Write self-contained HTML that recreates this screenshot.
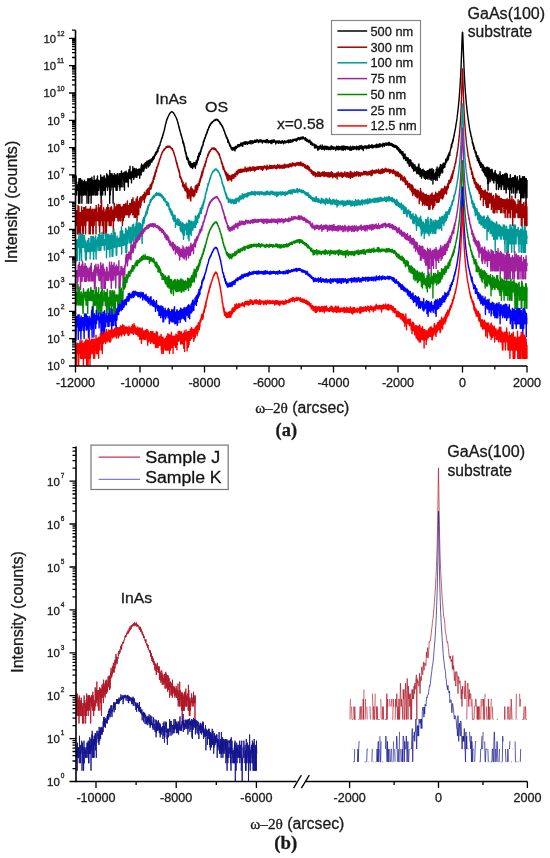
<!DOCTYPE html><html><head><meta charset="utf-8"><title>XRD</title><style>html,body{margin:0;padding:0;background:#fff;}svg{display:block;}text{stroke:#1a1a1a;stroke-width:.3px;}</style></head><body><svg width="550" height="858" viewBox="0 0 550 858">
<rect width="550" height="858" fill="#fff"/>
<defs><clipPath id="ct"><rect x="75.5" y="0" width="452.5" height="366.0"/></clipPath><clipPath id="cbl"><rect x="76.0" y="400" width="220.5" height="381.5"/></clipPath><clipPath id="cbr"><rect x="305.2" y="400" width="223.2" height="381.5"/></clipPath></defs>
<g clip-path="url(#ct)">
<path fill="none" stroke="#000000" stroke-width="1.4" stroke-linejoin="round" d="M75.5 186.9l.1-2.7.1 0 .1 6.1.1 0 .1 0 .1-14.3.1 8.2.1 10.9.1 0 .1-4.8.1 4.8.1-4.8.1 0 .1-3.4.1 0 .1 3.4.1 0 .1-3.4M77.5 184.2l.1 6.1.1-3.4.1 3.4.1-3.4.1 0 .1 0 .1 3.4.1-8.3.1 2.2.1 6.1.1 13 .1-19.1.1 6.1.1-10.1.1-1.6.1 11.7.1 4.8.1-10.9.1 6.1.1-6.1.1 6.1.1 0 .1 13 .1-13 .1 0 .1-6.1.1-5.6.1 5.6.1-5.6.1 5.6M80.7 190.3l.1-6.1.1 0 .1 0 .1 10.9.1 0 .1-14.9.1 10.1.1-6.1.1 0 .1-2.2.1-1.8.1 23.1.1-13 .1-10.1.1 14.9.1-8.2.1 3.4.1 0 .1 0 .1-3.4.1 0 .1 3.4.1-6.1.1 2.7.1 8.2.1 0 .1-13.1.1 0 .1 2.2.1-2.2.1 13.1.1-4.8.1 0 .1-8.3.1 2.2.1 6.1.1-3.4.1-6.7.1 4 .1-2.2.1 4.9.1-4.9.1 2.2.1 0 .1 10.9.1-10.9.1 2.7.1-2.7.1-2.2.1 8.3M85.9 182l.1 8.3.1-6.1.1 0 .1-2.2.1 13.1.1-13.1.1 0 .1 8.3.1 4.8.1-8.2.1 16.4.1-16.4.1 3.4.1-3.4.1-4.9.1 4.9.1 0 .1 3.4.1-11.7.1 11.7.1 0 .1 0 .1-3.4.1 3.4.1-8.3.1 2.2.1 6.1.1 13 .1-19.1.1 6.1.1 0 .1-11.7.1 16.5.1-13.1.1-1.8.1 0 .1 10.1.1-8.3.1 8.3.1 4.8.1-4.8.1-10.1.1 4 .1 2.7.1 3.4.1-11.7.1 0 .1 8.3.1-2.7.1 2.7.1-8.3.1 24.7.1-16.4.1-6.7.1 6.7.1 0 .1 8.2.1-10.9.1 2.7.1-9.7.1 7 .1 0 .1 6.1.1 0 .1-10.1.1 0 .1 6.7.1 0 .1 0 .1 8.2.1-8.2.1 0 .1 8.2.1 0 .1-13.1.1 8.3.1-6.1.1 2.7.1 3.4.1-10.1.1 4 .1-8.2.1 8.2.1-4 .1 10.1.1-6.1.1 2.7.1 3.4.1 0 .1 4.8.1 0 .1-8.2.1 0 .1 8.2.1-4.8.1 4.8.1-14.9.1 0 .1 14.9.1-8.2.1-2.7.1-2.2.1 8.3.1-3.4.1-4.9.1 2.2.1 2.7.1-2.7.1 2.7.1-8.3.1 16.5.1-8.2.1 8.2.1-13.1.1 2.2.1-8.2.1 19.1.1-10.9.1 2.7.1 0 .1 3.4.1-3.4.1-4.9.1 2.2.1-4 .1 4 .1 6.1.1-3.4.1 3.4.1-6.1.1 0 .1 2.7.1-4.9.1 4.9.1-4.9.1 4.9.1 0 .1-2.7.1-2.2.1 4.9.1-6.7.1 6.7.1 0 .1-4.9.1 2.2.1 10.9.1-8.2.1-12 .1 20.2.1-8.2.1-4.9.1 13.1.1 8.2.1-26.1.1 17.9.1-10.9.1 2.7.1 0 .1-4.9.1 2.2.1-2.2.1-1.8.1 10.1.1-6.1.1-7 .1 7 .1 6.1.1 4.8.1-13.1.1 2.2.1-4 .1 0 .1 4 .1-5.6.1 11.7.1-10.1.1 4 .1-4 .1-3 .1 13.1.1-14.3.1 14.3.1-6.1.1-7 .1 7 .1-8.2.1 10.9.1-4.9.1-3.4.1 3.4.1 4.9.1 0 .1-8.3.1 16.5.1-13.1.1 0 .1 2.2.1-5.6.1 1.6.1 1.8.1 2.2.1-4 .1 4 .1-2.2.1 4.9.1-6.7.1 4 .1-10.4.1 3.4.1 0 .1 1.4.1 0 .1 8.3.1-12 .1 7.1.1 8.3.1-8.3.1 2.2.1-8.2.1 2.6.1 1.6.1 4 .1 0 .1-4 .1 6.7.1-2.7.1-4 .1 1.8.1-1.8.1 0 .1 4 .1-2.2.1-3.4.1-3.7.1 12 .1-8.3.1 11.7.1 13 .1-32.9.1 6.8.1 9.7.1-4.9.1-3.4.1 16.5.1-8.2.1-8.3.1 8.3.1-8.3.1-4.8.1 16.5.1-3.4.1-2.7.1-5.6.1 5.6.1 2.7.1-2.7.1-7 .1 7 .1-8.2.1 2.6.1 8.3.1-13.1.1 8.2.1-4.8.1 1.4.1 0 .1 5.6.1 2.7.1-4.9.1 2.2.1-8.2.1 27.3.1-13 .1-10.1.1-4.2.1 2.6.1 0 .1 0 .1 5.6.1-4 .1 6.7.1-4.9.1 4.9.1-13.1.1 8.2.1 4.9.1 0 .1-12 .1 5.3.1 1.8.1-7.1.1 7.1.1-4.8.1 9.7.1-10.9.1 1.2.1 9.7.1-4.9.1-1.8.1-5.3.1 15.4.1-10.1.1 4 .1-8.2.1 4.2.1 1.8.1-4.8.1 3 .1 10.1.1-11.7.1 1.6.1-4.2.1 14.3.1-16.5.1 3.4.1 0 .1 3 .1 4 .1-10.4.1 6.4.1-4.2.1 2.6.1 0 .1 1.6.1-3 .1 7 .1-5.6.1 3.4.1-4.8.1 3 .1 0 .1 0 .1 6.7.1-8.3.1 8.3.1-13.1.1 13.1.1-6.7.1-1.6.1 11.7.1-10.1.1 0 .1-1.6.1-4.8.1 2.2.1-1.1.1-1.1.1 6.4.1 0 .1 0 .1-3 .1 0 .1 9.7.1-6.7.1-9 .1 6 .1-6 .1 7.4.1 0 .1-4.8.1 3.4.1 0 .1-1.2.1 2.6.1 0 .1-4.8.1 3.4.1-3.4.1 0 .1 13.1.1-12 .1 2.3.1 1.4.1-3.7.1 5.3.1-7.3.1 5.7.1-1.4.1-3.4.1 6.4.1-4.2.1 0 .1-2.2.1 4.8.1-2.6.1 14.3.1-16.5.1 8.2.1-10 .1 8.2.1-4.2.1-2.2.1 1.1.1 3.7.1-4.8.1 1.1.1 7.1.1-3.4.1-4.8.1 2.2.1-1.1.1-3.7.1 6 .1 0 .1-1.2.1-1.1.1-2 .1 9.1.1-8.2.1 2.2.1 1.2.1-4.3.1 4.3.1 0 .1 1.4.1 1.6.1 1.8.1-7.1.1 2.3.1 3 .1-4.2.1 2.6.1 3.4.1 4.9.1-6.7.1-6.4.1-.9.1-.9.1 2.9.1-5.2.1 3.2.1.9.1-1.8.1 5.2.1-4.3.1 2 .1 0 .1-4.5.1 8.2.1-1.4.1-11.1.1 9.9.1-3 .1 5.8.1-4.8.1 2.3.1-2.1.1 1 .1.1.1-2.8.1 4 .1.1.1 2.7.1-4.8.1 4.9.1 3.5.1-7.2.1.1.1 1.2.1-5.5.1 3.4.1-3.3.1 3.4.1 1.1.1-4.4.1 5.7.1-1.1.1-2.8.1-6.8.1 3.3.1 7.6.1-1 .1-3.7.1.9.1-.8.1.9.1-2.2.1 6.3.1 1.3.1-10 .1 8.9.1-4.8.1-3.3.1-1.1.1-.5.1 3.7.1 1.5.1-.7.1-3.2.1 4.9.1 0 .1-.7.1 2.7.1-4.8.1 4.9.1-3.4.1-.6.1.7.1 3.5.1-4.1.1-1.2.1-3.2.1 1 .1 6.8.1-5 .1.6.1 5.5.1-6.5.1.6.1 6.1.1-5.4.1 1.4.1-1.3.1 2.9.1-.7.1-4.8.1.1.1 3.4.1-1.2.1 1.3.1-.5.1-2.8.1-.4.1 5.4.1 0 .1-5.7.1 3.2.1 0 .1-.5.1-1 .1 1.7.1 0 .1-3.5.1 4.9.1-5.2.1.5.1 3.6.1 5.2.1-3.8.1 0 .1-4.7.1 1.4.1 2.9.1-4.6.1 4.7.1-3.2.1 3.3.1-1.7.1 0 .1-2.3.1-3.1.1 8 .1-4.8.1-4.9.1 1.6.1 2.2.1-5.2.1 5.4.1 0 .1 2.7.1-3.3.1 1.6.1.9.1-5 .1 2 .1-1.9.1.3.1-1.3.1 2.1.1 1.4.1 0 .1 1.6.1-3.4.1 2 .1-3.9.1 3.3.1 2.7.1-5 .1 4.7.1-2.5.1-1.2.1-3.1.1.3.1.1.1.5.1 3.1.1-3.2.1 1 .1 2.7.1-3.6.1-1.9.1 1.1.1 1 .1 1.1.1.3.1-1.5.1.1.1-2.8.1 1 .1 1.3.1.5.1.3.1 0 .1 1.8.1-2.8.1-.9.1 4.7.1-4.8.1-.2.1-2.1.1 2.8.1 1.3.1-2.5.1 1.4.1.5.1-2.2.1 1.1.1-.8.1-.7.1 1.5.1.8.1.6.1-4.2.1 6.3.1-4.1.1 1.7.1-.4.1 2.1.1-3.4.1-.4.1 1.9.1-2.6.1.1.1-.8.1-1.2.1 2.3.1-.1.1 3.3.1-3.5.1-1.6.1.2.1 3.9.1-2.5.1.9.1-3 .1 2.8.1-.6.1-1.6.1 2.1.1-2.3.1 1 .1-.3.1-.7.1-1.4.1 1.3.1.5.1-1 .1.8.1.6.1 1 .1-2 .1.1.1-.3.1-1.3.1-.1.1.5.1-.9.1-.8.1 3 .1-1.6.1-.4.1-.8.1 1 .1-.5.1-1.2.1 2.5.1-2.9.1 1.8.1.8.1-2.9.1 2.5.1-3 .1 2.7.1-2.2.1-.2.1.5.1-1.3.1 1.4.1-2 .1.5.1-.5.1 0 .1 1.1.1-.5.1.5.1-3.1.1 2.2.1-.1.1-2.5.1 2.4.1-1.7.1.9.1-1.6.1 1.9.1-.4.1-.8.1.9.1-2.3.1.3.1-.4.1.5.1.3.1-2.2.1 1.2.1.1.1-.9.1-.6.1.1.1-.8.1 2.8.1-1.5.1-2.5.1 1.2.1-.6.1-.1.1-.2.1-.4.1.4.1.5.1-1.5.1.1.1-1.6.1.4.1.5.1-.4.1-.2.1-.2.1-.8.1 0 .1.5.1-.8.1 0 .1-1.6.1 0 .1 0 .1-.9.1-.2.1 0 .1-.3.1 0 .1.1.1-1.4.1-.2.1.2.1-1 .1-.5.1.4.1 0 .1-1.3.1.3.1-.1.1 0 .1-1 .1.1.1.5.1-1.6.1-.7.1.6.1-1.1.1-.5.1 1.1.1-1.3.1-.2.1-.6.1-.3.1-1 .1 1 .1-1.2.1-.3.1-.2.1 0 .1-.3.1-.5.1-1 .1 0 .1.3.1-1.5.1.2.1-.7.1-.7.1-.3.1 0 .1-.8.1-.6.1-.4.1-.3.1-.6.1-.2.1-.7.1 0 .1-.8.1 0 .1-.5.1-.4.1-.4.1-.4.1-.7.1-.5.1.2.1.2.2-1 .4-.9.4-.9.4-.9.4-.8.4-.8.4-.7.4-.6.4-.6.4-.4.4-.4.4-.2.4 0 .4.1.4.3.4.3.4.5.4.5.4.7.4.6.4.8.4.8.4.8.4.8.4.9.1.5.1 0 .1 0 .1.7.1 0 .1.4.1.4.1.3.1.7.1.2.1.2.1.3.1 1 .1.2.1.1.1 0 .1 1.1.1.4.1-.1.1 1.1.1.4.1-.4.1.4.1.7.1.5.1-.2.1 1.1.1.5.1-.5.1 1.2.1.5.1-.1.1-.1.1 1.1.1-.2.1.7.1.8.1-.3.1.8.1 0 .1.2.1.5.1 1.1.1-1 .1.5.1.5.1 1 .1-.2.1.3.1.5.1 1 .1 0 .1.3.1.4.1.6.1-.4.1 1 .1.4.1-.1.1.7.1 2.3.1-2.3.1 1.5.1-.9.1 1.9.1-.9.1.1.1 1.3.1-.7.1 1.6.1.8.1-1.8.1 1.2.1 1.3.1-.6.1 1.7.1-.4.1.7.1.9.1-1.6.1 1.2.1 3.1.1-1.6.1.1.1.8.1 1.3.1-.7.1 2.3.1.1.1-.9.1 0 .1 1.9.1-2 .1 1.2.1.5.1 2.2.1.9.1-2.1.1 1.5.1 2.6.1-2.8.1-.2.1 2.8.1-2 .1.7.1.7.1.5.1.7.1-1.8.1 1.9.1.6.1-.3.1-.8.1-.6.1-.4.1 4.5.1-.6.1.7.1-.8.1 1.2.1-2.9.1 3.5.1.8.1-1.5.1 1 .1-1.7.1-.7.1 3.1.1.7.1-.8.1-1.6.1 2.6.1-2.8.1 3 .1.5.1-1.8.1-1.6.1-1.2.1 2.7.1-1.6.1 4.5.1-2.5.1-.5.1 3.3.1-.1.1-4.1.1 1.1.1 1.8.1 0 .1-2.4.1 1.2.1 2.3.1-2.8.1.7.1 2 .1-1.5.1-.5.1.2.1 3.1.1-5.1.1 1.7.1-1 .1.4.1 1.1.1-.6.1 0 .1-.6.1-1.2.1 2.8.1.6.1-2.5.1-1.8.1 3.1.1-1.8.1 2.9.1-3.2.1 2.3.1-1.9.1 1.5.1-2.9.1.6.1 3.1.1-.8.1-1.6.1 1.2.1 0 .1 3.4.1-4 .1-1.7.1.7.1 1.2.1-1.9.1 1.6.1-.2.1-3.2.1 2.6.1-2.2.1.8.1 1.6.1 1.3.1-4.4.1 2.3.1-.9.1 1.1.1-3.1.1-.9.1 3 .1-2.9.1 1.2.1-3.9.1 1.6.1 2.5.1-2 .1-.8.1-1.2.1.4.1.2.1 2.1.1-4.3.1 2.6.1-.6.1-3.6.1 1.7.1 0 .1-.1.1 1.6.1-1.2.1-.1.1-1.1.1.6.1-1.2.1-1.1.1-.4.1 1.7.1-2 .1.6.1 2 .1-2.5.1-.6.1-.8.1-.2.1.8.1.6.1-2.4.1.3.1-.1.1-1.2.1-.8.1 1 .1.2.1.3.1-2 .1.7.1-1.5.1 0 .1-.2.1.2.1-.8.1-.4.1 1.1.1-.2.1-1.6.1-.1.1.9.1-1.5.1-.8.1-1.6.1.8.1.9.1-2.1.1.4.1.4.1-.7.1-.1.1-1.1.1-.4.1.9.1-1.9.1.8.1-1.3.1.4.1-.1.1.3.1-.1.1-.1.1-.8.1-.2.1-.3.1-1.5.1 1.1.1-.2.1-1.4.1.3.1-.1.1-.3.1-.9.1.7.1-.1.1-.8.1-1.1.1.8.1-.9.1.1.1-.7.1 1 .1-1.4.1.1.1-1.5.1.7.1-.7.1.7.1 0 .1-1.4.1.2.1-.3.1-.6.1.5.1-.8.1-.2.1-.1.1-.6.1-.5.1.9.1-1.4.1 1 .1-.7.1-.7.1.1.1.1.1-.4.1-.8.1 0 .1-.3.1.8.1-1.4.1.6.1.3.1-1 .1-.1.1.3.1-.4.1-.6.1.5.1-.6.1.2.1.4.1-.4.1 0 .1-.4.1-.1.1.1.1-.8.1.2.1.1.1-.7.1.4.1.4.1-.7.1-.1.1.3.1-.4.1.3.1-.3.1-.1.1-.3.1.1.1-.3.1.3.1-.3.1 0 .1.1.1-.4.1-.5.1.5.1-.3.1.2.1-.3.1.1.1-.4.1.1.1.3.1-.2.1-.1.1.2.1.1.1-.7.1.1.1-.4.1.8.1-.7.1.3.1-.2.1.2.1-.1.1-.1.1.2.1-.4.1.3.1.1.1.3.1-.6.1.3.1.1.1.1.1-.2.1-.1.1-.3.1.2.1.9.1-.7.1.5.1-.5.1 1 .1-.8.1.5.1-.1.1.5.1-.1.1 0 .1.5.1.3.1-.2.1 0 .1.1.1.4.1-.4.1.6.1-.5.1 1 .1-.6.1.3.1.6.1-.7.1.4.1 1.3.1-.9.1.1.1.1.1.3.1.4.1.3.1-.3.1.6.1 0 .1-.4.1 1.2.1-.4.1-.3.1.3.1.2.1.3.1.3.1.2.1-.5.1.6.1.8.1-.1.1-.3.1.3.1.8.1-.3.1-.2.1 1.2.1-.3.1.5.1.1.1.2.1.6.1-.5.1 1.3.1-.2.1-.1.1.6.1.1.1.5.1-.2.1.6.1.6.1-.5.1.9.1.5.1-.2.1 1 .1-.1.1-.1.1.8.1-.1.1.8.1-.5.1.2.1 1.6.1 0 .1-.8.1.1.1.8.1.5.1 1 .1-1 .1.4.1 0 .1.1.1 1 .1-1.2.1 1.4.1-.1.1-.4.1.4.1.9.1-.5.1.4.1 2.9.1-2 .1.3.1 0 .1-.3.1 1.3.1-1.2.1 2.4.1-.1.1-.3.1.7.1-1 .1 1 .1-.1.1 1 .1.1.1-.4.1 1.4.1-.6.1 1.2.1-1.6.1.4.1 1.1.1-.2.1 1.1.1.2.1-1.5.1 1 .1.8.1-.6.1-.3.1 1.9.1-.4.1-.2.1 1.5.1-1.4.1 1.2.1-.5.1.9.1-1.4.1 2.1.1-.9.1-1.1.1 1 .1 0 .1-.9.1.8.1-.7.1 1.5.1.6.1.2.1-1.9.1 1.4.1-.8.1-1.1.1.3.1 1.2.1-.5.1 0 .1-.4.1 0 .1-.1.1.4.1 1 .1-1.6.1-1 .1.4.1 1 .1-.5.1-.2.1 1.8.1-2.2.1 3.5.1-3.3.1.8.1 0 .1-.2.1.1.1-.6.1-.4.1-1.2.1 2.6.1-.8.1-.2.1-.3.1.9.1-.9.1.1.1-.1.1-.9.1-.1.1.3.1.9.1-1.4.1 1.3.1-.1.1-1 .1.5.1-.6.1-1.6.1.3.1.5.1.7.1-.3.1-.4.1 1 .1-1.5.1 1.1.1-.5.1-.6.1.6.1.7.1.5.1-1 .1.6.1-.9.1-1 .1.3.1.5.1.1.1-.5.1.6.1-.6.1.3.1.5.1-.7.1.5.1-.7.1.1.1-.6.1-1.3.1 2.8.1-.5.1.3.1-1.3.1-.3.1.9.1-.6.1.9.1-.9.1-.2.1-.7.1 1.7.1.3.1-1.7.1.4.1-1.3.1 1.7.1.8.1-.8.1 1.9.1-2 .1-.6.1 0 .1.3.1-.1.1-.3.1-.1.1-.7.1.5.1.5.1-1.8.1 1.3.1.5.1-.4.1-.5.1.7.1-.3.1-1.4.1 2.2.1-.3.1-.8.1-.6.1-.4.1.7.1-.9.1 2.5.1-.7.1-1.9.1 1.6.1.2.1-.1.1-.4.1-1.4.1 1.2.1-.7.1 1 .1 0 .1-.5.1.6.1-.2.1-.6.1.1.1 1.6.1-1.8.1.2.1.5.1 1.1.1-2.1.1 1.2.1 0 .1-1.3.1.5.1.2.1-.4.1.5.1.5.1-.6.1-.2.1-.2.1 0 .1.3.1-.8.1 1.7.1-1.4.1-.5.1.1.1.7.1.6.1 0 .1-1.3.1-.8.1.5.1 1.3.1.2.1-1.5.1-.4.1.5.1.9.1.9.1-1.4.1.5.1 1.6.1-3.3.1 2 .1-.9.1-.6.1.2.1-.2.1.9.1-.9.1.1.1.9.1-.5.1-1 .1.2.1 1.8.1-.3.1 1.1.1-2.3.1.9.1.3.1-.4.1-.5.1-.1.1.9.1.5.1-.8.1-.9.1 1.2.1-1 .1.9.1-1 .1 0 .1-.2.1-.5.1.9.1-1.1.1.9.1 1 .1-1.6.1 1 .1.7.1-2 .1 0 .1.8.1-.7.1.2.1.3.1-.3.1.2.1 1.4.1-1.4.1 0 .1.8.1-.2.1-.5.1.1.1 0 .1-.9.1 1.6.1-2.3.1 1.3.1.3.1-.1.1 0 .1.1.1-1 .1 1.3.1-.8.1-.1.1.3.1.3.1.2.1.7.1-.9.1 1.6.1-1.3.1 1.1.1-2 .1.3.1.2.1-.6.1.7.1.1.1-.8.1.1.1 1.2.1-1.3.1 1.4.1-.1.1-1.1.1.4.1 0 .1 1 .1-.2.1-.7.1-1.1.1.5.1.8.1-.2.1-.1.1.3.1.7.1-1.6.1 1 .1-1.1.1.3.1-.5.1.9.1-.1.1.5.1-.6.1 1.5.1-.6.1-.6.1 2.1.1-1.9.1-.1.1.5.1.2.1-.9.1 0 .1-.4.1 1.4.1-.6.1-.6.1-.1.1.2.1-.1.1.5.1.7.1-.2.1-.9.1.8.1 0 .1-.5.1.7.1-1.4.1.3.1 1 .1-.3.1 1 .1-1.2.1.2.1 0 .1.4.1-1.1.1-.4.1 1.1.1.1.1-.7.1 1 .1 1 .1 0 .1-1.5.1.7.1-.8.1-.7.1-.7.1 1 .1-.3.1 1.2.1-.5.1.3.1.2.1-2 .1 2.3.1-.8.1-.5.1.8.1.6.1.6.1-1.9.1 1.3.1-.1.1.2.1-.9.1.4.1 1.1.1-1.6.1-.4.1.2.1.2.1.3.1.4.1.5.1-.2.1.1.1-1.1.1-.3.1.3.1.3.1-.2.1.1.1.2.1-.6.1-.2.1 0 .1 2.3.1-.2.1-1.9.1.5.1 0 .1.3.1.3.1-.1.1-1.9.1 1.1.1.8.1 1.6.1-2.3.1.6.1-.6.1-.7.1-.3.1 1.5.1.7.1-.9.1.6.1-.6.1-.4.1.7.1-.4.1-.3.1-1.2.1 1.2.1.4.1.7.1-.7.1.3.1-.7.1.6.1-1.1.1.8.1-.6.1-.9.1 1.7.1.2.1-.5.1-.2.1.7.1-.6.1-.2.1.5.1.4.1.1.1-.7.1 0 .1 2.6.1-1.6.1-.4.1 1.5.1-2.5.1-.1.1 1.8.1-1.2.1.5.1-.1.1 0 .1-.5.1-.3.1.8.1.6.1-1.2.1.1.1.8.1-.1.1-.2.1 0 .1.3.1-1.2.1.8.1.7.1-.6.1-.3.1 1.3.1.4.1-1.3.1 1 .1-1.1.1.4.1-.3.1-1.1.1 1 .1-1.1.1.6.1 1.3.1-.3.1-.4.1-.1.1.2.1.3.1 0 .1.3.1-.8.1-.4.1.9.1-.5.1 1.2.1-.5.1-.7.1-.2.1-.4.1 2.1.1-.8.1.2.1-.3.1-1.3.1.1.1.9.1-.9.1.8.1-.1.1-.4.1.3.1-.2.1-1.1.1.6.1 1.4.1-1.1.1 1.1.1-1.3.1.6.1.9.1.2.1.7.1-1.6.1.3.1-.2.1-.3.1-.2.1-.1.1.5.1-.2.1-.6.1-.1.1-.4.1 1.1.1 1.1.1-.4.1-1.7.1.1.1 1.1.1.7.1-1.6.1 1 .1-.9.1.1.1.4.1.5.1.2.1.3.1-.2.1-1.2.1-.3.1 1.1.1-.5.1 0 .1-.5.1.5.1-.8.1.1.1 1 .1-.7.1.2.1.2.1.4.1-1.2.1.6.1.9.1-1.6.1.2.1.7.1-1.7.1 1 .1 1.2.1.5.1-1.6.1.8.1.7.1-1.4.1-.8.1 1.1.1-.6.1-.3.1.5.1.6.1-1 .1-.5.1 1.2.1-.2.1.9.1-.1.1-2.3.1 2 .1-.6.1.4.1.9.1-1 .1-1 .1 1.1.1-.9.1 1.1.1-1.6.1 1.9.1-1.2.1-.1.1 1.1.1-1.4.1-.3.1.8.1-.4.1.8.1-.7.1-.3.1.7.1 0 .1.4.1.4.1-1.4.1-.1.1-1.2.1.9.1.5.1.1.1.3.1-1 .1.2.1-.5.1 1.1.1-.2.1-.3.1-.8.1.8.1-.7.1.2.1.7.1-1.1.1.8.1-.3.1-.5.1-.1.1 1.1.1-.4.1-.4.1-.3.1 1 .1.1.1 0 .1-.4.1-.6.1.3.1-.4.1 1.9.1-1 .1-.2.1 1 .1-.4.1-1.8.1 1.4.1.6.1-.6.1 0 .1-1.3.1 1 .1-1.2.1.1.1 0 .1-.5.1 1.4.1-1.3.1 1.2.1-2 .1.4.1.5.1.6.1-.3.1-.2.1-.6.1.8.1.4.1-.5.1-.3.1.3.1.4.1.4.1.3.1-1.8.1 0 .1-.1.1.7.1.9.1-1.7.1.3.1.3.1-.3.1-.2.1.9.1.2.1.1.1-1.9.1 1.1.1.8.1-1.6.1.5.1 1.1.1-1.4.1 1 .1-.8.1-.2.1-.3.1 1.2.1-.3.1-.4.1.1.1-.8.1.4.1 1.4.1-.2.1-.8.1-.7.1-.5.1.6.1-.1.1.2.1.7.1-.8.1.5.1.6.1.2.1-.9.1 1.2.1-.9.1.6.1-.5.1 0 .1.4.1-.3.1.3.1-.1.1.8.1-.6.1 1.3.1-1.7.1 2.2.1-1.7.1-.9.1 1.7.1 0 .1-.3.1.7.1-.6.1-.4.1.1.1 1.9.1-1.1.1-.7.1.4.1-.3.1.6.1-.9.1.8.1 0 .1 1.9.1-1.4.1-.7.1.7.1 1.2.1-.1.1-.9.1.7.1-1 .1.1.1.1.1 1.4.1-.9.1-.3.1.7.1-.3.1 1.6.1-1.8.1.3.1 0 .1 1.1.1-.9.1.1.1.3.1.1.1.2.1-.8.1-1.1.1 1.6.1.6.1-.5.1.2.1 1.3.1-1.5.1 2.7.1-2.8.1.9.1.2.1 0 .1.9.1-1 .1.9.1-.1.1-1.2.1 1.6.1-1.4.1.6.1-.5.1 2.1.1.2.1.6.1-1.3.1-.5.1.5.1-.2.1.1.1.5.1-.9.1.6.1.3.1.1.1.3.1-.2.1-.3.1.6.1-.8.1.7.1.6.1-.5.1-.9.1 1.4.1.6.1-.9.1 2.5.1-1.8.1 1.5.1.7.1-3.6.1 1.9.1-1.4.1.8.1 2.1.1-1.5.1-1.5.1 1.4.1.2.1 0 .1.8.1.1.1-.6.1-.5.1 1.1.1.3.1-.5.1-2 .1 2 .1-.1.1-.7.1.5.1.4.1.4.1-.5.1.9.1-.7.1.6.1 2.1.1-2.3.1.8.1-.7.1-.4.1-1 .1.7.1 0 .1 1 .1 1.5.1-2.3.1.3.1-1.1.1 1.7.1.6.1-1.2.1.5.1-.5.1-1.2.1 2.3.1-1.2.1.1.1-.1.1.5.1 0 .1-.4.1-2.5.1 1 .1 2.4.1-1.6.1.4.1 1.1.1-.6.1-.2.1-.2.1 1.2.1-2 .1 1.8.1.8.1-2.1.1.9.1 1 .1-.8.1-1.5.1.3.1-2.1.1 2.1.1-.1.1-.7.1 2.4.1-1.9.1 2.2.1-1.2.1-.1.1-.4.1-.4.1.5.1-.7.1-.2.1.7.1 1 .1-.5.1 1.5.1-.2.1-1.7.1 1.6.1-1.2.1 2.3.1-2 .1-1.8.1 2 .1.4.1-.7.1-.7.1-.8.1 1.8.1.2.1-1.9.1 1.6.1 0 .1.9.1-2 .1.8.1-.2.1.3.1-1.8.1 1.3.1-.5.1.5.1.8.1 1.3.1-1.1.1-.5.1-1 .1 2.2.1-.8.1-.5.1 1 .1-.9.1-.9.1-.6.1.6.1 1.1.1-1 .1 1.8.1.6.1-.8.1-1 .1 1.4.1-.4.1-1.5.1.5.1 1.8.1-.6.1-1.1.1.8.1-1.2.1 1.3.1-.3.1-.7.1.4.1.7.1-.1.1-1.5.1 2.4.1-2.4.1-.1.1.4.1 2.1.1-2.7.1.8.1-.1.1.3.1 0 .1 1.1.1-3.2.1 3.3.1-.2.1.2.1-2.5.1 2.5.1-1.9.1 1.2.1.7.1-2 .1 2 .1-1 .1.6.1-.8.1-1.4.1 2.3.1-1.9.1 0 .1 1.5.1-.3.1-.7.1.3.1 1.7.1-2.1.1.4.1 0 .1 1.5.1-1 .1-1.1.1 1.7.1-.7.1.3.1-.3.1.1.1.7.1-1.1.1.7.1-1.2.1.8.1-.4.1.8.1-.1.1.2.1-.9.1.4.1-.2.1 2.6.1-2.4.1.9.1-.3.1-.2.1-1.2.1 1.9.1-3.1.1.7.1.3.1.8.1 1.1.1 0 .1-2 .1-.6.1 2.4.1-.1.1-.6.1.1.1-.8.1-.2.1 2.4.1-1.2.1-1 .1.7.1-1.6.1 1.9.1-1.9.1 1.2.1-1 .1 3.1.1-1.3.1 0 .1-.9.1 1.1.1.8.1-1.6.1-.7.1.2.1.3.1-1 .1-.3.1 1 .1 1.4.1-.8.1-.2.1 1.2.1-.9.1.2.1-.4.1-.2.1 0 .1.2.1.2.1-.1.1 1.9.1-3.6.1 1.2.1-.2.1.5.1.3.1.6.1-1.3.1 1.6.1.7.1-1.8.1.5.1-.5.1 1.3.1-3.3.1 2.9.1-1.2.1-.7.1-.4.1 1.5.1 2.2.1-3 .1-.1.1.6.1.9.1-2.6.1 1 .1 1.1.1-.4.1-.3.1.5.1 1.1.1-.3.1.6.1-1.3.1-1.9.1 1.8.1-.6.1.6.1-1.5.1 3.6.1-3.1.1-.1.1.8.1-.4.1 1 .1.2.1-1.8.1.8.1 1.3.1-.4.1-.3.1.2.1.2.1.3.1-1.8.1 1.1.1-1.6.1 1.4.1-.4.1-.2.1.6.1-.1.1 1.4.1-1.4.1-1 .1 1.4.1-.5.1 1.5.1.1.1-.5.1.1.1-1.1.1.5.1 0 .1-1 .1.9.1.9.1-.9.1 0 .1-1.2.1 1.5.1-1.3.1 1 .1-.7.1 2.8.1-2.1.1 1.4.1-.8.1-.3.1-1.3.1 3 .1-3.2.1 1 .1-1.7.1 1.9.1-1 .1.5.1.2.1.7.1-.5.1.5.1 1.7.1-1.4.1 0 .1 0 .1-.5.1 0 .1-.6.1.7.1-.3.1.7.1-2.2.1 2.2.1-.5.1-2.1.1 3.2.1-1.6.1 1 .1.2.1-.3.1.3.1-1.7.1.9.1-.1.1.3.1-1.4.1 1.4.1-1.6.1 2.2.1-.7.1-.4.1 1 .1-.5.1-1.3.1-.2.1 0 .1 1.8.1-.6.1.7.1-.8.1-.9.1.6.1-.1.1.7.1.7.1-.9.1-.7.1-.9.1 1.4.1.2.1-.7.1-1.1.1 1.6.1 1.8.1-2 .1-.6.1 2.1.1-1.3.1.9.1-1.6.1.7.1-.6.1.3.1 1.1.1-1.5.1-.2.1.7.1 0 .1.2.1.2.1-1.9.1 2.1.1-1 .1 1.7.1.8.1-.9.1-1.4.1.5.1-.8.1 0 .1.9.1-1 .1 2.2.1-1.5.1 1.1.1-3.3.1 1 .1-.1.1-.2.1.2.1-.2.1 1.4.1.2.1.5.1-1 .1-.5.1.9.1.6.1-3 .1 3.1.1-.4.1-1 .1 1.6.1.2.1-1.4.1-.8.1 2.4.1-1.2.1-1.2.1.2.1 1.7.1-1.8.1 1.5.1-2 .1.8.1 0 .1-.1.1-.1.1.8.1 2.9.1-3.5.1 1.6.1-1.7.1-.3.1-.3.1.8.1.9.1-.7.1.7.1-.3.1-1 .1.9.1-1.2.1.3.1.6.1-.7.1-1.1.1 1.8.1.5.1-.8.1.9.1-1.1.1-.4.1-.3.1 1.6.1-1.4.1 1.1.1-.3.1.2.1 0 .1.4.1-.7.1 1.6.1-2.5.1-.1.1 1.3.1-1.3.1-.1.1 2.1.1-1.1.1.4.1-.4.1-.8.1.3.1 1.3.1-.3.1 0 .1-1.6.1.7.1.7.1-1.2.1 1.6.1-.8.1-.8.1 1.8.1.5.1-3.7.1 2.9.1-.4.1.1.1-.1.1.4.1-.2.1-.6.1.3.1.4.1-.4.1.1.1-.7.1-.6.1-.1.1.3.1.7.1.1.1.3.1 0 .1-1.6.1 1.4.1-.8.1.3.1.4.1-1.9.1 1.6.1.3.1-.2.1-.5.1-1.6.1 3.5.1-2 .1.3.1-.6.1 1.8.1-1.1.1 1 .1-1.1.1 1.1.1-.3.1-1.8.1 1.1.1-.9.1.6.1.3.1 1.1.1-.7.1-.5.1.8.1-.7.1-.8.1.4.1.3.1-.3.1-.2.1.8.1-.8.1-.5.1 1.2.1-.5.1-.6.1-.6.1 2 .1.1.1-1 .1-.1.1-.7.1.6.1.5.1-.7.1.2.1 1.8.1-2 .1-.2.1.8.1-.3.1-1.6.1 1.3.1-1.3.1 1.3.1 1.5.1-.2.1.1.1-2.4.1.4.1 1.2.1.4.1-1.1.1-.1.1 2 .1-1.4.1-.7.1 0 .1.5.1.7.1-1.7.1.2.1-.2.1 2.2.1-1.8.1-.4.1.1.1-1.1.1 2.4.1-1.5.1.1.1.3.1.7.1-.6.1 1.5.1-1.3.1-1.1.1.2.1.9.1 1.1.1-1.5.1 1.1.1-.5.1-.4.1-1.2.1 1 .1.4.1 0 .1-.9.1 1.4.1-.7.1-.1.1.2.1-.2.1-.1.1.3.1 1 .1-1.6.1 2 .1-1.9.1.1.1 2 .1-1.4.1-1.6.1-.8.1 2 .1-.3.1.3.1-.8.1-.3.1.5.1.7.1-.8.1 1 .1-1.5.1 1.6.1-2.1.1 2.2.1-.7.1 1.3.1-1.1.1-1 .1.2.1.3.1.8.1-.5.1-.6.1-1 .1.1.1.2.1 1.1.1-1.2.1-.1.1.4.1 1 .1-.9.1-.2.1.1.1-.7.1 1.1.1-1 .1 1.5.1.6.1-.1.1-.6.1-.3.1.2.1-.5.1.1.1.1.1-.1.1.5.1-.5.1-.3.1-.8.1-.4.1 1 .1 1.4.1-.2.1-.9.1-.9.1 1.9.1-.7.1 1.2.1-.6.1-2.6.1.5.1.9.1 1.5.1-2.2.1.9.1.1.1-.7.1 1.5.1-.3.1-.1.1.6.1-.6.1.2.1-.2.1.8.1-1.6.1 1.9.1-1.7.1.7.1-.6.1 1.4.1-1.2.1-.1.1 0 .1 1.3.1-1.7.1.6.1.3.1-.5.1.9.1.2.1 1.2.1-1.4.1.9.1-1.6.1 1 .1.3.1-.3.1.5.1-.3.1.7.1.7.1-1.4.1-.3.1-.3.1.8.1 0 .1-.2.1 1.8.1-.6.1-.3.1-.7.1.6.1.9.1-.8.1.7.1-1.4.1.9.1 1 .1-.5.1-.4.1.4.1-.5.1-.9.1 1.4.1-.4.1-1 .1 1.8.1-.6.1.2.1-.5.1.8.1 0 .1 1.5.1-2.6.1 1.3.1-.7.1 1.8.1.2.1-1.7.1-.6.1 1.3.1 1.8.1-1.3.1-.4.1 1.9.1-.4.1-.2.1-1.3.1 1.5.1-1.9.1 1 .1.7.1.3.1 1.5.1.1.1-.4.1 0 .1-2.4.1 1.8.1.4.1.6.1-.5.1.8.1-.3.1 1.5.1-1.8.1 1.1.1-.8.1.3.1.3.1.4.1-2.3.1 2.9.1-1.6.1 1.6.1-.3.1 1.2.1-2.9.1 2.9.1-2 .1.5.1 1 .1-.6.1.6.1-.8.1 1.1.1-.7.1 2.4.1-3.4.1 1.6.1-.3.1 1.1.1 1.5.1-1.9.1.1.1.1.1.6.1-2.6.1 3.3.1-.3.1-.5.1 3.7.1-4.1.1 4.8.1-4.2.1.6.1 1.3.1 1.8.1-2.7.1 0 .1-.2.1 1.4.1.7.1-3.2.1 2.6.1-2.2.1 2.5.1.3.1-3.4.1 5.1.1-2 .1.9.1 2.4.1-3 .1.3.1.9.1.3.1 1.3.1-2.2.1-.9.1.5.1 1.3.1-.3.1 1.4.1-1.8.1-.8.1.3.1 1.7.1 1 .1-.8.1 3.5.1-3.7.1-.7.1 3.4.1-3.9.1 1.8.1 1.5.1-.3.1-.2.1-3.1.1 2.3.1 2.4.1.5.1.3.1-3.4.1 3.9.1-2 .1.2.1 3.2.1 1 .1-2.1.1-4 .1 3.4.1 1.4.1-3.1.1 4.4.1-3.7.1-.5.1-2.3.1 3.6.1-.5.1.2.1 0 .1 1.9.1-1.1.1-3.7.1 4.2.1-3.8.1 4.1.1-.8.1 1.4.1-2.9.1 1.5.1 1.1.1-.3.1 2.6.1-2 .1-1.7.1 3.3.1-1.9.1-1.1.1 4.5.1-5 .1 2.5.1-2.8.1 3.5.1-3.5.1 2.8.1-1.5.1 3.6.1-1.4.1-1 .1 4.5.1 1 .1-3.8.1-2.6.1 4.5.1 1.4.1-3.7.1 3.2.1-4.8.1 2.7.1-3 .1 5.6.1-2.9.1-1.8.1 3.8.1-4.7.1 3 .1 1.7.1-2.8.1 3.7.1-1.8.1-.4.1-.7.1-.8.1 2.3.1-1.2.1 3.1.1-1.4.1-2 .1 3.4.1-.5.1 2.1.1-3.9.1 1.8.1 3.2.1-2.7.1-1.4.1 1.4.1-3.8.1 3.3.1-1.4.1.9.1 0 .1 2 .1 1.1.1-4.4.1 2.8.1-.5.1-1.4.1-.5.1-4.5.1 8 .1-1.6.1-3.4.1-3.8.1 4.5.1 6.1.1-2.9.1-1.5.1.5.1 2.6.1.6.1-5.4.1 2.2.1.5.1-1 .1 4.4.1 2.1.1-8.2.1 5.4.1-2.2.1-1.5.1 2.6.1 1.8.1-1.3.1-2.1.1 1.6.1 0 .1-.6.1 2.4.1-1.3.1 5.1.1-1.7.1-3.9.1-2.6.1-.4.1 1.9.1-1.5.1 2 .1 0 .1 0 .1-.5.1-.5.1 1 .1-1.5.1 3.2.1-4.6.1 6.7.1 0 .1 0 .1-2.7.1 1.3.1 1.4.1-2.1.1-1.1.1 4.8.1-.9.1-1.4.1 3.1.1-7.7.1 4.6.1 2.3.1-3.7.1 0 .1 1.4.1-2.5.1-1.1.1 3.6.1-1.4.1.7.1 4.8.1-2.7.1-.7.1 2.4.1-3.1.1-2 .1-1.6.1 5 .1 1.7.1-5.6.1-1.1.1 2.9.1 3 .1.8.1-5.1.1-2.1.1 1.6.1-2.1.1 3.2.1 2.1.1-2.7.1-2.1.1 3.4.1 0 .1-1.3.1 6.1.1-8.7.1 2.1.1 3.9.1-5.5.1-.5.1 1 .1 2.9.1-1.3.1-2.1.1 0 .1 2.1.1 3.4.1.9.1-8.3.1 4.6.1-2.7.1 6.4.1-3 .1 4.8.1-8.7.1 5.3.1-4.8.1 4.1.1-3.1.1 4.5.1-7.4.1 9.1.1-3.1.1 0 .1.7.1.7.1 3.7.1-7.6.1-1.1.1 5 .1 1.7.1-.8.1 0 .1-5.9.1-3.2.1 2.2.1 6 .1 1.7.1-2.4.1 2.4.1-2.4.1-3.2.1 0 .1 11.4.1-10.3.1.7.1-2.9.1 2.2.1 3.7.1-2.3.1-5.5.1 8.6.1-3.1.1 3.1.1-2.4.1 3.4.1-4.1.1 4.1.1-4.1.1 1.4.1-.7.1 0 .1 1.6.1-1.6.1-2.1.1.7.1 0 .1.7.1-2 .1 1.3.1 5.8.1-8.2.1 7.2.1-2.7.1-2.8.1.7.1-3.4.1-1.9.1 5.3.1-3.9.1 6.9.1-3.7.1-1.7.1 5.4.1-5.4.1-5.2.1 13.4.1-9.2.1.5.1 0 .1 1.1.1 2.5.1-2.5.1-1.6.1 1.6.1-1.1.1-1.9.1 2.4.1-1 .1 4.1.1-2.5.1-2.1.1 3.9.1-6.5.1 6.5.1-4.4.1 7.4.1-7.4.1-1.3.1-1.5.1 3.3.1-1.4.1-1.5.1 4.4.1 3.1.1-4.6.1-2.2.1 5.4.1-9.4.1 6.7.1-1 .1 1.5.1-4.7.1 6.3.1-2.6.1-.9.1 1.9.1-1.9.1-2.8.1 1.9.1 1.3.1-2.8.1-1.7.1-.6.1 6.1.1-2.3.1-2.9.1-.9.1 3 .1 3.6.1 1.1.1-6.1.1 1.4.1-.7.1-.4.1 1.5.1-5.3.1 1.3.1-.2.1 3.5.1-2.7.1 2.7.1-4.6.1.3.1 1.9.1.6.1-1.5.1-1 .1 2.2.1-1.7.1-.5.1.5.1 3.4.1-3.1.1-1.1.1 1.3.1-1.5.1 1.5.1-.5.1.3.1-3.6.1-1.3.1 3.6.1 0 .1-.5.1-1.8.1 1.1.1-2.3.1 2.5.1-.2.1-1.9.1 2.1.1-3 .1.2.1.7.1-2.1.1-.4.1 2.9.1-1.5.1-.8.1 0 .1-1.7.1.6.1.3.1 2.9.1-5.1.1 1.9.1-1 .1.4.1 2.7.1-3.9.1-.8.1-.4.1.2.1.9.1.1.1-2.5.1.5.1.1.1 0 .1-.8.1-.2.1 3.4.1-3.3.1-.4.1-.8.1 0 .1.1.1-.9.1-.9.1.3.1-.8.1-1.1.1.7.1-1 .1-.5.1.3.1-2.7.1 2.8.1-.1.1-2.2.1 2.1.1-1.5.1-2.3.1.4.1-.5.1.2.1-1.1.1 1.2.1-2.2.1.6.1.3.1-2.4.1 1.2.1-.9.1-.8.1 1.6.1-1.9.1-.8.1-.4.1-.2.1 0 .1-.9.1-.9.1.1.1-1.2.1.9.1-1 .1-.8.1-1.2.1.1.1-.7.1-.4.1-.1.1-1.1.1-.7.1.1.1-.3.1-1.2.1-.1.1-.8.1-.8.1-.7.1-.2.1-1.1.1-.9.1-.5.1-.3.1-1 .1-.4.1-.3.1-.7.1-1 .1-.6.1-.9.1-.6.1-.9.1-1 .1-.8.1-.5.4-3.5.4-3.7.4-4 .4-4.4.4-5 .1-1.3.1-1.4.1-1.4.1-1.5.1-1.5.1-1.6.1-1.6.1-1.7.1-1.7.1-1.8.1-1.9.1-2 .1-2 .1-2.1.1-2.3.1-2.3.1-2.4.1-2.5.1-2.7.1-2.7.1-2.8.1-2.9.1-3 .1-3 .1-2.8.1-2.7.1-2.4.1-1.9.1-1.2.1-.4 0 0 .1.4.1 1.2.1 1.9.1 2.4.1 2.7.1 2.8.1 3 .1 3 .1 2.9.1 2.8.1 2.7.1 2.7.1 2.5.1 2.4.1 2.3.1 2.3.1 2.1.1 2 .1 2 .1 1.9.1 1.8.1 1.7.1 1.7.1 1.6.1 1.6.1 1.5.1 1.5.1 1.4.1 1.4.1 1.3.3 3.8.4 4.5.4 4.2.4 3.7.4 3.5.1 1.1.1.5.1.8.1.7.1.5.1.9.1.5.1 1.3.1.2.1.9.1.2.1 1.1.1 1.3.1.1.1.6.1.8.1 1.1.1-.4.1 1.2.1.6.1.8.1.9.1-.2.1 1.2.1.6.1.5.1.5.1 0 .1.8.1-.7.1 2 .1.1.1-.3.1.7.1.7.1.9.1 1 .1-.9.1 1.2.1.2.1-.2.1 1 .1.8.1-.9.1 1.7.1-.3.1.6.1.8.1 1.2.1.6.1 1.1.1-1.2.1 1 .1-1.2.1 1.4.1 0 .1 2.2.1-.5.1-1.4.1.6.1 1.4.1-.7.1 3.7.1-3.3.1 1.8.1 1.1.1.3.1-.5.1.9.1-1.9.1 2.1.1 1.1.1-.6.1.6.1-.2.1 1.6.1.5.1-.3.1.9.1-1.9.1 2 .1-1.9.1 1.1.1.7.1 1.3.1-1.2.1 3.4.1-4.5.1.9.1 1 .1 2.4.1-1.2.1.2.1-.1.1 2.9.1-2.2.1 2.2.1-.1.1.6.1 2.1.1-3 .1 1.3.1 1 .1-2.5.1-1.7.1 2.2.1.2.1 1.1.1 1.1.1-2.3.1.4.1 2.5.1 1.8.1-4.3.1 3.8.1-4.2.1 3.9.1-1.3.1.5.1 1 .1 1.4.1-2.2.1 3.8.1-2.5.1-1.8.1 1.3.1 3.3.1 0 .1-1.7.1-.3.1 1.3.1 2.5.1-4.4.1 1.8.1-1.5.1 0 .1 2.5.1-3.1.1 2.1.1-.4.1 1.4.1-1.7.1 2.8.1-1.8.1 1.4.1.4.1-2.8.1 6.4.1-5.8.1 2.1.1-1.4.1 1.8.1.9.1 1.4.1-4.9.1 3 .1 0 .1 4 .1-4.8.1-1.2.1 6.6.1-6.2.1 1.5.1-.4.1 2.8.1-2.4.1 3.4.1-1.1.1.5.1-1 .1 4.8.1-4.3.1-2.3.1 3.4.1 1.8.1-4.8.1 6.9.1.8.1-3.6.1-.6.1-.6.1-1.6.1-1 .1 7.4.1 0 .1-7.4.1 8.2.1-5.1.1-3.1.1 7.3.1-4.2.1 0 .1-1.2.1-2.8.1 5.9.1 5.1.1-8.7.1 3.5.1-1.3.1.6.1 0 .1 11.2.1-7.3.1-9.1.1 3.9.1 19.1.1-21.7.1 8.7.1-4.2.1-2.5.1 7.7.1 5.3.1-7.3.1-1.7.1-3.4.1-1.2.1 1.1.1-3.1.1 2 .1 3.8.1 2.4.1-3.2.1 0 .1 2.3.1 1.8.1-1.8.1 0 .1 6.6.1-8.9.1 1.4.1 2.7.1-4.2.1-3 .1 7.1.1 1.1.1-3.7.1 1.7.1-3.2.1 4.1.1-3.4.1-1.4.1-.7.1 2.8.1-.8.1-4.3.1 11.1.1-10.6.1 9.4.1-8.3.1 1.3.1 3 .1-.9.1-1.5.1 5.2.1-4.5.1 3.4.1 2.2.1-4 .1 4 .1 2.6.1-1.4.1-6.1.1 3.7.1 5.4.1-9.9.1 1.6.1 4 .1 0 .1-4.8.1 1.7.1 0 .1 4.3.1-6.1.1-.7.1-1.4.1 2.9.1 5.3.1-9.5.1 9.5.1-3.4.1-1.9.1 5.3.1-5.3.1 2.9.1-3.7.1 7.5.1-2.7.1 4.3.1-4.3.1 10.9.1-10.9.1-4.8.1 4.8.1 1.3.1 1.4.1-1.4.1-1.3.1-2.1.1-1 .1 4.4.1 3 .1-3 .1 3 .1-1.6.1-2.7.1-3.1.1 2 .1 0 .1-2.9.1 4 .1 10.9.1-6.6.1-3 .1 0 .1-2.4.1 5.4.1 0 .1-3 .1 1.4.1 5.5.1-10.3.1 6.4.1 0 .1-4.3.1-6.3.1 7.6.1-8.2.1 8.2.1-5.3.1 1.9.1 0 .1 4.8.1-3.8.1 0 .1 9.3.1-10.3.1 13 .1 0 .1-14 .1 7.4.1-6.4.1 4.8.1 5.5.1-11.3.1 3.1.1 4.3.1-1.6.1 3.4.1-8.2.1 3.4.1-1.3.1-2.1.1-1.9.1 1.9.1-1.9.1 2.9.1-1 .1 4.8.1 3.4.1-3.4.1-2.7.1 6.1.1-4.8.1-3.4.1 13 .1-6.6.1-5.4.1 2.4.1-5.3.1 4 .1 2.7.1-7.5.1 2.7.1 3.4.1 4.8.1-8.2.1 0 .1 0 .1 13 .1-4.8.1-3.4.1-2.7.1-3.1.1 5.8.1-1.4.1-6.9.1 19.9.1-15.4.1 5.4.1-1.6.1-7.5.1 6.1.1 9.6.1-6.6.1 3.9.1-13 .1 6.1.1 0 .1-5.3.1 12.2.1-8.2.1 8.2.1-9.3.1 9.3.1-3.9.1-4.3.1 6.1.1-6.1.1 6.1.1 0 .1-3.4.1 5.5.1-2.1.1 4.8.1-8.2.1 1.6.1 3.9.1-8.2.1 6.1.1-3.4.1 3.4.1-3.4.1 16.4.1-19.1.1 1.3.1 1.4.1 1.6.1-1.6.1-6.7.1 6.7.1-3.8.1 0 .1 9.3.1-2.1.1-6.1.1 10.9.1-4.8.1-6.1.1 6.1.1-6.1.1 6.1.1 2.1.1 6.1.1 0 .1-6.1.1-6.9.1 0 .1-1.3.1 6.1.1 0 .1 2.1.1-9.3.1 7.2.1-3.4.1 1.6.1-5.4.1 5.4.1 0 .1-3 .1 4.8.1-4.8.1 13 .1-13 .1-2.4.1 3.8.1 1.6.1 1.8.1-7.2.1 2.4.1 6.9.1-2.1.1-3.4.1-5.8.1 11.3.1-2.1.1-6.1.1 4.3.1 1.8.1-9.2.1 22.2.1-21.2.1 4.8.1 5.5.1-8.2.1 1.3.1-1.3.1 4.3.1-1.6.1 5.5.1 0 .1 2.7.1-10.9.1 10.9.1-9.6.1 13 .1-8.2.1-4.8.1 6.9.1-10.3.1 4.8.1 5.5.1-5.5.1 8.2.1-8.2.1 3.4.1 2.1.1 2.7.1-2.7.1-3.9.1-1.6.1 5.5.1 0 .1-2.1.1-1.8.1 3.9.1-6.9.1 0 .1 4.8.1-4.8.1 6.9.1 6.1.1-17.4.1 1 .1 2.1.1 8.2.1-3.9.1-1.6.1-1.4.1 0 .1 3 .1 3.9.1 2.7.1 16.4.1-16.4.1-6.6.1-4.3.1 8.2.1 0 .1-8.2.1 2.7.1-1.4.1 6.9.1-5.5.1 5.5.1-2.1.1 0 .1 13 .1-14.8.1 1.8.1 8.2.1-16.4.1 0 .1 10.3.1-3.9.1-3 .1 9.6.1-12 .1 9.3.1-9.3.1 20.2.1-14.8.1-1.6.1 1.6.1 1.8.1-8.2.1 13 .1 8.2.1-8.2.1-6.6.1 1.8.1-8.2.1 3.4.1 4.8.1 4.8.1-8.2.1 1.6.1 6.6.1-4.8.1-6.1.1 14.3.1-14.3.1 1.3.1 6.9.1 10.9.1-16.4.1 24.6.1-16.4.1-9.6.1-1.3.1 14.3.1-8.2.1-1.8.1 1.8.1 2.1.1 10.9.1-17.8" />
<path fill="none" stroke="#a00000" stroke-width="1.4" stroke-linejoin="round" d="M75.6 225.6l.1-10.8.1 2.6.1-6.6.1 14.8.1-4.8.1 0 .1 4.8.1-4.8.1-8.2.1 13 .1-8.2.1 3.4.1 0 .1-10 .1 14.8.1-4.8.1-8.2.1 21.3.1-13.1.1 0 .1 0 .1 4.8.1 0 .1-20.2.1 15.4.1 4.8.1 0 .1-4.8.1 4.8.1 8.3.1-19.1.1 0 .1-8.2.1 6 .1 13 .1-8.2.1 16.5.1-13.1.1-8.2.1 0 .1 13 .1-4.8.1-3.4.1-2.6.1-2.2.1 2.2.1 10.8.1-4.8.1 13.1.1-19.1.1 0 .1-2.2.1 2.2.1 10.8.1-4.8.1-8.2.1 4.8.1-2.6.1 2.6.1-6.6.1-4.2.1 19 .1-10.8.1-2.2.1 2.2.1-2.2.1 2.2.1 2.6.1-2.6.1 19.1.1-13.1.1-10 .1 6.6.1 3.4.1 0 .1 13.1.1 0 .1 0 .1-19.1.1-2.2.1-4.8.1 7 .1 6 .1-13 .1 4.8.1-4.8.1 9.6.1 3.4.1 4.8.1-8.2.1 8.2.1-10.8.1 0 .1 2.6.1-6.6.1 10 .1 0 .1-13 .1 7 .1 19.1.1-27.3.1 6 .1 13 .1-8.2.1 3.4.1 0 .1 0 .1-3.4.1-2.6.1-2.2.1 2.2.1 0 .1-2.2.1-3.4.1 11.6.1-3.4.1 0 .1 3.4.1 0 .1-11.6.1 8.2.1 3.4.1-6 .1 6 .1-6 .1 6 .1-3.4.1-2.6.1-5.6.1 5.6.1 2.6.1-6.6.1 4 .1-2.2.1 21.3.1-13.1.1 4.8.1-16.4.1 11.6.1-6 .1-5.6.1 8.2.1-2.6.1-4 .1 10 .1-6 .1 2.6.1 16.5.1-27.3.1 10.8.1 8.2.1-16.4.1 11.6.1-3.4.1 3.4.1-8.2.1 13 .1-4.8.1 0 .1-8.2.1-1.8.1 6.6.1 8.2.1-10.8.1 6 .1-6 .1-4 .1-1.6.1 3.4.1 2.2.1 6 .1 13.1.1-13.1.1-8.2.1 8.2.1 13.1.1-8.3.1-13 .1 4.8.1 8.2.1-8.2.1-2.6.1 0 .1-5.6.1 8.2.1 8.2.1-8.2.1 3.4.1-6 .1 6 .1 0 .1-6 .1-2.2.1-3.4.1 3.4.1 8.2.1 0 .1-6 .1 6 .1-6 .1-2.2.1 4.8.1 3.4.1 13.1.1-19.1.1-9.4.1 15.4.1-6 .1-2.2.1 8.2.1-13 .1 9.6.1-4.8.1 2.2.1 2.6.1 0 .1-2.6.1 2.6.1-2.6.1-2.2.1 2.2.1 2.6.1 0 .1 3.4.1 0 .1-8.2.1 0 .1 4.8.1-13 .1 16.4.1-8.2.1-1.8.1 6.6.1 8.2.1-10.8.1 0 .1 6 .1-8.2.1-3.4.1 24.7.1-8.3.1-14.8.1-3 .1 9.6.1-9.6.1 17.8.1-8.2.1 3.4.1-15.4.1 12 .1 0 .1-2.6.1 6 .1-14.2.1 6 .1-3.4.1 3.4.1 2.2.1-2.2.1-12.3.1 10.5.1 6.6.1-2.6.1-2.2.1 0 .1 13 .1-13 .1 0 .1 8.2.1-8.2.1 2.2.1 2.6.1 3.4.1-10 .1 1.8.1-1.8.1 0 .1 23.1.1-16.5.1-9.6.1 7 .1 0 .1-5.6.1 0 .1 3.4.1 0 .1 2.2.1 0 .1-2.2.1 2.2.1-2.2.1 8.2.1-6 .1-2.2.1 2.2.1 19.1.1-19.1.1-2.2.1 0 .1 0 .1 2.2.1-4 .1 6.6.1 8.2.1-16.4.1 3.4.1 2.2.1-2.2.1 21.3.1-26.1.1 1.4.1 16.4.1-4.8.1-3.4.1-9.6.1 13 .1 0 .1-6 .1 6 .1-8.2.1 0 .1-8.2.1 4.8.1 3.4.1 2.2.1 6 .1 0 .1-6 .1 0 .1 2.6.1 3.4.1 0 .1-13 .1 9.6.1 8.2.1-13 .1 13 .1-8.2.1-6.6.1 6.6.1-4.8.1 13 .1-13 .1 4.8.1-2.6.1-2.2.1 13 .1-10.8.1 2.6.1-9.6.1 9.6.1-6.6.1 4 .1-4 .1 1.8.1 13 .1-19 .1 2.6.1 11.6.1-8.2.1 8.2.1-13 .1 9.6.1 3.4.1-10 .1 6.6.1 0 .1-2.6.1 2.6.1-2.6.1 0 .1 2.6.1-6.6.1 0 .1 1.8.1 0 .1 21.3.1-13.1.1-10 .1 4 .1 2.6.1-8.2.1 0 .1 8.2.1 0 .1-13.9.1 11.3.1-11.3.1 17.3.1-3.4.1-2.6.1-2.2.1-3.4.1 0 .1 1.6.1-3 .1 1.4.1 3.4.1 0 .1-4.8.1 7 .1-7 .1 4.8.1-6 .1 10.8.1-2.6.1-4 .1-1.6.1-1.4.1 3 .1 6.6.1-4.8.1-8.2.1 3.4.1 9.6.1-10.8.1 6 .1 0 .1-7.2.1 3.8.1 0 .1 0 .1 11.6.1-11.6.1 5.6.1 2.6.1-4.8.1 8.2.1-11.6.1-4.8.1 6.4.1 1.8.1 4.8.1 3.4.1-13 .1 3 .1-1.6.1 5.6.1 2.6.1-4.8.1-1.8.1-1.6.1-2.6.1-2.2.1 6.4.1 6.6.1 0 .1-2.6.1 6 .1-14.2.1 14.2.1-11.6.1-2.6.1 6 .1 4.8.1-6.6.1-3 .1 0 .1 7 .1-4 .1-1.6.1-1.4.1 3 .1 0 .1-3 .1 1.4.1 3.4.1 13 .1-13 .1-6 .1 4.2.1-1.6.1 1.6.1 0 .1 0 .1-1.6.1-1.4.1 13 .1-16.4.1 13 .1-4.8.1-4.8.1 1.4.1-1.4.1-2.4.1 5.4.1 6.6.1-4.8.1-6 .1 1.2.1 7 .1-5.6.1-4.8.1 10.4.1-9.4.1 9.4.1 0 .1-8.2.1 4.2.1 4 .1-5.6.1-5.7.1 7.3.1 0 .1-3 .1-2.4.1 9.4.1-2.2.1 2.2.1-8.2.1 0 .1 2.6.1-3.8.1 5.4.1-4.2.1 4.2.1 0 .1-9.8.1 9.8.1 1.8.1 2.2.1-2.2.1 2.2.1-7 .1-2.4.1 3.8.1-2.6.1 6 .1-1.8.1 0 .1-3 .1-1.2.1 10.8.1-6.6.1-5.4.1 2.4.1 3 .1 1.8.1 2.2.1-4 .1-7.3.1 5.7.1 1.6.1 0 .1 4 .1-11.3.1 0 .1 9.1.1-3.4.1-1.4.1 3 .1-3 .1 0 .1 4.8.1-4.8.1-3.4.1 2.2.1-1.2.1-1.9.1 1.9.1-5.8.1 8.2.1-5.2.1 10 .1-6 .1 2.6.1-4.8.1 0 .1 6.4.1 4 .1-8.2.1 8.2.1-9.4.1-7.6.1 7.6.1-1 .1 3.4.1-5.2.1 10 .1-6 .1-4 .1 0 .1 4 .1 2.6.1-3.8.1 12 .1-13 .1 0 .1-2.6.1 10.8.1-10 .1 12.2.1-5.6.1 0 .1-2.6.1 4.2.1-4.2.1-2.2.1 6.4.1 6.6.1-10.8.1 0 .1 0 .1-2.2.1-5.4.1 8.8.1 3 .1-4.2.1-2.2.1 0 .1-2.6.1-1.5.1 3.2.1-2.5.1 19.8.1-13 .1-11.1.1 15.9.1-10.8.1 3.6.1-4.4.1 13.8.1-11.3.1 7.3.1-6.4.1 0 .1 3.4.1 0 .1-3.4.1-.9.1 1.9.1 9.4.1-9.4.1-2.8.1-1.6.1.8.1 2.6.1-3.4.1-2 .1 1.3.1 1.5.1-3.5.1 5.2.1-1.7.1 1.7.1-.9.1 0 .1 5.2.1-11.1.1 5.1.1-2.2.1-.6.1.6.1 5.8.1-2.8.1-1.6.1-.7.1-.7.1-1.3.1 2 .1.7.1-4.3.1 0 .1 1.6.1 2.7.1-4.3.1-.5.1 0 .1 2.1.1 0 .1-1.6.1-1.5.1 1.5.1 2.3.1 0 .1-1.8.1 1.8.1-1.2.1-3 .1 4.8.1-5.2.1 3.9.1-3.9.1 4.6.1-.7.1-.5.1 4.8.1-10.5.1 1.8.1 2.3.1-2.3.1.9.1 4.2.1-4.6.1.4.1 3 .1-3.4.1 3.4.1-4.6.1 0 .1 3.5.1-1 .1-1.3.1 1.8.1-1.8.1 1.3.1-3.3.1-2.3.1 2.3.1 2 .1-1.6.1 1.1.1-1.1.1-2.4.1 2.4.1-1.7.1-.7.1 2 .1-1.7.1 2.1.1-3.8.1.6.1 5.2.1-1.3.1.9.1-2.7.1 0 .1 1.1.1.7.1-2.4.1-2.9.1 1.1.1-.8.1 1.3.1.6.1.7.1 3.3.1-6.7.1 1.9.1-.3.1-.6.1-.2.1.2.1.6.1-4.2.1-.2.1.8.1 3 .1-1.4.1-1.8.1 1.1.1-.7.1 1.8.1-3.5.1 4.8.1-2.6.1 1.1.1-3.8.1 2.9.1-3.4.1 1.2.1 1.7.1-2.4.1-.2.1 0 .1-1.7.1 1 .1-.7.1-1 .1.7.1 1.7.1-2.7.1-.3.1 1.3.1.3.1-1.3.1-2.8.1-.2.1 1.8.1-2.3.1.5.1.7.1-2.1.1 1.5.1-.3.1 1.8.1-3.6.1-.7.1-.2.1.9.1-.9.1.3.1-1.2.1-1.8.1 4 .1-2.4.1-1.1.1 1.2.1-1.3.1 0 .1-1.6.1 1.7.1-1.7.1-1.2.1.7.1 0 .1.1.1-1 .1 1.9.1-4.4.1 1.9.1-1.1.1 0 .1.5.1-1.5.1.3.1-.6.1-.1.1-.5.1.6.1-.9.1.3.1-.4.1-.2.1-1.4.1-.2.1-.9.1.7.1 1 .1-1.8.1.6.1-.5.1 0 .1-.9.1-.4.1.2.1-1.5.1.7.1-1.9.1-.2.1 1 .1.1.1-.7.1-.4.1-.7.1.1.1-.2.1-.4.1.2.1-1.5.1 1.2.1-1.4.1-.2.1-.4.1-.2.1-.8.1.4.1-.8.1.3.1.1.1-.9.1 0 .1-.2.1-.9.1.3.1-.3.1.1.1-.8.1.4.1-.2.1-.3.1-.3.1-.1.1.5.1-.7.1-.7.1-.1.1.2.1-.1.1-.4.1-.1.1.1.1.2.1-.4.1-.6.1.9.1-1.3.1.9.1-.8.1.4.1-.1.1-.5.1.4.1-.5.1-.1.1.1.1-.7.1 0 .1.6.1-.4.1-.2.1.2.1-.4.1-.9.1.7.1-.1.1.3.1-.6.1 0 .1-.1.1 0 .1-.6.1.2.1-.3.1 1 .1-1.2.1.7.1-.5.1.2.1.5.1-1 .1.4.1.4.1-.3.1.7.1-.8.1.3.1-.7.1.4.1-.1.1 0 .1.2.1-.5.1.8.1-.2.1.1.1-.7.1.6.1.4.1-.3.1-.2.1 0 .1-.2.1.8.1 0 .1-.2.1-.1.1.5.1-.4.1.6.1.1.1.2.1-.4.1.7.1.1.1.3.1-.2.1.5.1-.5.1.4.1-.2.1-.4.1.8.1-.1.1.6.1-.1.1 0 .1.6.1-1.3.1 1.3.1-.4.1.6.1-.2.1 1 .1 0 .1-.1.1 0 .1.6.1.2.1.1.1.3.1 1 .1-.3.1.4.1-.2.1 1.5.1-.6.1.8.1.6.1-.1.1.4.1 0 .1-.1.1 1.5.1-.1.1.4.1 0 .1.2.1 1.4.1-1.1.1 1.4.1.6.1.8.1-.2.1.8.1.3.1.8.1-1.1.1 1.4.1-.3.1 1.3.1-1.1.1 2.2.1-2.1.1 1.7.1-.2.1 1 .1 1.8.1-.9.1.1.1-.2.1 1.5.1-.9.1.9.1.7.1-.3.1 1.4.1-.5.1 2.1.1-.5.1-1.3.1-.1.1 1.9.1 1 .1-1.4.1 2.1.1-.7.1-.3.1 2.4.1.7.1-1.6.1 4.2.1-1.4.1 0 .1 1 .1-.4.1.9.1-1.2.1.3.1 1.9.1-1.3.1 1.4.1.8.1-1.5.1 1.6.1 0 .1-.2.1-.4.1.8.1 2.4.1-.7.1-.5.1-.9.1.9.1.7.1-.3.1 0 .1 1.5.1 0 .1 3.7.1-.7.1-2.7.1.7.1.4.1-1.9.1 3.1.1-.4.1-.3.1-.4.1 3 .1-1.3.1-.9.1 2.7.1-.8.1-2.4.1 1.3.1.7.1 2.6.1-3.6.1-.2.1 3.4.1-3 .1 1.5.1 3.5.1-3.3.1-1.1.1 3.3.1 1 .1-3 .1.3.1 0 .1 2.3.1-7.2.1 6.4.1.3.1 1.9.1-1.6.1-.3.1.3.1 1.1.1 1.2.1-3.7.1-1.5.1 2.4.1 1.5.1 1.7.1 5.7.1-6.2.1-1.3.1.4.1 2.2.1 0 .1-1.9.1 1.4.1-1.8.1-2.3.1 7.9.1-6.5.1 2.6.1 2 .1-3.8.1 1.7.1-.9.1 6.9.1-7.8.1 4.3.1 0 .1.6.1-5.8.1 5.8.1-2.8.1 1.5.1-2.5.1 2.5.1.6.1-4.1.1 3.4.1-1.6.1-2.6.1-2.2.1 11.1.1 1.9.1-8.3.1 4.8.1-10.9.1 6.1.1-.1.1-4.1.1 6.2.1-.6.1.6.1 1.2.1-6.4.1 2 .1-2.8.1 5.9.1-5.6.1 5 .1-2.1.1 3.9.1-2.4.1 1.7.1-.1.1-5.4.1 4.2.1-.6.1 0 .1-2 .1-.4.1 2.4.1 3.7.1-.7.1-5.5.1.4.1.9.1 4.1.1-3.1.1-1.5.1-.1.1-.9.1.9.1-1.8.1 5.7.1-5.7.1 1.2.1-2.4.1-2.4.1 2 .1 1.9.1-3.3.1 5.1.1-4.2.1 1.1.1.8.1.8.1-2.4.1 3.3.1-6.2.1 3.6.1 3 .1 1 .1-4.1.1.8.1-2.9.1-.7.1 1.3.1.3.1-.7.1.3.1-1.3.1 4.3.1-3.1.1-3 .1 3 .1-1.3.1 1.9.1-3.9.1 2.9.1-3 .1.8.1.9.1-1.7.1.2.1 2.3.1-2.1.1-2.8.1 4.5.1-1.5.1-1 .1-1.3.1-.4.1-1.1.1 2.7.1-4.2.1 1.3.1 1 .1.2.1-1.2.1-2.4.1-.6.1 1.3.1 1.3.1-2.9.1 0 .1-.6.1-1.1.1 1.3.1.3.1-2.6.1.4.1.5.1 2.4.1-5.8.1 3.1.1-1.7.1 2.7.1-1.8.1.2.1-.9.1-.5.1-1.6.1 1.5.1-2.2.1 2.7.1-4.1.1.4.1-.4.1 1.5.1-2.4.1 1.6.1-.3.1-.2.1-.2.1-2.5.1-.1.1.4.1-.6.1-.3.1.1.1-1 .1 1.8.1-2.4.1.6.1 1.8.1-2.4.1-1.1.1.5.1-1.4.1 1.7.1-2.6.1 1.4.1-1.7.1.5.1-.1.1.7.1-1.2.1 0 .1-.6.1-1.9.1 1 .1-.7.1-.2.1-.3.1-.7.1.1.1-.4.1 0 .1-.3.1-1.2.1 1.4.1-2.4.1.9.1 0 .1-1.1.1.3.1-1.2.1 1.1.1.5.1-1.8.1.2.1.1.1-.7.1-1 .1.4.1-.2.1-.4.1-.2.1 1.4.1-1.3.1-.1.1.5.1-.5.1-.1.1-.3.1-.6.1-.5.1 1 .1-.2.1-.5.1-.1.1.1.1-.3.1-.2.1-.5.1-.2.1.4.1-.4.1-.4.1-.2.1.6.1-.6.1-.5.1 1 .1-.6.1.1.1 0 .1.1.1-.2.1-.2.1-.2.1-.1.1-.1.1.6.1-.1.1-.5.1 0 .1 1.1.1-.3.1-.3.1-.1.1.5.1-.4.1.1.1.7.1.2.1-.6.1-.8.1 1 .1.3.1.1.1-.5.1.5.1-.6.1.2.1.6.1-.9.1.8.1-.3.1.4.1-.4.1.3.1.5.1-1.1.1 1.2.1.2.1-.2.1.4.1-.4.1.4.1-.1.1.4.1.4.1.5.1 0 .1-.2.1 0 .1.6.1.2.1 0 .1-.3.1-.4.1.3.1.8.1.2.1-.4.1.2.1.5.1.6.1-.4.1.7.1-.4.1 0 .1 1.2.1-1.4.1.1.1.7.1 0 .1.3.1 1.3.1-.6.1.2.1 1.1.1.5.1-.3.1.5.1 1.3.1.2.1-1 .1 1 .1-.3.1.7.1.3.1 0 .1.6.1-.3.1.4.1 1.8.1-.5.1 1.7.1-1.6.1 1 .1-.4.1.6.1-.5.1 1.7.1 1 .1-.5.1.1.1 1.7.1-2.6.1 1.5.1 2 .1-1.3.1 1.3.1-.2.1 2.3.1-3.2.1 2.5.1-1.6.1-.4.1 1.1.1 1 .1-.8.1 1.2.1.5.1-.2.1 1.3.1.4.1.1.1 0 .1-1 .1.9.1 1.1.1-1.2.1 1.2.1 1 .1.4.1-.5.1-.2.1 2 .1-2.2.1-.7.1 1.1.1.7.1-1.5.1 3 .1 1 .1-3.2.1 1.6.1-2 .1 3.9.1-.6.1 2.9.1-3.3.1-1.9.1 3.1.1 0 .1.9.1-1.1.1.9.1 2 .1 1.2.1-1.8.1-4.9.1 2.8.1 1.9.1 1.6.1-3.1.1.8.1 1.5.1-3 .1 3.6.1-2.2.1-.4.1-2 .1 2.5.1-.5.1 1.6.1-.4.1-.8.1-.7.1-1.5.1 1.2.1 1.3.1.4.1-.9.1.2.1 1.4.1-1.9.1.1.1 1.2.1-2.5.1 2 .1 1.9.1-1.2.1-1.8.1-1.4.1 1.4.1.9.1 3.1.1-3.1.1.9.1.8.1-1 .1-4 .1.5.1.4.1 1.8.1-.6.1 0 .1 1.1.1-1.4.1-.9.1-.4.1 1.1.1.3.1-1.1.1-1.1.1 2.8.1-.6.1-.9.1 2.7.1-2.1.1-1.9.1 2.8.1-.6.1-1.5.1-.3.1 1.8.1-2.1.1-.3.1.1.1-.5.1-.5.1.5.1 1.3.1 0 .1-.7.1.1.1-.2.1 2.5.1-2.1.1-.2.1-.3.1-1.5.1.4.1-.6.1-1.2.1.6.1 2.3.1-1.5.1 0 .1-.9.1 1.8.1.2.1-2.4.1.3.1 1.6.1 1.4.1-1.8.1.3.1-.2.1-2.9.1 2.9.1-2.1.1-.2.1 1.3.1 1 .1-.5.1-1.9.1.8.1-1.8.1.2.1 1.7.1-.9.1 1.6.1-1.1.1 1.4.1-1.8.1-1 .1 1.9.1 0 .1-.1.1-.5.1-1 .1 1.4.1.6.1-2.7.1 2.2.1 1 .1-2.1.1 2.1.1-.5.1-1.5.1 1.3.1-1.6.1-.7.1 0 .1 1.8.1-2.1.1.8.1 1.8.1-1.4.1 1.3.1.3.1-2.3.1 2.3.1-2.1.1 1.1.1-.3.1-1.5.1.8.1-.6.1 1.7.1-1 .1-.7.1.8.1 0 .1 1.3.1-1.7.1-.5.1.7.1.4.1-.9.1.7.1 1.3.1.1.1-2.6.1.5.1.2.1.5.1-1.2.1 1.6.1-.8.1-2.8.1 4.1.1-.5.1-.1.1-.3.1-.5.1 0 .1 1.4.1-.4.1-1.1.1-1.1.1 1.7.1-1 .1-.1.1 1.5.1 1.2.1-1.1.1-.8.1.4.1-2.1.1 2.6.1-2 .1.1.1 1 .1-1.7.1 1.1.1-.6.1 1.6.1-2.4.1 1.8.1-.7.1 2.1.1-2.5.1 1 .1-1 .1 1.7.1-.4.1-2 .1 1.5.1-.2.1-1 .1 1 .1.8.1-2.7.1 1 .1-.6.1.8.1.3.1-.3.1-1.3.1 3.9.1-2.6.1-.1.1-1.1.1.5.1 2.8.1-2.4.1.8.1.2.1-.4.1 1.6.1-1.7.1 1.2.1-.8.1.3.1-1.4.1.4.1 1.7.1-2.2.1 1.3.1 1.1.1-2.8.1.3.1-.2.1-.6.1 1.2.1.6.1-1.4.1 2.7.1-.4.1-1.8.1 1.8.1-.6.1-.9.1.2.1-1.4.1.8.1-.5.1 1.4.1-.2.1-.6.1-.5.1 2.2.1 1.4.1-1.8.1-.2.1-1.8.1 1.4.1-1 .1 3.1.1-1 .1-2.4.1 1.9.1-1.3.1.5.1-.3.1.1.1.7.1-.5.1 1.3.1-1.4.1-.7.1.8.1.4.1.4.1-.9.1-.3.1-.4.1 0 .1-.8.1 1.1.1-.4.1.7.1.6.1.2.1-1.4.1-.6.1.8.1 1.5.1-2.3.1.6.1.9.1.7.1-2.2.1.9.1 1.3.1-.9.1.9.1-1.7.1 1.2.1-.8.1-1.4.1.6.1.8.1-.2.1 0 .1-.6.1.7.1-.6.1.7.1 0 .1.2.1-.7.1.5.1-1.5.1.7.1-.2.1.3.1 1.6.1 1 .1-2.3.1.4.1-1 .1-.1.1-.2.1 1.1.1-1.1.1 1.4.1-1.2.1 1.3.1-.1.1-.6.1.7.1-.4.1 2.6.1-2.3.1.9.1-2.1.1.9.1-.1.1 2.1.1-.9.1-1.8.1.7.1-.9.1.5.1-.3.1 1.2.1-.3.1-.1.1-.6.1-1.4.1 1.2.1-.6.1 1.3.1.2.1 0 .1-.2.1-1.2.1.3.1.4.1.6.1.1.1-1.6.1-.1.1 1 .1.4.1-.4.1 1 .1.4.1-.3.1-.6.1.1.1-.4.1 2.2.1-1.8.1 2 .1-3.9.1 1.3.1.7.1-.7.1-2.1.1 3.1.1-1 .1.7.1-1.3.1.4.1 1.4.1-1 .1.5.1.9.1-1.4.1-.2.1.2.1-.3.1 1.6.1-1.8.1 1 .1.7.1-1.6.1.7.1-1.4.1.3.1 1.1.1.2.1-1.8.1-1 .1 1.7.1.7.1-.9.1.1.1-.4.1.9.1-.3.1 1.6.1-1 .1-.1.1-.4.1-1.2.1 1 .1-.2.1-.5.1-.5.1 2.6.1-.6.1.3.1-1.7.1 1.3.1-1 .1 1.4.1.4.1-2.5.1 2.7.1-1.3.1.6.1-1.1.1 1.2.1-.7.1.6.1.1.1-1.6.1-.2.1 1.6.1 0 .1-.8.1.4.1-.8.1.9.1-1.8.1 1.6.1.5.1-2.5.1.8.1.4.1 1.4.1-2 .1 1.6.1-.5.1 0 .1.7.1-1 .1.4.1 1.2.1-2.2.1 2.2.1-.9.1 0 .1-.2.1.6.1-1.7.1 1.7.1.2.1-1.1.1.8.1-1 .1 2.1.1-3 .1 2.2.1-1.8.1 1.3.1-.3.1 1.1.1-1.3.1.9.1-1.1.1-1 .1-1.2.1 3 .1-.5.1-.5.1-.5.1.3.1.9.1-.7.1-.4.1.3.1.7.1-.7.1.2.1.2.1-1.7.1 3.1.1-3.3.1 1.9.1.4.1-.3.1-.5.1.8.1-1.4.1 1.7.1.5.1-.7.1.7.1-1.7.1.7.1-.3.1-.1.1-.5.1-.6.1.2.1-.1.1 1.2.1 0 .1 1.2.1-1 .1.2.1-1 .1 1 .1-.6.1-1.2.1 1.2.1-1.2.1 2.8.1-2.4.1 1.2.1-1.2.1.8.1.1.1.1.1-1.3.1.1.1 1.5.1-.9.1.5.1.5.1.7.1-2.7.1.8.1 1.4.1-2 .1 3 .1-.9.1-3.3.1.9.1.8.1 1 .1-.4.1-1.5.1 2 .1-.8.1-1.7.1.9.1 1.2.1-1.9.1 2.9.1-1.3.1-.3.1-.7.1.2.1 1.2.1-.7.1-.3.1.6.1-.9.1.9.1-.9.1.6.1.8.1-.3.1.6.1-.6.1-1.9.1 1 .1 1.2.1-.9.1-.3.1.1.1-.6.1 1.4.1-1.2.1-.1.1-.6.1 2.1.1.8.1-3 .1.1.1 1.9.1.3.1-.7.1.3.1.5.1-1 .1-1.7.1 1.8.1-2.1.1 2.6.1-.4.1-1.4.1 1.8.1-1.5.1-1.2.1 1 .1 1.2.1-.8.1.8.1-1.3.1-.3.1 1.6.1-1.5.1 1 .1.8.1-1.1.1.4.1-.2.1 1.4.1-2.7.1 1.8.1-.4.1-.4.1-1.9.1.7.1 1.5.1-.2.1.6.1-2.4.1.6.1 1 .1-.7.1-1.5.1 1.4.1-.1.1 1.6.1-.9.1-1.1.1.2.1.4.1-.5.1.1.1 1.3.1-1.2.1.5.1.9.1-.2.1-.5.1-1.1.1 1.9.1-1 .1-.5.1 1.1.1-1.7.1 1.7.1 1 .1-2.4.1 1.5.1.6.1 0 .1-2.4.1 1.7.1-1.6.1-.2.1.9.1-.7.1.5.1.3.1-.4.1-.2.1-.7.1 2 .1-1.9.1 2 .1-2.6.1 1.2.1.4.1.5.1-.6.1-.1.1 0 .1.4.1 0 .1.5.1 0 .1-.6.1-.6.1-.8.1.4.1.6.1-1 .1 1.3.1 1.3.1-.7.1-.4.1-.7.1-1.1.1 2.1.1-.9.1.9.1-1.3.1.8.1-1.3.1.9.1 1.1.1-1.2.1-.1.1 2.1.1-.4.1-2.6.1 1.5.1-.7.1-1.5.1 2.3.1.9.1-.2.1-2 .1 2.3.1-.6.1-.2.1-.1.1-.3.1 1.5.1-.8.1-.5.1-1 .1 1.9.1-1.3.1 2 .1.3.1-1.5.1-.3.1.8.1-1.5.1.6.1.3.1.3.1-1 .1.9.1.8.1-.7.1-.7.1 1.9.1-1.6.1 1.6.1.3.1-.6.1.9.1.4.1-2.2.1 2.6.1-.8.1.5.1-2.3.1.4.1.4.1 2.5.1-2.3.1 2.1.1-1.3.1-1.3.1.7.1-.2.1 1.9.1-1.4.1 0 .1 0 .1-.1.1.4.1.6.1 1.6.1-1.8.1-.1.1-.7.1-.1.1 1.6.1.7.1-1.4.1-.7.1-.8.1 2.8.1-1.8.1 2.7.1-1.8.1.5.1-.7.1.7.1.4.1-.7.1-1.2.1.8.1.4.1 2.1.1.2.1.8.1-1.3.1-2.1.1.9.1 1.4.1-.1.1-1.3.1.7.1.5.1-.2.1 1 .1.6.1-.6.1.3.1-.5.1 0 .1 1.4.1-1.1.1 1.3.1-1.1.1 1.4.1-1.8.1-.2.1 3.6.1-3 .1 1 .1-.1.1.8.1 0 .1-.8.1-.1.1 1.1.1-1.3.1 1.2.1-.6.1-.1.1-.4.1 3.5.1-1.2.1-.4.1 1.8.1.2.1-2.6.1 2.7.1-2.4.1.2.1-.6.1 1.3.1-1.9.1 2.1.1-.1.1.9.1-1.9.1 1.6.1-1.9.1 2 .1-.7.1-.3.1-.7.1.3.1-.5.1 4.3.1-4.2.1 0 .1 1.7.1-.9.1 1.8.1-1.5.1.7.1-.6.1 2.4.1-1.1.1.1.1-.5.1-.6.1.1.1.2.1-1.3.1.1.1.7.1-.5.1 1.3.1-.9.1-.2.1-.4.1.4.1 2.9.1-2.7.1-1.5.1-.7.1.9.1.7.1-.7.1 1.2.1-1.4.1 2.8.1-1.2.1.4.1.9.1-1.6.1 2.6.1-2.8.1-1.3.1 1.6.1-.6.1 2.5.1-1.3.1.4.1-1.7.1 2.4.1-1.8.1 1.1.1.1.1 1.7.1-3.4.1.1.1.3.1.9.1 1.7.1-1.1.1-1.6.1-.8.1.5.1.6.1.4.1-1.2.1 1 .1.2.1.7.1-.5.1 1.1.1-1.2.1-1 .1.6.1.1.1-2 .1 2.7.1-1.2.1.3.1 1.4.1-1.6.1 2.1.1-.2.1.4.1-1.6.1.4.1 1.6.1-1.6.1 1 .1-2.5.1-1.6.1 1.9.1 3.1.1-4.3.1 1.3.1 1.5.1-.6.1-.2.1-.5.1-1.4.1 3.3.1.3.1-.1.1-2.9.1 2.2.1-1 .1 1 .1.7.1-1.2.1.2.1-1.7.1 0 .1 1.3.1-1.8.1 3.3.1-1.6.1 1.1.1-1.9.1.1.1-.2.1.5.1 2.3.1-3.2.1-.4.1 2.5.1 1.6.1-.8.1-1.3.1 1.9.1-2.1.1 1.8.1-2.1.1 2.6.1-3.2.1 1.1.1-1.5.1-.8.1 3.5.1-1.1.1.7.1-.2.1-2.2.1 2.2.1.2.1 1.6.1-1.8.1-.9.1.8.1-1 .1.3.1 1.5.1-2.5.1-.8.1 3.9.1-1.1.1-1.3.1.9.1-.3.1.5.1.2.1-1.3.1-.5.1 2.3.1-4.2.1 3 .1-1.1.1 1.4.1.9.1.5.1-1.6.1 0 .1 2 .1-2.5.1.4.1-2.3.1 1.8.1 1.9.1 1.7.1-1.1.1-2.3.1 1.5.1.3.1.3.1-.7.1-.8.1-.2.1-1 .1.8.1-.7.1 1.3.1-1.6.1 2.6.1.2.1-2 .1 1.2.1.9.1-2.7.1 1.3.1-.8.1-.2.1-.6.1.6.1 1.7.1 1.3.1-3.3.1 1.3.1-.1.1.8.1-1.6.1.5.1.5.1-.2.1.9.1.3.1-.8.1-2.6.1 1.8.1-.3.1 2.5.1-.9.1 3.1.1-3.8.1.4.1-1.2.1-1 .1 1.3.1.8.1-2.9.1 2.1.1-1.3.1.1.1.4.1-2.1.1 3.6.1-1 .1-.3.1 1.8.1-2.2.1-.7.1 2.8.1-1.5.1.1.1-.2.1-.7.1-.3.1 1.5.1 1.4.1-.3.1-2.1.1 1.9.1-1.9.1.5.1 0 .1-.7.1 1.5.1-.8.1.1.1-.7.1 1.1.1-2.6.1 1.4.1-1.1.1 4.1.1-1 .1-.4.1-1.5.1.1.1-.3.1 2.4.1.7.1-2.4.1.2.1 3 .1-3.8.1.9.1.4.1 0 .1-2 .1 3.7.1-1.7.1-.7.1 1.7.1-2.7.1 0 .1 3.3.1-2.7.1.7.1.8.1-.9.1-.1.1.5.1-.3.1 1.1.1-1.3.1 0 .1-.3.1.4.1-2.7.1 2.7.1-.8.1.7.1 2.2.1-2 .1-.1.1.3.1-.9.1 1.9.1-1.7.1.8.1.9.1-1.3.1.4.1 0 .1.1.1-2.2.1 1.6.1-1.3.1 4.2.1-2.9.1-.6.1 0 .1.3.1-1.6.1 1.9.1.2.1.7.1-.5.1 1.3.1-.1.1-.6.1.9.1-3.4.1.7.1 3.9.1-2.5.1.6.1-.8.1.8.1-.2.1-.6.1-.3.1 1.5.1-.6.1.9.1-1.5.1-1.4.1 1.4.1-1 .1 3.8.1-4.8.1 1.1.1-2.4.1 7 .1-3.3.1-.7.1-.8.1-1.3.1.7.1 1 .1-2.4.1 3.5.1-.6.1-.3.1-.5.1 1.5.1-.5.1.4.1 2.1.1-2.9.1-1.2.1 1.2.1 1.2.1-1.3.1 2.4.1-1 .1-1.8.1-.8.1 4.2.1-4.1.1-.2.1 3.1.1.2.1 0 .1-.5.1.2.1-1.6.1 1 .1 0 .1.4.1-1.2.1.2.1.1.1 1.5.1-1.8.1-2.6.1 3.6.1.4.1-1 .1-.6.1-.1.1 1 .1.7.1-3.1.1 1.5.1.1.1-1.7.1 3.2.1-1.2.1-2.1.1 3.3.1-2.7.1 2.3.1-2.3.1 2.7.1-3 .1 2.4.1-3.8.1 2.8.1-.1.1-1 .1 1.5.1 0 .1-1 .1.8.1.2.1-2.3.1 2.4.1-2.2.1-.2.1 2.1.1-.1.1-1.2.1 2.1.1-.5.1 1.5.1-4 .1 3.2.1-1.5.1 1.7.1-1.8.1-.2.1-.6.1-.1.1 1.5.1-.5.1-1.5.1 2 .1.8.1-2.3.1 1.2.1-1.2.1 1.3.1 1.9.1-.9.1-.6.1-1.8.1.3.1 1.2.1-1.4.1.8.1-1.3.1 1.5.1.7.1-1.6.1-.2.1 1.9.1.1.1-.5.1.4.1.1.1 0 .1.2.1-.2.1-1.8.1 1.3.1.3.1-1.5.1.8.1-.4.1-1.2.1 0 .1 2 .1-.1.1-1.1.1 1.1.1-2.8.1 1.4.1-1.7.1 3.1.1.6.1-.6.1-2 .1 1.5.1-1.2.1 1.1.1.7.1-.8.1-2.1.1 2.1.1-.9.1-.1.1-.1.1-.6.1 1.1.1-1.6.1 2.3.1-.5.1-.8.1 1.2.1.9.1-1.6.1 1.1.1-1.1.1-.5.1 1.5.1-2.2.1 2.5.1-.2.1-.5.1-.9.1 2.6.1-1.2.1-1.5.1 1.2.1-1.5.1 2 .1-1.6.1 1.3.1-.7.1-.4.1.7.1-.6.1-.9.1.9.1-.4.1 2.2.1.2.1-1.3.1-1.7.1 2 .1-2.2.1 1.9.1-1.2.1.6.1.1.1.6.1-.6.1-1.6.1.5.1 2.4.1-2.5.1-.2.1 2.2.1-.6.1.7.1-2.3.1-.7.1 1.9.1 2.8.1-4.2.1-.6.1.8.1-.1.1-.5.1 4.5.1-3.2.1 0 .1-.2.1 1.8.1 1.5.1-2.6.1-1.4.1-1.6.1 3.4.1-1.1.1.7.1 0 .1-1.2.1 2 .1-1.1.1-1 .1-.1.1-.8.1 1.2.1-.6.1.2.1-.3.1.7.1 0 .1-.3.1-.9.1.8.1.1.1 1.6.1-2.1.1-.2.1 1.9.1-2 .1 1.4.1-.6.1.7.1-.8.1 1.6.1-2.2.1-.2.1.2.1 1.5.1-.6.1.2.1.8.1-3 .1 1.9.1-.4.1 1.5.1-2.7.1 2.3.1-.5.1.6.1.2.1-2.1.1.6.1-.5.1.3.1 0 .1 0 .1.4.1.1.1-.9.1.9.1-.6.1-.3.1.1.1-1.4.1 3.5.1-1.5.1-.9.1 2.8.1-2.1.1.9.1-.9.1-.9.1 1.4.1 1.5.1-2.1.1.5.1 1.8.1-2.4.1 0 .1.1.1-.1.1.5.1 1.9.1-2.1.1 2.4.1-2.3.1-.5.1.4.1.1.1 1.8.1-3.8.1 1.5.1-1.3.1 1 .1.4.1-.3.1.8.1 1.8.1-.9.1-1.2.1.2.1-.7.1-.4.1 2.9.1-.9.1-3.4.1 1.3.1 1.4.1-2.3.1 1.9.1-.9.1 1.2.1.1.1-1.7.1 2.7.1-1.3.1-.2.1-1.4.1.1.1 3 .1-1.1.1-.9.1.4.1-.9.1 1.6.1-.6.1-2 .1 1.1.1-.9.1 1.4.1.5.1-.4.1.5.1.1.1-3.3.1 2.7.1.1.1-.4.1-.9.1-.4.1 0 .1-.7.1 1.7.1.3.1-.1.1-.6.1.5.1 1.4.1-.6.1-1.5.1 2 .1-1.6.1-.1.1.7.1-.2.1-.5.1 1.5.1-.5.1-1.9.1.6.1 1.1.1-1.9.1 2.6.1-1.2.1 0 .1 1.5.1-2.1.1 1 .1-.4.1 0 .1.7.1.2.1.6.1-1.9.1.7.1-.4.1 1.2.1 1.9.1-.2.1-2.3.1-1.4.1 1.4.1.8.1-.4.1 1.5.1-2.3.1 1.5.1-2.2.1 1.6.1-1.1.1.5.1-.1.1 1.3.1-1 .1.5.1.4.1-.8.1-.3.1-.6.1.6.1 1.6.1-1 .1 1.5.1-2.3.1 3 .1-2.5.1 1.4.1.4.1-2.5.1 1.2.1 1.2.1-.7.1.5.1-2.2.1 2.2.1.5.1-3.4.1 2.8.1-1.4.1 1.9.1-.2.1-1.4.1 2 .1.2.1-2.2.1 1 .1.6.1-1.4.1 1.8.1-1.5.1 2.4.1-1.5.1 2.2.1-3.4.1 1.6.1 2.5.1-3.8.1.8.1-1.3.1 2.5.1 2.2.1-2.1.1-1.6.1 0 .1 1.6.1-.7.1-.5.1 2 .1-2.2.1.1.1 3.1.1-2.7.1 2.6.1-2.9.1 1.6.1.2.1-1 .1-1.5.1 3.6.1-2.3.1 1.1.1 2.1.1-3.9.1 2.2.1-.4.1-1.9.1.4.1.9.1.9.1 2.2.1-.3.1-2.8.1 1 .1 1.7.1-2.6.1 1.3.1.1.1.7.1 0 .1-1.1.1.8.1.8.1-.2.1-2.3.1 2.2.1.7.1 3.2.1-3.5.1-.6.1-.3.1.9.1 1.3.1-3 .1 3.3.1-.8.1 1.7.1-3.4.1 2.3.1-2 .1 1.7.1-1.4.1-.7.1 4.1.1-1.5.1-.5.1 2.8.1-.2.1.6.1-2.3.1 1.9.1-.4.1 1 .1-1.4.1-.4.1-1.6.1.9.1 1.7.1-.8.1-.4.1 1.2.1.4.1.4.1-4.3.1 3.9.1-1.2.1-2.4.1 1.6.1 1.2.1.8.1 1.8.1-1.8.1-1.8.1 1.8.1 2.1.1 1.6.1-6.2.1 3.6.1 1.2.1-.2.1-.8.1 2.7.1-4.2.1.8.1 2.5.1-.3.1-.2.1-1.5.1.5.1.7.1 0 .1-.2.1-.3.1 1 .1.6.1.6.1-1.9.1-1.5.1 6.4.1-3.9.1 2.1.1-1.5.1 1.9.1-2.8.1 1.5.1 2 .1-1.7.1 0 .1 1.7.1-1.4.1 1.4.1-2 .1-1.5.1 3.5.1.3.1-.3.1-.7.1-2.8.1 4.6.1-3.1.1 0 .1 2.7.1 2.1.1-4.2.1-.9.1 3 .1 1.2.1-1.2.1-1.1.1.7.1 2.5.1-1.3.1-.4.1-3.4.1 5.5.1-.9.1-2 .1-.7.1 5.2.1-2.5.1-2.3.1.7.1 4.1.1-.6.1-.5.1-5.4.1 8.2.1-1.2.1 3.2.1-4.3.1 1.1.1-6 .1 3.5.1-.9.1 3.4.1-1.6.1 0 .1 2.8.1-1.2.1-3 .1.9.1 1 .1-1 .1 3.9.1-5.2.1 1.3.1 3.9.1-1.8.1 1.8.1-4.8.1 2.5.1-2 .1 5.7.1-2.6.1-3.1.1-.5.1 3 .1 4 .1-2.8.1-3.7.1 5 .1-2.5.1-1.6.1.5.1 3.6.1.7.1-2 .1 2.8.1-1.5.1 2.3.1-3.6.1 2 .1-2 .1 4.5.1-3.9.1-3.9.1 2.1.1 4.8.1-6.4.1 5.6.1-5.6.1 6.4.1-2.3.1-4.1.1 0 .1 5.6.1-3.4.1 1.2.1 2.2.1 0 .1-2.2.1 1.4.1-2 .1 10.3.1-10.9.1 5.1.1 3.1.1-2.2.1-6.6.1 2.5.1-3 .1 8.2.1-8.2.1 8.2.1-5.2.1-4.1.1-2.2.1 6.3.1-.7.1 0 .1 2.2.1-2.8.1-2.3.1 1.1.1 4.8.1 1.8.1-2.6.1 4.8.1-7 .1 0 .1.7.1 1.5.1 4.8.1-7.6.1 2 .1-2 .1 11.8.1-12.4.1 2.6.1 0 .1 1.6.1-.8.1 2.6.1 1.1.1-7.1.1 10.9.1-3.8.1-5.9.1 0 .1 4.8.1 1.1.1-4.5.1 8.3.1-4.9.1 4.9.1-9.7.1 4.8.1-2.6.1.8.1 8.2.1-8.2.1-2.3.1.7.1 3.4.1 0 .1 0 .1 3.5.1-6.9.1 2.5.1.9.1-2.6.1 2.6.1-4.1.1-.7.1 11.2.1-4.2.1-3.1.1-1.7.1 1.7.1 2 .1-1.1.1-2.6.1 6.1.1-1.3.1-4.8.1 9 .1-9.8.1 4.5.1-2 .1-1.7.1 2.6.1-.9.1 3.1.1-4.8.1-.8.1 9.8.1-5.3.1 7.2.1 2.1.1-8.2.1 2.7.1 3.4.1-7.2.1 1.1.1 1.3.1-6.1.1 4.8.1-2.2.1-2.6.1-.8.1 2.5.1 11.3.1-9.3.1 0 .1-1.1.1 6.4.1-1.5.1 1.5.1-7.3.1-1.7.1 4.8.1-7 .1 7 .1-4.8.1 7.5.1-8.3.1-1.4.1 3 .1 5.3.1-5.3.1 4 .1-4 .1-4.2.1 5.1.1 7.3.1-8.2.1 4 .1-2.2.1 10.4.1-12.2.1 2.9.1 1.1.1-5.6.1 1.6.1-.8.1 0 .1 4.8.1 2.7.1 3.4.1-10.9.1 9 .1 0 .1-9 .1 4.8.1-5.6.1 8.3.1-4.9.1 1.1.1-1.1.1 6.4.1-5.3.1 0 .1-5.9.1 7 .1-4.8.1 3.7.1-2 .1-3.2.1-2.5.1 6.6.1 0 .1-3.4.1.8.1-2.8.1 6.5.1-3.7.1 1.7.1-1.7.1 6.1.1-5.3.1 4 .1 0 .1-1.1.1-1.1.1-2.6.1 1.7.1-3.2.1-1.3.1 4.5.1 3.1.1-6.3.1 6.3.1 1.3.1-5.3.1 2.9.1 1.1.1-1.1.1-5.2.1 7.6.1-10.6.1 2.3.1 3.9.1-5.1.1 1.2.1 7 .1-2.2.1-6.6.1 2.5.1 1.5.1.8.1-2.3.1.7.1 1.6.1-5.9.1 6.8.1-6.8.1 5.9.1-2.3.1 2.3.1.9.1-3.9.1 0 .1-3.9.1 3.9.1-5.2.1 4.6.1 0 .1-1.2.1-3.4.1 9.1.1-6.2.1 2.3.1 2.2.1-2.2.1-.6.1 5.4.1-10 .1 1.8.1 8.2.1-5.4.1-.6.1-1.7.1 1.1.1 1.8.1-5.2.1 2.3.1-1.9.1 7.8.1-4.8.1 1.2.1 0 .1-1.2.1.6.1 1.2.1 0 .1-6.4.1 4.6.1-.5.1-5.5.1 3.9.1 3.3.1-2.8.1-1.8.1 4 .1-1.7.1-1 .1-2.1.1 0 .1 3.7.1 1.1.1-5.2.1 1.6.1-.4.1-2.3.1 5.2.1-2.5.1-1.2.1 6 .1-6.4.1 3 .1-3.7.1 2.3.1-2.7.1 3.2.1-1.3.1-3.5.1 0 .1 4.3.1-3.7.1-1.8.1.3.1-.6.1 1.5.1-.9.1 3.6.1-.4.1-3.5.1 1.2.1-1.5.1-3 .1 2.3.1 0 .1.5.1.2.1-3 .1 1.3.1-.7.1.2.1-1 .1 2.7.1-1 .1.8.1-1.2.1-1.5.1.6.1 0 .1-1.4.1-.7.1 3.7.1-1.4.1-1.4.1-2 .1-1.2.1 2.1.1 1.5.1-2.8.1 1.8.1-1.2.1-.6.1-2.7.1 2.4.1-1.5.1 1 .1-.7.1 2.6.1-5.1.1 1.3.1 1.9.1-2.1.1-2.5.1 1.6.1-2 .1-.8.1 3.1.1-2.1.1-1 .1.6.1-1 .1 1 .1-1.1.1.6.1-.2.1-1.8.1-2 .1 2.2.1-1.1.1-.3.1-.9.1.1.1-.4.1-.1.1-2.5.1-.2.1 0 .1.2.1-.7.1.1.1-1.7.1 1.9.1-.9.1-1 .1-1.9.1-.5.1.1.1-1.2.1-.4.1-.3.1-.4.1-.6.1-1.1.1 1.1.1-1.5.1-2.3.1.2.1.4.1-1.6.1-.1.1-.5.1-1.5.1-.7.1-.3.1-.6.1-.7.1-.9.1-1.5.1-.4.1-1.1.1-.3.1-1.4.1-1.2.1-.5.1-1.1.1-1.3.1-.5.1-1.2.1-.7.1-1.6.1-1.2.1-1.2.1-1.3.1-1.3.1-1.3.1-1.4.1-1.4.1-1.5.1-1.6.1-1.6.1-1.8.1-1.7.1-1.9.1-2 .1-2.1.1-2.2.1-2.3.1-2.4.1-2.6.1-2.8.1-2.9.1-3.1.1-3.3.1-3.5.1-3.5.1-3.5.1-3.4.1-2.8.1-1.9.1-.7 0 0 .1.7.1 1.9.1 2.8.1 3.4.1 3.5.1 3.5.1 3.5.1 3.3.1 3.1.1 2.9.1 2.8.1 2.6.1 2.4.1 2.3.1 2.2.1 2.1.1 2 .1 1.9.1 1.7.1 1.8.1 1.6.1 1.6.1 1.5.1 1.4.1 1.4.1 1.3.1 1.3.1 1.3.1 1.2.1 1.2.1 1.3.1 1.4.1.5.1.8.1 1.3.1 1 .1.9.1.8.1 1 .1 1.2.1.8.1 1.2.1.7.1.5.1 1.2.1 0 .1.7.1 1 .1 1.3.1-.8.1 2.9.1-.7.1.9.1.3.1 2.8.1-1.1.1 1.3.1.2.1.2.1.3.1.9.1.1.1 1.1.1-.1.1.5.1 1.8.1-.8.1.7.1.1.1.5.1 1.5.1-.7.1 1.8.1.4.1-.9.1 1.7.1 1.7.1-.9.1-.1.1 2.7.1-2.3.1 1.7.1-.6.1.3.1-.4.1 1.3.1.9.1 0 .1-1.1.1 2.3.1 1.1.1 2.1.1-2.3.1.8.1.5.1-1.2.1-.6.1 1.8.1-.8.1 1 .1 3.1.1 1.7.1-4.6.1 1.5.1 1.8.1 1.1.1-.4.1 0 .1-1 .1 2.3.1-.4.1 2.3.1-1.3.1-.8.1.3.1 1.8.1-2 .1-.6.1 5.4.1-1.1.1-1.8.1-.7.1-1.6.1 1.8.1 1.7.1 0 .1 0 .1-.5.1.5.1 2.9.1-3.2.1 1.3.1 1.5.1 2.9.1-4.4.1 2.8.1-1.9.1-.4.1 4.3.1-2 .1-2.3.1-.9.1 3.9.1 1.2.1-3 .1 2.6.1 2.2.1-3.4.1.8.1-2.9.1 3.2.1.4.1-.8.1.4.1.8.1 1.9.1-5.9.1 1.3.1 1.9.1.8.1 3 .1-4.7.1 4.1.1 1.7.1-2.7.1-1.5.1 5.5.1-7.5.1.4.1 5.2.1-.6.1-.6.1-2.4.1 2.4.1 1.1.1 1.9.1-1.3.1-6.5.1 2.8.1 11.3.1-1.1.1-6.5.1-.6.1-1.7.1 2.9.1 3.8.1-5.7.1-.5.1 2.3.1-3.9.1 3.9.1 4.8.1-2.6.1-3.4.1 4.2.1-.9.1 1.7.1-3.2.1-2.5.1 1.2.1 2.8.1.8.1-4.2.1.6.1-.6.1 1.9.1 2.3.1 10 .1-9.2.1-5.1.1 8.2.1-5.6.1 5.6.1-2.2.1 0 .1-6 .1 4.2.1-4.3.1 3.4.1 0 .1 2.7.1 0 .1-.1.1-2.6.1 4.8.1-9.4.1 3.1.1 5.1.1 2.4.1-10.1.1 4 .1 9.1.1-9.9.1 6.9.1 4.8.1-10.1.1-.8.1-1.5.1 6.3.1 8.2.1 0 .1-11.4.1 0 .1 1 .1-4.2.1-.7.1 11.2.1 1.8.1-13 .1 4.8.1 4.8.1 5.6.1-9.4.1 5.4.1-5.4.1 2.4.1-5.3.1 6.6.1 5.6.1-13.8.1 4.4.1-1 .1 3.4.1-1.3.1-1.1.1 2.4.1 1.4.1 1.5.1-9 .1-.8.1 9.8.1-5.4.1 5.4.1-5.4.1 5.4.1-3 .1-6.1.1 6.1.1-5.3.1 1.8.1 1 .1 0 .1 2.4.1-3.4.1 4.8.1 0 .1-8.2.1 3.4.1 13 .1-12 .1 1.1.1 4.2.1-1.6.1 5.6.1-5.6.1 1.6.1-5.4.1 1.1.1-2.1.1 6.3.1-1.6.1-4.8.1 8.2.1 0 .1-7.2.1 15.4.1-11.6.1-4.8.1-1 .1 7.3.1 1.9.1-8.3.1 8.2.1-1.8.1 10 .1-10 .1 10 .1-10 .1 0 .1 1.8.1-4.8.1 2.9.1-3 .1 13.1.1-10.1.1-3 .1 1.4.1-2.6.1 6 .1-6 .1 6 .1-8.2.1-2.6.1 10.8.1-4.8.1 9.6.1-10.8.1 4.2.1-1.6.1 1.6.1 4 .1 0 .1-9.4.1-1.9.1 17.4.1-14.3M497.3 201l.1 3.4.1-7.2.1 9.4.1 0 .1-10.4.1 2.2.1 0 .1 2.6.1 0 .1 1.6.1 6.6.1-8.2.1 5.6.1 2.6.1-9.6.1 9.6.1-2.6.1-2.2.1-8.2.1 8.2.1-1.8.1 0 .1 0 .1-4.2.1 8.2.1 2.6.1-4.8.1 2.2.1-5.6.1 1.6.1 4 .1-8.2.1 14.3.1-11.7.1 3.4.1-3.4.1 1.6.1 1.8.1-3.4.1 0 .1 0 .1 8.2.1-10.8.1 6 .1 0 .1-1.8.1 10.1.1-11.7.1 1.6.1 0 .1 4 .1-5.6.1 0 .1-1.4.1 7 .1-5.6.1 1.6.1-3 .1 1.4.1 1.6.1-3 .1 4.8.1 0 .1-1.8.1 4 .1 6.1.1-8.3.1-1.8.1 10.1.1-6.1.1 0 .1-7 .1 3 .1 10.1.1-3.5.1 0 .1-6.6.1 4 .1 10.9.1-17.9.1 4.8.1 4.8.1-2.6.1 0 .1 0 .1-5.6.1 1.6.1-1.6.1 3.4.1 0 .1-4.8.1 7 .1-2.2.1-1.8.1 6.6.1-2.6.1-7 .1-1.2.1 19.1.1-16.5.1 3.4.1 2.2.1-5.6.1 11.7.1 4.8.1-14.9.1 0 .1 4 .1 0 .1 6.1.1-3.5.1-2.6.1-7 .1 13.1.1-10.1.1-1.6.1 0 .1 1.6.1 10.1.1-6.1.1 0 .1-2.2.1 8.3.1-14.3.1 0 .1 2.6.1 3.4.1 13.1.1-8.3.1-6.6.1 1.8.1 2.2.1 10.9.1-10.9.1-4 .1 4 .1-4 .1 0 .1 1.8.1-4.8.1 3 .1 4 .1-5.6.1 0 .1 8.2.1-13 .1 3.4.1 9.6.1-8.2.1 3.4.1 2.2.1 0 .1 6.1.1 13 .1-19.1.1 6.1.1-3.5.1-2.6.1 2.6.1-4.8.1 2.2.1-7 .1 9.6.1 3.5.1 0 .1-6.1.1-4 .1 6.6.1 8.3.1 0 .1-4.8.1-6.1.1 10.9.1-13.1.1-3.4.1 16.5.1 0 .1 0 .1-13.1.1-1.8.1 0 .1 6.6.1 0 .1 3.5.1-3.5.1-4.8.1 8.3.1-3.5.1 3.5.1-3.5.1 3.5.1 0 .1 0 .1-6.1.1 0 .1 0 .1 6.1.1-3.5.1 0 .1 0 .1-4.8.1 4.8.1 3.5.1 0 .1-6.1.1 2.6.1 8.3.1-17.9.1 17.9.1-4.8.1-6.1.1 0 .1 0 .1 10.9.1 0 .1-10.9.1 2.6.1 3.5.1 0 .1 4.8.1-10.9.1 6.1.1-11.7.1 5.6.1 6.1.1-6.1.1 6.1.1-3.5.1 3.5.1-3.5.1 0 .1 0 .1 0 .1 8.3.1-13.1.1 2.2.1 0 .1-2.2.1 0 .1 21.3.1 0 .1-19.1.1 0 .1 6.1.1 4.8.1-4.8.1-6.1.1 19.1.1-16.5.1 3.5.1-3.5.1 3.5.1-8.3.1 8.3.1-8.3.1 0 .1 4.8.1 3.5.1-3.5.1-2.6.1 0 .1 10.9.1-4.8.1-10.1.1 0 .1 10.1.1-3.5.1 0 .1 0 .1-2.6.1 6.1.1 4.8.1 8.2.1-8.2.1-4.8.1-3.5.1 8.3.1-10.9.1 10.9.1-4.8.1 13 .1-24.7.1 11.7.1-3.5.1 3.5.1 0 .1-8.3.1 8.3.1 0 .1-3.5.1-6.6.1 23.1.1 0 .1 0 .1 0 .1-19.1.1 19.1" />
<path fill="none" stroke="#009999" stroke-width="1.4" stroke-linejoin="round" d="M75.5 261.1l.2-13.1.2-3.4.2-4.8.2 2.1.2 0 .2 19.1.2-.1M77.3 260.9l.2-21.3.2 4.8M78.1 247.8l.2-6.1.2-2.2.2-1.8.2-1.6.2-2.7.2 10.9.2 16.4.2-8.3.2 0 .2-10.9.2 10.9.2 0 .2-17.9.2 17.8.2-10.9.2 10.9.2 8.2.2-19.1.2-4 .2-4.3.2 1.3.2 13 .2-10.1.2 10 .2-6.1.2-5.5.2 3.3.2 4.8.2 3.4.2 0 .2 0 .2-11.7.2 5.6.2 10.8.2-10.9.2 6.1.2 13 .2-19.1.2 6 .2-3.4.2 16.4.2-16.4.2 8.1.2 0 .2-8.2.2 3.4.2-6.1.2 6 .2 0 .2 4.8.2-4.8.2-8.3.2 4.8.2-4.8.2 13 .2 0 .2-8.2.2 3.3M90.1 259.6l.2-16.4.2 0 .2 8.1.2-14.8.2 0 .2 3.9.2 0 .2 2.6.2-6.6.2 14.8.2-13 .2 8.2.2-.1.2-6 .2-2.2.2-1.9.2 23.1.2 0 .2-19.1.2 2.6.2-2.7.2 10.9.2-.1.2-13 .2 0 .2 2.1.2 2.7.2-6.7.2 14.8.2 8.2.2-19.1.2 6.1.2-.1.2-3.4.2 3.4.2-3.4.2 0 .2-4.9.2 13 .2-10.9.2 2.7.2-8.3M98.9 242.3l.2 0 .2-4.8.2 13 .2-17.9.2 4.8.2 0 .2-1.9.2 6.7.2 8.1.2 0 .2-10.9.2-4 .2 10.1.2-3.5.2-9.6.2 1.4.2 11.6.2-3.4.2-.1.2 3.4.2-3.4.2-6.7.2 1.8.2 2.2.2 2.6.2 0 .2 8.2.2 0 .2-10.9M105.1 233.5l.2 3.3.2 0 .2 8.1.2-6.1.2 6 .2-11.6.2 24.6.2-8.3.2-13.1.2 4.8.2-2.7.2-4.1.2 14.8.2-13 .2 4.7.2 3.4.2-8.3.2 13 .2-14.9.2 10 .2-8.3.2 8.2.2-3.5.2 16.4.2-21.3.2 4.8.2-.1.2 8.2.2-4.9.2 0 .2-10.1.2 3.9.2 2.6.2 0 .2 16.4.2-13.1.2-3.5.2-4.8.2 21.2.2-13.1.2-.1.2 0 .2-.1.2-14.3.2 14.2.2 0 .2 4.7.2-13 .2 8.1.2-10.1.2 4 .2 6 .2-3.5.2 8.2.2-.1.2 8.2.2-13.1.2 13 .2-16.5.2-2.7.2 10.8M117.7 241.9l.2 0 .2 4.7.2-8.2.2 3.3.2 0 .2-3.5.2 3.4.2-3.5.2 8.2.2-.1.2 0 .2-4.9.2-10.1.2 0 .2 14.8.2-4.9.2-3.4.2-4.9.2-6.1.2 27.3.2-19.2.2-2.2.2 13 .2-10.9.2-4.1.2 10 .2 4.8.2-.1.2-10.9.2 10.8.2-8.2.2 3.3.2-3.4.2-.1.2-2.7.2 10.8.2-8.2.2 3.3.2-8.3.2-3.6.2 24.6.2-21.3.2-2 .2 23 .2-.1.2-13.1.2-8.3.2 12.9.2-4.9.2-6.1.2 2.5.2-4.9.2-.1.2 8.1.2-11.7.2 3.3.2 13 .2-.1.2-4.9.2-6.2.2-2.2.2-2 .2 14.8.2-8.3.2-2.8.2-4 .2 22.9.2-13.1.2 4.7.2-.1.2-4.9.2-6.1.2 2.5.2-8.3.2 11.5.2-8.3.2 8.2.2 4.7.2-13.2.2-3.5.2 8.2.2-.1.2-.1.2 3.3.2-6.2.2 10.8.2-4.9.2-8.3.2 21.1.2-13.1.2-3.5.2-8.3.2 1.5.2 14.7.2-10.9.2-8.3.2 5.9M137.5 239l.2-13.2.2 2 .2 2.5.2 3.2.2-10.2.2-.1.2 6.4.2-6.8.2 14.7.2-.1.2-13.2.2 12.8.2-13.1.2 2 .2-2.4.2 2 .2 2.5.2 8.1.2-11.1.2 5.9.2 4.7.2-5 .2 12.9.2-8.4.2-5 .1-8.8.1-.9.1 5.7.1 0 .1-3.4.1-3.8.1 3.8.1-4.2.1 1.9.1-.4.1-2.5.1 1.4.1 3.8.1-4.2.1 4.7.1-4.3.1 2.8.1-1.7.1-2.1.1-1.3.1 3.8.1-1.9.1-1.9.1-.8.1 0 .1.5.1-1.3.1-.3.1 1.3.1.3.1-3.2.1 1.1.1-.7.1 1 .1 1.3.1-4.4.1.8.1-1.2.1 2.3.1-.5.1-1.4.1 1 .1 1.6.1-4 .1 1.6.1-2.8.1 3.8.1.5.1-4.4.1-.3.1 2.3.1-4.3.1 2 .1-2.3.1 1.2.1.5.1 1.5.1-2 .1-2.2.1 0 .1 1 .1-.6.1-.9.1-.1.1-.3.1 1.4.1-1.5.1-.2.1 0 .1 0 .1 1.3.1-.5.1-1.9.1-1.1.1 1.6.1-2.5.1.5.1 0 .1.5.1-1.6.1-.7.1 2.7.1-1.4.1-.2.1-1.1.1 0 .1 1.5.1-.7.1-.6.1-.7.1.6.1-.1.1-.5.1 0 .1.2.1-.2.1.6.1-2.5.1.5.1-.2.1 1.1.1-1.3.1-.2.1-.3.1-.1.1.6.1.2.1-.4.1-.4.1 1.4.1-1 .1.8.1-2 .1.8.1-1.3.1.7.1 0 .1.2.1-.4.1-.4.1 1.9.1-2.1.1.4.1-.4.1.4.1-.4.1-.7.1.6.1 0 .1-.4.1-1 .1.6.1 1.3.1-1.1.1.1.1-.4.1-.4.1 1.7.1-1.4.1-1.4.1 1 .1-.9.1 1.3.1-.3.1 1.2.1-1.2.1 1.1.1-1.1.1-.1.1 1 .1-.9.1 1.3.1-1.7.1 1.6.1.2.1-2.1.1 1 .1-.3.1.9.1-1.1.1-.4.1.5.1.4.1.2.1 1.1.1-1.4.1 1.5.1-1.5.1-.9.1 2 .1-1.3.1.6.1.2.1.4.1-.2.1.8.1-.3.1-1.1.1 1.3.1.5.1-.2.1-2 .1 1.7.1-.3.1-.5.1.9.1.6.1.1.1-1.6.1 2.1.1-.8.1-.8.1.4.1-.7.1 1.2.1 1.6.1-.6.1.1.1-.2.1-1.3.1 1 .1.5.1-.8.1-.2.1 2.1.1-1.2.1 1.2.1-1 .1.5.1 0 .1 1.9.1-2.6.1 2.1.1-.4.1.6.1 1.4.1-1.6.1 1.4.1-2.1.1 1.1.1.7.1-1.4.1 1.2.1.9.1-.1.1-2.3.1 3.3.1-1.8.1 1 .1.6.1-.5.1.5.1.6.1.1.1-.6.1 0 .1.7.1 0 .1-.1.1-.1.1-.5.1 3.6.1-2.1.1 1.1.1-2.9.1 1.8.1.8.1-1.3.1 2.7.1-2.1.1.6.1 1.2.1-1.3.1.4.1.4.1 1 .1.8.1-.4.1.1.1.5.1-3.7.1 1.7.1 2.3.1-1.4.1-.3.1 4.5.1-2 .1 1.2.1-.2.1.2.1.6.1-1.2.1.1.1.3.1-.7.1 3.9.1-2.2.1 1.4.1-.5.1 1.5.1-1.9.1.9.1.4.1-2.3.1 2.5.1 2.4.1-3.3.1 3.8.1-1.6.1 1.1.1-3.3.1 2.6.1-2.1.1 2.1.1-1.9.1 4.2.1-4 .1 4.2.1-3.2.1 3 .1-2.1.1.5.1 1.8.1 3.3.1-4.6.1.3.1.5.1-.3.1-.2.1 1 .1.3.1-1.1.1.8.1 5.3.1-5.5.1 1.1.1.6.1.7.1.7.1 0 .1 1.1.1.4.1.4.1.5.1-6.1.1 1.1.1 3.3.1 1.6.1-.9.1 7.1.1-9.3.1 1.8.1 3.6.1 1.1.1 0 .1-2.7.1-1.7.1.4.1 2.3.1-2.8.1 1.7.1 1 .1-1 .1-.5.1 3.1.1-1.7.1-2.8.1.4.1 3.4.1-1.6.1-2.6.1 4.2.1-5.1.1 2.5.1 1.4.1 2.9.1-4.8.1-1.3.1 4.2.1-3.8.1 5.6.1-4.4.1.5.1 2 .1 0 .1 1.8.1-5.3.1 2.3.1 2.9.1 0 .1-1.9.1-1.1.1 0 .1 0 .1.5.1.5.1 6.7.1-1.9.1-2.3.1 5.1.1-5.8.1.6.1-4.1.1 4.1.1 3.1.1-.9.1-3.6.1 7.6.1-3.2.1 2 .1-2 .1-.9.1 0 .1-.9.1 3.7.1-3.7.1 3.6.1-6.5.1-1.2.1 10.1.1-6.1.1 7.4.1-2.7.1-8.2.1.6.1 3.6.1-.8.1-2.9.1 6.5.1 9.3.1-11.3.1-3.2.1 4.1.1-1.9.1-3 .1 3.9.1.9.1-3.5.1 8.2.1 1.6.1-9.8.1 2.4.1.9.1-2.6.1 2.6.1 0 .1-1.9.1 2.9.1-5.2.1.7.1 4.4.1-2 .1.9.1 1 .1-5.1.1 2.2.1-2.3.1 4.1.1-2.6.1 7.4.1-10.3.1 11.8.1-3 .1 1.4.1-9 .1 4.1.1-2.6.1 3.6.1-2.8.1 5.2.1-4.4.1 0 .1-3.2.1 2.2.1 0 .1 0 .1 12.2.1-11.4.1 4.4.1-7.6.1-3.6.1 12.5.1-3.8.1 5.3.1 6.7.1-13.1.1 2.1.1-2.1.1 4.7.1 0 .1-12 .1 4.5.1 9 .1-4.2.1-4 .1-3 .1 8.2.1-1.3.1-8.2.1 2.6.1 2.4.1 5.8.1-1.5.1-4.3.1-.9.1-1.6.1 11.6.1-6.1.1-7.6.1 4.4.1-5.1.1 6 .1-3.4.1 3.4.1-6.1.1 7.1.1 1.1.1-3.1.1-.1.1-3.2.1 1.5.1-1.5.1 7.5.1-5.2.1 2.8.1-3.7.1 2.6.1 1 .1-1 .1-1 .1-3.9.1 2.2.1 2.6.1-4.8.1 4.7.1-1.8.1-.9.1-1.5.1-.7.1 2.2.1 0 .1-2.9.1 4.5.1 2 .1-3.7.1-4 .1 5.6.1-9.5.1 11.5.1-5.9.1 5.8.1-9.3.1 4.1.1-.7.1 2.2.1-.8.1-1.5.1 3 .1-3 .1-4.4.1 6.5.1-4 .1-1.6.1 3.4.1-1.9.1-2 .1 1.5.1-.6.1-3.2.1.8.1 2.3.1 4.3.1-5.3.1-2.2.1 3.7.1-3.7.1 1.7.1-.1.1 2 .1-3.3.1-1.6.1 4.3.1 0 .1-2.4.1 0 .1-2 .1 2.4.1-.9.1 1.8.1-4.4.1 2.2.1-.1.1 0 .1-3.4.1 2.6.1-1.4.1-.9.1-3 .1 1.3.1 1.7.1-.9.1.3.1 1.8.1-1.2.1.3.1.3.1-4.3.1 3.4.1 2.2.1-6.4.1 2.5.1-1.7.1 2.2.1-.8.1-3.4.1.9.1-1.8.1 1.1.1 1 .1-.9.1.6.1.9.1.7.1-4.4.1 2.1.1 0 .1-3.9.1 3.7.1-2.4.1-.8.1 0 .1 1.1.1-2.6.1 2.6.1-3.3.1.1.1-.4.1-1.2.1 0 .1 2.6.1-1.9.1 0 .1-.8.1.1.1-2.4.1.8.1 1 .1-1.7.1-1 .1-2 .1 1.5.1-.3.1-.9.1 0 .1-1.6.1.3.1-.3.1-1 .1-.1.1-.2.1.2.1 0 .1-2.6.1 1.4.1.5.1-2.2.1.6.1-1 .1-.6.1.5.1-.7.1-1.1.1.1.1-2.5.1 1.6.1-.1.1-1.5.1 1.1.1.5.1-1.6.1.1.1-.6.1-.4.1-.3.1-.2.1.4.1-.8.1-.6.1-1.1.1-.5.1.4.1.5.1-1.4.1-.4.1.3.1-.5.1-1.2.1.5.1-.3.1.7.1-.9.1-1.3.1.5.1-.7.1.3.1-.4.1-.4.1.2.1-.9.1-.5.1.1.1.2.1-.6.1-.4.1.1.1-.6.1.2.1-.1.1-.8.1.4.1-.2.1-.4.1-.2.1.2.1-.5.1.2.1-.4.1 0 .1-.8.1.2.1.7.1-.5.1-.2.1.3.1-.4.1-.1.1.5.1-.7.1 0 .1-.7.1 0 .1.2.1.2.1-.2.1-.4.1-.2.1-.3.1.4.1.3.1-.5.1.3.1-.3.1-.1.1.5.1-.4.1.2.1.4.1.2.1-.6.1-.2.1.6.1.2.1-.3.1.1.1.3.1.2.1-.3.1.2.1.2.1.4.1-.3.1-.2.1 0 .1 1.1.1.7.1-1 .1 0 .1.3.1-.1.1.6.1.2.1 0 .1.3.1.1.1 0 .1.5.1-.2.1 0 .1.9.1.2.1.6.1-.4.1.8.1-.6.1 1.5.1-.6.1 1.3.1-.6.1-.5.1.8.1.2.1.5.1.6.1.2.1.2.1-.2.1.6.1.9.1.7.1-.9.1.8.1.8.1.4.1.5.1-.1.1 1.9.1-.6.1-.1.1-.2.1 1.1.1 0 .1 1.2.1.3.1.6.1-.5.1 1.3.1-.5.1-.6.1.8.1 1.2.1.1.1.4.1-1 .1-.1.1 1.4.1.5.1 1.8.1-1.6.1-.4.1.9.1.8.1.3.1 1.4.1-.9.1.2.1 2.3.1-1 .1.4.1-.5.1.7.1 1.3.1-.7.1-.5.1.7.1 1.9.1-2.3.1 1.4.1 1.1.1 1.7.1.4.1-3.5.1 1.6.1 2.1.1.6.1-.9.1 1.1.1-.2.1-.5.1-.5.1-.2.1 1.1.1-.3.1-1.2.1 2 .1.1.1 0 .1 1.1.1-.8.1 3 .1-1.6.1-.1.1-1.1.1 1.4.1-1.7.1-.7.1 3 .1.4.1-1.7.1.5.1 0 .1.5.1-.9.1-.3.1 1.5.1.4.1-1.1.1-.3.1-.6.1 1.3.1-1.7.1 2.7.1-3.3.1 1.9.1 0 .1-1.3.1 1 .1 2.7.1-.3.1-2.8.1 2.1.1.1.1-2.1.1 1.1.1.4.1-1.2.1 1.4.1-.8.1 1.5.1-3.3.1 2.6.1.4.1.4.1-1.1.1-1.3.1-.3.1 1.3.1.3.1-.7.1.4.1 0 .1-1.3.1 2.7.1-1.4.1 2.4.1-1.4.1-.8.1-2.1.1.6.1.2.1-.2.1 3.2.1-2.1.1.8.1-1 .1-.9.1 1.5.1-1.4.1 2.8.1-1.8.1-2.2.1 4.1.1-4 .1 2.7.1-3.6.1.8.1 1.9.1-1.9.1 4 .1-1.2.1-1.6.1.7.1-1.6.1 1.7.1.4.1-2.3.1-.8.1.5.1 0 .1-.3.1-.1.1-.4.1 2.2.1 0 .1-.5.1-1.3.1.4.1 1.6.1.2.1-3.2.1 0 .1 2.2.1-.6.1-.3.1.5.1 2.6.1-3.4.1-1.1.1 0 .1.1.1 1.1.1.5.1-3.1.1 1.9.1-.7.1 2.9.1-3.8.1 2.6.1-1.7.1 1.7.1-2.1.1.5.1.8.1-2.2.1.1.1 1.5.1-.7.1.9.1.1.1-.9.1-.9.1 1.6.1 1.5.1-3.2.1.1.1 1 .1.6.1-.2.1-3.7.1 4.1.1-1.8.1-.1.1.9.1-.3.1-.1.1.9.1-.8.1-.2.1.2.1 2.4.1-2.3.1.5.1-2.7.1.2.1 3.2.1-.9.1-.7.1-.6.1 1.3.1-1.3.1.5.1-.4.1-.3.1-1.4.1 2.6.1-.2.1-.4.1-1.2.1 1.2.1-1.9.1.8.1-.6.1.7.1-1.1.1 2.9.1-3.1.1 1.9.1.2.1.9.1-1.8.1 2 .1-2.3.1-.4.1.1.1 1.8.1 1 .1-1.9.1.9.1-.3.1-2.3.1 2.9.1-.6.1-2.9.1 3.1.1-2.1.1-1.5.1 3 .1-1 .1-.3.1-.7.1.7.1-.3.1.4.1 1.5.1-2.8.1 1.5.1-.7.1.3.1-.4.1.8.1 0 .1 0 .1-1.8.1.7.1-.7.1.9.1.8.1-.8.1 0 .1.8.1-.4.1-.8.1.6.1-1.4.1 1.2.1-1.6.1 3.1.1-1.5.1-1.5.1 2.4.1-1.1.1 1.5.1-2.8.1.9.1.2.1.6.1-2.2.1 1.6.1.4.1-.4.1-.3.1.5.1.6.1-.8.1.2.1 1.5.1-2.6.1.9.1-.4.1 1.7.1-1.1.1-1 .1 1.1.1-.3.1.9.1.1.1-1 .1-.2.1-.2.1 2.1.1-3.3.1 1.6.1.2.1-.2.1-1.5.1 1.7.1 1.9.1-1.7.1-.2.1 1.6.1-1.4.1-.1.1-.5.1-.9.1-.2.1 1.3.1.6.1-1 .1.4.1-.7.1.8.1-.1.1 0 .1-.4.1.6.1-.4.1-.5.1-.4.1 2.3.1-1 .1-.3.1-1 .1.4.1 2.2.1-1.1.1-.9.1 1 .1.1.1-1.4.1.4.1-.8.1 1 .1.2.1-1.1.1 1.7.1-.7.1-1.2.1 1.1.1 1.8.1-1.7.1-.1.1.6.1-.5.1 0 .1 1 .1.8.1-1.2.1-1.6.1.6.1-.4.1.6.1-.5.1.1.1.8.1-.5.1-.3.1-.6.1.9.1.6.1-.6.1-.8.1 1.8.1.8.1-2 .1-.6.1 1.2.1.6.1 0 .1-.9.1.9.1-1.6.1.8.1-.2.1.3.1-.5.1 1.6.1-.1.1.2.1.2.1-1.9.1.2.1 0 .1 2.2.1-2.2.1.4.1-.7.1 2.3.1-2 .1 0 .1 1.9.1.1.1-2.3.1.3.1-.1.1.9.1.4.1-1.3.1 2.3.1-1.6.1-.9.1-.4.1 1.6.1.1.1-1.3.1 2.2.1-2.1.1 0 .1.5.1-1 .1-.2.1 2 .1.8.1-.9.1-.8.1.8.1.3.1-2.7.1.7.1 1.7.1-1.8.1 1.4.1-2.4.1 2.6.1.6.1-.8.1 1 .1-1.4.1.8.1-.4.1.4.1-.4.1-1.1.1.2.1.9.1.6.1-.6.1-.4.1.4.1 1.4.1-.9.1-1.6.1-.1.1 1.4.1 0 .1.6.1-1.7.1 1.2.1 1.1.1-1.2.1 0 .1-.4.1.6.1.1.1-1.6.1-.9.1 1.6.1-.3.1.3.1-.5.1 1.3.1-1.2.1-.6.1 2 .1-.6.1.3.1-.6.1-1.8.1.7.1 1.1.1.6.1-1.8.1 2.2.1.4.1-1.4.1-.2.1 1.1.1-.9.1 1.4.1-1.3.1.2.1-1.3.1 2.6.1-.8.1-1.1.1.2.1.2.1-.4.1.6.1 0 .1.4.1.2.1-1.7.1 2.7.1-1.4.1.5.1-1.7.1 3 .1-2.5.1-.1.1.4.1-.5.1 1.2.1 0 .1.1.1.5.1-1.8.1 1.4.1-2.1.1 1 .1 0 .1 2.2.1-.2.1 1.7.1-1.7.1-.7.1-1.3.1 2.3.1-1.3.1-1.6.1 1.8.1.3.1-.1.1.5.1 1.1.1-2.2.1-.8.1.7.1-1.2.1-.2.1 1.9.1-1.3.1-.1.1.6.1-.2.1 1.8.1-1.1.1-.3.1-.9.1.1.1.2.1 1.2.1-1.3.1 1.3.1-1.9.1.4.1 1.1.1-2.1.1 1.3.1-.3.1.9.1-.7.1.7.1-1.3.1 1.6.1-1.5.1 2.9.1-.8.1-1.2.1.9.1-1.7.1.7.1-.7.1.5.1 1.9.1-1.6.1 1.7.1-.7.1-2.5.1 2.6.1.3.1-.1.1-1.3.1.2.1.1.1.5.1-1.7.1 2.1.1-.8.1-.8.1 1.3.1-2 .1 2 .1 0 .1-.2.1.3.1-1.4.1 2 .1-1.1.1-.7.1.8.1.6.1-.4.1.9.1-2.7.1.8.1 2.3.1-.7.1-1.3.1-1.6.1.2.1 3.6.1-.8.1-1.8.1 1.2.1-.9.1.5.1-1.1.1 1.1.1-.2.1-1.3.1 2 .1-.2.1-1.3.1 0 .1 1 .1-.7.1 1.1.1-1.7.1-.1.1-.2.1 2.2.1 0 .1-2.3.1.6.1.8.1-1.3.1-.8.1 2.3.1-2.8.1 1.3.1 1.1.1-.2.1.3.1-1.7.1.3.1-.2.1 1.5.1-.5.1-1.9.1 1.4.1-.8.1.8.1-.5.1.7.1-.3.1.3.1-2.1.1 1.1.1 1.3.1 1 .1-1.8.1.3.1.8.1-3 .1 3.6.1-1 .1-2.6.1 1.2.1.8.1-.7.1 1.3.1-1.6.1 1 .1-.2.1 1 .1-2 .1 1.2.1 1.9.1-2.7.1 0 .1-1 .1 2 .1-1.6.1.1.1 1 .1-2.3.1 2 .1-.8.1.6.1.7.1-.8.1.2.1-.4.1-1.3.1.1.1.4.1 2.4.1-1.6.1-.5.1-.3.1.4.1-.3.1.5.1 1.2.1-1.6.1 1 .1.9.1-1.4.1 1.2.1-.7.1-.4.1.2.1-.9.1 2.2.1-1.1.1-1.4.1 1.6.1-.5.1-.4.1-.6.1-.1.1 1.3.1-.2.1 0 .1-.2.1-2.3.1 2.3.1.6.1-1 .1.4.1-2.1.1 4.2.1-2 .1-.1.1-.6.1 1.7.1-.3.1-.8.1-.9.1.1.1 1.7.1-.8.1.8.1-1.2.1-.4.1 1.3.1-1.4.1.5.1.5.1-1.1.1-1 .1 1.7.1.1.1-.3.1.3.1.9.1-1.6.1 1 .1 0 .1-.2.1-.2.1-.2.1.2.1 1.1.1-1.1.1-.1.1.2.1 1.9.1-1.1.1-1.6.1 2 .1-.9.1.4.1-.8.1.5.1-.6.1 1.2.1 1 .1-1.6.1-.5.1 1.2.1-.3.1-.7.1-.1.1-.5.1 1.4.1.4.1.4.1-1.1.1-.9.1.4.1 1.3.1-.8.1.7.1.3.1.8.1.3.1-1.3.1-.1.1.2.1 1.1.1-1.5.1 2.1.1-.2.1-2.2.1 1.6.1 0 .1.1.1-.3.1.8.1 1.1.1-1.3.1-.2.1 0 .1.6.1-.4.1-.9.1.5.1.9.1-.5.1-.9.1 2.5.1-2.3.1 1.1.1.7.1-1.3.1.8.1 1.7.1-2.1.1.2.1-.7.1 1.3.1-.1.1 1 .1-2.3.1 1.8.1.3.1-2.2.1-.1.1.9.1 1.6.1-.2.1 2.1.1-1.6.1-.1.1.4.1-.8.1-.6.1.5.1.9.1-.2.1 1.9.1-1.4.1.1.1 0 .1.2.1.7.1 0 .1-.3.1.3.1-1.7.1.4.1 2.6.1-1.5.1-1 .1 1.7.1-.9.1-.3.1 2.2.1-1.5.1.9.1.2.1-.2.1-.2.1 1.6.1-1.7.1-.5.1.6.1 1.7.1-.9.1-1.1.1 3.2.1-2.8.1.2.1 1.1.1-1.8.1 1.9.1-1.1.1 0 .1 1.4.1-.7.1.8.1-.8.1.5.1 1.5.1.2.1-2.9.1.9.1-.6.1 1.8.1-.7.1.1.1-1.7.1 1.5.1-1.8.1 2.8.1.6.1-.4.1-1.6.1.8.1 1.6.1-1 .1-3 .1 2.2.1 1.9.1-1.6.1.6.1-4.3.1 4.6.1-.6.1.5.1-1.5.1-.6.1 1.4.1-1.5.1 1.7.1.4.1-.6.1 1.2.1-1.4.1.1.1-1.4.1 1.4.1.8.1 1.2.1-2 .1 1.3.1-.8.1.7.1.8.1-1.5.1.1.1-2 .1 2.5.1-.3.1 0 .1-.7.1 1.9.1-1.7.1 1.6.1-2 .1 1.7.1-1.7.1.3.1 1.3.1-.6.1 1 .1-.7.1 0 .1-.3.1 1.3.1-.5.1 1.6.1-1.6.1-1 .1 1.2.1.1.1-2.4.1-1.6.1 4.6.1-1.5.1.8.1-1 .1-1.8.1.8.1 2.7.1-.9.1-1 .1.9.1-2.9.1 1.8.1.4.1.2.1 1.3.1-1.2.1-1.9.1-.4.1 1.6.1 1.1.1-1.7.1 2 .1.1.1-2.3.1 1.8.1-.8.1 2.2.1-1.3.1-.4.1.8.1-.4.1-1.6.1 1.5.1-.7.1.1.1 2.4.1-3.3.1 3.5.1-1.5.1 2.5.1-3.8.1-1.2.1-.5.1 1.2.1.4.1.5.1 1.2.1-4.4.1 2.6.1.8.1 1 .1-1.6.1 1.2.1-1.2.1-1.4.1 1.2.1 1.2.1.5.1 1.1.1-1.4.1-2.9.1 4.2.1-1.2.1.9.1-.2.1-1.2.1-.2.1.3.1.6.1-1.7.1 0 .1 1.2.1 0 .1-1.7.1 2.2.1.7.1-3.2.1.2.1 2.4.1-4.3.1 3.2.1 1.1.1-2.1.1-.9.1 2.2.1 0 .1-.2.1 1.7.1-1.3.1-1.5.1 1.3.1-1.9.1 2.4.1-1.9.1 1.2.1 1 .1-1.5.1 3.7.1-3 .1.1.1.6.1-1.3.1 2.4.1-.9.1-1.9.1.2.1.2.1 1.4.1-1.2.1 1.6.1-2.4.1 2.9.1-.6.1-.7.1 2.1.1-5.1.1 3 .1-1.1.1 2.4.1-1.3.1-1.4.1-1.1.1.8.1.3.1-1.1.1 2.1.1.4.1.4.1-.7.1.8.1 0 .1-1.9.1-.2.1 2.3.1 1.5.1-1.1.1 1.5.1-3.6.1 3.4.1-2.3.1-.1.1-.3.1 1.9.1-1.8.1-.4.1-1 .1 2.1.1.3.1-1.6.1-1.8.1 1.8.1 1.1.1-1.4.1 3.9.1-4.5.1 2 .1 4.6.1-5.9.1 1.3.1-1.1.1 1.5.1-.7.1.8.1-2.1.1 1.4.1-1.5.1-.2.1 4.9.1-3.3.1-.2.1-.9.1 1.6.1-.7.1-.8.1 2.1.1-.4.1-1.5.1 1.9.1-1.8.1 1.8.1.5.1-2 .1.4.1 1 .1-.6.1.9.1-2.3.1 3.9.1-2.5.1-.4.1.4.1-.3.1 0 .1.3.1.7.1-1.4.1.4.1.4.1-.2.1-1.5.1.5.1 1.4.1-1 .1.8.1 1.9.1-1.4.1-.9.1.6.1-.7.1-1.2.1.1.1 1.5.1-.7.1 1.4.1-1.4.1 1.6.1-2.6.1 4.2.1-1 .1 2.3.1-4.9.1 1 .1-.7.1 3.2.1-3.1.1.6.1.5.1-.5.1-.2.1.4.1-.4.1 1 .1.8.1-1.4.1 3 .1-.9.1-3.8.1 2 .1 0 .1.8.1 1.9.1-2.4.1-1.7.1 2.7.1-1 .1-.7.1.7.1.8.1.7.1-1.9.1-.2.1-.1.1.9.1 1.3.1-1 .1-3 .1 1.5.1-1.1.1 2 .1.6.1-3.2.1 3.8.1-1.8.1 1.7.1.3.1-4 .1 3 .1.7.1-2 .1-.7.1.2.1-.3.1 1.5.1-.8.1 1.4.1.4.1-1.8.1 2.1.1-1.3.1 1.4.1-.1.1-3.3.1 1 .1 1.6.1-2.2.1-1.2.1 2.4.1.7.1-.3.1-1.4.1.9.1-.5.1 2 .1 1.3.1-1.8.1-2 .1 3.5.1-1.8.1 3 .1-2.9.1 1.5.1.2.1-1.2.1.5.1-3.1.1 2 .1 1.2.1-1.7.1 2.6.1-2.6.1-1.6.1.8.1 3.8.1-2.7.1-.1.1-1.4.1 1.7.1-.6.1 2.5.1-2.4.1 2.3.1-2.5.1 1.8.1-1 .1-.4.1-.9.1.9.1 0 .1 1.5.1-2.5.1.6.1 1.5.1 2.2.1-3.7.1-1.1.1.6.1 3.5.1-2.8.1.9.1.4.1-2 .1-2.4.1 5.4.1-3 .1 1.5.1-2.7.1 1.5.1 1.5.1.2.1-2.1.1 2.1.1 1.1.1-3.1.1 1 .1-1.5.1-.3.1 4.5.1-4.8.1 1.4.1 1.5.1-.8.1-.1.1-.3.1.3.1-2 .1 1.1.1.3.1-2.4.1 1.2.1 3.7.1-2.3.1.1.1-.4.1.7.1-.4.1.5.1-2.4.1 1.7.1 0 .1-.5.1 2.5.1-2.3.1-.5.1.3.1 0 .1 3.2.1-2.5.1-1 .1 1.1.1-1.1.1 2.5.1-1.7.1-.4.1.6.1 2.5.1-4 .1 3 .1-1.7.1-.7.1 1.3.1.9.1-2.3.1 1.7.1-2.6.1 1.3.1.8.1-1.7.1-1.3.1 1.8.1-.5.1 2.3.1-1.4.1 3.1.1-1.2.1-1.9.1-.4.1.4.1 1.6.1-1.6.1.3.1-.7.1-.9.1 1.4.1.7.1-1.3.1-.3.1.4.1-1.3.1.8.1 0 .1.9.1-.9.1 1.2.1-1.3.1-.1.1 3.6.1-2.1.1-1.2.1-.9.1.4.1-.1.1.3.1 1.8.1-1.4.1-1.4.1 1.6.1-.3.1 2.1.1-1.7.1 1.2.1-2.4.1 1.3.1-1.6.1 1.9.1.4.1-1.8.1.5.1-1 .1-.3.1 4.3.1-2.4.1-2.6.1 3.6.1-1 .1-.1.1-.6.1-.9.1 1.5.1-.7.1 1.5.1 1.2.1-2.6.1 1.3.1-1.6.1 2.1.1-1.7.1 1.6.1-.7.1-2.1.1-1 .1 2 .1-1.5.1 1.5.1 1.1.1-1 .1 1.1.1 1 .1-2.1.1.9.1-.4.1 0 .1-2.1.1 1.6.1 2 .1-2.3.1-.6.1 1 .1.2.1 1.1.1-2.3.1 1.5.1-.9.1-.8.1-.2.1-.3.1 1.6.1-1.2.1.5.1 1.2.1-1.9.1-.2.1 1 .1 1.2.1-.7.1-1.2.1 2.6.1-1.7.1 1.4.1-.5.1-2 .1 1.5.1-.7.1-.4.1.8.1.6.1-.7.1-.8.1 1.1.1-2.5.1 4.2.1-2.1.1 1.4.1-.2.1.2.1-2 .1.1.1 0 .1-.3.1.6.1 2.1.1-2.3.1-1.4.1 0 .1 2.9.1-3.3.1 2.8.1-1.4.1-.2.1.6.1.2.1-.7.1 2.5.1-2.3.1 2.2.1-3.1.1 3 .1-2.1.1-1.5.1 1.1.1-.8.1 2 .1-1.3.1 1.1.1-1.4.1.8.1 2.9.1-4.2.1 1.8.1-1.5.1.3.1.2.1.2.1.1.1-1.2.1 3.2.1-3.7.1 1.7.1.5.1 0 .1-.3.1-1.7.1 1.2.1-.2.1 2.6.1-1.8.1-.1.1-1.6.1 1.2.1 2.1.1-1.8.1 0 .1.6.1-2.8.1 2.2.1-.1.1-.7.1.9.1-1.5.1 1.4.1 1.5.1-1.4.1 0 .1-2 .1 1.8.1.1.1-.8.1 2 .1-2.5.1 2.3.1-.9.1-.9.1.5.1.9.1.6.1-.2.1.2.1-.6.1-.3.1-1.2.1 2.3.1-.1.1-1.4.1-.7.1.6.1 1 .1-.6.1.6.1-1.6.1.1.1.7.1-2.5.1 3.1.1-.9.1.1.1-.5.1 1.5.1-2.5.1.3.1.5.1 1.7.1 1 .1-2.2.1-.9.1 2.2.1-2.5.1 1.7.1-2.1.1 2.2.1-.5.1-.9.1.1.1 3.3.1-4.1.1 2.5.1-1.2.1-1.8.1 3.1.1-1.3.1-1.7.1 1.3.1.1.1 2.1.1 0 .1-.6.1-2.1.1.4.1.5.1.6.1-1.2.1.9.1.1.1.3.1-1 .1-2.2.1 4.5.1 0 .1-1.3.1-1.9.1 2.5.1-.8.1-2.2.1 3.7.1-3.8.1 2.4.1-1.1.1.1.1 1.7.1-1.9.1 1.4.1-1.5.1 2 .1-.6.1.8.1-.6.1-2 .1.6.1 1.5.1-.1.1-.3.1.9.1.7.1-2.2.1-1 .1 1.4.1 1.1.1-2 .1 1.2.1-2.2.1 3.1.1-.3.1-.7.1 2.3.1-4.2.1 3.8.1-2.9.1 1.6.1.7.1-1 .1 1 .1 1 .1-.3.1-.8.1-1.2.1 2.2.1-1.5.1 1.2.1-.7.1.3.1-.9.1-.8.1.8.1.4.1 2.6.1-1.6.1-.8.1 1.4.1.4.1-1.5.1 1.8.1-.9.1-1.7.1.8.1-.3.1 4 .1-4.3.1 2.1.1.3.1.3.1-1.4.1.9.1-.7.1.6.1 2.7.1-5.7.1 3.6.1 1.9.1-1.6.1-.2.1-1.7.1.7.1-1.3.1 2.6.1.7.1 1.4.1-1.7.1-.7.1.7.1-1.5.1 1 .1 2.9.1-3.8.1.7.1-.8.1 1.9.1.6.1-.9.1-.6.1 2 .1.7.1-1.2.1-1.4.1 3.7.1-1.2.1-1.5.1.4.1-.2.1.7.1 2.4.1-3.8.1 2.1.1-1.8.1.7.1.4.1-1.1.1 1.7.1-1.8.1 2.1.1-.5.1 2 .1-4.7.1 6.7.1-1.5.1-2 .1 0 .1.4.1.3.1.2.1 1.5.1-1.5.1-.5.1-.2.1 1.8.1-2.2.1 1.7.1-3.1.1 3.8.1.2.1-.2.1-.9.1 1.9.1-3.2.1 6.4.1.7.1-3.9.1-3.5.1 4.3.1 0 .1-2.5.1 2 .1-2.8.1 2.2.1 4.2.1-4.4.1 3.4.1-5 .1-.7.1 3.6.1 1.2.1-.3.1-1.4.1-1.8.1 1.5.1 1.1.1 2.5.1-3.9.1 1.7.1 1.8.1-2.1.1-3 .1 3.3.1 3.3.1-4.2.1 0 .1 6.3.1-5.4.1.9.1 4 .1.9.1-1.7.1 0 .1-1.9.1 1.5.1-3.1.1 0 .1.6.1.6.1-2.4.1 2.4.1 0 .1-.6.1 1 .1 0 .1-1.6.1-1.5.1 1.5.1-.9.1 2.1.1-.3.1 1.8.1.8.1-1.6.1-1.3.1 4.2.1-2.5.1-2 .1 2.8.1 3.1.1-.5.1-2.2.1 0 .1 0 .1.4.1-3.9.1 7.3.1-4.2.1.8.1 0 .1-.4.1-.4.1.8.1 0 .1 0 .1 1.8.1-2.6.1 2.6.1-.9.1 1.9.1-.5.1-.5.1-1.8.1 4.6.1-.6.1-.6.1 4 .1-1.5.1-4.6.1-3.3.1 3.3.1-.4.1 5.7.1 1.6.1-2.3.1-2.5.1-2.5.1 3.1.1 4.2.1-5.9.1 2.9.1 3 .1-5.9.1.5.1 1.8.1-1.2.1-1.6.1 2.2.1 1.2.1-3.9.1-.4.1 5 .1-2.5.1 1.2.1-5.8.1 1.6.1 5.5.1-3.6.1 2.9.1 4.8.1-1.8.1.9.1-9.1.1 10 .1 4.8.1-8.2.1-2.6.1 7.1.1-5.9.1.7.1 3.2.1-3.9.1-3.4.1 2.8.1 2.8.1-2.8.1 4.5.1-.9.1-3.6.1 5.4.1-4.8.1 3.9.1-4.5.1 2 .1-2 .1 2.8.1 1.7.1-5.7.1 4.8.1-5.4.1-.5.1 8.8.1-5.2.1 3.2.1-3.9.1 3 .1 0 .1-.8.1-2.2.1 1.4.1 0 .1.8.1.8.1-4.8.1 10 .1-7.5.1-5 .1 9.1.1-4.1.1 6.3.1-4.8.1-2.8.1 15.8.1-15.8.1 2 .1-2 .1 3.6.1 5.2.1-3.4.1-3.4.1 1.6.1-.8.1.8.1 10 .1-10.8.1 7.4.1-3.7.1 0 .1 2.3.1-5.2.1.9.1 4.3.1 1.4.1-5.7.1-2.5.1 4.5.1 5.3.1-5.3.1 3.7.1-2.6.1 1.2.1 9.7.1-10.9.1-2.2.1 4.8.1-4.8.1-.9.1 2 .1-2.9.1.9.1 5.7.1 1.6.1-5.3.1 3.7.1-7.4.1 3.7.1-7.1.1 14.2.1-12.3.1-.7.1 5.9.1 2.3.1-2.3.1 2.3.1-3.4.1-3.4.1 6.8.1-2.3.1 5.3.1-4.2.1-4.8.1-3.4.1 6 .1-.9.1 3.1.1-3.1.1 5.7.1 3.4.1-6 .1-10.4.1 6.4.1-1.6.1 3.4.1-4.8.1 9.6.1-4.8.1 0 .1 2.2.1-2.2.1 10.4.1-8.2.1-1.1.1 3.7.1-1.4.1 3 .1-4.2.1-2.2.1 2.2.1-1.1.1 1.1.1-1.1.1-4.5.1-.7.1-2.5.1 11.4.1 3.4.1 0 .1-8.2.1 0 .1-.9.1 2 .1 2.3.1-9.4.1 6 .1 0 .1-5.4.1 7.6.1 1.2.1-5.2.1 4 .1-4.8.1 9 .1-4.2.1 0 .1-4.8.1 6 .1 4.8.1-6 .1-2.2.1 3.4.1-2.3.1-2 .1-3.9.1 11.2.1-3 .1-5.2.1 1.8.1-.9.1-1.7.1 4.8.1 0 .1 1.2.1-4.3.1 9.1.1-8.2.1 0 .1 1.1.1 1.1.1-5.6.1 8.2.1-10.2.1.6.1 5.9.1-3.7.1 9 .1-7.3.1 4.3.1 4.8.1-4.8.1-6 .1 1.7.1-2.5.1 6.8.1-2.3.1 1.1.1-7 .1 7 .1-2.2.1 2.2.1 1.2.1-5.2.1 5.2.1-2.3.1 0 .1-3.7.1 2.6.1-4.1.1.7.1 1.6.1-.8.1-2.2.1 3 .1 4 .1-1.1.1 1.1.1-7 .1 1.4.1-1.4.1 8.2.1-2.3.1-3.7.1-3.4.1 7.1.1-1.1.1 3.4.1-11.6.1 6.4.1 1.8.1-5.4.1 2 .1 4.5.1-5.2.1 6.3.1-4.8.1-4.6.1 3.1.1 6.3.1-8.8.1 4 .1-2.2.1 3 .1-3 .1 8.2.1-3.4.1-8.7.1 7.8.1 5.7.1-10.2.1 1.3.1 1.5.1-5.1.1 2.9.1-1.2.1 1.9.1 2.3.1-1.6.1-5.7.1 6.5.1-.8.1 0 .1-3.8.1 2.4.1-1.2.1-1.2.1 1.2.1.6.1-1.2.1-.6.1 7.2.1-4.8.1-2.9.1-1.4.1-1.7.1 5.4.1-2.8.1.5.1 1.1.1 1.8.1-4.8.1 6.2.1-5.7.1-1.7.1 4.8.1-2.2.1-1.8.1 3.4.1-6.7.1 1.3.1 6 .1-1.2.1-1.9.1 4.3.1-1.8.1-2.5.1 1.4.1-4.3.1 3.3.1 0 .1-.9.1-4 .1 4 .1 1.4.1-2.6.1 3.1.1-5 .1 1.5.1-1.8.1-.3.1 1.3.1-1.9.1 2.7.1-.8.1-2.2.1.3.1 1.2.1-1.8.1-.3.1-.8.1 2.6.1-.3.1-.9.1 3 .1-3.9.1.6.1-3.5.1 3.2.1 1.8.1-3.2.1.8.1.3.1 0 .1.6.1-3.5.1 1.1.1.7.1-.2.1-1.4.1 1.6.1-1.6.1-.4.1-1.6.1-.4.1 1.3.1-1.1.1-1.1.1 1.7.1-.6.1-2.2.1.2.1-1.6.1.1.1 3 .1 0 .1-3.8.1 1.4.1-2.1.1.3.1.1.1.2.1-.3.1.8.1-2 .1 1 .1-.4.1 1 .1-2.3.1 1 .1-4.3.1 2.6.1-1.2.1-.2.1.2.1-2 .1-.3.1 1.1.1-1.4.1.5.1-.5.1-.4.1 0 .1-.8.1-1 .1-.6.1 1.7.1-2.6.1.6.1 0 .1-1.5.1-.2.1 0 .1-.4.1-1.7.1-.7.1.8.1-1.9.1-.1.1 1 .1-2 .1-.7.1 0 .1-1.8.1.6.1-.8.1-1.5.1.5.1-1 .1-.7.1-.4.1-.5.1-1.2.1-.6.1 0 .1-1.4.1-1.2.1-.4.1-.2.1-1.4.1-1.3.1-1 .1-.2.1-2 .1 0 .1-1.4.1-1 .1-1 .1-1.2.1-1 .1-1 .1-1.5.1-1.2.1-1.3.1-1.4.1-1.4.1-1.4.1-1.6.1-1.6.1-1.6.1-1.8.1-1.8.1-2 .1-2 .1-2.2.1-2.3.1-2.4.1-2.6.1-2.7.1-2.9.1-3.1.1-3.2.1-3.3.1-3.3.1-3.1.1-2.6.1-1.8.1-.7 0 0 .1.7.1 1.8.1 2.6.1 3.1.1 3.3.1 3.3.1 3.2.1 3.1.1 2.9.1 2.7.1 2.6.1 2.4.1 2.3.1 2.2.1 2 .1 2 .1 1.8.1 1.8.1 1.6.1 1.6.1 1.6.1 1.4.1 1.4.1 1.4.1 1.3.1 1.2.1 1.2.1 1.4.1.7.1.9.1 1.2.1 1.5.1 1 .1 1.3.1.7.1.7.1.6.1 1 .1.6.1 1.5.1.3.1.5.1 1.2.1.1.1 1.6.1.4.1.7.1.8.1.6.1 1.6.1.6.1-.2.1 1.3.1 0 .1.1.1 1.4.1.1.1 0 .1.7.1 1.2.1 1.1.1.2.1 1.2.1-1.2.1 2 .1-.2.1-.6.1 1.5.1 0 .1.8.1.3.1-.5.1 2.8.1-1.8.1.6.1 1.1.1-.2.1 1.1.1 1.1.1.8.1-2 .1 1.4.1 1.2.1.6.1-1.9.1 2.9.1-3.1.1 1.9.1 1.9.1-.9.1-.1.1 4.6.1-2.6.1-.1.1 3.1.1-3.4.1.9.1 1 .1 2 .1-1.1.1 0 .1 1.1.1 0 .1-2.9.1 4.9.1 1.5.1-3.2.1-.7.1 1.6.1-.4.1-1.4.1 1.6.1 2 .1 1.4.1-1.8.1-2.9.1-.2.1 3.5.1 1.1.1 2.5.1-4.7.1 2.7.1 3.2.1-2.7.1 2.1.1-2.4.1-.7.1 7.7.1-8.5.1.7.1 2.5.1.3.1-2.3.1 3.9.1 1.6.1-4.2.1 3.7.1-1.4.1-.4.1 3.1.1-2.8.1-.3.1-3 .1 4.8.1-.4.1-3.3.1 4.5.1-1.2.1-1.5.1 5 .1-1.5.1 4.4.1-3.5.1-.4.1.4.1 1.6.1-2.5.1 1.4.1-.5.1-2.3.1 2.8.1 0 .1-4 .1 3 .1 7.7.1-8.7.1 1.9.1-1.4.1 2.5.1-1.6.1-1.8.1 2.8.1 1.1.1 1.9.1-3.6.1 4.3.1 2.5.1-3.2.1 1.5.1-5.6.1 6.4.1-4.3.1-2.1.1 9.2.1-2.9.1-1.5.1-1.5.1-.6.1 3.6.1-5.4.1 3.1.1-1.3.1 0 .1.6.1 1.4.1 4.4.1-6.5.1 1.3.1 0 .1 1.5.1-4 .1 7.6.1-1.9.1-5.2.1 9.5.1-3.4.1-7.2.1 6.2.1 3.1.1-8.2.1 5.1.1-3.2.1 4.1.1-6 .1-1.7.1 7.7.1-7.2.1 9.3.1 1.3.1-4.4.1 0 .1 5.7.1-7.4.1 0 .1.8.1 6.6.1-8.2.1.7.1-1.5.1 4.2.1 1 .1-2 .1.9.1-1.8.1-.8.1 3.6.1-1 .1-3.4.1 6.8.1 0 .1-9.5.1 10.9.1-4.9.1 4.8.1 11.7.1-11.7.1-1.4.1-6 .1 3.6.1 3.8.1-3.8.1-8.8.1 9.9.1 4.2.1-9 .1 3.7.1 2.3.1 4.8.1-14.3.1 3.4.1 0 .1 6.1.1 0 .1 1.4.1 0 .1 1.5.1-4.2.1 1.2.1-1.2.1 1.2.1-3.4.1 2.1.1-6.3.1 1.5.1.8.1 12.2.1-7 .1 7 .1-11.3.1 11.3.1-9.4.1 5.4.1 1.8.1-6.1.1 1.3.1 1.4.1 1.5.1-1.6.1-6.6.1 4 .1 1.2.1-1.2.1 2.6.1 5.6.1-12.3.1 5.3.1 2.9.1 6.7.1-8.3.1-5.7.1 11.3.1-10.4.1 1 .1 0 .1 2.4.1 9.6.1-9.6.1 2.9.1 0 .1-6.4.1 16.5.1-14.3.1 10.8.1-13 .1 8.2.1 0 .1 2.1.1-9.3.1 15.4.1-8.2.1-4.9.1 1.4.1-1.4.1-2.4.1 9.4.1-5.6.1 24.7.1-23.1.1 4 .1-8.2.1 8.2.1-4 .1 6.6.1-6.6.1 4 .1-2.2.1-3.4.1 0 .1-5.8.1 2 .1 15.4.1-14.2.1 4.2.1-6.4.1 16.4.1-11.6.1 11.6.1-14.2.1 4.2.1-1.6.1 11.6.1-10 .1 0 .1-3 .1 4.8.1 4.8.1-6.6.1-4.2.1 2.6.1 0 .1 1.6.1-3 .1 3 .1 6.6.1-4.8.1-6 .1 1.2.1 7 .1-8.2.1 4.2.1 6.6.1-9.6.1 3 .1 6.6.1-8.2.1-1.4.1 7 .1-2.2.1 8.2.1-6 .1-2.2.1-1.8.1-3 .1 13 .1-10 .1 4 .1 6 .1-11.6.1 0 .1 0 .1 5.6.1 0 .1 0 .1-5.6.1 1.6.1 0 .1 0 .1 1.8.1 0 .1 0 .1 4.8.1-2.6.1 0 .1-5.6.1 1.6.1 6.6.1-10.8.1 1.2.1 13 .1-6 .1-2.2.1 0 .1-3.4.1 0 .1 5.6.1-8.2.1 0 .1 8.2.1 2.6.1 0 .1 8.2.1-10.8.1-4 .1-3 .1 26.1.1-13.1.1-6 .1-4 .1 6.6.1-4.8.1 2.2.1 0 .1-4 .1 10 .1-6 .1 6 .1-8.2.1 2.2.1-2.2.1-4.8.1 4.8.1 4.8.1 3.4.1 13.1.1-21.3.1 2.2.1-2.2.1 8.2.1 0 .1-10 .1 1.8.1 0 .1 4.8.1-2.6.1 2.6.1 0 .1-2.6.1 19.1.1-19.1.1-4M508.7 233.1l.1-2.2.1 2.2.1 10.8.1-4.8.1 4.8.1-10.8.1-4 .1 14.8.1-13 .1 2.2.1 0 .1-8.2.1 8.2.1 10.8.1-4.8.1-3.4.1-2.6.1-2.2.1 4.8.1 8.2.1-13 .1-6 .1 14.2.1-6 .1 0 .1-2.2.1-3.4.1 3.4.1 8.2.1 13.1.1-24.7.1 5.6.1-2.2.1 0 .1 8.2.1 0 .1 4.8.1-8.2.1-4.8.1 4.8.1-2.6.1-4 .1 14.8.1-10.8.1 6 .1-3.4.1 3.4.1-3.4.1 8.2.1-19 .1 14.2.1-8.2.1-6 .1 8.2.1 19.1.1-21.3.1 2.2.1 2.6.1 3.4.1-11.6.1 3.4.1 4.8.1 3.4.1 0 .1 4.8.1-19 .1 14.2.1 0 .1-6M515.8 239.1l.1-6 .1-4 .1 14.8.1-8.2.1-4.8.1 2.2.1-2.2.1 4.8.1 0 .1-4.8.1 0 .1 2.2.1-2.2.1 4.8.1-4.8.1-1.8.1 0 .1 6.6.1 0 .1 0 .1-2.6.1 0 .1 0 .1 6 .1-11.6.1 16.4.1-10.8.1 2.6.1 8.2.1 0 .1-8.2.1 16.5.1-21.3.1 4.8.1 3.4.1 0 .1-6 .1-2.2.1 4.8.1-4.8.1 8.2.1-8.2.1 13 .1-10.8.1 0 .1 6 .1-3.4.1 3.4.1-10 .1 0 .1 0 .1 4 .1 19.1.1-13.1.1-3.4.1 16.5.1-16.5.1 3.4.1 0 .1 4.8.1 0 .1 0 .1-10.8.1 10.8.1-17.8.1 7 .1-4 .1 6.6.1 8.2.1 0 .1-4.8.1 13.1.1-16.5.1-4.8.1 2.2.1 6 .1-6 .1 2.6.1 8.2.1-8.2.1 16.5.1 0 .1-8.3.1 8.3.1-13.1.1-13 .1 9.6.1-2.6.1 6 .1-8.2.1 4.8.1 16.5.1-13.1.1-11.6.1 11.6.1 13.1.1-16.5.1 0 .1-2.6.1 6 .1-3.4.1 0 .1 3.4M526.3 239.1l.1-8.2.1 2.2.1 6 .1 4.8M526.9 239.1l.1-3.4" />
<path fill="none" stroke="#a020a0" stroke-width="1.4" stroke-linejoin="round" d="M75.5 270.7l.2 2.7.2-2.7.2 6.1.2-6.1.2 6 .2-6 .2 6 .2 13 .2-19 .2 0 .2 2.6.2 8.2.2-14.9.2-1.6.2 1.6.2 6.6.2 3.4.2-6 .2-8.2.2 4.2.2 6.6.2 0 .2-2.7.2 0 .2 19.1.2-19.1.2-4 .2 6.6.2 0 .2 8.2.2-16.4.2 16.4.2 0 .2-10.8.2-9.4.2 15.4.2-13M83.3 270.4l.2-4 .2 1.8.2 8.2.2-10 .2 0 .2 14.8.2-4.8.2-8.2.2-4.8.2 17.8.2 0 .2 0 .2-8.3.2 8.3.2-.1.2-14.8.2 1.8.2 13 .2-8.2.2-4.8.2 8.2.2 0 .2-8.2.2 8.2.2-3.5.2 3.4.2 4.8.2-4.8.2-6 .2 10.8.2-13 .2 2.1.2 0 .2 2.7.2-2.7.2-4 .2 1.8.2 13.1.2-8.3.2-9.6.2 9.6.2 8.2.2-8.2.2 0 .2 3.4.2-3.4.2 3.4.2 4.8.2 0 .2-4.9.2 0 .2-3.4.2-2.6.2 2.6.2 8.2.2 8.2.2-23.1.2 14.9.2 8.2.2-13 .2-3.5.2 0 .2-8.2.2 3.4.2 0 .2 2.2.2-2.2.2 2.1.2 6.1.2-3.4.2-2.7.2 2.7.2-2.7.2-5.6.2 8.2.2-6.6.2 6.6.2 8.2M99.3 275.8l.2 4.8.2-10.9.2 2.7.2 8.2.2-8.3.2 0 .2-9.6.2 7 .2-4 .2 23 .2-13 .2 0 .2-3.4.2 16.4.2-23.1.2 4 .2 6.1.2-11.7.2 0 .2 5.6.2 2.6.2-4.8.2 21.2.2-8.2.2-10.9.2 19.1.2-16.4M105.1 275.6l.2 13 .2-16.5.2 0 .2 3.4.2 4.8.2-10.8.2 6 .2-8.2.2 0 .2 2.1.2 10.9.2 0 .2 0 .2-.1.2-4.8.2-3.4.2 8.2.2-4.8.2-3.4.2 3.4.2-3.4.2-9.7.2 13.1.2-6.1.2 6 .2 4.8.2 0 .2-10.8.2 6 .2-10 .2 23 .2-26 .2 4.8.2 0 .2 8.2.2-6.1.2 10.9.2-8.3.2 0 .2-6.6.2 14.8.2 0 .2-8.2.2 8.2.2-17.8M114.5 275.2l.2-3.5.2-2.6.2 6 .2-6 .2-2.2.2 21.2.2-8.2.2-13 .2-1.9.2 10.1.2-3.4.2-4.9.2 8.3.2-.1.2-3.4.2-4.8.2 8.2M118.3 275l.2-3.4.2-2.7.2-8.2.2 27.3.2 0 .2-13 .2-.1.2 13.1.2 0 .2-16.5.2 8.2.2-4.8.2-8.2.2 2.1.2 0 .2 6.1.2-3.4.2-4.9.2 2.2.2 2.6.2-2.6.2 0 .2 6 .2 4.8.2 8.2.2-19.1.2 19.1.2-13 .2-6.1.2 6.1.2-8.3.2 8.2.2-6 .2-4 .2 1.8.2-.6.1-1.9.1-6.4.1 4.8.1-2.6.1 2.6.1-7.4.1 6.1.1-3.5.1-.9.1 3.1.1 0 .1-5.6.1 5.6.1 1.3.1 0 .1 0 .1 2.9.1-4.2.1-3.1.1 9.2.1-11.7.1 6.9.1-2.4.1-1.1.1 3.5.1-6.1.1 4.8.1-1.1.1-4.5.1.8.1 2.6.1 1.1.1-6.5.1 3.6.1-.8.1-.8.1 4.5.1-6.5.1 5.4.1-.9.1-3.9.1 3.9.1-4.5.1 6.5.1-3.7.1-2.2.1 1.4.1-2 .1 0 .1-1.2.1-.5.1 0 .1 2.3.1-5.6.1 12.6.1-14.5.1 6.9.1 1.3.1-3 .1-1.6.1 2.1.1 1.8.1-1.8.1-3 .1-1.2.1 4.8.1-6.7.1 1.1.1 2.5.1 2.5.1-2.5.1-.5.1.5.1-2.9.1 3.3.1 0 .1 3.9.1-7.5.1 2.3.1-5.6.1 8.5.1-.6.1-6.2.1-1.5.1 0 .1 1.8.1 2 .1-3.2.1 2.8.1-2.8.1 4.4.1-.8.1-4.2.1 3.8.1-1.1.1-1.2.1 1.2.1-1.5.1-3.8.1 6 .1-3.9.1-1 .1 1 .1-.2.1-.8.1-.9.1.7.1 1.5.1.2.1.3.1-2 .1 1.5.1-3 .1.6.1 2.4.1-1.5.1-1.7.1 2.9.1-.7.1-4.4.1 4.6.1-1.8.1-.6.1-.8.1-.7.1 3.2.1-2.9.1-1.2.1 2 .1.4.1-1.9.1 1.9.1-4.1.1 3.5.1-1.1.1 1.3.1-3.7.1.4.1.7.1 0 .1.1.1 3.5.1-4.4.1-1.1.1 1.5.1-.8.1 1 .1-.5.1 1.3.1-3.5.1 1 .1 1.2.1-2.6.1.9.1.5.1.8.1-1.7.1 1.2.1-.8.1-.9.1 1.7.1.1.1-3 .1 1.4.1-1.2.1 1.6.1 0 .1-3.2.1 3 .1 1 .1-3.5.1 1.8.1.1.1-1.7.1 1.4.1-1.1.1.3.1.3.1-1.7.1 1.9.1 1.3.1-2.8.1.6.1-1.3.1 0 .1 1.1.1-1.5.1-.7.1.6.1.3.1-.7.1 1.2.1-1.1.1 2.4.1-1.5.1-1.2.1-.9.1 1.5.1-1.1.1.6.1-.6.1.7.1-.3.1-.2.1.3.1-.5.1.1.1.2.1.9.1-1.9.1.7.1.8.1-1.9.1-1.1.1 2.3.1.3.1-2.2.1.8.1.7.1.8.1-.9.1-.3.1 1.3.1-1 .1.4.1-1.8.1-1.2.1-.1.1 2.7.1.4.1-.9.1-.4.1-1.6.1 2.8.1-1.7.1 1.4.1-.6.1-1.2.1-.1.1.3.1-1 .1 1.7.1-2.4.1 0 .1 1 .1-.9.1 1.4.1-.6.1-.5.1-.2.1.2.1 1.4.1-1.8.1-.4.1 2 .1-.7.1 0 .1.1.1 1 .1-1.4.1-.4.1 1.9.1.2.1-.8.1.4.1-2.2.1 1.2.1.2.1.2.1-.2.1-.9.1-.9.1.7.1.8.1-.1.1.8.1-1.9.1.7.1 2.6.1-2.5.1.7.1-.8.1.3.1.3.1-1.2.1.1.1.5.1-.3.1 1.5.1-.7.1-.1.1 1.2.1-.6.1 0 .1-1.8.1 2.6.1-1.8.1-.3.1 1.4.1-.1.1.3.1 0 .1 1.1.1.2.1-.1.1-.6.1.2.1.1.1-.3.1-.3.1-.2.1.2.1.8.1 0 .1-.7.1 1.4.1 0 .1-.7.1.2.1-1.6.1.3.1-.1.1 1.8.1-.6.1.3.1-.6.1 1.2.1-.1.1 1.2.1-1 .1.7.1-.4.1-.7.1.4.1-1.6.1.8.1-.2.1 2.9.1-.3.1-.1.1-.1.1.5.1 1 .1-1.4.1-1.8.1 2.6.1-.1.1-1.2.1.1.1-.2.1 1.1.1.2.1-1.8.1.1.1 1.2.1.8.1-.4.1.9.1-2.2.1 3.6.1-2.5.1 1 .1 1.2.1-1.8.1 2.4.1-2.8.1.4.1-1 .1.1.1.7.1 0 .1-.1.1 1.2.1-.2.1 1.5.1-.9.1.2.1-.6.1-.6.1 1.5.1 1.5.1.7.1-3 .1 1.7.1-.6.1.3.1.5.1 1.6.1-2.1.1 2.3.1.2.1-2.7.1 3.2.1.3.1 1.5.1-4.2.1 2.9.1 1.2.1-3.7.1.3.1 1.9.1 0 .1-.4.1.2.1 2 .1 1.6.1.2.1-3.5.1-.5.1 1.3.1 2.9.1-3.5.1-1.5.1 1.6.1-.6.1 3.6.1-3.3.1 3.7.1-4 .1 3.8.1.2.1-2 .1.2.1 1.8.1.9.1-.7.1-2 .1 1.6.1.6.1-.4.1-1.8.1-.9.1 4.3.1 1.3.1-1.8.1-.4.1 2.5.1-3 .1.5.1 1.2.1 3.4.1-1.5.1-1.9.1 3.4.1-4.2.1 3.9.1-.9.1-1.7.1 2.6.1-3.1.1 2.5.1-1.5.1 2.1.1 1.4.1-2.3.1.9.1-.9.1 1.2.1-.9.1.3.1-.6.1 0 .1 1.6.1 0 .1-1 .1 1.3.1 2.4.1-.8.1-1.9.1-3.1.1 5.8.1-2.7.1-1.3.1 1.6.1 3.3.1-5.5.1 3.8.1-4.4.1 7.7.1-5.2.1 3.2.1-.5.1 1.4.1-2.6.1 2.1.1-1.3.1.4.1-1.2.1-1.9.1 2.3.1 0 .1.4.1-3.3.1 3.3.1-1.2.1-.4.1 3.4.1 2.7.1 2 .1-7.8.1.7.1 1.8.1-3 .1 2 .1 3.6.1 1.2.1-4.8.1-.1.1 2.4.1-.5.1-1.9.1 2.9.1-2.1.1 0 .1.5.1-.5.1 3.2.1-3.7.1-1.3.1 1.7.1 1 .1 4.2.1-7 .1 4.4.1-.1.1 0 .1-3.1.1 1.9.1 1.8.1-1.3.1 1.2.1 3.6.1-3 .1 1.4.1 0 .1-.8.1-5 .1 5.7.1-.7.1-3.7.1 11.1.1-3.4.1-6.6.1 7.6.1-2.9.1-4.2.1-.6.1 3.2.1-2.7.1-1.1.1-.1.1 4.6.1-2.9.1 2 .1-3.8.1 3.1.1 4.1.1-7.2.1 4.5.1-1.5.1 4.1.1-3.4.1.7.1-2.2.1 3 .1-3 .1-1.3.1 7.1.1-5.2.1 1.5.1 2.6.1-4.2.1 4.1.1-10 .1 5.9.1 1.4.1-1.5.1 1.5.1.8.1 3.9.1-2.1.1 2.1.1-5.6.1 1.6.1-5.9.1 5 .1 6 .1-2.4.1-3.7.1-2.8.1-.6.1 2.6.1 2.5.1-1.8.1-1.5.1-.7.1.7.1 2.3.1 2.8.1-4.5.1 0 .1.8.1-.1.1 4.8.1 0 .1-9.9.1 9.9.1 2.6.1-1.4.1-11.7.1 9.2.1-3.7.1 2.7.1-1 .1-6.8.1 4.3.1-3.3.1 5.7.1-.9.1-1.6.1-2.1.1 2.1.1 2.4.1-1.7.1 0 .1-.8.1-3.8.1-.6.1 0 .1 11.1.1-10.6.1 8.2.1 0 .1-5.9.1 3 .1-.1.1-3 .1 2.2.1-.8.1-3.3.1 3.2.1 1.6.1 2.8.1-1 .1-4.2.1 0 .1-4.6.1 9.7.1-8.2.1 2.3.1 1.4.1 3.4.1-8.7.1-2.2.1 8.2.1-2.8.1-.7.1-1.1.1 4.5.1-2.2.1-2.9.1.5.1 1.1.1-1.7.1.5.1-1.5.1 0 .1 3.9.1-4 .1 2.7.1 2.6.1-2.7.1 1.9.1-1.3.1-1.8.1-2 .1.9.1 0 .1.5.1 7.7.1-4.2.1-5.5.1 3 .1-3.8.1 1.7.1 2 .1-2.5.1-1.7.1 2.6.1-1.9.1 1.4.1-.1.1-4.9.1 2.3.1 2.6.1-2.2.1 2.6.1-.5.1-3.3.1 5.9.1-4 .1 0 .1 0 .1-3.4.1 3.3.1-4.8.1 2.5.1-1.4.1 1 .1 1 .1-4.3.1 2.9.1.6.1-1.9.1 0 .1-1.7.1.5.1.2.1 1.8.1.6.1-3.7.1 1.3.1.2.1.6.1-.3.1-2.2.1-.7.1.4.1.5.1 0 .1-.5.1.2.1-2 .1 1.2.1.5.1-2.4.1-.2.1.6.1.3.1-2.2.1.5.1.1.1.6.1-2.8.1-.3.1 3.2.1-.9.1.2.1.7.1-1.5.1-1.1.1 1.5.1-1.2.1-.3.1-.9.1-.8.1-.3.1.8.1-2.1.1.9.1 1.4.1-.5.1-.8.1 2.6.1-3.6.1-1.3.1.2.1.6.1-.1.1-.5.1.5.1-.4.1.5.1-4 .1 1.6.1.3.1-1.2.1-.9.1.4.1-1.2.1.4.1-.8.1-.1.1.7.1-.1.1.4.1-.7.1-1.6.1-.4.1.7.1-.8.1-1.5.1-.2.1-1.6.1 2.7.1-.3.1-1 .1-2 .1 1.7.1-.6.1-.1.1-.9.1-.9.1.5.1-.8.1.9.1-1 .1-1.2.1 0 .1-.2.1.9.1-1.1.1-1.8.1.9.1 0 .1-.1.1-1.2.1-1 .1.6.1-.1.1-1.4.1.3.1-1.1.1.6.1-.5.1-.4.1-1 .1-.1.1.7.1-1.1.1-.8.1-.3.1-.5.1 1.1.1-1.1.1 1.5.1-1.2.1-.7.1.1.1-1.3.1.9.1-1.2.1 1.3.1-1.2.1-.4.1 1.1.1.1.1-1.2.1.8.1-1.6.1 1.3.1-.8.1.1.1-.3.1 0 .1-.1.1-.6.1 0 .1.1.1-.1.1-.1.1-.9.1 1.2.1-1 .1.6.1-.3.1.1.1-.1.1-.6.1-.4.1.7.1-.4.1-.2.1-.8.1-.1.1.3.1.3.1.1.1-.9.1.2.1.2.1-.5.1.1.1.4.1 0 .1-.8.1.1.1-.2.1-.3.1.6.1 0 .1-.1.1-.4.1-.3.1.4.1.2.1-1 .1.8.1 0 .1-.1.1.1.1-.4.1-.1.1.2.1-.2.1.4.1-.9.1.2.1.4.1-.4.1.2.1 0 .1.7.1-1.2.1.9.1-.4.1-.3.1.8.1.3.1 0 .1.2.1.2.1-.5.1.9.1-.2.1.2.1.3.1.3.1 0 .1-.4.1.5.1-.1.1.8.1-.1.1 0 .1.4.1.3.1-.4.1 1 .1-.3.1.5.1.5.1-.2.1.2.1-.5.1.9.1-.1.1-.1.1.6.1.2.1.1.1.1.1 0 .1.2.1 1.3.1 0 .1-.5.1.7.1 0 .1 1.6.1-.9.1.8.1-.6.1 1 .1.9.1.8.1-.7.1 1.5.1-.5.1.2.1.4.1 1.1.1 0 .1.1.1.7.1-1.1.1.8.1 1.5.1-1.3.1 1.1.1 1.2.1.4.1-.8.1-.5.1 1.5.1.9.1-.6.1 1.4.1-.3.1.8.1 1.9.1-1.3.1 1.5.1-1.9.1.4.1 2.2.1-.5.1-1.9.1 2.9.1.3.1-2 .1 1.3.1 2.1.1-1.4.1.3.1.1.1 1.6.1-.9.1 1.9.1-.7.1 0 .1 1.3.1-.4.1.2.1-.4.1.9.1-.3.1 1.2.1.7.1 2 .1-1.6.1 1.5.1-1.2.1.5.1-.1.1 2.6.1-3.1.1.8.1-1.1.1 1.1.1 2.9.1-2 .1.2.1-.2.1.1.1 1.9.1 1.2.1-3.7.1 1.1.1 1 .1-.3.1-1.3.1.5.1 1.3.1.5.1 1.1.1-3.4.1 1 .1 1.3.1.5.1-1.9.1 2.3.1-1.9.1 1 .1.3.1-2.9.1.3.1.5.1.8.1-1 .1 2.1.1-.4.1-2.8.1 1.7.1 1.2.1-2 .1 1.2.1.7.1-2.5.1 2.8.1-3.6.1 1.8.1-2.1.1 3 .1-1.7.1.1.1.2.1 1.3.1-1.3.1-.3.1-.1.1 1.1.1-3.2.1 2.3.1 0 .1 1.2.1.6.1-2.5.1-.4.1 1.8.1-2.9.1 1.3.1-1.1.1.4.1-.1.1-1.3.1 1.9.1-.8.1.4.1.5.1.1.1-.6.1-2.5.1 1.4.1-.1.1 2.7.1-1.4.1-1.7.1.3.1.4.1-.1.1 1.1.1-.4.1-.9.1 1.6.1-2.6.1 1.1.1.1.1-.3.1-.1.1-1.5.1 1.9.1 3.6.1-3.2.1.5.1-1.3.1-1.1.1-.1.1 1.6.1.1.1-1.4.1 2 .1-.9.1-1 .1-.1.1-.6.1-.3.1 1.9.1-3.4.1 2 .1.8.1-.3.1 1.6.1-1.8.1 1.5.1-2.3.1 2.2.1-1.8.1 1.5.1-.5.1.7.1-.8.1-1.4.1-.1.1.6.1-2.3.1 2.1.1 1.6.1-.3.1-1 .1.2.1.1.1 0 .1.3.1-.3.1 0 .1-1.4.1 1.6.1.2.1-2.7.1 1.2.1 1.2.1 0 .1-1.5.1.3.1-.8.1 2.8.1-3 .1 1.1.1 0 .1.5.1.2.1-1.7.1 2.6.1-1.8.1 2.3.1-2.2.1-.4.1.5.1.6.1.6.1-1.2.1 1.1.1-.9.1.1.1-.7.1-1 .1.5.1.6.1 1.8.1-2.6.1-1.2.1.4.1.9.1-.8.1.9.1.6.1-.5.1.7.1.1.1-1.5.1 1.2.1-2.2.1 1.6.1.7.1-.9.1.3.1.3.1-1.1.1.6.1 1.6.1-2.1.1 1.2.1.7.1-.1.1-.6.1-.9.1.8.1-1.7.1 1 .1.7.1-1.1.1 1 .1.5.1-1.2.1.5.1 1.1.1-.1.1-.4.1-.1.1-.9.1-.4.1.3.1.1.1 0 .1-.3.1.1.1 2.2.1-1.6.1 0 .1-1 .1-.4.1.5.1 1.5.1-2.1.1.5.1-.1.1 1 .1-.3.1-1.1.1.4.1 0 .1 0 .1 1 .1-1.8.1 1.2.1-.7.1 2.6.1-3.5.1 2 .1-1.4.1 1.2.1 0 .1-1.1.1 2.8.1-3.2.1 2.7.1-1 .1-2 .1 1.9.1-.3.1.7.1-.1.1.4.1-1.3.1.4.1 0 .1-.7.1.7.1-1.8.1 2.7.1-1.2.1.2.1-1.1.1.7.1.4.1-2 .1.6.1 2 .1-1.9.1.2.1 1.7.1 0 .1-2.1.1 2.5.1.1.1-.8.1-.7.1-.9.1 1.2.1-.6.1 1.2.1-.2.1-1.7.1-.1.1 1.9.1.2.1-.5.1-.4.1-1.5.1.7.1 1.5.1-.8.1-.5.1 2.2.1-1 .1-.2.1 0 .1-1 .1-.9.1 2.5.1-.7.1-.7.1.3.1.2.1-1.1.1.6.1.3.1.8.1-1.8.1.8.1-.7.1.9.1-.9.1 1.4.1-1.9.1 1.7.1-.1.1-.2.1-.2.1-.3.1.4.1.4.1-.5.1.2.1-.5.1.4.1-1.4.1.4.1.6.1.3.1 1.2.1-1.5.1-1.2.1 2.7.1.5.1.3.1-1.9.1-.1.1.3.1.6.1-1.1.1.5.1.1.1.3.1-.8.1 0 .1-1.1.1 3.9.1-4 .1.4.1 2.8.1-2.4.1.4.1 2.9.1-2.3.1-.3.1-.7.1.1.1.6.1.9.1-.2.1.4.1-2.6.1.4.1 1.6.1-1.1.1-.1.1 1.4.1-1.6.1 0 .1 2.1.1-1.8.1.9.1-1.9.1 2 .1-.4.1 2.2.1-2 .1.2.1.2.1-2.2.1 1 .1-.8.1 4 .1-3.1.1.3.1.9.1-1.1.1-1 .1.2.1 1.7.1-1.7.1.1.1 1.8.1.9.1-3.3.1 2.4.1-.1.1-1.1.1-.6.1 2.1.1-.1.1-1.6.1.7.1.3.1-.7.1-.4.1.3.1-.2.1 2.4.1-1.6.1-.8.1 0 .1 1.3.1-.1.1.1.1-.7.1 1.5.1-.8.1-1 .1-.8.1.5.1 1.8.1-2.8.1 1.4.1.7.1.3.1 1.1.1-3.7.1.5.1 3.1.1-2.9.1.8.1-.3.1.9.1.9.1-1.6.1-.2.1.7.1.2.1.6.1-2.3.1 2.5.1-.3.1-1.1.1 1.6.1-1.2.1.5.1-.6.1 1 .1-1.5.1 1.5.1-2.8.1 1.7.1.6.1-.2.1-.9.1-.6.1 1.1.1 1.2.1-.7.1 1 .1-1.2.1-.6.1.3.1.9.1-2.1.1.9.1 2.1.1-1.9.1.9.1.9.1-1.5.1.6.1-.9.1.7.1-1.6.1 2.6.1-2.3.1 1.6.1-.5.1-.7.1-.2.1 1.9.1-1.7.1-.7.1.9.1.5.1 2.8.1-4.9.1 2.8.1-1 .1.9.1-.8.1-.3.1.8.1-1.2.1 1.9.1-1.9.1-.3.1.2.1.4.1-.6.1.3.1-1.3.1 1.4.1 1.6.1-1.8.1-.8.1 1 .1 1.3.1-.5.1-.4.1.5.1-.4.1 1.4.1-1.7.1.8.1-1.4.1-.3.1 1.3.1-1.4.1.7.1 0 .1.8.1-.1.1-.3.1-1.7.1 2.1.1.6.1.2.1-2 .1 1 .1-.7.1.9.1-1 .1-.7.1 1.6.1-.3.1 1.3.1 0 .1-.9.1-.5.1.6.1-1.8.1 3.7.1-2.6.1 1.4.1-.1.1-.6.1-.3.1-.2.1.4.1.9.1-2.4.1 2.6.1-2.1.1 1.6.1-1.2.1 1.3.1-.9.1 1.1.1-1.7.1 1.4.1-1.1.1.4.1-.5.1-1.8.1 1.8.1-.9.1 1.4.1-1.5.1-.7.1 1.6.1.9.1-.2.1-1.8.1 0 .1.5.1.1.1 0 .1.9.1-.7.1-.2.1.3.1 0 .1-.4.1.1.1-.6.1 2.2.1 0 .1-1.3.1-.6.1 2.1.1-2 .1 2.2.1-2.1.1.7.1-2 .1 1.4.1.9.1-2.4.1 1.4.1-.4.1 2.1.1-1.9.1-.9.1.3.1.2.1.3.1-1.1.1 1.6.1-.6.1 1.8.1-.7.1.3.1-1.5.1-.3.1 1.1.1-.1.1.6.1-1.8.1.5.1-.6.1-.1.1.9.1-.4.1.6.1-1.4.1-1.6.1 3.4.1-1.4.1-.1.1.5.1.3.1-1.3.1 0 .1.1.1 1.8.1-.6.1-1.2.1.5.1.6.1-.2.1.9.1-.3.1-2.7.1 1.9.1-1.4.1.2.1 1.1.1.4.1-.8.1.8.1-1.3.1-1.1.1 1.3.1.4.1-.3.1.1.1.3.1-.4.1-.3.1 1 .1-1.3.1-.7.1.9.1 0 .1 1 .1-1.3.1-.4.1 2 .1-1.1.1-.6.1.9.1-.6.1.2.1.4.1-.5.1 0 .1-.3.1.8.1.2.1 0 .1.5.1-.3.1-.8.1-.4.1 1.2.1-1.3.1.3.1 1 .1-1.3.1.1.1 1.9.1-1.7.1-.9.1 1.2.1-2 .1 1.3.1.4.1-.4.1.4.1 1.6.1-1.3.1 1.4.1-3.3.1 1.6.1.8.1-.4.1.9.1.9.1-2 .1.1.1.4.1 1.1.1-2.8.1 1.2.1.4.1-.5.1-.4.1.2.1-1.5.1 2.1.1 0 .1-1.1.1.2.1 1 .1.1.1.9.1-2.6.1 1.1.1.2.1 1.1.1-.8.1.7.1-1.6.1.5.1.8.1 1.2.1-.5.1-.8.1-1 .1 2.2.1-1 .1-.1.1-.3.1 1 .1 1.1.1-.7.1-1.3.1 1.6.1-.9.1-.7.1.7.1 0 .1-1.5.1 1 .1.6.1 1.2.1-.6.1-1.3.1 1.3.1-.3.1 1 .1.1.1 0 .1-.9.1 1.6.1-1 .1-.9.1.4.1 1.1.1 1.4.1-2.1.1 1.7.1-1.3.1-.1.1 1.1.1.3.1-2.7.1 1.7.1-.9.1.8.1-.3.1-.5.1.4.1 2.3.1-1.6.1 1.2.1.3.1-1.5.1.2.1 1.4.1-2 .1 1.6.1-.9.1 1.3.1-.9.1-.3.1.4.1-.3.1.1.1 1.5.1-.5.1 0 .1-.1.1-.1.1.5.1.9.1-1 .1.5.1-2 .1 2.6.1-2.4.1 1.7.1.6.1-.4.1 2.1.1-2.3.1 1.4.1-.8.1 1.1.1.2.1 1.3.1-2 .1 1.3.1.5.1-1.5.1.6.1-.8.1 1.5.1 1.7.1-3.1.1.3.1 2.8.1-1.3.1-3.3.1 4.3.1-.2.1-1.3.1.3.1-1.6.1 3.1.1.3.1-.8.1.8.1-1.3.1-.6.1-.1.1 1.3.1.1.1-.7.1.1.1.7.1-.1.1 1.4.1-1.1.1-.9.1 2.9.1-3.3.1.6.1 2.3.1-.5.1-3.5.1 2.1.1-.9.1 1.2.1-.3.1 1.3.1-1.5.1-1.1.1.5.1.8.1-.5.1-.3.1 1.4.1-2 .1-.4.1 2.6.1-3.1.1 3.3.1-1.7.1.8.1.3.1-.3.1-2.3.1 2.3.1.5.1-1.6.1 1.6.1-1.4.1.7.1-.9.1-.3.1 1.3.1-.5.1 0 .1 1.8.1-3 .1 1.2.1 2.5.1-1.9.1 2.2.1-.6.1-.9.1.9.1-2.6.1-.3.1 1.1.1-.5.1-.8.1-.2.1 2.4.1.2.1-.9.1.2.1.7.1-2.7.1 2.3.1-1.3.1.6.1 0 .1 1.1.1.3.1-.4.1-3.6.1 2.7.1-.9.1 1.9.1 1.4.1 0 .1 1.6.1-3.6.1-.9.1 1.7.1 1.4.1-3 .1-.1.1-.7.1 1.2.1.3.1 1.4.1-2.2.1-.5.1 3 .1-4 .1 3.7.1.2.1-1.1.1.2.1-.6.1-.5.1.2.1-1.3.1 2.8.1-2 .1-.6.1 2.2.1-3.2.1 2.4.1-.8.1-.9.1 1.8.1.3.1-2.2.1 2 .1.4.1-1.1.1-2.3.1 1.2.1 1.2.1.1.1-1 .1 1.4.1-2 .1 3.1.1-.2.1-2.7.1.9.1.4.1-2.3.1 2.4.1 1.1.1-3.2.1.8.1.5.1 1.6.1 3.1.1-5.4.1 1.2.1.6.1.2.1.8.1-1 .1 1.9.1-2.2.1 1.1.1-.7.1-.4.1-.5.1 1.2.1.9.1-1.4.1-1.1.1-1.3.1 2.7.1 2.3.1-1.3.1-1.2.1 2 .1-2.3.1-.1.1.9.1.4.1-.7.1-.5.1-1.7.1 2.5.1-1.3.1 1.4.1-.2.1 1.6.1-4.3.1.7.1 2 .1-2.2.1 3 .1-1.1.1-2.3.1 2.2.1-1 .1 3 .1-3 .1-1.7.1 3.5.1 2.3.1-1.1.1-1.2.1 1.5.1-1.4.1 1.4.1-.7.1-.8.1-1.3.1-2 .1 1.9.1-.6.1 1.1.1 2.4.1-1.7.1-1.2.1.5.1-3.2.1 3.4.1-.5.1 2.9.1-1.7.1-1.3.1-.7.1 1.6.1-.9.1-.7.1 1.1.1 1.8.1-2.1.1-.7.1 1.5.1-.3.1 2.4.1-1.2.1-1.9.1 1.2.1-1.6.1 1.6.1 0 .1 2.1.1-3.9.1 1.2.1 2.7.1-2.2.1.5.1-.9.1.4.1-1.9.1 1.5.1-1.4.1 1.7.1 0 .1-.8.1 3.5.1-2.1.1-2.9.1.8.1 2 .1-1 .1-.3.1 1.6.1 1.9.1-3.4.1 1.1.1-2.9.1 2.6.1-.8.1 1.1.1 1.1.1-1.4.1-1 .1.9.1-1 .1 2.1.1-3.1.1 3.5.1-.9.1-.2.1.8.1-2.2.1 1.8.1-.2.1-1.5.1-1.6.1 3.4.1-2.4.1 1.5.1.9.1 1 .1-3.7.1 1.4.1.2.1 0 .1 1.5.1-.9.1-.2.1-.1.1-.4.1-.7.1 1.9.1-1.2.1-1 .1-.9.1 1 .1.8.1 4 .1-3.4.1 1.1.1-.2.1-2.1.1 2.9.1-1.3.1-1.6.1 1.4.1.7.1-1.1.1.8.1 2.1.1-2.9.1-2 .1.7.1 1.4.1 1.5.1-1.5.1-.4.1 1.5.1-4.2.1 1.6.1-.6.1 1.3.1-.1.1.4.1.4.1-.5.1 1.3.1 2.1.1-4.4.1 3 .1-1.8.1 1.1.1-1.8.1 1.5.1-1 .1.2.1 0 .1.5.1 1 .1-1.9.1.4.1 0 .1-.6.1 2 .1-.5.1-.5.1 3.5.1-4.6.1 1.6.1 1.5.1-1.5.1 2.1.1-4.9.1 2.4.1 2.4.1-3.4.1.6.1 1.3.1-1.6.1.7.1-1.1.1-1.1.1 3.3.1-1.6.1 2.6.1-1.8.1-1.2.1.8.1-.6.1-.5.1 2.3.1.3.1-1.1.1-1.7.1 1.4.1 1.3.1-.7.1.3.1-2.1.1.1.1-.1.1-1.1.1 1.2.1 1.8.1-2.5.1 4.8.1-2.1.1-2.1.1 2.2.1.7.1-.1.1-1.7.1-1.8.1.5.1-1.1.1 1.8.1 2.6.1-.8.1-2.2.1 1.7.1.4.1 1.7.1-2 .1.2.1 0 .1-1.8.1 2.3.1-2.1.1 1.3.1-1.2.1-.1.1-1.9.1 3.2.1 2.4.1-4.5.1 2.6.1-2.3.1.2.1 1.4.1.7.1-.4.1-2.2.1 2.8.1-.3.1.6.1-3 .1 2.4.1-.3.1 1 .1-4.4.1 1.7.1 2.1.1.5.1-1.2.1-.9.1 1.1.1-.6.1-.7.1 3.1.1-1.8.1-1.7.1 4 .1-.2.1-3.7.1 3.2.1-2.8.1-.1.1 1.3.1-2.2.1 2.2.1-.2.1-.5.1 1.7.1-2.1.1.3.1-.9.1.5.1-1 .1 0 .1 2 .1-.5.1-.4.1-1 .1-.2.1 2.4.1-1.6.1-.3.1 1.4.1-2.5.1 1.8.1-2 .1 1.6.1 0 .1-1.3.1.4.1 1.7.1.8.1-3.5.1 2.3.1-2.9.1 3.4.1 1.9.1-.3.1-2.5.1 1.8.1-1.9.1-.7.1 3.1.1-1 .1-.9.1-.5.1-.4.1 1.4.1-1.9.1 1.4.1-1.1.1.9.1 1.3.1.1.1-2.6.1 1.5.1-.1.1-1.8.1 3.2.1-1.4.1-1.8.1.4.1 1.8.1-.8.1-.3.1 2.9.1-3.2.1 1.3.1-.2.1 1.7.1-4.1.1 5.2.1-2.2.1-.9.1-.2.1 3.6.1-4.2.1 2.8.1-2.2.1-1.3.1 3.2.1-1.7.1 1 .1-2.9.1 1.2.1-.4.1.6.1.3.1-.6.1-1.5.1 1 .1.6.1 0 .1 1.6.1 2.3.1-4.4.1-1.1.1 1.9.1-.3.1.8.1-1.2.1 2 .1-.4.1-.8.1-.2.1-.4.1 1.2.1-1.9.1 1.2.1 1.1.1-2 .1 1.9.1-1.7.1.3.1 2.2.1-4.2.1.8.1 3.4.1-1.9.1-1.3.1 1.1.1-1 .1.6.1 0 .1-.2.1-.5.1 1.3.1-1.2.1 1.5.1 1.6.1-2.2.1 1.1.1.7.1-4 .1.7.1.3.1 1.1.1 2.5.1-2.9.1 3.9.1-2 .1-2.7.1-.6.1 1.1.1.8.1.9.1-1 .1-1.9.1 2.5.1-1.8.1-1.3.1.7.1 1.5.1.8.1-1.3.1 3.5.1-2.5.1.5.1-1.6.1.1.1 2.3.1-.6.1-.8.1-1 .1-.9.1 2.4.1-.9.1 1.8.1-2.2.1-.6.1-.3.1 1 .1 1 .1-1.3.1.8.1-.9.1.1.1-1.2.1 1.2.1-.1.1.3.1 1.4.1-.6.1 1.5.1-.6.1-3.9.1 2.3.1-.2.1.5.1.4.1.8.1-.7.1 1.3.1-2.3.1-.4.1.3.1-.1.1 2.6.1-2.6.1.2.1.8.1 2 .1-2 .1-.2.1 1.2.1-2.6.1.3.1.4.1-2.3.1 3.3.1-1 .1.3.1 1.8.1-2.5.1 1.8.1-.8.1-.4.1.7.1-.3.1 1.3.1.9.1-.8.1-1.3.1-1.1.1.3.1.3.1 0 .1.3.1.3.1-1.2.1 1.9.1-2.2.1 1.6.1-.3.1-.6.1 1.4.1-2.4.1 2.4.1-.5.1-.4.1-2 .1 1.7.1-.5.1.4.1-.8.1 1.6.1-2.7.1 3.1.1-1.8.1 1 .1-2.4.1 1.9.1-1.1.1 2.4.1-1.4.1-.2.1-.6.1-.5.1 1.2.1-.5.1.1.1-1 .1 1.2.1.1.1-2.4.1 1.7.1 0 .1-1.1.1 2 .1.1.1-1.4.1.1.1.4.1.9.1-.7.1.2.1.1.1-.4.1-1.8.1 2 .1 1.4.1 1 .1-2.9.1.3.1 0 .1.5.1.4.1-1.6.1.4.1.3.1 1.1.1.3.1-1.3.1.4.1.2.1-1.2.1-.4.1.8.1.7.1-1 .1.3.1 1.4.1-.9.1-.3.1-.1.1.4.1-.1.1.1.1.1.1-.2.1-.9.1-.9.1 3.1.1-.1.1-1.1.1 0 .1.6.1-2.4.1 4 .1-1.6.1.9.1-3 .1 2.5.1-2.9.1 1.7.1 2.2.1-1.6.1-.8.1.7.1 1.5.1-1.8.1 1.7.1 0 .1-1.4.1 1.6.1.3.1-1.7.1.7.1-1.2.1 2.4.1-1.7.1-1.7.1.1.1 2 .1-2.2.1 3.3.1-1.6.1.4.1-.9.1-1 .1 2 .1 2.7.1-2.3.1 2 .1-3.2.1 0 .1 2.9.1-3 .1 2.5.1-.4.1-2.1.1 2.9.1.1.1-2.1.1 2.8.1-2.7.1 2.1.1.2.1-1.1.1.3.1-1.5.1.8.1.9.1.2.1-1.8.1 3 .1-2.9.1-.3.1.6.1.7.1.5.1.3.1-.9.1.8.1 1.5.1-2.4.1-.5.1 1.1.1 1.7.1-1.6.1 1.7.1 1.7.1-1.7.1.2.1-1.6.1 4 .1-1.8.1-1.1.1 3.1.1-3.5.1-1.1.1 2.2.1-1.5.1-.6.1 1.9.1-.9.1 1.1.1-1.2.1 1.2.1 1.5.1-1.2.1-.3.1 1.7.1-4.4.1 3.8.1-1 .1-1.5.1 3.1.1-3.6.1 2 .1 3.5.1-1.4.1 0 .1 1.4.1-2.1.1 1.5.1-2.7.1 2.1.1 0 .1-2.1.1.6.1-.6.1-.2.1 1.9.1-1.7.1 3.8.1-4.3.1 5.7.1-3.5.1.6.1-.4.1-1.6.1 1.8.1.4.1 2 .1-1.8.1.8.1-.2.1 1.9.1-1.7.1-1.4.1 1.7.1 1.4.1-3.5.1 1.8.1-1.2.1.8.1-.2.1.4.1 1.9.1-3.3.1-.5.1 3.5.1 0 .1 0 .1-2.2.1 3 .1-3.4.1-.4.1 5.2.1-.9.1-3.7.1 2.7.1-.5.1 0 .1 1 .1-1.7.1 4 .1-2 .1-2.7.1 4.1.1-.6.1.3.1.6.1-2.3.1 3.3.1-4.2.1.7.1 1.9.1-3.1.1 2 .1-1.1.1.5.1.8.1 1.8.1 1 .1-4.3.1 3.3.1-5.1.1 5.1.1-2 .1 2.4.1-2.4.1-.8.1 2.8.1.7.1.3.1.4.1-.4.1-1 .1.7.1-2.5.1 0 .1 0 .1 2.2.1-1.9.1 3.6.1 0 .1-1.4.1-.3.1-3.2.1 1.9.1 5.1.1-6 .1 2.5.1-1.3.1-2.7.1 3.3.1 0 .1 1 .1 1.5.1 1.3.1-1.3.1 1.7.1-4.5.1 1.7.1 2.8.1-2.4.1-2.4.1 3.9.1-1.9.1-1.7.1 6 .1-3.9.1.3.1 2.6.1-2.6.1 3.1.1-1.9.1.5.1-3.1.1 3.1.1 1.4.1 0 .1-.5.1-5.3.1 2.4.1 3.4.1-3.4.1 1.5.1.9.1-.4.1.9.1 4.6.1-6.8.1-.7.1-.8.1 5.2.1-.5.1-.5.1-2.7.1 2.2.1.5.1 3.4.1-5.7.1 5.7.1-3.4.1.5.1 2.2.1 4.5.1-5.1.1-.6.1-3.4.1 7.4.1-6.5.1 3.7.1-4.6.1 6 .1-4.1.1 1 .1 2.4.1.7.1-2 .1-1.1.1-2.4.1 4.1.1 2.8.1-5.5.1 1.5.1 5.7.1-2.4.1-1.4.1 1.4.1 0 .1 4.4.1-2.8.1 0 .1 1.8.1-1.8.1-1.6.1 1.6.1 1.8.1 2.1.1-6.2.1 6.2.1-2.1.1-6.7.1 5.7.1-1.7.1.9.1.8.1-3.1.1 4.1.1 1 .1-3.7.1 6.1.1-6.1.1 10.9.1 0 .1-10.9.1-3.4.1 3.4.1 2.7.1 8.2.1-7.2.1-2.8.1.8.1 7.4.1-5.4.1 0 .1 5.4.1-5.4.1 3.8.1-8.2.1-2.7.1 3.4.1 1.7.1 4.4.1-8.2.1 8.2.1-2.4.1-4.4.1-2.1.1 6.5.1-2 .1 1 .1 6.4.1-8.2.1 0 .1 1.8.1 4.8.1-1.4.1-5.2.1 2.8.1 3.8.1-4.8.1-1 .1-1.7.1 9.1.1-8.2.1 3.9.1 0 .1 1.3.1 7 .1-9.4.1-2 .1 7.4.1-8.2.1 1.8.1 2.1.1 10.9.1-10.9.1 0 .1-3.1.1 11.4.1-8.3.1 2.7.1-2.7.1 2.7.1-3.8.1 3.8.1 0 .1 0 .1-2.7.1 10.9.1-8.2.1-2.7.1 10.9.1-17.1.1 5.1.1 5.4.1-3 .1 3 .1 23 .1-23 .1-9.1.1 7.5.1-3.8.1 7.2.1-1.8.1 4 .1-4 .1 4 .1-4 .1-3 .1-3.4.1 4.8.1 11.6.1 0 .1-18.2.1 3.9.1 4.3.1-6.4.1 4.8.1-8.2.1 6.8.1 1.4.1-1.4.1-5.2.1 0 .1 1.8.1-1.8.1.8.1 1 .1 3.4.1 17.8.1-17.8.1-1.3.1 2.7.1 0 .1 0 .1 0 .1-4.8.1 0 .1 4.8.1-3.8.1 1.1.1 10.9.1-8.2.1 5.6.1-12.2.1 1.8.1 2.1.1 4.3.1 0 .1 1.8.1-1.8.1-8.2.1 18.2.1-16.4.1 3.4.1 3 .1 0 .1-8.2.1 2.8.1-2 .1 4.4.1-6.1.1 7.5.1-7.5.1 4.8.1-1.1.1 3.8.1-3.8.1 2.4.1 0 .1-5.2.1 2.8.1 7.2.1-7.2.1 0 .1-1 .1-1.8.1-3 .1 21.2.1-16.4.1 0 .1 2.1.1 4.3.1-5.4.1-3.7.1 10.9.1-3.4.1 0 .1 1.6.1 0 .1-4.3.1-3.1.1 2 .1 3.8.1-4.8.1 2.1.1 1.3.1-4.4.1 2 .1 7.2.1-3.4.1-6.6.1 8.2.1-1.6.1 5.6.1-4 .1-3 .1 1.4.1-6.6.1 8.2.1-6.4.1 1 .1-3.7.1 6.1.1-4.4.1 4.4.1-5.2.1 1.8.1-2.7.1.9.1-3 .1 1.4.1 5.5.1 2.7.1-2.7.1-8.8.1 1.2.1 13.7.1-10 .1-1.6.1 9.8.1-4.3.1-2.1.1-1 .1-3.1.1 1.4.1.9.1 5.2.1-5.2.1 8.2.1-5.4.1 1.1.1 0 .1-3.1.1 0 .1 2 .1-7.1.1 2.7.1.7.1 4.8.1 0 .1-1.1.1 0 .1 2.4.1-8.2.1 3.8.1-.8.1 3.9.1-5.5.1-.7.1 4.1.1-7.2.1 1.1.1 1.3.1 6.9.1-4.8.1-2.1.1 2.1.1-5 .1 5.9.1 3.9.1 0 .1-8.8.1-1 .1 8.7.1-7.1.1-1.1.1 5.4.1-2.3.1.7.1.7.1-5.5.1 3.4.1 3 .1-6.9.1.5.1 2.1.1-1.1.1 5.4.1-3 .1-2.4.1-2.9.1 4.6.1-1.2.1-3.8.1 5 .1-5 .1 5.7.1-3.9.1-1.4.1 1.4.1-2.6.1 5.8.1-1.2.1-1 .1-4.3.1 2.4.1-3.1.1 1.8.1-2.8.1 2.4.1 1.2.1-.4.1 0 .1.9.1-2 .1-2.1.1 1.3.1-1.6.1-2.2.1 1.9.1 4.7.1-5.3.1 4 .1-2.1.1-3.2.1 0 .1 1.9.1-.6.1 0 .1-1.1.1 2.3.1-3.5.1-.9.1 1.2.1.9.1-4.2.1 3.7.1-2.4.1.2.1-1.5.1 0 .1-.6.1 2.1.1-.4.1-2.8.1 3 .1 0 .1-1.7.1-1.5.1.8.1-3 .1 2.2.1 2.6.1.6.1-4.2.1-1.8.1 2.4.1-4.4.1 1.5.1.5.1 1.1.1-4.6.1 2.6.1-2.1.1.5.1-1.6.1 2.3.1-2.3.1-.8.1-.3.1-.2.1-.5.1-.6.1.6.1-1.2.1-1 .1-.4.1.1.1-1.5.1-.8.1.3.1.2.1-.2.1-1.9.1-.7.1-.7.1-1.5.1.1.1-.1.1-1.5.1 0 .1-.5.1-.9.1-1 .1-.5.1-.9.1-.5.1-1.2.1-.7.1-.3.1-.6.1-.9.1-1.8.1 0 .1-1.3.1-1.7.1-.2.1-.8.1-1 .1-1.7.1-.8.1-.5.1-2.3.1-.4.1-1.6.1-1.1.1-1.5.1-1.4.1-1.5.1-1.5.1-1.5.1-1.7.1-1.7.1-1.8.1-1.9.1-1.9.1-2.1.1-2.2.1-2.3.1-2.5.1-2.6.1-2.7.1-3 .1-3.1.1-3.3.1-3.4.1-3.5.1-3.6.1-3.3.1-2.8.1-2 .1-.7 0 0 .1.7.1 2 .1 2.8.1 3.3.1 3.6.1 3.5.1 3.4.1 3.3.1 3.1.1 3 .1 2.7.1 2.6.1 2.5.1 2.3.1 2.2.1 2.1.1 1.9.1 1.9.1 1.8.1 1.7.1 1.7.1 1.5.1 1.5.1 1.5.1 1.4.1 1.1.1 1.5.1 1.3.1 1.1.1 1.7.1.4.1 1.2.1 1.3.1.6.1 1.6.1.6.1 1.7.1.4.1 1.2.1 1.3.1.3.1.7.1 1.3.1.8.1.8.1-.5.1 1.6.1.6.1.8.1 1.2.1-.5.1.8.1 1.1.1.9.1 1.1.1-.2.1.7.1.9.1-1 .1 2 .1 0 .1 1.8.1-.7.1.8.1 1.6.1-2.2.1.8.1 2 .1-.2.1-.1.1 1.2.1.9.1 1.7.1-1.5.1 1.6.1 1 .1-.2.1 0 .1 1.4.1-1.7.1 3.2.1-2.7.1.6.1 1.5.1.1.1.9.1-.1.1 1.6.1.1.1.2.1-.5.1 2.3.1 1.2.1 1.5.1-2.3.1-.4.1-1.3.1 2.4.1-1.9.1 4.2.1-2.5.1 2.7.1-2.3.1 3.6.1-2.5.1 3.4.1-3.2.1-.7.1 7 .1-2.5.1-2.4.1-1.5.1 2.9.1.3.1-.3.1 4.6.1-4.9.1-.3.1 0 .1 4.4.1-1.2.1 0 .1-1.4.1 4.3.1-4.4.1 5.9.1-5.9.1 3.4.1 0 .1-2 .1 2.4.1-1.3.1 0 .1 1.8.1 0 .1-.9.1 4.1.1-1.7.1 0 .1-3.3.1.8.1.4.1 3.2.1-.6.1 1.1.1 1.4.1-.1.1-5 .1 3.7.1 1.3.1-3.6.1 2.3.1 4.5.1-4.5.1-1.8.1 2.4.1 4.8.1-2.7.1-7.4.1 5.2.1 0 .1 0 .1 5.9.1-7.7.1 13 .1-9 .1-6.1.1 9.7.1-1 .1 1 .1-7.1.1 3.4.1-4 .1 1.2.1 7.6.1-3.1.1 3.1.1-2.2.1-2.7.1 0 .1 1.7.1 3.1.1-3.1.1 2 .1-3.7.1 4.8.1-3.1.1-.1.1 0 .1-1.7.1 9.1.1 3.9.1-6.9.1 0 .1 2.9.1-9.8.1 8.2.1-2.6.1 10.8.1-8.2.1 0 .1-6.7.1 2.9.1 9.3.1-4 .1-7.3.1 0 .1 4.3.1 4.8.1-6 .1 6 .1-6.1.1 4.3.1 1.8.1-1.9.1-2.9.1-3.5.1 8.2.1-6 .1-4.8.1 7.4.1-8.2.1 3.4.1 13 .1-12 .1 5.3.1-6.4.1 10.4.1-2.2.1-6 .1-1.2.1 3.8.1-1.4.1 0 .1 7 .1-4 .1-3 .1-2.4.1 2.3.1 0 .1-1.2.1 2.6.1-2.6.1 2.6.1 0 .1 5.6.1-2.2.1 2.1.1 6.1.1-3.4.1-4.9.1-3.4.1 3.4.1-4.8.1 1.4.1-1.4.1-3.4.1 10.3.1-4 .1-2.9.1-.1.1 1.4.1 0 .1 5.6.1-2.2.1-3.4.1-2.7.1 8.2.1-2.1.1-1.9.1 4 .1-4 .1 4 .1-2.2.1 0 .1-3.4.1 1.6.1 0 .1 0 .1 0 .1 10 .1-8.2.1 13 .1-8.3.1-13 .1 10.4.1 0 .1 0 .1 0 .1-7 .1 9.6.1-4.8.1-6.1.1 0 .1 4.2.1-5.4.1 12 .1 8.2.1-16.4.1 5.6.1-2.2.1 2.1.1-5.5.1-.1.1 5.6.1 6.1.1-13.1.1-1.2.1 4.2.1-1.6.1 5.6.1 2.6.1 8.2.1-14.9.1 0 .1-1.6.1 5.6.1 2.6.1 3.4.1-6 .1 10.8.1-8.2.1 3.4.1-6.1.1-4 .1-1.5.1 8.2.1 8.2.1-8.2.1-6.7.1 6.7.1-2.7.1-4 .1 1.9.1 0 .1-6.1.1 19.1.1-4.8.1 4.8.1-19.1.1 19.1.1-4.8.1-8.2.1 4.8.1 8.2.1-4.8.1-6.1.1-2.1.1-1.9.1 1.9.1-4.8.1 17.8.1 0 .1-10.9.1-11.3.1 22.2.1-13 .1-3.4.1 5.5.1 10.9.1-10.9.1 2.7.1-4.8.1-1.9.1 0 .1-2.9.1 0 .1 13 .1-3.4.1-8.2.1 5.5.1 6.1.1 0 .1 0 .1-8.2.1 4.8.1 16.4.1-19.1.1-4 .1 1.9.1-6.1.1 6.1.1-4.8.1 9.6.1-2.7.1 6.1.1-11.6.1 16.4.1-10.9.1 2.7.1 0 .1-9.6.1 9.6.1-2.7.1-5.5.1 5.5.1 0 .1 2.7.1 3.4.1-8.2.1 13 .1-13 .1 8.2.1 0 .1-3.4.1-8.2.1 11.6.1-6.1.1 0 .1 10.9.1-4.8.1 0 .1-3.4.1-6.7.1-1.5.1 11.6.1 4.8.1-4.8.1 13 .1-16.4.1 0 .1-2.7.1 2.7.1 8.2.1-4.8.1-6.1.1 0 .1 0 .1 2.7.1-6.7.1 0 .1 23.1.1-19.1.1 2.7.1-4.8.1 13 .1-10.9.1 0 .1 19.1.1-26 .1 9.6.1 3.4.1 4.8.1 8.2.1-19.1.1 19.1.1-24.6.1 8.2.1 0 .1 0 .1-2.7.1-8.2.1 14.3.1 4.8.1 8.2.1-13 .1-3.4.1-8.2.1 11.6.1-8.2.1 21.2.1-8.2.1 8.2.1-23.1.1 6.7.1 8.2.1 0 .1-13 .1-3.4.1 11.6.1 4.8.1-4.8.1 0 .1-8.2.1 13 .1-10.9.1 10.9.1 8.2.1-13 .1 0 .1-8.2.1 2.1.1 2.7.1 0 .1 3.4.1-3.4.1 0 .1 8.2.1-10.9.1 6.1.1-6.1.1 6.1.1 4.8.1-4.8.1-8.2.1 4.8.1 0 .1 8.2.1 0 .1-14.9.1 1.9.1 21.2.1-16.4.1 3.4.1 0 .1-6.1.1 0 .1 6.1.1 4.8.1-4.8.1-3.4.1 0 .1 8.2.1-13 .1 2.1.1 2.7.1 0 .1 16.4.1 0 .1-8.2.1-8.2.1 3.4.1-14.3.1 6.1.1 4.8.1 3.4.1 0 .1-3.4.1 0 .1 8.2.1-8.2.1 3.4M515.9 270.7l.1 0 .1-8.2.1 3.4.1 0 .1-11.6.1 11.6.1-3.4.1 0 .1-2.7.1 2.7.1 0 .1 0 .1-2.7.1 6.1M517.5 259.8l.1 19.1.1-8.2.1-4.8.1-10.1.1 10.1.1 4.8.1-8.2.1 8.2.1 8.2.1-13 .1-8.2.1 21.2.1-23.1.1 10.1.1 13 .1-16.4.1 8.2.1-4.8.1 4.8.1-8.2.1-2.7.1 6.1.1 0 .1-3.4.1 8.2.1-13 .1 8.2.1-8.2.1 8.2.1 0 .1 4.8.1 0 .1 0 .1-10.9.1 19.1.1-13 .1-6.1.1-4 .1 10.1.1-6.1.1 2.7.1 8.2.1 0 .1-8.2.1 3.4.1 4.8.1 0M522.4 262.5l.1 0 .1 3.4.1 13 .1-13 .1 0 .1 0 .1 4.8.1-4.8.1-3.4.1-4.8.1 8.2.1-8.2.1 8.2.1 4.8.1 8.2.1 0 .1 0M524.3 265.9l.1 4.8.1-8.2.1 3.4.1 4.8.1-10.9.1 6.1.1 0 .1 0 .1 0M525.4 278.9l.1-13 .1 13 .1-13 .1 4.8.1-4.8.1-3.4.1-6.7.1 6.7.1 0 .1 3.4.1 4.8.1 0 .1-8.2M526.9 262.5l.1 3.4" />
<path fill="none" stroke="#008800" stroke-width="1.4" stroke-linejoin="round" d="M75.5 290.1l.2 6.6.2-2.6.2 2.6.2 0 .2 8.2.2-8.2.2-4.8.2 13.1.2-4.8.2 0 .2-6.1.2 2.7.2-12 .2 7.2.2 4.8.2 8.2.2-16.4.2-1.4.2 3 .2 6.6.2 3.4.2-3.4.2 8.2.2-10.8.2 10.8.2-8.2.2-4.8.2 8.2.2-3.4.2-4.8.2 13.1.2 0 .2 0 .2-10.9.2 10.9.2-8.2.2 16.4.2 0 .2-13 .2-11.6.2 5.5.2 2.7.2 0 .2 0 .2 0 .2 0 .2-4.8.2 8.2.2 0 .2-3.4.2 3.4.2-8.2.2 13 .2-8.2.2 3.5.2-6.1.2 10.9.2 0 .2-14.9.2 6.7.2 16.4.2-19.1.2 0 .2-5.5.2 11.6.2-3.4.2 3.4.2 0 .2-8.2.2 2.2.2 6 .2-3.4.2 3.4.2-3.4.2-8.2.2 8.2.2-9.6.2 4.8.2 0 .2 8.3.2 0 .2 0 .2-10.1.2 6.7.2 3.4.2 0 .2-3.4.2-6.7.2 23.1.2-19.1.2 10.9.2-14.8.2 14.8.2-10.8.2 2.6.2 0 .2 8.2.2-8.2.2 8.2.2-4.8.2-10 .2 6.6.2-4.8.2-4.8.2 7 .2 2.7.2 16.4.2-19.1.2-2.1M97.7 305.4l.2-4.8.2-6.1.2-2.1.2 21.2.2-26 .2 26 .2-16.4.2 8.2.2 0 .2-10.8.2 10.8.2-10.8.2 2.6.2 16.5.2-21.3.2 2.2.2 6.1.2-3.5.2-6.6.2 23.1.2-19.1.2 0 .2-5.5.2 5.5.2 6.1.2 4.8.2-8.2.2 3.4M103.7 297.3l.2 3.4.2-10 .2 6.6.2 3.4.2-8.2.2 4.8.2 0 .2 8.2.2-4.8.2-8.2.2 0 .2 0 .2 2.2.2 19.1.2-16.4.2-2.7.2 6.1.2-11.6.2 5.5.2 6.1.2-3.4.2 16.4.2-16.4.2 0 .2 8.2.2 0 .2-4.8.2 4.8.2-8.2.2 16.5.2-23.1.2 6.6.2 3.4.2-10 .2 14.9M111.1 300.9l.2-6.1.2 2.7.2 16.4.2-16.4.2-6.7.2 10.1.2-6.1.2 10.9.2-14.8.2 14.8.2 0 .2-8.2.2 8.2.2 8.2.2-21.2.2 21.3.2-23.1.2 4 .2 6 .2-6 .2 19.1.2-19.1M115.9 301l.2-6.1.2 0 .2 6.1.2-6.1.2 2.7.2 0 .2 0 .2 3.4.2 0 .2 13 .2-19 .2 10.8.2 0 .2 0 .2-4.8.2-3.4.2-10.8.2 19 .2-16.4.2 5.6.2 10.9.2-8.3.2-8.2.2 16.5.2-8.2.2 8.2.2-17.8.2 17.8.2-4.8.2 0 .2-8.2.2 4.8.2-6.6.2 6.6.2 3.4.2-12.9.1-5.2.1 2.3.1-3 .1-.6.1 5.4.1-8.7.1 3.9.1-3.4.1 1 .1 9.4.1-11.3.1 5.7.1-3.2.1 1.8.1 5.9.1-5.2.1-5.9.1 5.2.1-2.4.1 1.2.1-.6.1-1.6.1.5.1 7.7.1-6 .1-.6.1-1.1.1-2.3.1 5.9.1-2.5.1 0 .1-5.7.1 5.7.1-5 .1 5 .1 1.2.1-5.4.1 2.6.1 3.4.1-.6.1-4.2.1 0 .1 1.4.1-3.8.1 1.6.1-1.9.1 2.7.1 1.4.1-3.8.1-1 .1-1.2.1 3.8.1-.8.1-1.5.1-2.7.1 5 .1-3.8.1.9.1 1.7.1-3.2.1-.3.1 1.2.1 1.6.1 1.5.1-4.8.1 3.6.1-2.5.1 3.7.1-2.2.1-1.8.1-1.4.1 2.9.1 0 .1-3.4.1.5.1 2 .1-2.9.1 3.2.1 0 .1-3.5.1 0 .1 2.3.1-.3.1-2.2.1 1.4.1 0 .1-2.9.1 1.5.1-2.2.1 3.6.1-5.3.1 3.3.1-1.2.1 3 .1-4.1.1 1.1.1-2.1.1 5.9.1-3.3.1.9.1-.7.1 0 .1-1.5.1 1.8.1.2.1-3 .1.3.1.5.1-.7.1-.1.1 3 .1-.7.1-2.8.1-.2.1 0 .1 2.1.1.2.1-1.3.1-1 .1-2.1.1.8.1-.3.1-.5.1-.4.1 0 .1.7.1 0 .1 1.7.1-.2.1-3 .1 2.2.1-3.4.1 2.9.1 2.1.1-4.2.1.6.1 1.4.1.4.1-1.2.1-1.2.1 1.2.1-.7.1-.7.1 4.3.1-2.4.1-.1.1-2.8.1.7.1 1.6.1-.4.1.9.1-2.6.1 1.6.1-.7.1.7.1-.9.1-1 .1.7.1-.8.1.2.1-.4.1 1.4.1-1.6.1 1.6.1 1.2.1-2 .1.1.1-1.5.1-.7.1 1.1.1 1.1.1.7.1-2.2.1-.1.1.3.1-.7.1-.9.1.8.1.7.1 0 .1 1.7.1-2.6.1-1.2.1.2.1-.7.1.5.1-.3.1 2.4.1-.7.1-.5.1.6.1 1.4.1-3.7.1 3.4.1-1.1.1-1.3.1-.3.1 1.6.1-1.5.1-.9.1.7.1-1.8.1 1.1.1 1.1.1-1 .1 2.9.1-2.1.1.2.1-.2.1.4.1-.4.1-.6.1 2.3.1.1.1-2.4.1-.6.1 1.6.1.2.1 1.4.1-3.5.1-1.1.1 3.6.1-1.7.1 1.8.1 1 .1-.4.1-.5.1-1.7.1.3.1 1.3.1-1.1.1 1.1.1-1.3.1.1.1 1.1.1.5.1-1.8.1 2.6.1-2.5.1 2.3.1-1.4.1.8.1-.3.1-1.6.1 2.5.1-1.4.1.2.1 1 .1-2.2.1 2.2.1-.2.1-.6.1 1.2.1-1.1.1-.7.1.7.1 0 .1-.8.1 2.2.1-2.8.1 3 .1-1.6.1 4.9.1-5.2.1 2.3.1-3 .1.8.1-.5.1 1.9.1.2.1-1.5.1 3.1.1-3.4.1-.2.1 3 .1-1.5.1.2.1.4.1-.1.1-.9.1-.8.1 1.3.1.5.1-2 .1 2.9.1.3.1 0 .1-.9.1-.1.1-.4.1 0 .1-.5.1 1.1.1-.1.1 1.4.1-1.4.1-.5.1.5.1-.9.1-.5.1 3.3.1-.6.1-.1.1-3 .1 1.1.1-.1.1 3.4.1-1.3.1-2.2.1 1.8.1.1.1.5.1-.6.1.1.1.3.1 1.8.1-1.8.1 2.2.1-1.7.1 2.2.1 1.5.1-1 .1 1.4.1-2.9.1.8.1-1.3.1 2.6.1 1.5.1-.5.1-1.7.1 1.7.1-.8.1-.6.1-.6.1 2 .1-4.1.1 1.8.1.3.1 2 .1 2 .1-3 .1-1.1.1 2.3.1.3.1 1.5.1-3.3.1.5.1 1.5.1 4.8.1-5.5.1 3.8.1-.3.1-1.7.1-2 .1 5.5.1-1.1.1-1.3.1-.7.1-1.3.1 5.2.1-1.1.1-3.4.1-.9.1 4.8.1-.8.1-.7.1-1.8.1.9.1 2.7.1 0 .1-.5.1-.6.1.3.1 2.6.1-4.3.1 2.2.1 1.2.1.6.1 2 .1-3.5.1.9.1 2.6.1 0 .1-2 .1.9.1-.6.1 1.7.1-1.4.1.7.1 4.6.1-2.7.1-1.6.1 0 .1-.7.1-.9.1.6.1 1.4.1 3.9.1-1.9.1 1.9.1-2.7.1 1.7.1-.4.1-2.5.1.8.1 0 .1-1.5.1 3.2.1-.9.1 1.3.1 1 .1-.5.1 1 .1-1.5.1-.4.1 1.4.1-.5.1 1 .1 2.4.1-6 .1 6.7.1-3.1.1-3.6.1 3.6.1-4 .1 2.5.1 5.3.1-4.8.1 1 .1 3.8.1-4.8.1 4.8.1-2 .1-1.8.1.6.1-2.1.1 6.1.1-.8.1-3.2.1-3 .1 8.7.1-5.7.1-.6.1.6.1 3.2.1 3.4.1-4.1.1.7.1-5.7.1 8.2.1-2.5.1-7.8.1 6.4.1-4.3.1 5 .1-1.3.1 3.6.1 0 .1-9.4.1 12.3.1-11.5.1 9.5.1-1.7.1-5.1.1 4.3.1-4.8.1 4.1.1 1.5.1-4.6.1 1.2.1 5.1.1-.9.1-2.3.1 5.2.1 3.7.1-5.7.1-3.9.1-2.9.1 6.8.1-6.8.1 3.6.1 10.5.1 0 .1-6.4.1 6.4.1-9.8.1-3.8.1 5.4.1-3 .1 5.9.1-5.9.1 2.2.1 1.7.1-4.5.1.6.1 7 .1-1.1.1-5.2.1 3.2.1 2 .1-2 .1-2.5.1-1.4.1 13 .1-12.3.1 1.5.1-4 .1 4 .1 3.7.1-2 .1-3.2.1 2.3.1-3.6.1 2 .1-3.8.1 2.4.1 4.8.1-7.7.1 9.9.1-2.2.1-7.7.1 4.2.1 6.8.1-7.5.1-2.5.1 2.4.1.7.1 0 .1 8.2.1-2.7.1-4.8.1-2.2.1 3.9.1-2.5.1.7.1-1.5.1 7.5.1 1.4.1-9.6.1 1.4.1 2.4.1-6.3.1 4.6.1-3.5.1 6.1.1-4.2.1 8.9.1-8.2.1 5.5.1-2.2.1-4.1.1.7.1 4.4.1-2 .1-1.7.1-3.4.1 10.8.1 0 .1-9 .1 1.5.1.8.1-.9.1.8.1-.8.1 2.6.1 2.2.1 1.2.1-5.3.1 6.6.1-3.8.1-7.1.1 5.1.1-.9.1 4 .1 0 .1-3.2.1-.9.1 0 .1-5.4.1 12 .1 1.6.1-9.1.1.8.1.9.1 4.3.1-5.3.1-4.2.1 12.4.1-4.2.1 1.2.1-8.9.1 5.4.1-.9.1 1.9.1-5.8.1 2.1.1 4.8.1-4.8.1-2.9.1 7.6.1 2.6.1-1.4.1-3.4.1-2.7.1 2.6.1-4.1.1 3.2.1 7.3.1-8.3.1-.8.1 1.7.1-.1.1-1.7.1-.8.1 4.5.1-3.7.1 1.6.1 4.4.1-3.5.1 3.4.1 1.4.1-2.7.1-6.3.1 3.2.1 4.3.1-4.4.1 2 .1-1.1.1-2.6.1 7.4.1-5.8.1 1 .1 1 .1-2.9.1-.9.1 4.8.1 0 .1-3.1.1-1.7.1 4.7.1-2.1.1 1 .1 2.3.1-8.9.1 5.5.1-6.1.1 5.1.1-5.1.1 3.3.1-1.5.1 4.1.1-1.8.1 8.2.1 0 .1-9.9.1 6.8.1-5.2.1 2.8.1-6.5.1.6.1 4.8.1-.9.1-3.2.1 1.4.1-2.2.1 4.8.1-1.8.1-.9.1 4.8.1-4 .1-.8.1 6 .1-6.8.1-.8.1-1.3.1 2 .1 1.5.1-3 .1 0 .1 3 .1 3.9.1-9.8.1 5.8.1-2.3.1 1.5.1-2.9.1-1.7.1 3.7.1-1.4.1-3.4.1 4 .1-2.5.1 4 .1 1.7.1-5.2.1 4.2.1-4.2.1 1.2.1-1.3.1 3.4.1 0 .1-8.2.1 4.8.1 1.9.1-.1.1-5 .1 1.9.1 5.4.1-7.4.1 5 .1-9.5.1 12.7.1-5.7.1-1.1.1-2.4.1 1.8.1-2.3.1-.4.1 4.2.1 0 .1-3 .1 1.4.1.5.1-.1.1-5 .1 2.7.1-3 .1-.4.1 8.5.1-7.2.1 0 .1.7.1 4.6.1-3.4.1-.5.1-3.2.1-1.5.1 0 .1.8.1-1.6.1 1.6.1 3.4.1-4.8.1.8.1 1.4.1-.6.1 0 .1 1.2.1.7.1-4.7.1 4.3.1-1 .1-2.1.1-2.4.1 1.8.1 1.1.1.6.1-4.3.1 2.3.1 0 .1-1.5.1-.6.1-.1.1-3.6.1 4.5.1 1.4.1-3 .1-1.1.1 1.1.1-2.4.1.2.1 2.4.1-1.2.1.2.1-1.1.1-2.2.1.5.1.6.1-2.4.1 1.3.1-1.3.1 1.9.1-1.7.1 1.3.1-1.4.1-1.2.1 2.2.1-2 .1-.6.1-.4.1-1.5.1 2.5.1-.3.1-.3.1-.5.1-.5.1-1.8.1.8.1-.7.1.9.1-.6.1-2.8.1 2.9.1-.5.1-3.7.1 1.3.1.6.1-2.4.1-.2.1-.2.1 2.5.1-1.2.1-1.5.1-.3.1-.2.1.6.1-.7.1-1.7.1.6.1-1.4.1 1.3.1.6.1-2.4.1.7.1-1 .1.3.1-.3.1-.7.1-.3.1.1.1-1.3.1 1.1.1-1.6.1-.8.1-.8.1.8.1-1.4.1-.3.1-.3.1 0 .1-.4.1.5.1-1.5.1.8.1-.8.1-.3.1-.4.1-.5.1-.4.1-.8.1-.8.1.2.1-1.3.1 1.7.1-1.5.1.6.1-1.3.1.2.1-.3.1.3.1-1.4.1-.1.1.7.1-.5.1-1 .1 0 .1-.5.1-.3.1.5.1-.5.1-.2.1-.3.1.5.1-.2.1-1.1.1-.2.1.2.1-.3.1-.3.1-.3.1-.1.1.3.1-.6.1-.5.1.9.1-.9.1-.3.1-.1.1.4.1-.9.1.5.1-.2.1.2.1-1.1.1.1.1 0 .1-.9.1.6.1.3.1-.3.1-.3.1-.9.1.6.1-.1.1.2.1-.5.1-.5.1-.1.1.2.1-.4.1-.3.1.3.1-.6.1.6.1-.3.1 0 .1.1.1-.4.1.1.1-.6.1-.1.1.3.1-.2.1.3.1-.3.1.1.1.1.1.3.1-.3.1-.2.1.4.1.2.1-.4.1.8.1-1.1.1.7.1.7.1-.8.1.4.1.1.1.7.1-.2.1.2.1.2.1.5.1.3.1.2.1.3.1.4.1 0 .1-.6.1 1.1.1.3.1-.3.1.5.1.4.1.1.1.3.1.5.1.6.1-.1.1.4.1.3.1-.4.1.6.1.3.1-.1.1.8.1 1.2.1-.4.1.1.1.5.1.4.1.7.1.1.1.4.1.7.1-.6.1.5.1.4.1.4.1-.2.1 1.6.1-1 .1.3.1.6.1 2.3.1-.3.1-.3.1.4.1.4.1-.5.1 2.3.1-.3.1-1.5.1 1.8.1.5.1 1.8.1-.9.1 1.4.1-.2.1 1.3.1-1.5.1 1.1.1-.5.1 2.2.1-.3.1-.4.1 1 .1 0 .1.8.1.8.1-1 .1 1 .1-.8.1.5.1.6.1.3.1 1.4.1-1.7.1.1.1 1.8.1-1.1.1 1 .1-.1.1 1.2.1.3.1 0 .1.6.1-.3.1 2 .1-.7.1.7.1-1.1.1.3.1 1.6.1-1.9.1 1.3.1-.1.1 2 .1-.2.1-2.7.1 2.4.1.2.1 0 .1.2.1-.2.1-1.2.1 1.8.1.9.1-.5.1.9.1-.4.1-2 .1 2.7.1-.2.1-3.4.1.9.1 1.5.1-2.1.1 4 .1-1.2.1-.7.1-.2.1 1.7.1-.6.1-1.6.1 3.3.1-3.5.1 1.3.1-2.3.1.9.1 1.4.1-.1.1-.1.1 1 .1-2.2.1 2 .1-1.3.1.8.1-.8.1.7.1.4.1-1.7.1 3.4.1-2.4.1.2.1-1.6.1-.9.1.7.1.6.1-.1.1 2 .1-1 .1-1.9.1 1.4.1-.1.1.7.1-2.5.1 1.6.1-1.3.1 1 .1-1.1.1.9.1 0 .1 1.3.1-.7.1-.7.1-1 .1.2.1.1.1 0 .1-.6.1-.3.1 2.5.1-3.7.1.8.1 2.9.1-.5.1-.3.1-1.2.1 0 .1-.5.1 1.3.1.8.1-.2.1-3 .1.6.1 2.3.1-2.2.1-1.6.1 1.4.1-.4.1-.7.1.8.1-.9.1 1.5.1 1 .1-2 .1-.2.1-.1.1.4.1.7.1-1.3.1 1.6.1-2.2.1.1.1.5.1-.9.1 1.2.1-2.4.1 1.1.1.7.1 0 .1.3.1-1.5.1 2.4.1-1.3.1-.5.1 1.2.1-2.1.1 2.1.1-.4.1-1 .1.2.1.8.1-1.2.1 2.5.1-3.3.1 1.9.1-.3.1.8.1-2.8.1 1.4.1.9.1-1.3.1 1.4.1-2.2.1.4.1.2.1 0 .1.8.1-.4.1.4.1-.3.1-.7.1-.7.1.6.1-.4.1-.2.1-.9.1.9.1 2 .1-2.2.1.2.1.9.1-1.2.1 0 .1-.7.1 1.5.1-1 .1 1.4.1-1.6.1 1 .1 0 .1-.9.1 1.5.1-1.6.1.9.1-2.6.1 3.3.1-1.1.1-.1.1-.3.1 1.4.1-2.1.1 2.9.1-3.2.1-.4.1 2 .1.7.1-.2.1-2.3.1.7.1.2.1-.6.1 0 .1-.5.1.6.1-.4.1.6.1-.4.1-.2.1-.3.1.4.1.1.1-1 .1 1.6.1.1.1-1.4.1-.2.1 2 .1-.5.1-.7.1-.1.1.9.1-1 .1.3.1-1.9.1 3 .1-.4.1-1 .1.5.1-.1.1-.7.1 1.9.1-1.7.1-.5.1 1 .1.8.1-1.4.1-1.3.1 1.2.1-1.2.1.9.1 1.3.1-.2.1-.7.1 0 .1.6.1-1.2.1-.2.1-1 .1 2.2.1.3.1-1.3.1-1.1.1-.1.1 1.2.1-.3.1-.2.1 1.9.1-3 .1 1 .1.8.1-.3.1 1 .1-1.9.1.3.1.9.1-.6.1.3.1.1.1-.3.1-.9.1.7.1.1.1.9.1-2.1.1 1.2.1-.9.1.4.1.3.1-.6.1.9.1.1.1-1.6.1 2 .1.2.1-.9.1.2.1-1.5.1 1.9.1-1.4.1 1.2.1-1 .1-.3.1 1.1.1-.9.1-.4.1 1.1.1-.7.1.9.1.4.1-1.6.1 1.2.1.3.1-.8.1.8.1-1.5.1 1.6.1.1.1.8.1-.4.1-.8.1.3.1-1.8.1 1.8.1.2.1-.2.1.1.1-.7.1-.7.1.1.1-.3.1 1.3.1-1.1.1 1.1.1-.1.1 0 .1-2.1.1 1.6.1 1.3.1-1.2.1-1.2.1.9.1 1.2.1-2.9.1 2.7.1-1.1.1-.8.1 2.3.1-1.7.1 1.6.1-1.2.1-1.1.1 2.3.1-2 .1 1 .1-.4.1 1 .1-.9.1.6.1 1.5.1-1.9.1.6.1.5.1-1.8.1.6.1-.6.1.9.1-.3.1 0 .1.4.1.3.1.2.1-2.3.1 1.9.1.3.1-.5.1-.7.1 0 .1.9.1.2.1-.4.1 0 .1-.7.1 0 .1.2.1.7.1-.1.1.1.1 0 .1.1.1-.1.1-.5.1-.3.1 1.3.1-.1.1-.5.1.3.1.7.1-.6.1.8.1-.9.1-.2.1-.4.1.9.1-1 .1 1.3.1 1 .1-2.1.1.5.1-.3.1 0 .1.6.1 1.4.1-2.9.1 2 .1-.2.1-2 .1 1.6.1.4.1-.9.1-1.1.1 1.8.1-1.2.1 1.1.1-.2.1-1.2.1 1 .1-.8.1 0 .1 1.2.1-.5.1-.2.1-.8.1.2.1.4.1.2.1.5.1.7.1-1.5.1.2.1 0 .1.3.1.3.1-.3.1.2.1 1.6.1-2 .1.2.1.6.1-2 .1 1.2.1-1 .1.4.1 1.3.1-.1.1-.1.1 0 .1-.1.1-.4.1.8.1-1.4.1-.4.1-.1.1 2 .1-.3.1-.5.1.7.1-.8.1-.1.1-.4.1 1.3.1-.3.1-1.5.1.6.1.9.1.3.1-.6.1.3.1.4.1-.5.1 1.4.1-1.7.1 0 .1.4.1-1.2.1 2.2.1-.7.1 0 .1-1.2.1-.2.1 0 .1 1.4.1-.1.1.3.1-1.1.1.8.1.5.1-.5.1.1.1-.7.1.9.1-.5.1 0 .1-.5.1.9.1-.4.1-1.2.1.3.1-.2.1.2.1 1.5.1-.7.1.1.1 0 .1-2 .1 2.3.1-2.3.1 1.2.1-.6.1.9.1-.1.1.9.1.4.1-1.4.1 1.5.1-1.8.1.3.1 1.6.1-2.7.1 3 .1-.1.1-1 .1-.2.1 1.7.1-.4.1-.9.1-.1.1.5.1-1.6.1 1 .1-.8.1.9.1-.2.1-.2.1.1.1-1.1.1.3.1-.3.1.6.1 2.1.1-1.9.1 1.2.1-.2.1-2 .1 1.9.1 1.7.1-1.9.1-1.4.1 2 .1-.8.1-.1.1-.5.1.1.1.8.1.6.1-1.8.1.3.1-.8.1.9.1 0 .1.4.1 1.8.1-2.5.1 1.2.1-1.4.1 2 .1-.8.1.1.1 0 .1.1.1-1.2.1 0 .1 1.2.1-.7.1 1.1.1-1.7.1-.5.1 2.3.1-.8.1-.5.1-.4.1.6.1-.3.1-.7.1 2.3.1-1.7.1.8.1-.5.1-.7.1.1.1.4.1-.8.1 1.1.1 1.1.1-2.2.1 1.6.1-.4.1-1.2.1 1 .1.1.1-.2.1-.5.1.5.1-.7.1.8.1-.1.1.3.1-.2.1.5.1.6.1-2.1.1-1.1.1 1.3.1.7.1-.4.1.1.1 1.3.1-1 .1-.3.1.1.1.3.1.3.1-.1.1-1.5.1-.4.1.4.1.4.1 1.6.1-1.1.1-.8.1-.3.1 1 .1-1.8.1 2.1.1-1 .1-.3.1-.8.1.7.1.3.1 0 .1-1.2.1 1.9.1-.7.1-.2.1-1 .1-.5.1 1.5.1-.5.1.6.1-.5.1.3.1-1.5.1 1 .1 0 .1.6.1-.3.1.4.1-.5.1.3.1-1.8.1.7.1.4.1-.5.1-1 .1 1.1.1-.2.1.4.1 1.1.1-2.1.1.9.1.1.1-1 .1.4.1 0 .1-.2.1.5.1-.2.1-.7.1.7.1 0 .1-1.6.1 1.1.1-.9.1 1.4.1-.4.1-.5.1-.7.1 1.9.1-.3.1-.5.1-.5.1.3.1-.8.1.4.1.7.1.6.1-1.1.1.2.1.1.1-1.5.1 1.2.1-.4.1-.4.1-.6.1 1.3.1.7.1-2.4.1 1.6.1-1.2.1.2.1 1.1.1-.6.1-.1.1-.9.1.2.1 1.5.1-1.9.1 1.5.1.5.1-.5.1-.9.1.8.1-.3.1-1.2.1 1.9.1-.9.1.5.1-.4.1.4.1-.9.1 0 .1.3.1.4.1-1.7.1 1.2.1 0 .1 1.3.1 1.3.1-2.9.1-.2.1.7.1.3.1.3.1-1.8.1.4.1-.4.1 2.5.1-.1.1-.9.1 0 .1.3.1.7.1-1.9.1 1 .1-.4.1.6.1.8.1-.7.1-.7.1-.9.1.7.1 1.2.1-1.1.1.8.1.5.1-1.2.1.4.1 1 .1 1 .1-.1.1-2.4.1 1.2.1-.1.1.8.1-.1.1-.3.1-.2.1 1.2.1-.7.1-.6.1 1 .1.7.1-1.4.1-.1.1 1.3.1-.3.1.7.1-.4.1-.2.1 0 .1 1.5.1-.1.1-.1.1-2.2.1 2.4.1.3.1-.7.1-.3.1.4.1.3.1-.5.1.3.1.1.1-.3.1-.6.1.7.1 1.1.1-2.1.1 2 .1-.7.1 0 .1.8.1 1.2.1-1.3.1-.3.1 1.3.1-.5.1.2.1-1.4.1 1.2.1-.8.1 1.7.1.9.1-1.3.1-.7.1 1.8.1-.1.1-1.4.1-.9.1 1.5.1 1.1.1-1 .1 1 .1-.1.1-1.2.1 0 .1.9.1.6.1.5.1-.7.1-.9.1.9.1.2.1.4.1.4.1-.2.1-.7.1-.1.1.7.1-.1.1.6.1 1.7.1-.9.1-.9.1.5.1-.6.1.3.1 2.3.1-.7.1 0 .1-1 .1-1.5.1 2.2.1-.7.1.7.1-.3.1.5.1 0 .1 1.5.1-1.8.1.4.1.3.1 1 .1-.7.1.7.1 2.3.1.7.1-3.2.1-1.6.1 1.4.1 0 .1.1.1.3.1 1.5.1.8.1-.8.1-2.2.1 1.3.1-1.1.1-1.1.1 1.8.1.2.1-.3.1 2.1.1-.2.1-3.4.1.2.1.5.1 1.8.1-2.1.1-.4.1.5.1.1.1 1.7.1-.9.1-.6.1 1.7.1-1.2.1-.2.1 1.6.1-1.3.1-2.3.1 2 .1.1.1.6.1 2.6.1-1.9.1-1.8.1.4.1-.4.1.4.1 1.4.1-1.7.1.2.1 1.3.1-.4.1-1.8.1 1.9.1-1.2.1.2.1 1.8.1.5.1-.2.1-2.4.1 1.5.1 1.1.1-2.5.1.3.1.8.1.5.1-2.1.1 2.4.1-.1.1.4.1-1.8.1 1.7.1-2.2.1 1.2.1 1.1.1-.6.1.1.1-1.5.1 2.1.1-1.5.1.7.1-.6.1-.3.1 2.7.1-.5.1-2.4.1.7.1-.1.1-.7.1 1.3.1-.7.1-.7.1-.3.1 1.5.1-.6.1.1.1.2.1-.7.1.1.1 1.2.1-1.8.1.3.1-.2.1 1.2.1-1.5.1 1.9.1.3.1-2.1.1 1.1.1.7.1.8.1-1.2.1-1.3.1.9.1-1 .1 1.5.1 1.3.1-3.2.1 2 .1.6.1-1 .1 2.2.1-4.6.1-.2.1 1.7.1 2.1.1-1.6.1-.4.1.9.1-2.1.1 2.1.1 1 .1-2 .1 2.1.1-1.6.1-.5.1-.8.1 1.6.1.4.1.4.1-.5.1.4.1-1 .1.5.1.1.1 1.4.1-1.7.1-.3.1.8.1.4.1-1.6.1.3.1-.5.1.2.1-.9.1 1.7.1-.5.1.5.1.6.1 0 .1-1.9.1.7.1 1.3.1-.7.1.7.1 0 .1-.9.1-.4.1 3.6.1-3.1.1-.1.1.5.1.3.1.1.1-.5.1-2.3.1 1.4.1-.9.1 2.5.1-1.4.1 1.6.1-.5.1-2.4.1 1.5.1-1.1.1 1.6.1 1.1.1.1.1-1.8.1.3.1 1.4.1-.4.1-1.4.1.4.1-1.3.1 1.4.1-.4.1-.4.1.6.1.7.1.2.1-.7.1.7.1-.3.1 0 .1.8.1-1.5.1 1.6.1-2.4.1.7.1-1.3.1.9.1-.3.1 1.8.1-.2.1-.4.1 1 .1-1.8.1 1.6.1-1.4.1-.9.1 2.3.1 1.1.1-2.3.1 1.4.1-.9.1-1.5.1 2 .1-.4.1-.2.1.8.1-1.7.1.1.1.8.1-.1.1-.2.1.3.1-1.2.1 1.7.1-.3.1-.1.1-2.2.1 1.9.1.2.1-.1.1.8.1-.1.1-.4.1.3.1 1.1.1-2.2.1 1.7.1-.5.1 0 .1-2.5.1 4.6.1-1.8.1-.8.1 1.9.1-.7.1-.6.1-3.6.1 3.8.1.7.1-3.3.1 2.4.1-1.6.1-.9.1 2.6.1-1.2.1 1 .1-.6.1.7.1-1.1.1 1.8.1-1.4.1-.5.1-1.4.1 1.1.1 2.8.1-2.4.1 1.2.1-1.8.1.5.1 1.5.1.3.1-1.3.1.1.1 1.2.1-3.2.1 2.5.1-1.6.1.7.1.8.1-.4.1-.7.1 2.5.1.5.1-1.8.1 1.6.1-1.3.1-1 .1 1 .1-1.6.1 1.4.1 1.6.1-1.7.1-.5.1.7.1-1.7.1 3.4.1-3.7.1 1.6.1 0 .1 1.7.1-1.7.1 1.7.1-2.4.1-.8.1 2.2.1-.6.1-1.5.1 2.4.1-2.6.1 1.2.1.6.1 4.5.1-3.9.1-1 .1-1.7.1 1 .1.4.1.2.1-.1.1 1.2.1-1.9.1.5.1.9.1 1.4.1-3.8.1 3.3.1-.9.1-.6.1.7.1.4.1-1.7.1-1.8.1 4.2.1-.3.1-1.7.1.6.1-.4.1.9.1 2.2.1-3 .1 1 .1-.1.1-1.7.1 2.8.1-2.8.1 2.4.1-.2.1-.7.1-.6.1-.1.1-.7.1-.3.1 0 .1 2.5.1.3.1-1.7.1-.5.1 2.5.1-1.3.1.6.1-1.6.1-.8.1 1.4.1.7.1-1.8.1.6.1.5.1-.7.1.2.1.7.1.2.1-1.8.1 3.3.1-3.4.1 3 .1-.2.1-.9.1-.2.1-.3.1-.8.1-.4.1-.4.1 3.2.1-.9.1-1.7.1.8.1 1.2.1-1.1.1.2.1-.1.1-.5.1-.3.1.3.1 3.1.1-1.7.1-1.9.1-.4.1 1.5.1-.1.1.2.1-1.2.1 3.5.1-4.2.1 1.2.1.8.1-1.1.1.5.1-.8.1.5.1.6.1-.6.1 1.5.1-2.8.1.8.1-.3.1 1.5.1-1 .1-.5.1-.4.1 1.7.1-.5.1.5.1-2.2.1 2.1.1-.8.1-.6.1-.1.1 2.6.1-1.1.1-1.3.1 2.2.1-.8.1-1.6.1 1.2.1-1.1.1-.1.1-1.3.1 2.4.1-.4.1 2.4.1-1.4.1-.2.1-1.5.1 1.3.1 2 .1-1.6.1-1 .1.3.1.7.1-.8.1 1.1.1-2.3.1 1.1.1 1.8.1-.8.1-1 .1-.3.1 1.2.1-.5.1-.2.1-.4.1 1.7.1-3.1.1 2.8.1-.5.1-.4.1-1.3.1 1.8.1 0 .1.8.1-.6.1-2.7.1.9.1.9.1-.9.1-.4.1 2.2.1-1.5.1.9.1-2.6.1 2.8.1.4.1-.8.1-.2.1-.2.1 1 .1.6.1-1.5.1-2 .1 1 .1 0 .1 2.7.1-1.8.1.6.1-1.8.1-1.1.1 4.3.1-4.5.1 2.9.1-1 .1.7.1 0 .1-.3.1-.1.1.4.1.1.1-.1.1-.5.1 1.4.1 1.5.1-2.6.1-.3.1-.4.1 1.3.1-1.7.1 1 .1-.8.1-.9.1.8.1.2.1.6.1-.7.1-.5.1 1.4.1-1.1.1.9.1-.9.1 0 .1-1 .1 1.7.1-1.3.1 1.1.1.1.1 1 .1-.8.1.1.1-.7.1-.2.1-1.1.1 2.6.1-.3.1-1.2.1 1.3.1-.2.1-.2.1-.3.1.3.1-.3.1-2.3.1 2.5.1.1.1-.1.1 0 .1-.9.1 1.9.1-2.3.1 1.6.1-.5.1-.4.1.1.1 1.4.1-2 .1-.4.1.2.1-.8.1 3.1.1-2.5.1 1.3.1-.3.1-.3.1 1.4.1-1.4.1-.7.1-1 .1 2.1.1.3.1-.7.1.2.1-.8.1.9.1-2 .1 1.2.1.8.1-1.8.1 1.7.1-.7.1.8.1-1.4.1 1.1.1 1.4.1-2.3.1.8.1 0 .1 1.7.1-4.3.1 3.6.1-1.9.1 1.6.1.2.1-2.3.1 1 .1.5.1-.6.1.1.1.8.1-.1.1.4.1.3.1-1.3.1.1.1.8.1.3.1-.6.1.6.1-1.1.1-.4.1-.4.1 1.1.1-.3.1.7.1-.5.1-.4.1-.4.1 1.3.1-1.7.1 1 .1.8.1.1.1-3.5.1 1.8.1 1.5.1.3.1-1 .1 1 .1-1 .1 0 .1-1 .1 1.2.1 1.4.1-4.5.1 3.9.1-3.3.1 2.8.1-.2.1-1.1.1 1.7.1-.4.1-2.8.1 1.5.1 1.4.1-.8.1 0 .1.1.1-.5.1 1.3.1.6.1-1.7.1.2.1 1.1.1-.6.1 1.1.1-.1.1.2.1-1 .1-1.7.1.2.1 2.1.1-1.5.1 1 .1-.1.1-.5.1-.9.1-.2.1.2.1-.5.1 1.3.1-.7.1 1 .1.1.1-.8.1-.1.1.2.1-.1.1 1.2.1-.8.1-1 .1.7.1.7.1-.4.1-.8.1.3.1.6.1-.4.1-.3.1-.3.1-.2.1 1.3.1-1.2.1 1.8.1-1 .1-.1.1 0 .1-.1.1 1 .1-1 .1.6.1.8.1-1.5.1 1.7.1-1.3.1.2.1-.5.1-.2.1-.5.1-.3.1 3.3.1-2 .1-.1.1-1.1.1 1.6.1.1.1-1.8.1.3.1.1.1.3.1.7.1-1.2.1 2.5.1-2.9.1 1.1.1 2 .1-.8.1-.4.1-.4.1.3.1 0 .1-.4.1 0 .1-.2.1-1.1.1 2.8.1-2.6.1.8.1-.4.1.3.1-1.2.1 1.8.1-.5.1-.6.1 2.6.1-2.2.1.5.1-.2.1-.3.1 1.1.1 0 .1-1.2.1 1.8.1-.3.1-.8.1-.2.1-.4.1 1.3.1-.1.1-1.2.1.2.1 1.7.1.8.1-1.8.1-.5.1.4.1 1.1.1-.5.1-1.6.1 1.8.1.6.1-2.3.1 1.5.1-1.8.1 1.2.1 1 .1.7.1-2.2.1.9.1.6.1-.1.1 1.2.1-2 .1.8.1 1.8.1-1.6.1-.5.1.7.1-.5.1 1.5.1-2.3.1 2.7.1-2 .1 2.2.1-.7.1.4.1-.5.1 0 .1 0 .1-1.8.1 2.5.1-1 .1-.2.1.7.1.4.1 1 .1-.9.1 1.8.1-2.1.1 0 .1-.8.1 2 .1-.9.1-.1.1 1 .1.8.1 1.6.1-1.9.1 0 .1-.7.1 1 .1-.9.1 2.9.1-1.4.1 0 .1-.4.1-1.1.1.5.1 1 .1 0 .1 1.6.1.2.1.7.1-2.2.1.4.1-.6.1-.5.1-.8.1 3.9.1-2.1.1-.3.1.4.1-.1.1-1.1.1 1.8.1-1 .1-.2.1 1.2.1-.6.1 2.7.1-.7.1-.3.1-.5.1 1.8.1.3.1-2.9.1 1.9.1 0 .1-.6.1 1.3.1-.7.1 1.1.1-.4.1-1.8.1 0 .1-.3.1-.1.1 2.2.1 1.1.1-2.9.1-1.5.1 4.4.1-.7.1-1.1.1.1.1-.3.1 1.3.1-2.7.1 3 .1 1 .1-3.5.1 0 .1 1.3.1-.4.1 2.6.1 1.1.1-1.1.1 2.3.1-4.7.1 1.4.1-1.2.1 0 .1 2.9.1-2.4.1.7.1.9.1 2.2.1-1.5.1-.4.1.9.1-.7.1 3.2.1-2.1.1 4.4.1-4 .1-1.9.1 3.4.1-1.1.1-.6.1 1.9.1.7.1-4.4.1 1.8.1.2.1 2.7.1-4 .1 2.6.1-.5.1-.2.1-.6.1 1.7.1-3.7.1 4.2.1-.5.1 1.2.1-.7.1-.7.1 1.7.1-2.4.1 1.1.1-.9.1 1.4.1.8.1-4.2.1 5.3.1-1.4.1.8.1 2.8.1-.3.1-3.5.1.5.1 1.7.1 4.4.1-4.1.1 1.3.1-1.9.1 2.3.1-3.7.1 3.3.1-1.6.1 2.3.1-3.7.1 2.3.1-2.1.1.9.1-.3.1.3.1-1.1.1 6.7.1-4.7.1 4.2.1-2.5.1-.7.1 3.7.1-4 .1-3 .1 3.3.1.7.1-2.3.1 1.6.1 2.3.1.9.1-.9.1-3 .1 0 .1-.9.1-.3.1 6 .1 0 .1-4.8.1 5.4.1-2.4.1-1.6.1-1 .1 2.2.1 7.8.1-10 .1 1.8.1 4.2.1-5.3.1 4.8.1-5.9.1 2.6.1 1.8.1.4.1 1.1.1-2.4.1 1.9.1-4.7.1 4.1.1 7.3.1-9.1.1.9.1-1.7.1 1.7.1 2.5.1-2 .1 1.5.1-3.3.1 2.8.1 2.2.1-5 .1 1.8.1 6.8.1-4.8.1 2.5.1-3.5.1 2.2.1 0 .1 2.8.1-2.8.1 0 .1-2.2.1-3.2.1 11.9.1-6.5.1 0 .1 3.6.1-7.3.1 6.5.1-4 .1-2.9.1 1.9.1 7.7.1-4.8.1-1.3.1-1.6.1 6.7.1-7.3.1 2.8.1 1.3.1-1.3.1-1.2.1-1 .1 4.3.1-1.4.1 1.4.1 0 .1-6.2.1 7.7.1-2.9.1 2.1.1-5.6.1 5.6.1 1.7.1-3.2.1 0 .1 0 .1-1.3.1 2.8.1 1.7.1-7.3.1 5.6.1.8.1 6.7.1-8.2.1-1.4.1-3.9.1 9.7.1-2.9.1-5.3.1 1.7.1 2.8.1-6.9.1 16 .1-13.1.1 4 .1-.7.1 3.4.1 3.4.1-6.1.1-2.8.1 5.5.1-1.9.1-2.3.1-3 .1 8.2.1-1 .1-1 .1 0 .1-7.3.1 10.4.1-6.9.1 3.8.1 1 .1-1.9.1.9.1-2.4.1.7.1 1.7.1-.9.1 5.3.1-2.4.1 0 .1-3.7.1.8.1 1.9.1-2.7.1 4.8.1 0 .1 1.3.1-6.1.1 9.1.1-1.6.1-1.4.1-5.3.1-1.5.1 0 .1 2.4.1 0 .1-5.1.1.6.1 5.5.1 10.3.1-3.9.1-3 .1-2.4.1 0 .1-5.8.1 8.2.1-4.4.1 5.8.1-1.4.1-6.1.1 7.5.1-6.7.1-7.3.1 10.2.1 0 .1-2 .1-.9.1 0 .1-5.8.1 12.5.1-6.7.1 4 .1 4.3.1-7.4.1 2 .1 2.4.1 3 .1-6.4.1 0 .1-1 .1-.9.1 2.9.1 3.8.1-6.7.1-2.9.1 0 .1 5.8.1-4.4.1-4.9.1 4.9.1 4.4.1-7.7.1 5.7.1-.9.1 0 .1.9.1-.9.1 4 .1-4 .1-.8.1 2.7.1-4.8.1 1.4.1 2.4.1-3.2.1 20.6.1-15.4.1-4.4.1 0 .1-2.1.1 3.6.1-5.8.1-.6.1 4.9.1 5.5.1 0 .1-5.5.1-.8.1-1.3.1.7.1.6.1-3 .1 7.2.1-1 .1-5.7.1 4.8.1-1.5.1.7.1 2.7.1-1 .1-7.3.1 8.3.1-5.5.1 3.6.1-.8.1 3.7.1-6.5.1 4.5.1 0 .1-4.5.1 2.8.1.8.1 0 .1 5.3.1-6.8.1-3.8.1 1.7.1.7.1 2.1.1-1.5.1-1.9.1 1.3.1 4.8.1-1 .1-10.3.1 5.2.1 1.9.1-4.5.1 9.7.1 1.1.1-4.8.1-.7.1.7.1-2.1.1 1.4.1-.8.1-4.1.1 2.8.1-.6.1-1.6.1 2.2.1-3.7.1 10.2.1-8.7.1 7.7.1-4.2.1.8.1-4.9.1.6.1 1.6.1-1.1.1 7.2.1-8.3.1 4.9.1-3.3.1-2.5.1 3.7.1 0 .1-2.8.1-1.3.1.4.1-3.9.1 3 .1 2.9.1-2 .1 6.5.1-3.4.1-1.1.1.5.1 1.9.1-1.9.1-3.4.1 2.9.1-3.7.1 5.4.1-6.9.1 2.3.1.9.1.5.1-2.6.1 3.6.1-2.4.1-.4.1 0 .1-.4.1 2.2.1-4.4.1 5.4.1-5 .1 2.2.1-2.2.1-.7.1 6.2.1-2 .1-.9.1-.8.1-4.5.1 4.9.1-4.9.1 1.1.1-.9.1 1.2.1 3.9.1-1.6.1 0 .1-3.2.1 5.7.1-4.2.1-.9.1 3.8.1-4.7.1.3.1 2.2.1.7.1-3.4.1.2.1.3.1 1.8.1-3.1.1 2.2.1-2 .1.6.1 2 .1-2 .1-.8.1.5.1.3.1-3.5.1 1.3.1 2.7.1-1.3.1-1.4.1 2.2.1 2 .1-1.5.1-4.4.1 1.7.1.9.1-3.7.1.9.1.4.1.2.1.8.1-2.8.1 1.8.1-3.1.1 6 .1-6.3.1 2.1.1-1.2.1 1.7.1-.9.1-.3.1-.3.1-.4.1-.1.1.8.1-2 .1.3.1-1.8.1-.2.1.1.1-.1.1-.1.1.7.1-2.1.1 1.1.1.8.1-2.5.1 1.6.1-2.7.1 0 .1.9.1-.9.1 1.2.1.1.1-2.7.1.8.1 2.2.1-3.8.1 2.3.1-3.1.1 1 .1-.9.1-1.2.1 2.2.1 1.2.1-1.4.1-1 .1-2.5.1.8.1-2.1.1 2.1.1-2.1.1 2 .1-.3.1-1.3.1.5.1-1.4.1-1.1.1-.1.1-.8.1-.4.1-1.3.1.5.1-.3.1-.9.1-.9.1.9.1-1.4.1-.5.1-.9.1-.6.1-1.4.1.5.1 1.3.1-2.7.1.8.1-2.5.1-.2.1 0 .1.3.1-1.9.1-.9.1-.1.1-.4.1-1.3.1-.2.1-.6.1-.8.1-.8.1-1.2.1-.6.1-.3.1-1.6.1.1.1-1.1.1-.9.1-1.2.1-1 .1-.4.1-1 .1-1.1.1-1.4.1-1.1.1-1.2.1-1.2.1-1.2.1-1.3.1-1.3.1-1.4.1-1.5.1-1.5.1-1.6.1-1.7.1-1.8.1-1.8.1-2 .1-2 .1-2.2.1-2.4.1-2.4.1-2.6.1-2.8.1-3 .1-3 .1-3.2.1-3.1.1-3 .1-2.5.1-1.8.1-.6 0 0 .1.6.1 1.8.1 2.5.1 3 .1 3.1.1 3.2.1 3 .1 3 .1 2.8.1 2.6.1 2.4.1 2.4.1 2.2.1 2 .1 2 .1 1.8.1 1.8.1 1.7.1 1.6.1 1.5.1 1.5.1 1.4.1 1.3.1 1.3.1 1.2.1 1.2.1 1.2.1 1.1.1 1.1.1.9.1 1 .1 1.4.1.7.1.8.1 1.6.1-.2.1 1 .1.9.1 1 .1 1 .1.3.1 1.9.1-.2.1.9.1.5.1.7.1.5.1.5.1.8.1.6.1.5.1.4.1 2.2.1.8.1-.2.1-.1.1.6.1.2.1-.2.1 2.3.1.1.1.5.1.7.1-.2.1.6.1 2.6.1-1.7.1.2.1.4.1.8.1.3.1 1.3.1.4.1-.2.1-.7.1.9.1.5.1.5.1 1 .1-.2.1 2 .1.5.1-.8.1 1 .1-.3.1 0 .1.7.1 1.2.1-1.8.1 1.5.1.2.1.8.1 1.6.1-2.5.1.5.1 2 .1-.4.1 3.1.1-1.8.1-.8.1 1.7.1 0 .1-1.2.1 0 .1 2.5.1-1.9.1 1.9.1-.2.1 2.6.1-2 .1.7.1-2.1.1 1.8.1 2.4.1-.2.1 3.1.1-4.1.1-.3.1 1.8.1-2 .1.4.1 3.4.1-.8.1-.6.1.4.1 1.2.1-1.6.1 1.6.1-.4.1 2.3.1-3.4.1-.2.1 4.4.1-6 .1 6.6.1-2.4.1 7.5.1-5.7.1.3.1-4 .1 1.6.1-.7.1 2.7.1-2.5.1 4.7.1-1 .1-.3.1 1.3.1 3.9.1-5.5.1-.3.1 3.3.1-3.1.1 1.6.1-1.3.1-.3.1 4.6.1-1.6.1 1.2.1-3.3.1 4.2.1-3.2.1 3.6.1-2.9.1-.8.1-.6.1 7.5.1-5 .1-.8.1 2.5.1.5.1.5.1-2.3.1-.9.1 4.8.1 3.4.1-7.8.1 1.3.1-.5.1-.4.1 1.8.1 1.6.1-1.1.1-1 .1 3.9.1-5.2.1 5.2.1-1.9.1 6.7.1-8.3.1-2.6.1 1.7.1-.5.1 2.4.1-1.5.1 5.3.1 5.6.1-5.6.1-4.8.1 2.1.1-1.6.1 1 .1.6.1 1.2.1-3.9.1-.4.1 1.9.1-.5.1 5.9.1-5.9.1-.5.1 7.2.1-6.8.1 3.6.1 1.5.1-1.5.1-.7.1 8.2.1-1.2.1-11.4.1 3.7.1 2.1.1-.8.1 3.2.1-3.9.1 13.1.1-12.4.1-3.6.1 1.1.1 10 .1-10.6.1 7.2.1 2.1.1-4.8.1 1.7.1-.9.1-.8.1 3.7.1 5.3.1-5.4.1-2.8.1-4.3.1 6.1.1-1 .1-1.7.1-1.5.1 6.3.1-4 .1 5.2.1-3.4.1 6.4.1-4.2.1-3.2.1-2.4.1 0 .1 1.5.1 2.9.1-5.2.1 4.1.1 3.4.1-5.2.1 1.8.1-1.8.1-2.3.1 4.1.1-1.9.1-.8.1 0 .1 1.7.1-1.7.1 7.4.1-1.4.1-1.2.1 0 .1 1.2.1-1.3.1-4.8.1 9.1.1-7.4.1-3.9.1 11.2.1-1.6.1 3.4.1-8.2.1 16.4.1-17.4.1 1 .1 3.4.1-4.4.1 2 .1-1.1.1 2.2.1 0 .1-1.2.1 5.4.1-1.6.1 5.6.1-5.6.1-2.7.1-4 .1-1.6.1 2.5.1-1.7.1 9 .1-5.4.1-1 .1 8.2.1-4.8.1 1.4.1 0 .1-2.7.1-2.1.1-.1.1 2.2.1 4.2.1-7.3.1.9.1-.9.1 11.3.1-12.2.1 1.8.1 3.4.1-3.4.1 8.2.1 2.1.1-8.2.1-2.2.1 1.1.1 1.1.1 1.2.1 0 .1 3 .1-3 .1 1.4.1-3.7.1 0 .1 2.3.1 4.9.1-1.9.1-4.2.1 6.1.1-11.7.1 9.8.1-6.4.1 3.4.1-2.3.1 1.1.1-2.2.1 8.3.1-3.5.1-8.2.1 5.6.1 8.2.1-5.6.1 5.6.1-7 .1 4.9.1-6.1.1-1.1.1 1.1.1 4.2.1-1.6.1 1.6.1 0 .1 4 .1-2.1.1 4.8.1-6.7.1 4 .1-5.6.1 1.6.1-1.6.1-2.6.1 14.3.1-8.2.1-3.5.1 3.5.1 2.1.1-4 .1-8.2.1 14.9.1-12 .1 2.3.1 7 .1-2.1.1 4.8.1-2.7.1-2.1.1 13 .1-13 .1-3.5.1 3.5.1 0 .1-8.3.1 13.1.1-4.8.1-4.9.1 4.9.1-6.1.1 1.2.1 1.4.1-3.7.1 3.7.1-2.6.1 8.2.1-4 .1-3 .1 4.9.1 0 .1-4.9.1-1.2.1 2.6.1 11.7.1-6.1.1-5.6.1 16.5.1-20.2.1 2.3.1 7 .1 2.7.1-4.8.1 4.8.1 0 .1-8.3.1 1.6.1 4 .1-5.6.1 3.5.1-6.1.1 8.2.1 6.1.1 0 .1-6.1.1-2.1.1-3.5.1 3.5.1 4.8.1 3.4.1 0 .1-10.1.1-6.4.1 4.8.1-1.4.1-1.2.1 2.6.1 1.6.1-4.2.1 14.3.1-13.1.1 4.9.1 2.1.1-2.1.1 2.1.1 10.9.1-4.8.1-10.1.1-3 .1 7 .1 2.7.1-10.9.1 2.6.1 8.3.1 0 .1-2.7.1 0 .1 6.1.1-6.1.1-2.1.1-3.5.1-1.4.1 3 .1 14.9.1-16.5.1 8.3.1-8.3.1 16.5.1-10.9.1-2.1.1-7.2.1 1.1.1 10.9.1-6.7.1 0 .1 6.7.1-13.1.1 16.5.1-3.4.1-4.8.1-1.9.1 6.7.1 8.2.1-4.8.1-8.2.1 13 .1-10.9.1-5.6.1 3.5.1 2.1.1-7 .1 1.4.1 3.5.1-4.9.1 9.7.1-10.9.1 2.6.1 5.6.1 2.7.1-6.7.1 1.9.1-1.9.1 4 .1-8.2.1 8.2.1-7 .1-2.3.1 9.3.1-2.1.1 4.8.1-9.7.1 13.1.1 0 .1-13.1.1 3 .1 23.1.1-8.2.1-13 .1 13 .1-10.9.1-2.1.1 8.2.1 0 .1 0 .1-6.1.1 2.7.1 0 .1-8.3.1 24.7.1-8.2.1 8.2.1-8.2.1-16.5.1 3.5.1 8.2.1-10.1.1 0 .1 6.7.1 0 .1 8.2.1-10.9.1-4 .1 23.1.1-23.1.1 10.1.1-8.2.1 4.8.1 8.2.1-14.9.1 1.9.1-3.5.1 8.3.1 3.4.1-10.1.1 4 .1-2.1.1-1.9.1-3 .1 7 .1 2.7.1-2.7.1 6.1.1-6.1.1 10.9.1-8.2.1 0 .1 0 .1 3.4.1-6.1.1-2.1.1 0 .1 8.2.1-6.1.1 0 .1 2.7.1 0 .1-4.8.1 8.2.1 13 .1-16.4.1-2.7.1 19.1.1-16.4.1-10.9.1 27.3.1-13 .1-3.4.1-2.7.1-7 .1 4.9.1 0 .1 8.2.1-10.1.1 10.1.1-8.2.1 13 .1-10.9.1-2.1M523.3 287.2l.1 8.2.1 0 .1-3.4.1-4.8.1 8.2.1-6.1.1 0 .1 6.1.1 0 .1 0 .1 13 .1-13 .1-6.1.1 2.7.1 8.2.1-8.2.1 3.4.1-8.2.1 13 .1-10.9.1 10.9.1-8.2.1-8.3.1 3.5.1 8.2.1 0 .1 13 .1-8.2.1-16.5.1 1.6.1 10.1.1-6.1.1 6.1.1 4.8.1 8.2.1-8.2.1-13" />
<path fill="none" stroke="#0000ff" stroke-width="1.4" stroke-linejoin="round" d="M75.5 323.6l.2 3.4.2 13 .2-8.3.2-4.8.2-10.1.2 0 .2 6.6.2 0 .2 3.3.2 0 .2-6.1.2-5.6.2 8.2.2 16.4.2-19.1.2 2.6.2 8.2.2-16.5.2 8.2.2 0 .2 8.1M80.1 331.1l.2-8.3.2-4.8.2 8.2.2 13 .2-23.2.2 4 .2 10.8.2-4.8.2-8.3.2 4.8.2 3.4.2 0 .2-8.3.2 0 .2 4.8.2 8.1.2-8.2.2 3.4.2-8.3.2 21.2.2-13 .2-11.7.2 8.2.2-2.7.2-2.2.2 4.8.2 3.4.2-.1.2-11.6.2 16.4.2-4.9.2 0 .2-10.1.2 14.8.2-8.2.2 3.4.2-.1.2-8.2.2 8.2.2-6.1.2 2.6.2 16.4.2-16.5.2-2.7.2 19.1.2-21.3.2 2.1.2 2.7.2 3.3.2 0 .2-6.1.2 2.6.2 0 .2 8.2.2-10.9.2-.1.2-4 .2-4.2.2 1.2.2 26 .2-30.5.2 17.4.2 0 .2-10.1.2 10 .2-8.3.2 13 .2-4.8.2 13 .2-13.1.2-10.1.2 4 .2-2.2.2 0 .2 2.1.2 6 .2-8.2.2 13 .2-4.9.2-6.1.2-7 .2 13 .2-3.4.2-4.9.2 4.8.2-2.7.2 0 .2 2.6.2 0 .2-2.7.2-4 .2 6.6.2 0 .2-2.7.2 10.8.2-8.2.2 3.3.2-3.4.2 0 .2-6.7.2 1.8.2 8.2.2-8.3.2 8.2.2 13 .2-21.3.2 2.1.2-2.2.2 8.2.2 4.8.2-10.9.2 19.1.2-16.5.2-2.7.2-4 .2-.1.2 6.7.2 16.4.2-19.2.2-2.2.2 4.8.2-8.2.2 24.6M105.1 326.9l.2 0 .2-4.9.2 4.8.2-4.8.2-8.3.2 2.1.2 0 .2 2.6.2 3.4.2 0 .2-.1.2 0 .2-6.1.2 10.8.2-8.2.2-4.9M108.7 321.5l.2 4.8.2-.1.2-13 .2 2.1.2 2.6.2-9.6.2 6.9.2 2.6.2 3.4.2-3.4.2-.1.2 0 .2 8.2.2-10.9.2 19 .2-16.4.2-8.3.2 8.2.2 3.4.2-6.1.2 2.6.2 8.2.2-.1.2-10.9.2 2.7.2 3.3M114.3 314.5l.2 0 .2-.1.2 0 .2 10.8.2-8.2.2 0 .2-.1.2-4.8.2 21.2.2-8.3M116.7 308.5l.2 11.6.2-6.4.1-5.4.1 4.6.1-3.4.1 1.2.1 1.4.1 2.5.1-6.3.1 3.8.1 1.6.1-1.6.1-3.2.1 5.7.1-1.7.1.8.1-5.9.1 6.8.1-9.9.1 3.1.1 1.7.1.6.1-1.2.1 2.5.1-.7.1-3.4.1 2.2.1-2.2.1 2.8.1-5.8.1 2.5.1 1.5.1-.5.1-1 .1 2.1.1-3.4.1.4.1-.4.1.4.1 4.2.1-4.6.1 1.8.1 3.4.1-3.4.1 2.2.1-1.7.1-2.3.1-3.3.1-1.8.1 5.1.1 1.8.1-3 .1-3.1.1 6.6.1-5.6.1 1.3.1 6 .1-3.6.1.9.1.5.1-.9.1-3.6.1-.3.1 1 .1-2.5.1 3.3.1-.4.1.8.1 1.2.1-3.4.1 4.8.1-3 .1 0 .1-1.8.1-1.3.1 0 .1-1.1.1 5.4.1-2.3.1-2.8.1-.6.1 4.5.1-3.1.1-.2.1-1.7.1 3.5.1-1.8.1-.3.1 1.8.1 0 .1-2.9.1 1.4.1-1.4.1 4.7.1.4.1-4.6.1 1.1.1-2.4.1.5.1-.2.1-2.5.1 1.3.1.2.1 2.6.1-2.8.1 1.2.1-1.8.1 2.3.1-2.1.1 1.1.1 2.6.1-.2.1-4.6.1-2.8.1 3 .1.7.1-.5.1 1.8.1-.2.1 2.6.1-6.6.1 1.5.1-.8.1-1.2.1 2 .1 3.9.1-3.6.1-.2.1-2.8.1 3.2.1-2.3.1.3.1-.3.1 1.2.1.9.1-1.6.1 2.7.1-1.8.1 1.5.1-1.3.1-.2.1 0 .1 2.2.1-2.6.1 1.7.1-1.8.1-.9.1 1.6.1-.4.1-1.5.1 1.9.1 2 .1-2.6.1-2.8.1 1 .1 2 .1-1.4.1 1.1.1-3.4.1 4.8.1-4.1.1 2.5.1 0 .1-3.7.1 2.8.1 1.4.1-1.7.1 3.9.1-6 .1 2 .1-1.1.1 1.9.1-1.7.1 3.6.1-4.4.1.5.1 1.8.1-.2.1-1.9.1 2.4.1-.5.1-.9.1 1.8.1-3.7.1 3.5.1-2.4.1.5.1 1.1.1-.5.1-1.1.1.1.1.6.1.4.1-.7.1 2.5.1-2.5.1.6.1-.3.1-1 .1 2.2.1-.5.1-.6.1-.4.1.9.1.1.1 2.1.1-3.1.1.7.1 1.1.1 2.4.1-3.2.1-.7.1.1.1 0 .1 2.7.1-3 .1 3 .1-2.1.1 0 .1 3 .1-3.4.1-.2.1-.3.1.6.1.8.1-1.4.1 1.7.1 1.3.1-1.1.1 1.8.1-1.6.1-.2.1-.5.1-.5.1 4.3.1-4.7.1 1.2.1.7.1-.8.1-1.6.1-.4.1 1.8.1 1.2.1-.7.1-1.4.1.9.1 1.9.1-2.5.1 1.5.1-.2.1 2 .1-.9.1.1.1-1.9.1.3.1-1.8.1 1.7.1 5.8.1-2 .1-.8.1-2 .1.7.1-3.4.1 1.3.1 3.1.1-2.7.1 0 .1.3.1 1.1.1 1.6.1-1.3.1-1.2.1 1.4.1-.2.1-.1.1 3.2.1-3.4.1.2.1 1.8.1-2.2.1 3.6.1.5.1-2.1.1.9.1-.9.1.6.1-1.7.1-1.1.1.7.1.8.1 3.9.1-6.4.1 2.3.1 1.1.1 2.4.1-.8.1-1.6.1 1.6.1-.9.1.7.1-1 .1 2.6.1-2.8.1.7.1.2.1 2.7.1-.3.1-4.6.1 2 .1 2.4.1-4.2.1 1.8.1-.2.1 4.8.1-1 .1-2.9.1.5.1 0 .1 1.2.1-1.2.1-1 .1 2.7.1-2.9.1 2.9.1-.8.1 1.2.1-1.5.1.6.1.2.1 1.3.1-3.4.1 6 .1-7.8.1 2 .1 1.9.1 1 .1.6.1-.3.1-3.4.1 3.4.1-5.9.1 5.9.1-1.3.1 2.7.1-.7.1-3.1.1 2.7.1-1.8.1 3.3.1.4.1-3.2.1 4 .1-1.6.1-1.7.1 2.9.1-4.1.1 4.1.1-4.1.1-.3.1 5.2.1-3.7.1 2.5.1-1.5.1.3.1 1.6.1-5.3.1 3.4.1 3.2.1-.5.1-.4.1-3.6.1.3.1 3.3.1-2 .1 0 .1 1.6.1-3.9.1 2.7.1 1.6.1 0 .1 1.8.1-.9.1-.5.1 0 .1-2.7.1 8.2.1-5 .1-1.3.1.4.1.9.1 1.4.1-3.9.1 2 .1 1.9.1-3.5.1-3.9.1 5.1.1.9.1-2.1.1 1.2.1 2.3.1-2.3.1 0 .1 1.8.1-2.2.1 3.2.1 2.4.1-2.9.1-.5.1 1 .1-2.4.1 2.4.1-2.8.1 2.8.1-1.9.1 3.1.1-3.1.1 1.9.1-1.9.1 9.1.1-9.1.1 3.7.1 0 .1-2.8.1 8.2.1-2.6.1-4 .1.6.1 1.9.1-3.6.1-1.9.1.5.1 2.5.1.6.1 3.4.1.8.1-4.2.1-1.2.1 9.4.1-2.2.1-2.6.1-5.1.1-1.9.1 2.4.1 3.1.1-1.9.1 1.9.1-3.6.1 3.6.1.7.1 2.5.1-5.1.1-1.2.1 6.3.1-3.9.1 7 .1-8.2.1.6.1-3.7.1 5.7.1 9.8.1-11.2.1 1.4.1 3.4.1-7.2.1 3.1.1 10.5.1-10.5.1 4.1.1 4.8.1-9.6.1 4.8.1 0 .1 0 .1 1 .1-4.4.1 1.6.1-1.6.1 1.6.1 0 .1-.8.1-4.6.1 5.4.1-4.8.1 6.6.1 2.2.1-1.2.1 2.4.1-4.3.1 3.1.1-4.8.1 3.6.1 0 .1-3.6.1-.8.1 2.5.1-1.7.1 1.7.1-3.9.1 1.4.1 1.6.1.9.1-.9.1.9.1-3.2.1 2.3.1 1.8.1-5.4.1 2.8.1-3.4.1 8.2.1-6.3.1 4.1.1-7.2.1 5.4.1-.8.1 1.7.1-4.5.1 1.3.1 0 .1-.7.1-1.2.1 6 .1 8.2.1-13.6.1 10.2.1-8.2.1-.7.1 3.2.1-.9.1-2.3.1 0 .1.7.1 6.8.1-3.4.1 4.8.1-6.6.1 5.2.1-3.4.1-3.4.1 0 .1 1.6.1 8.2.1-3 .1-6.8.1 3.4.1 1 .1-5.8.1-1.2.1 4.2.1 1.8.1-1.8.1-.8.1 6 .1-6.8.1 5.6.1-1.2.1 5.4.1-9 .1 7.4.1-10.2.1 7.6.1-4.8.1-2.8.1 0 .1 2.8.1-2.2.1 3.9.1 7.3.1 0 .1-9.8.1 4.4.1-6.4.1-1.8.1 9.4.1-10.9.1 12.1.1-6.8.1 11.6.1-6 .1 0 .1-2.2.1 4.8.1-4.8.1-.1.1 8.2.1-6.1.1 0 .1-3.1.1-1.7.1 0 .1 6 .1-6.9.1 1.6.1 1.8.1 0 .1-1 .1-3.9.1 13 .1-10 .1 8.2.1-11.9.1 15.8.1-13.8.1 5.6.1 2.6.1-8.3.1 1.6.1 0 .1-1.6.1 11.6.1-10.1.1.9.1 4.3.1 0 .1-6.1.1 0 .1 1.7.1 3 .1 0 .1-5.6.1 4.5.1 1.1.1 2.6.1-1.4.1-5.3.1-1.6.1 2.4.1-3.2.1.7.1 2.5.1 7.3.1 1.8.1-10.1.1 1.8.1-2.6.1-3.5.1 10.9.1-4.8.1-6.1.1 5.1.1 1.9.1-2 .1-.9.1 4 .1-2.2.1 4.8.1-9 .1 0 .1 5.1.1-4.4.1-.8.1 7.6.1-6.9.1 1.6.1 0 .1.8.1 0 .1 4.3.1-1.2.1-4.9.1-2.2.1 2.2.1 7.4.1-8.2.1 0 .1-1.5.1 1.4.1 2.4.1 4.4.1 1.4.1-3.8.1-7.1.1 7 .1-5.8.1 4.7.1 6.4.1 0 .1-4.3.1 2.7.1-2.7.1-7 .1 2.1.1 6.1.1-6.9.1 8.2.1 3.4.1-11.6.1 6.8.1-7.6.1-1.3.1 3.6.1 1.8.1-1 .1 0 .1.9.1-5.5.1 7.6.1 0 .1-5.6.1 3.4.1 2.1.1 0 .1-2.2.1-6 .1 2.6.1.7.1 1.7.1-.9.1-5.4.1 8.2.1-1 .1 4.7.1-4.8.1-3.4.1-4.3.1 8.7.1-6.5.1-2.3.1 8.7.1-5.2.1-2.5.1 4 .1 1.6.1-5.7.1 1.2.1 0 .1 11.8.1-9.1.1 3.7.1-2.9.1-2.3.1 3.1.1-4.5.1 2.8.1 2.6.1-4.1.1-.7.1 1.4.1 1.5.1-5.4.1 3.1.1 5.1.1-3.7.1-5.6.1 2.8.1 3.6.1.8.1-.9.1-7.3.1 6.5.1 2.6.1-2.7.1 0 .1-3.4.1-5.3.1 9.4.1-5.3.1 1.7.1-1.2.1 1.8.1-6.9.1 5.6.1-.6.1-.6.1-1 .1 4.7.1-6.2.1 8.7.1-6.3.1-.5.1 2.2.1-3.3.1 1.5.1-1 .1-1.5.1 0 .1 1.4.1 1.6.1-4.3.1-2.2.1 3.4.1-.9.1-.4.1 2.6.1 0 .1-2.2.1 1.7.1 1.5.1-2 .1-2.9.1-2.6.1 1.2.1 5.1.1 2.8.1-5 .1 1.7.1-3.3.1-3.2.1 5.5.1-2.4.1-3.4.1.5.1 5.7.1-6.3.1.6.1-.1.1 1.8.1-3.1.1-.6.1 2.7.1-2.9.1 2 .1 2.5.1-5.5.1-.3.1 1.6.1-.2.1-1 .1.2.1-3.4.1 6.5.1-3.8.1 1.3.1-2.2.1 2.9.1-3.1.1-.1.1-.6.1 4 .1-3.8.1-.2.1-2.2.1-.6.1 1.7.1-.6.1-1.6.1 1.9.1.3.1-3.1.1 1.7.1-.5.1-1 .1-.7.1.6.1-1 .1 2.4.1-4 .1-1.9.1 3.4.1-1.3.1-1.1.1-2.5.1 2.1.1-1 .1.5.1.1.1-.2.1-2.5.1 1.5.1-1.4.1.6.1-1.5.1.7.1 1.1.1-3.1.1 2.5.1-2.3.1 1.6.1-1.8.1 1.8.1-2.1.1.1.1.7.1-1.8.1.2.1-1.8.1 1.1.1-.4.1-.8.1-.3.1.3.1-.3.1-.4.1-1.2.1.2.1-.2.1 0 .1-.2.1-1.2.1-.5.1-.7.1 1 .1-1.7.1.8.1-.6.1-1.5.1.4.1-.8.1.4.1-.9.1-.6.1 0 .1-1.4.1.9.1-.8.1-.2.1-.5.1-.2.1-.3.1-.1.1-.3.1-.3.1-.8.1-.3.1-.7.1-.4.1.1.1-1.5.1.3.1-.4.1-.4.1.4.1-.3.1-.2.1 0 .1 0 .1-1.2.1-.1.1-.2.1-.4.1-.6.1.6.1-.3.1.5.1-.4.1-.1.1-.6.1-.9.1.4.1-.5.1.7.1-1.6.1.7.1-.3.1-.2.1-1.1.1 0 .1-.3.1.4.1-.7.1-.2.1-.5.1.5.1 0 .1-.6.1-.2.1-.5.1.2.1.2.1-.5.1-.8.1.2.1.1.1-.7.1.4.1-.3.1-.1.1-.5.1-.2.1-.2.1-.3.1.4.1-.7.1.2.1-.1.1-.3.1.1.1-.1.1-.2.1.2.1-.5.1.3.1-.3.1.3.1-.4.1.5.1-.5.1-.1.1 0 .1.2.1-.1.1.2.1 0 .1.5.1-.4.1.3.1.2.1-.3.1.5.1.2.1.2.1.2.1-.2.1 1 .1.1.1-.2.1.6.1.4.1.3.1.4.1.2.1.3.1.4.1.7.1.1.1.3.1 0 .1.8.1.1.1.1.1 1.2.1-.4.1.6.1.2.1.5.1-.2.1.4.1 1.1.1-.2.1 1.6.1-.4.1.2.1.7.1 0 .1 1.1.1.5.1-.9.1 1.7.1 0 .1.9.1 1.2.1-.6.1.3.1.4.1 1.3.1.5.1.1.1.7.1.1.1 1.9.1-.6.1.2.1 1.7.1.6.1.2.1.7.1.6.1.2.1.3.1.5.1-.6.1.8.1-.1.1.9.1-1.5.1 2.1.1 0 .1 2.2.1-1.8.1.5.1 0 .1 1.9.1-1.2.1-.4.1 1.7.1.6.1 1.4.1-1.1.1-.4.1 2.8.1 0 .1-1.4.1 1 .1-1.8.1 1.8.1.3.1 2 .1-.7.1.2.1-.7.1 2 .1.2.1-.5.1-1.3.1-.3.1 1.9.1.2.1 1.4.1-.9.1.9.1-2.3.1 2.1.1-1.8.1 3.5.1-.7.1-1.6.1 1.7.1-.4.1 1 .1-2.2.1 1.5.1-1 .1.9.1-2.1.1 2.6.1-.7.1-.8.1-.9.1-1 .1.2.1 2 .1.9.1-2.5.1 1 .1 1.1.1-3 .1 1.9.1-1.4.1.5.1 1.7.1-1.4.1.3.1 2 .1-.2.1-1 .1-1.1.1-1.4.1 2.4.1-1.1.1 1 .1-1.4.1-.7.1.9.1-.3.1-1.3.1 1 .1 0 .1.3.1 2.6.1.1.1-2.7.1-2.1.1 3.3.1.3.1-.2.1-.4.1-1.6.1 1.3.1-1.5.1-1.2.1 1.3.1-.7.1.7.1-.8.1.9.1 1.3.1-1 .1-1.9.1 1.1.1.1.1-.8.1-1.4.1 2.9.1-.9.1.6.1-1.8.1-.4.1-.3.1 4 .1-3.1.1.3.1-.8.1 0 .1 1.6.1-2.1.1-.1.1-.1.1.6.1-1.5.1 1.5.1-.4.1-.1.1-.4.1.4.1-.4.1-.2.1.2.1.7.1-2 .1 1 .1-.9.1 1.7.1-2.4.1.8.1.8.1-1.6.1 2 .1.8.1-2 .1.1.1-.2.1-.5.1.6.1.5.1-1.2.1 1.4.1-.8.1.4.1-1.4.1.7.1 1 .1-2.3.1.2.1 1.5.1-.8.1-.3.1.5.1-1 .1.7.1.9.1-2.2.1 1.4.1-.2.1 0 .1-.7.1.1.1 2.3.1-2.3.1-.1.1 1.6.1-2.5.1 2.2.1-.7.1-1.2.1-1.5.1 1.4.1.9.1.1.1-.6.1-.4.1 0 .1 1.4.1-.2.1-2.9.1 3.3.1-1.2.1.6.1-1.6.1.8.1-.2.1.2.1-1.3.1 2.1.1-2 .1 2.3.1-1.3.1-1.3.1 0 .1 1.4.1-.4.1-1.2.1-1 .1 2.2.1-.2.1-.8.1 1.1.1-.7.1 0 .1.8.1-.3.1-.5.1-.1.1-1.1.1.5.1.3.1.9.1-.6.1.9.1-1 .1-.2.1-.2.1-1.3.1 1.6.1-.5.1 1 .1-1.3.1 0 .1-.4.1-.1.1 1.6.1-.9.1.2.1.5.1-1.9.1 2.4.1-1.2.1-.6.1.4.1 1.8.1-2.3.1-.8.1 1.5.1-1.5.1 2 .1.6.1 0 .1-1.1.1-.4.1-1.2.1-.8.1 3.1.1-2.4.1.7.1-1.6.1 1.9.1-1.9.1 1.9.1.6.1-2 .1 1 .1 0 .1.9.1-.5.1 0 .1-1.2.1 1.4.1.5.1 0 .1-1.7.1.4.1-.1.1.4.1.5.1-1.2.1.7.1.3.1.3.1-1.1.1 1.1.1-2.5.1.8.1 1.1.1-.8.1-.9.1 1.7.1-.9.1-.2.1 0 .1.8.1.8.1-1.9.1 1 .1-.7.1-.3.1-.6.1.7.1-.5.1 2 .1-2.6.1 1.5.1-.9.1 1.3.1-.4.1-.4.1 1 .1-1.3.1.8.1-.1.1-1.1.1 1.1.1-.3.1.2.1.7.1-.5.1-1.1.1.8.1-.2.1-.5.1.7.1.3.1.1.1.3.1-1.3.1-.4.1 2.5.1-1.5.1-.8.1 2 .1-2.4.1.8.1 2 .1-1.8.1.2.1.3.1-.3.1-.4.1.8.1.9.1-1.5.1-.5.1-.1.1.3.1-1.1.1.5.1.9.1.1.1 1.3.1-1.6.1 1 .1-2 .1.6.1 1 .1-1.1.1.8.1.6.1-.5.1-.7.1 1.6.1-.9.1 1.2.1-1.4.1-.4.1 1.2.1-.2.1.2.1-.9.1-.1.1.4.1.3.1-1.3.1 1.3.1-.3.1-.4.1.4.1-1 .1 1.8.1.2.1.1.1-.8.1.4.1.4.1-1.5.1 1.4.1-.7.1-.3.1-.8.1.3.1-.1.1 1.2.1 1.2.1-.6.1.2.1-.9.1-.5.1-.1.1 0 .1-.9.1 1.6.1-.6.1-1.4.1 1 .1 1.2.1.7.1-1.7.1-.6.1 1.1.1.2.1-1.3.1.6.1-1.3.1 3.1.1-2.3.1 1.2.1.4.1-1.5.1 1 .1 0 .1.2.1-2.5.1.7.1 2.2.1-1.4.1.7.1-.6.1 0 .1.1.1-.4.1.3.1.3.1-1 .1 1.2.1.8.1-1.1.1-1.1.1 1.1.1.7.1-.3.1-.4.1.6.1.4.1-.4.1.3.1.1.1-.7.1-.4.1-.2.1-.2.1 1.7.1.3.1 0 .1-1.6.1 1.5.1-.9.1.5.1-1.1.1.2.1 1.8.1-2.7.1 2.4.1-2 .1.5.1.6.1-.4.1-1.3.1.9.1.2.1-.3.1-.9.1.5.1 2.3.1-2.3.1 1.7.1-1 .1-.3.1 0 .1.3.1.2.1.1.1-.3.1-.9.1.6.1 1 .1-.1.1-.2.1-.6.1-.7.1 1.7.1-1.3.1.1.1.8.1 0 .1-.2.1.1.1-.7.1-.4.1-.4.1 2.1.1-.6.1.6.1-1.1.1 0 .1-.5.1 1.4.1-1.5.1.8.1-.4.1.4.1-.6.1.9.1-1 .1.9.1.1.1.1.1.3.1-.7.1.6.1-.2.1 1.3.1-2.3.1 1.4.1-.3.1-1.1.1.4.1-.7.1.9.1 0 .1.2.1.7.1-.6.1.5.1.1.1-.3.1-.7.1 1.6.1-2.6.1 1.5.1-.2.1-.4.1.3.1 1.4.1-.4.1-1.7.1.9.1-.1.1-.1.1-.3.1-.4.1.2.1-.9.1.8.1.5.1-.4.1-.1.1-1.6.1 2 .1.7.1-.6.1 1.1.1-1.9.1.2.1-.2.1 1.6.1-.1.1.1.1-.8.1.1.1-.3.1-.4.1.3.1.8.1-.2.1-.7.1.3.1-.3.1 0 .1.9.1 0 .1.1.1-1 .1-.3.1 0 .1 1.7.1-1.6.1.5.1-.5.1.7.1-.4.1.5.1.4.1-.8.1-.2.1-.3.1.4.1-.7.1 2.3.1-.6.1-1.1.1 1.7.1-.5.1-.7.1-.6.1-.2.1.1.1-.4.1 1.2.1-.4.1.2.1-.4.1 0 .1.4.1 1.3.1-.8.1-.7.1 0 .1.2.1 0 .1.6.1-1.3.1-.2.1.7.1-1.9.1 1.8.1-.7.1 1.3.1-.5.1 0 .1-.8.1 1.5.1-.9.1-.3.1 1.2.1-2.2.1.4.1 1.3.1-.8.1 1.9.1-.6.1-1.6.1 1.2.1-.2.1-.7.1-1.8.1 2.1.1 1 .1-.9.1-.8.1-.2.1 0 .1 1.1.1-.1.1.3.1-1.2.1.2.1.8.1-1.8.1 1.3.1.4.1-.8.1-.3.1.2.1.5.1-1 .1.6.1.1.1.7.1-.6.1-.9.1.4.1.1.1.4.1-1 .1.9.1-1.5.1 1.1.1-1.4.1 1.9.1-1.6.1 1.3.1.3.1-1.8.1 1 .1-.2.1.1.1.9.1-1.4.1.2.1.2.1-.5.1.6.1-.3.1-.7.1 1.5.1-1.1.1.5.1-1.1.1.6.1-.6.1 1.4.1-1 .1 1.1.1-1 .1.1.1-.2.1-.2.1.9.1-1.4.1 1.4.1-.3.1.8.1-1.1.1.3.1-.1.1-.9.1 1.1.1-1.5.1 1.2.1.9.1-1.3.1-.5.1 1.2.1-.6.1.2.1.1.1-.9.1-.6.1 2.2.1-.7.1 1.5.1-2.6.1.8.1-.2.1-.1.1.2.1 1.1.1-1.9.1 0 .1 1.3.1-.3.1-.2.1-.1.1 0 .1-.1.1-.6.1.6.1-.6.1 1 .1-.5.1 1.1.1-1.3.1.6.1.4.1-.7.1.5.1-1 .1.6.1-.6.1-.5.1 1.1.1.8.1-.5.1.3.1-.1.1-.1.1-.5.1.5.1.2.1-.8.1 1 .1-.3.1.3.1-.3.1.2.1 0 .1.3.1 1.4.1-1.3.1-.1.1-.8.1 1 .1-.2.1-.2.1.2.1.9.1-.8.1.4.1.1.1-.9.1 2.1.1-.5.1-1 .1.6.1-.3.1.3.1-1.2.1.4.1 1 .1.1.1-.5.1-.5.1 1.4.1-1.4.1.1.1.6.1.2.1.4.1-.7.1-.2.1 1.5.1-.2.1-1.6.1 1.7.1 0 .1-.5.1-.1.1 0 .1-.3.1.7.1.5.1 1.6.1-1.8.1.5.1-.5.1-1.2.1.3.1 1.9.1-1.4.1 1.3.1-.2.1.6.1-.4.1-1.2.1-.9.1 1.4.1 1.1.1-1.6.1 2.5.1-.6.1-.7.1-.6.1 1.7.1.9.1-1.2.1.6.1-.6.1-.1.1.1.1.2.1-.2.1.7.1.3.1-1.2.1.7.1 1.4.1-1.7.1.8.1.3.1-.6.1 1.2.1 0 .1-1.8.1 1.5.1 1 .1-1.4.1.3.1 1.2.1-.9.1 1 .1-.9.1 1.4.1-2 .1 2.2.1-.7.1-.5.1-.1.1 1.9.1-1 .1.1.1-.1.1-.5.1.6.1 0 .1.1.1.2.1.6.1-.4.1.8.1-1.4.1 1.4.1-.2.1 1.3.1-1.7.1 1.1.1-.2.1-1.7.1 1.4.1 2.9.1-2.1.1-.2.1 2 .1-2.3.1-.4.1 1.3.1-.7.1 1.1.1 0 .1-1.6.1.9.1.1.1 1.5.1-2.1.1-1.1.1 1.9.1-1.4.1 1 .1-.3.1-.2.1 1.7.1.1.1-2.5.1.7.1 1.4.1.3.1-1.5.1.7.1 1.3.1-2.4.1 1.7.1-1 .1-.3.1.7.1-.5.1-.4.1.2.1 1.3.1-.9.1-.6.1-.5.1 1.8.1-.6.1-1.5.1 1.7.1.9.1 1.3.1-2.6.1.3.1-1.6.1.9.1-1.1.1 1.2.1.5.1-.5.1-.4.1 2.5.1-1.9.1 0 .1 1.3.1-.4.1-1.1.1 2.2.1-2.2.1.2.1 1.9.1.2.1-2.1.1 1.6.1-2.3.1-1.4.1 1.9.1 1.1.1 1.1.1-1.3.1 0 .1 2.2.1-3.1.1 2.9.1-2.3.1-.1.1-.7.1 2.5.1-.3.1-1.6.1-.3.1 1.2.1.1.1-1.4.1-.1.1.7.1-1.3.1 2.3.1-.2.1.4.1-1.3.1.5.1.1.1 0 .1 1.3.1-2.2.1 2.1.1-2.1.1 1.5.1-.1.1-1.3.1.8.1 1.5.1-.1.1-1.7.1-.6.1 1.2.1-.8.1 1.9.1.5.1-.4.1-.5.1-.6.1-1.4.1-.2.1 1.7.1-1.6.1-.2.1.9.1-.2.1 1.6.1-1.3.1.2.1-1.5.1 1.6.1-.3.1.7.1-.4.1.3.1 2 .1-2.2.1.8.1-1.3.1.5.1-.4.1 1.3.1-1.2.1.7.1-.5.1-.4.1.4.1 1.5.1-2.3.1 1.2.1.6.1-.8.1.4.1-.5.1.4.1 0 .1-.9.1 1.2.1-1.2.1.9.1-.2.1-1.1.1.8.1 2.3.1-1.6.1-1.1.1.8.1-2 .1 1.8.1-.7.1-.5.1 3.8.1-2.7.1.8.1 2 .1-3.1.1 1.2.1-.8.1.2.1-1.7.1 1.9.1.4.1-1 .1-.3.1.6.1-.6.1-.8.1 2.2.1 0 .1-1.9.1.9.1-.9.1 2.4.1-1 .1-2.2.1 1 .1.4.1-.6.1 2.3.1-1.6.1.4.1.3.1-1 .1.4.1.6.1-.6.1-.1.1-1.2.1.2.1 1.5.1-.8.1.9.1-2 .1 1.4.1-1.6.1 2.3.1-.3.1-.3.1.2.1.6.1-.8.1-.4.1 1.5.1-.7.1-.2.1 0 .1.4.1-1.6.1 1.2.1-1.4.1.8.1.1.1 1 .1-1.4.1-.3.1 3.6.1-4.4.1 2.2.1.8.1.2.1-1.8.1 0 .1 3.1.1-1.8.1-2.6.1 2.2.1-.8.1.5.1-.2.1 1.3.1.3.1-1.2.1.9.1.7.1-2.8.1 1.5.1-1.2.1-.3.1.6.1-1.4.1 1.1.1 1.1.1-.2.1.1.1 1 .1-1.9.1-.1.1-.6.1 3.7.1-1.9.1-2.1.1.6.1 1.3.1-.1.1-.4.1-.8.1-.8.1.9.1 2.5.1 1.1.1-3.8.1.1.1-.1.1 1.2.1-.8.1-.3.1.8.1-.1.1 1.5.1-3.1.1 2.8.1-.7.1 0 .1-.8.1.6.1.2.1.4.1-2.4.1 1.8.1-.2.1-1.3.1 3.4.1-1.1.1.5.1-.8.1.7.1 0 .1-2.8.1 1.2.1.4.1-.7.1-.7.1.4.1-.1.1.4.1-.5.1-.5.1-.3.1 2.5.1-1.2.1.9.1-1.2.1.3.1-.8.1.9.1 2.3.1-2.1.1-.2.1 1.7.1-2 .1.3.1 3.3.1-2.5.1-1 .1 1 .1-1.4.1.2.1.9.1-1.2.1.4.1 2.7.1-2.7.1 2.6.1-1.8.1.2.1 2 .1-2.1.1.2.1-1 .1 1.3.1-2.2.1 1.3.1.7.1-.3.1-.6.1.2.1-.5.1.2.1 0 .1-.2.1-.2.1.7.1.1.1-1.6.1 1.7.1.1.1-.8.1-.9.1-.2.1 1.4.1.8.1-1.3.1-.5.1.6.1.4.1-.4.1-.4.1 2.7.1-2.5.1-1.1.1 1.6.1 1.7.1 1 .1-3.2.1-1.2.1 1.1.1.6.1-.8.1 1.3.1-.8.1-.7.1 1.9.1.1.1-.1.1-1.5.1.8.1-.2.1-.5.1-.6.1-.6.1.6.1-.9.1 1.4.1 2.5.1-.8.1-.6.1-.4.1 1.5.1-.7.1-.2.1-.3.1-.1.1-1.1.1-1.3.1 3 .1-.1.1 0 .1-1.1.1-1.2.1.7.1.8.1-.3.1 1.2.1.6.1.7.1-1.3.1-.2.1-1.5.1-.5.1-.5.1 1.2.1 2 .1-2.5.1.7.1-.4.1 2 .1-2.7.1 1.9.1-.2.1-1 .1 2.6.1-.9.1-1.6.1-.8.1 2.7.1-3.2.1-.3.1 3.1.1-1.1.1-.8.1.1.1.2.1-.3.1-1 .1 1.7.1.1.1-.5.1 1.4.1-1.7.1 1.2.1 1.9.1-2.6.1 2 .1-2 .1-.2.1 1 .1.2.1.1.1-1.7.1.6.1 1 .1-.8.1.1.1-.8.1.9.1 2.3.1-2.9.1 1 .1-1 .1-.4.1 1.9.1-1.5.1 0 .1-.2.1.5.1-1.4.1.7.1 1.2.1-1.3.1.5.1-1.8.1 2.9.1-2.2.1 2.7.1-.3.1-.5.1.1.1-.5.1.7.1-.8.1.2.1-1 .1 1.7.1-2.7.1.5.1 1.2.1-.7.1 1.1.1-.8.1.1.1.8.1-1.7.1 1.6.1.4.1-2.4.1 1.4.1-.1.1-1 .1 1.5.1-1.2.1 2.8.1-.8.1-3.1.1 1.7.1.7.1 0 .1-1.1.1.1.1-.5.1 1.5.1-1.8.1 1.2.1.1.1-.3.1-.5.1-.9.1 1.6.1-.5.1-.5.1 1.3.1.8.1-1.4.1 2.6.1-2.7.1.7.1-2 .1 1.8.1.1.1.1.1-1 .1 1.5.1-2.4.1 3.3.1-2 .1.4.1.6.1-.4.1-.3.1 1 .1-1.3.1-.7.1 2.2.1-2.6.1 1.8.1.5.1-2.1.1.3.1 1.2.1-.5.1.7.1-.3.1-1.2.1.3.1 1.7.1-2.6.1 2.2.1-1.1.1 0 .1-.7.1-.7.1 1.4.1 1.9.1.2.1-1.6.1 1.3.1-.7.1-1.1.1 1 .1-1.6.1.7.1-.4.1 1 .1-1.6.1 1.1.1-1.5.1 2.5.1-1.7.1.4.1.4.1 1.6.1-3.2.1 3.7.1-2.7.1 1.4.1-1.2.1.2.1-1 .1-.5.1 0 .1 1.6.1 0 .1-.3.1 1.4.1-1.8.1 0 .1 0 .1 1.6.1-1.3.1 0 .1.1.1.6.1 1.9.1-3.3.1 1.4.1-2.7.1 3.3.1-1.8.1.7.1-1.1.1-1.5.1 2.7.1.3.1-1 .1.8.1-1.3.1-.5.1 2.9.1-1.4.1-.9.1 1.1.1-.6.1.8.1.1.1-.1.1-.6.1-.4.1.7.1.2.1.6.1 0 .1-2.7.1 1.1.1-.9.1.9.1 1.4.1.9.1-2.2.1.6.1-1.9.1-.5.1 1.4.1 0 .1-.8.1.9.1 1.2.1-1.5.1 0 .1 1.4.1 0 .1-1 .1.3.1.2.1-.5.1.2.1.1.1.2.1-1.4.1 3.2.1-1.5.1-1.3.1 1.5.1-1 .1 0 .1-.9.1 1.1.1.3.1-.7.1-1.3.1 3.1.1-.4.1-1 .1.7.1-1.9.1-.7.1 1.7.1.9.1-1.4.1 1.5.1 0 .1-1.5.1.7.1.6.1-.4.1.4.1-.5.1 1.2.1-1.1.1-.1.1-.3.1.2.1-1 .1.5.1.5.1-1.2.1 1 .1 1.5.1-1.7.1 1.2.1-.7.1 1.4.1-1.8.1.5.1-.2.1.6.1-1 .1.1.1.8.1-.7.1.1.1-.5.1 1.4.1-.6.1-1.1.1 1.5.1-1 .1-.8.1.7.1 1.4.1-.1.1-2.5.1 1.2.1.5.1.7.1-1.1.1-1 .1 1.2.1-.3.1-.2.1.5.1.9.1.4.1-1.5.1.2.1-.4.1 2.3.1-2.6.1 1.7.1-.9.1-1.3.1 2.3.1-1.9.1.4.1-.5.1-.1.1.1.1.6.1.8.1-.5.1.2.1-.3.1-.5.1.9.1.6.1-1 .1.1.1 1.2.1-1.4.1.4.1 0 .1-.4.1-.1.1-.1.1.6.1 1 .1 1.2.1-1.4.1-.7.1 1.8.1-.9.1.3.1-.5.1-.9.1 1.5.1.7.1-1 .1 2.1.1-3 .1 1.5.1.2.1 1.6.1-3.7.1 1.4.1 1.6.1-.9.1-1.1.1 1.9.1.3.1-2.7.1 3.1.1-1.1.1-.8.1.5.1 3 .1-1.4.1-1.1.1 1.5.1-1 .1-.4.1 1 .1 1.7.1-1.7.1.6.1-1.3.1.9.1.8.1-1 .1 1.6.1-1 .1-2.5.1 2.4.1-.8.1 1.9.1-1.9.1 1.2.1-.6.1 1 .1-.4.1-.6.1 1.4.1.3.1-.5.1.6.1-.8.1.1.1-.8.1.7.1-.5.1-.2.1 3.4.1-1.1.1-1.2.1.2.1.8.1-1.8.1 4.4.1-2.2.1-1.3.1 3.4.1-1.9.1.6.1-.3.1-1.3.1-.3.1.2.1 2.6.1-2.6.1 1.8.1-.6.1-.8.1 1.9.1.4.1 1.3.1-1.3.1-1.5.1 4.5.1-3.5.1 1 .1 1.4.1-1.4.1.5.1-1.5.1.5.1.1.1-1.8.1 3.7.1-3.7.1 2.5.1 2.4.1-2.1.1-1.6.1 2.1.1-1.2.1.3.1 2 .1-3 .1 2.2.1 0 .1-1.5.1-.4.1.1.1 3.3.1 1.1.1-4.2.1.7.1 2.5.1-1.8.1.8.1-.3.1 1.5.1-.9.1 1.7.1.2.1-3.4.1 1.5.1.9.1-1.2.1 1.6.1-2.2.1.1.1 2.9.1.4.1-1.2.1 1.4.1-.4.1-1.4.1 1 .1.8.1-1.6.1 1 .1-.8.1-.7.1 1.3.1-2 .1 1.2.1.8.1-.8.1 2.5.1-2.9.1 3.1.1 2 .1-5.4.1 2.7.1-.4.1-.8.1 2.1.1.3.1-3 .1 1.8.1 1.2.1-2.4.1.6.1 3.3.1-1 .1-2.7.1 5.2.1-3 .1-.3.1-.9.1 1.7.1-.3.1-.5.1 1 .1.6.1 0 .1-3.3.1 0 .1.6.1 2.9.1-2.9.1 6.4.1-5.5.1.7.1 1.9.1 0 .1-.3.1 1.8.1-.6.1 1.3.1-.7.1-.3.1-1.8.1-1 .1.8.1 2.7.1-3.3.1 3.6.1 1.9.1-1.2.1-2.9.1 2.6.1-3.2.1 1.2.1 2.3.1-4.3.1-1.2.1 2.6.1 4.9.1-2.7.1 4.6.1-1.4.1-1.3.1-3.5.1 1.3.1 4 .1-.5.1-3.5.1 1.8.1-1.1.1-.4.1.4.1 3.7.1-4.1.1 2.7.1-2 .1 1.2.1.8.1-4.6.1 3.4.1 2.6.1-6 .1 3 .1.8.1 0 .1-.4.1-2.8.1 1.7.1 1.9.1 5.9.1-5 .1-.9.1-2.3.1 8.2.1-4.5.1-2.2.1-1.8.1 4.9.1 1.1.1-3 .1-.4.1.4.1-.8.1.8.1 3.6.1-5.9.1 5.3.1-1.1.1 1.7.1-7.3.1 2.9.1-1.9.1 4.6.1 5.9.1-5.3.1 0 .1 1.7.1-2.3.1-.9.1 3.2.1-6.2.1 9 .1-6.5.1 4.4.1-4.4.1 3.1.1 1.9.1 1.5.1-5.6.1 0 .1 4.1.1 2.3.1-2.9.1 2.1.1-.8.1-2 .1 1.3.1-3.6.1.6.1 1.7.1 0 .1 1.3.1-2.5.1 1.9.1-1.9.1 0 .1-2 .1 2.6.1 0 .1-.6.1 4 .1-5.1.1 1.7.1-.6.1 6.7.1 0 .1-7.8.1 1.1.1 1.9.1 1.3.1-4.3.1-.5.1 1.1.1-4.5.1 9.8.1 2.9.1-8.8.1 3 .1-1.3.1 1.9.1-.6.1 0 .1.6.1-1.3.1 2 .1-2 .1 4.5.1-4.5.1 2.8.1-2.1.1 2.9.1-3.6.1.7.1 2.1.1-5.6.1 2.2.1-.6.1 1.9.1-1.3.1 1.9.1-1.3.1 3.6.1-5.3.1-2.5.1 2.5.1 10.6.1-6.9.1-2.6.1 5.1.1-4.5.1 4.5.1 0 .1-3.2.1-1.3.1-2.8.1 7.3.1-5.7.1 13 .1-7.3.1-2.5.1-1.3.1 4.8.1-8.3.1 3.5.1-3.9.1 5.2.1 2.5.1-.9.1 0 .1-4.2.1-.6.1 7.7.1-7.7.1 4.8.1 2.9.1-6.5.1 5.5.1-7.2.1 3.7.1-2.6.1.6.1 3.6.1 0 .1-3.6.1 7.6.1-7.6.1 3.6.1-4.8.1 3.2.1 0 .1-4.8.1 7.3.1-6.8.1 7.8.1 0 .1-4.2.1-.6.1 0 .1 0 .1 0 .1 3.8.1 1 .1-3.5.1 0 .1 1.6.1 0 .1-1.6.1 3.5.1 2.1.1 0 .1-6.3.1 1.5.1-2.1.1.6.1 3.2.1-3.8.1 1.3.1-1.3.1 2.9.1-5.9.1 1.7.1 1.3.1-3.9.1 3.9.1-1.3.1 4.2.1-4.8.1 2.5.1 7.6.1-6.9.1 4.5.1-11.1.1 5.9.1-5.5.1 3 .1-3.4.1.4.1 16 .1-9.8.1-4.8.1-1.4.1 3 .1 0 .1 0 .1 0 .1-1.6.1 7.3.1-2.5.1-1.3.1-3 .1 3.6.1-6.7.1 1.2.1 8.7.1-8.2.1 6.5.1-4 .1 0 .1 2.5.1-1.9.1 2.6.1-.7.1-4.5.1.9.1 5.9.1-2.3.1-5 .1 0 .1 5.7.1-3.2.1-4.2.1 4.8.1-5.2.1 4.6.1-.5.1 0 .1-1.1.1-.9.1 2 .1-.6.1-1.4.1 0 .1 0 .1 5.7.1-6.6.1 5.3.1-6.9.1 1.2.1 1.3.1 2 .1-1.5.1-1.4.1 1.8.1-.4.1 1.5.1 1.7.1-7.2.1 3.5.1-1.3.1 2.2.1-1.8.1-.8.1-2.8.1 4.5.1 1.4.1-3.1.1 3.1.1-6.8.1 5.4.1-2.8.1 2.3.1 1 .1 0 .1-4 .1 3 .1-3.7.1.7.1-.4.1.7.1 4.1.1-1.8.1-2.6.1-.4.1 4.8.1-9.4.1 3.4.1 3 .1-3.6.1-.5.1 3 .1 1.5.1-5.1.1-.5.1 2.2.1 0 .1 1.6.1-2.7.1 3.7.1-.3.1-2.3.1-2.4.1.5.1 2.5.1-2.3.1.6.1-1.3.1 1.3.1.8.1-.6.1 1.2.1-3 .1-.4.1 2 .1-.6.1 2 .1-.3.1-3.4.1-.8.1-.4.1 2.2.1.7.1-2.5.1-.2.1.8.1 2.2.1-2.8.1 0 .1-.4.1 0 .1-1 .1-.4.1-1.6.1-.2.1.5.1-.2.1.2.1 1 .1 1.1.1-5.3.1.6.1 4.1.1-2.3.1-.7.1-.6.1-.5.1-.6.1 1.7.1-.8.1-2.3.1 2.7.1-3 .1-.8.1-.1.1.9.1.3.1-.2.1.5.1-.5.1-1.8.1 2.6.1-2.9.1-.3.1.4.1-1.2.1-.3.1.6.1-1.1.1 1.6.1-.9.1-.4.1-.9.1-.7.1-.6.1 1.8.1-2 .1-1.7.1 1.4.1-2.3.1.5.1-.4.1.8.1-.6.1.5.1-2.8.1 2.3.1-2.1.1-1.3.1 1.8.1-1.2.1-.3.1-1.1.1.9.1-.3.1-1.6.1-.9.1.1.1.2.1-1.8.1.1.1-1.2.1 1 .1-.8.1-1.1.1-1.3.1 1.2.1-.2.1-2.5.1.3.1-.7.1-.3.1-1 .1-1.4.1.5.1-.2.1-1.4.1-.6.1-.6.1-.5.1-1 .1-1.3.1-.9.1-.5.1.2.1-1.6.1-.6.1-1.3.1-.6.1-.9.1-.7.1-1 .1-1 .1-1 .1-1.2.1-1.1.1-1.1.1-1.2.1-1.2.1-1.2.1-1.3.1-1.4.1-1.4.1-1.5.1-1.5.1-1.6.1-1.7.1-1.8.1-1.8.1-2 .1-2.1.1-2.2.1-2.3.1-2.5.1-2.7.1-2.8.1-2.9.1-3.1.1-3.2.1-3.2.1-3 .1-2.5.1-1.8.1-.6 0 0 .1.6.1 1.8.1 2.5.1 3 .1 3.2.1 3.2.1 3.1.1 2.9.1 2.8.1 2.7.1 2.5.1 2.3.1 2.2.1 2.1.1 2 .1 1.8.1 1.8.1 1.7.1 1.6.1 1.5.1 1.5.1 1.4.1 1.4.1 1.3.1 1.2.1 1.2.1 1.2.1 1.1.1 1.1.1.8.1 1.1.1 1.2.1 1.2.1.9.1.9.1.5.1 1 .1.8.1.9.1.6.1.5.1 1.3.1.8.1.7.1-.2.1 1 .1 1.3.1.1.1 1.5.1-.4.1 1.1.1.7.1.4.1.8.1 1.1.1.2.1 1.1.1.8.1 1.2.1-1.6.1 1.4.1 0 .1.3.1.5.1.5.1.9.1.6.1-.4.1 1.2.1-.5.1.8.1.7.1.3.1-.1.1 1.9.1.6.1-.8.1 1 .1.3.1-1.3.1 2.2.1.5.1-.2.1-.1.1-.2.1 3 .1.2.1.3.1-.6.1 1 .1.9.1-2.8.1.1.1 2.7.1 1.5.1-5.1.1 4.9.1-1.7.1.6.1 0 .1 2.1.1-1.4.1 1.3.1 0 .1 1.6.1-.9.1.6.1 1.2.1-.9.1 2.5.1-.9.1 2.7.1-3.7.1.8.1 2.2.1-1.2.1-2.1.1 1.1.1.9.1-1.9.1.8.1 1.6.1-.1.1.9.1 0 .1.4.1-2.8.1 4 .1 3.6.1-4.1.1.9.1-2.4.1 3.7.1-2.8.1 1.5.1 0 .1-1.4.1 1.3.1-1.3.1 2.2.1 2.3.1-1.5.1-3 .1.5.1 2.1.1.9.1-.7.1 2.8.1.3.1-.1.1 1.3.1.3.1-3.2.1 3.5.1-2.2.1 4.5.1-3.9.1.9.1-3.1.1 1.9.1-.1.1-1.9.1.8.1 1.7.1 1 .1-1.9.1 3.7.1-2.2.1 2.2.1-1.2.1-1.3.1 5.1.1-4.8.1 4.3.1-2.6.1 3.1.1-6.4.1 3.7.1 0 .1 4.2.1-1.1.1 0 .1 2.9.1-1.8.1-5.7.1-.1.1-.3.1 3.1.1 2.4.1.5.1.6.1-2.2.1-.5.1 3.3.1-2.3.1 0 .1-2.4.1 2.4.1-1.9.1-.9.1 7 .1-4.8.1-4.1.1 8.9.1-5.7.1-.9.1.8.1 2 .1 1.1.1-.6.1 3.3.1-4.9.1 3.4.1-1.2.1-.6.1-1.6.1 2.2.1-1.2.1-1.5.1 0 .1-.9.1 4.8.1.6.1-1.3.1 0 .1-5.8.1 6.4.1-1.2.1 12.4.1-13.6.1.5.1 1.2.1 6.5.1-2 .1.9.1-3.4.1-3.2.1 1.2.1-1.8.1 0 .1-.5.1 1.6.1 1.9.1 0 .1 3.2.1-7.3.1 3.4.1 3.9.1-2.5.1-.7.1 5.1.1-2.8.1-4.3.1 2.7.1 0 .1 4.4.1-5.2.1-.7.1-2.9.1 6.8.1-.9.1 1.8.1-1.8.1 0 .1-6.9.1 13.5.1-6.7.1-2.3.1-.7.1.7.1 1.5.1-2.2.1 0 .1 4.8.1-1.8.1 3.9.1-1.1.1-1 .1-3.5.1 3.4.1-1.8.1-1.6.1.8.1-.8.1 1.6.1 10 .1-10.1.1 8.3.1-7.4.1 2 .1-5.2.1 2.3.1 1.8.1-.9.1 0 .1-2.5.1-2.1.1 5.5.1-1 .1-1.7.1-2.2.1 7 .1-2.2.1 0 .1 2.2.1-1.2.1-4.4.1 9.8.1-9.8.1.7.1 2.7.1-1 .1-.9.1 10 .1-12.3.1 8.9.1-3.8.1 2.4.1-2.4.1-2 .1-.9.1 5.3.1-3.5.1 10.4.1-2.2.1-3.4.1-6.6.1 1.8.1 0 .1 2.2.1-4.8.1 2.6.1 3.4.1-4.3.1 3.1.1 0 .1 0 .1-5.6.1 13.8.1-9.3.1 9.3.1-9.3.1 9.3.1-8.2.1-6.3.1 14.5.1-7 .1-5.2.1 5.2.1 0 .1 3 .1-8.2.1 12.2.1-10.4.1-.9.1-1.7.1 4.8.1 0 .1 0 .1-5.6.1 3.4.1 2.2.1-2.2.1 2.2.1-7 .1 8.2.1-3.4.1 1.1.1 2.3.1 4.8.1-3.4.1-2.6.1-2.2.1 4.8.1 0 .1 11.7.1-13.1.1-2.3.1 1.1.1-4.8.1 0 .1 2.6.1 2.2.1 2.6.1 3.4.1-10.8.1 9 .1-3 .1-1.2.1 2.6.1-3.7.1 2.3.1-3.4.1 4.8.1-4.8.1 1.1.1 2.3.1-3.4.1 6.4.1-4.2.1-1.1.1 9.3.1-5.6.1-6.6.1 5.2.1-1.2.1 1.2.1 1.4.1-5.7.1-.9.1 8.2.1 1.8.1-7.1.1 1.1.1-4 .1-.8.1 6 .1 0 .1 3 .1-1.6.1 5.6.1-5.6.1-2.6.1 6 .1-4.8.1 0 .1-1.2.1 4.2.1 1.8.1-8.2.1-3.4.1 4.5.1 5.3.1-4.2.1 0 .1 8.2.1-9.3.1 0 .1 3.7.1 0 .1 8.3.1-2.7.1-13 .1 3.7.1 1.1.1 8.2.1-5.6.1 0 .1-4.8.1 2.2.1-1.1.1 9.3.1-2.2.1-7.1.1 7.1.1 2.2.1-2.2.1-8.2.1 3.4.1 3 .1 1.8.1-1.8.1 0 .1 1.8.1-1.8.1 0 .1-1.6.1-7.4.1 6 .1 4.8.1 0 .1-1.8.1 4 .1-7 .1-1.2.1 8.2.1-7 .1 13.1.1-8.3.1-1.8.1 6.7.1-9.7.1 9.7.1-4.9.1-1.8.1-1.6.1 1.6.1-1.6.1 1.6.1-1.6.1 0 .1 3.4.1-1.8.1 1.8.1 13.1.1 0 .1-14.9.1-5.3.1 7.1.1-3.4.1-3.7.1 5.3.1 4 .1 6.1.1 4.8.1-19.1.1 6 .1 0 .1 4.9.1-6.7.1-3 .1-1.2.1 0 .1 10.9.1-4.9.1 4.9.1-2.7.1-7 .1 3 .1-4.2.1 8.2.1-5.6.1-1.4.1 13.1.1-10.1.1 0 .1-3 .1 13.1.1-10.1.1 1.8.1-3.4.1 11.7.1-11.7.1-1.4.1 13.1.1-11.7.1 16.5.1-4.8.1-6.1.1-5.6.1-3.7.1 7.1.1 0 .1 0 .1 8.3.1-8.3.1 4.9.1-8.3.1 3.4.1 8.3.1-11.7.1 1.6.1 1.8.1-6 .1 6 .1 0 .1-3.4.1 3.4.1 0 .1 0 .1 2.2.1-9.3.1 3.7.1 11.7.1-11.7.1 0 .1-2.6.1 4.2.1 10.1.1-11.7.1 1.6.1-1.6.1 1.6.1 0 .1-5.3.1 9.3.1 2.7.1 8.2.1-4.8.1-10.1.1 4 .1-4 .1-3 .1 7 .1 2.7.1-2.7.1-5.6.1 5.6.1-7 .1 7 .1 2.7.1-2.7.1 10.9.1-10.9.1-4 .1 0 .1 4 .1 6.1.1 4.8.1-8.2.1-2.7.1 6.1.1 13 .1-27.3.1 8.2.1 0 .1 6.1.1 0 .1-3.4.1 0 .1-12 .1 20.2.1-14.9.1-3 .1 9.7.1-12 .1 15.4.1-10.1.1 6.7.1-2.7.1 0 .1 0 .1-8.2.1 2.6.1 1.6.1 4 .1 0 .1 6.1.1 0 .1-3.4.1-8.3.1 1.6.1 10.1.1-3.4.1-2.7.1 0 .1 19.1.1-16.4.1-2.7.1-4 .1 4 .1 6.1.1-6.1.1 0 .1 0" />
<path fill="none" stroke="#ff0000" stroke-width="1.4" stroke-linejoin="round" d="M75.5 347.5l.1 10.8.1-13 .1 8.2.1-3.4.1-2.6.1 0 .1 0 .1 19 .1-16.4.1-4.8.1 8.2.1-8.2.1 2.2.1-4 .1 4 .1 6 .1-10 .1 10 .1-3.4.1 3.4.1-10 .1 6.6.1-4.8.1 4.8.1 3.4.1-6 .1 19 .1-21.2.1 8.2.1-3.4.1-4.8.1 21.2.1-19 .1 0 .1 2.6.1-6.6.1 10 .1-6 .1-2.2.1 2.2.1 6 .1-3.4.1-4.8.1 4.8.1-6.6.1-3 .1 7 .1 6 .1-8.2.1 4.8.1 8.2.1 0 .1-8.2.1-2.6.1-4 .1 10 .1-10 .1 14.8.1-16.4.1 5.6M81.7 347.5l.1 2.6.1-9.6.1 0 .1 17.8.1-14.8.1 6.6.1-2.6.1 6 .1 0M82.8 350.1l.1 0 .1-2.6.1-2.2.1 4.8.1-2.6.1 19 .1-16.4.1-6.6.1 0 .1 0 .1 4 .1 0 .1-2.2.1-3.4.1 5.6.1-2.2.1 4.8.1-2.6.1 2.6.1 8.2.1-14.8.1 10 .1-11.6.1 8.2.1 8.2.1-10.8.1 2.6.1 0 .1-9.6.1 7 .1 2.6.1-2.6.1-8.3.1 10.9.1 0 .1-2.6.1 0 .1 2.6.1 16.4.1-13 .1-6 .1 2.6.1-4.8.1 13 .1-17.8.1 26 .1-26 .1 4.8.1 4.8.1-8.2.1-1.4.1 0 .1 26 .1-13 .1-8.2.1 0 .1-1.8.1 0 .1-1.6.1 16.4.1-13 .1-1.8.1 0 .1 4 .1 6 .1-16.4.1 8.2.1 2.2.1-7 .1 7 .1 0 .1 19 .1-19 .1 10.8.1 0 .1-13 .1 2.2.1-4 .1 10 .1 0 .1-11.6.1 8.2.1-8.2.1-1.4.1 13 .1 0 .1-14.3.1 8.3.1-2.2.1-3.4.1 1.6.1 6.6.1 3.4.1-3.4.1 0 .1-6.6.1 6.6.1-2.6.1-5.6.1 0 .1-2.7.1 6.1.1 4.8.1 0 .1-10.9.1 6.1.1 4.8.1 8.2.1-10.8.1 2.6.1-4.8.1 2.2.1 0 .1 0 .1 2.6.1-2.6.1-8.3.1 4.3.1 14.8.1-10.8.1-5.6.1-1.4.1 4.8.1 2.2.1 2.6.1-8.2.1 8.2.1-4.8.1-4.8.1 0 .1 4.8.1-10 .1 8.2.1-4.3.1 8.3.1 6 .1-3.4.1-10.9.1 10.9.1-8.2.1 3.4.1-1.8.1 0 .1 1.8.1 0 .1 8.2.1-15.4.1 1.1.1 4.3.1-4.3.1 4.3.1 4 .1-5.6.1 0 .1-3.8.1 5.4.1-1.6.1 16.4.1-10.8.1-5.6.1 3.4.1-8.2.1 0 .1 8.2.1-1.8.1-1.6.1-2.7.1-1.1.1-1 .1 1 .1 5.4.1 6.6.1-9.6.1 1.4.1-4.8.1-3.4.1 5.5.1-3.1.1 2 .1-2.8.1 5.2.1-2.4.1 1.1.1 2.7.1-2.7.1 4.3.1-3 .1 1.4.1 8.2.1-13 .1 0 .1 3.4.1-2.4.1-6.5.1 21.9.1-8.2.1-4.8.1-2.4.1-2.8.1 8.2.1-5.4.1 1.1.1-2.1.1 6.4.1-1.6.1-4.8.1-1.8.1 0 .1 2.8.1-1 .1 3.4.1-4.4.1-1.7.1 7.5.1-3.8.1-2 .1-1.7.1-2.1.1 5.8.1-5.1.1 8.9.1-2.7.1-3.1.1-3.1.1 1.4.1 0 .1-.7.1 9.8.1-9.1.1 0 .1 6.1.1-3.4.1-1.8.1 0 .1-5.9.1 6.7.1 1 .1-2.7.1 2.7.1 1 .1-2 .1 2 .1 2.4.1 1.4.1-1.4.1-2.4.1-5.1.1 3.1.1 2 .1-2.8.1-3.7.1 2.8.1 0 .1 1.7.1 1 .1-1.8.1-5.4.1 7.2.1 3.4.1-8.9.1.7.1.7.1-.7.1 4.8.1 4.8.1-4.8.1-1 .1-3.1.1 5.1.1-6.5.1 5.5.1-6.7.1 1.2.1 3.7.1-1.6.1.7.1 7.5.1-1.4.1-4.4.1-2.4.1 6.8.1-5.2.1-5.9.1 5 .1 1.7.1-3.8.1 3.8.1-3.1.1 2.3.1-1.6.1-3.3.1 3.3.1-2.7.1 3.4.1-2.8.1 2.8.1 3.7.1-7.1.1-1.1.1 7.2.1-4.1.1.7.1 1.6.1 0 .1-5.4.1 3.1.1-1.4.1 1.4.1 1.4.1-4.5.1 7.2.1-2.7.1-2.1.1-2.4.1 3.8.1-1.4.1 2.1.1 1.7.1-5.7.1-2 .1 6 .1-2.8.1 2.8.1 1.7.1-5.1.1 1.3.1 0 .1-1.3.1 3.4.1-4 .1-1.5.1-.5.1 1 .1 5 .1-6 .1 9.7.1-1 .1-5.5.1-2.7.1 4.1.1-2 .1 3.4.1-1.4.1-5.1.1 2 .1 3.1.1-2.6.1-.5.1-.5.1-1.9.1 5.5.1-5.1.1 8.2.1-3.8.1 5.8.1-8.7.1 4.3.1-2.7.1.6.1-1.7.1-.5.1 0 .1 5.9.1.8.1-6.2.1-2.4.1.4.1 7.4.1-4.3.1-2.1.1 4.8.1-4.3.1 2.2.1-.6.1 0 .1 3.4.1-6.9.1 4.1.1 0 .1-5.8.1 3.6.1 1 .1 1.9.1-3.4.1 2.1.1-4.8.1 9.9.1-.8.1 0 .1-4.9.1 0 .1 1.2.1 2.1.1 0 .1-2.1.1-.6.1 1.3.1-1.3.1-4 .1-2.3.1 4.2.1 4.8.1-7.1.1 7.1.1-5.8.1 3.7.1 0 .1-3.2.1 0 .1 1 .1 4.3.1-7.9.1 5.8.1 1.4.1.7.1 1.6.1-8.3.1 7.4.1-4 .1-.5.1.5.1-1.5.1 4.8.1-2.7.1-.6.1-.5.1-2.9.1 6 .1 0 .1-2 .1 2 .1-.7.1-4.8.1 4.1.1.7.1-.7.1.7.1-2.4.1-1.5.1-1.4.1 2.9.1 2.4.1-3.4.1 2.1.1-3.5.1 5.5.1-2 .1 2.7.1-3.8.1 0 .1 1.1.1-3.1.1 7.4.1-3 .1-3.4.1 5.5.1-6 .1 3.2.1-1.2.1.6.1 4.3.1-9.1.1 3.7.1 1.1.1-1.1.1 0 .1-2.4.1 6.2.1-4.3.1-1.5.1 3.1.1-3.1.1 2.5.1 1.2.1-1.2.1-1.5.1 2.7.1-2.7.1 2.1.1-2.1.1 2.1.1-.6.1 1.9.1.7.1-.7.1-5.7.1 3.8.1.6.1-3.5.1 1.4.1-.5.1-2.2.1 0 .1 4.2.1 2.6.1-8.3.1 4.7.1-1.5.1 5.1.1 0 .1 0 .1-5.1.1 2.5.1-1.5.1 0 .1 5.5.1-5 .1.5.1.5.1-3.8.1-2.2.1-.7.1 3.3.1 4 .1-2.1.1 2.7.1-1.2.1-2 .1-1.4.1 3.4.1-4.6.1 5.8.1 2.1.1-6.7.1.5.1 1.4.1 4.8.1-2.7.1-.6.1.6.1-1.1.1-1 .1 3.4.1-.7.1-2.7.1 3.4.1 2.1.1-6 .1 6 .1 0 .1-4.5.1 3.8.1-4.3.1-2.4.1 6 .1-1.4.1-2.2.1-1 .1 3.2.1-2.2.1 5 .1 1.7.1-2.4.1-2.7.1 0 .1 4.3.1.8.1-8.2.1 3.1.1-1.6.1.5.1 3.1.1.7.1-5.3.1 3.9.1-1.3.1 2 .1-1.4.1 7.6.1-5.5.1-3.3.1-2.5.1 2.5.1 2.6.1 2.3.1 0 .1-1.6.1 0 .1-3.8.1 1.1.1 8.2.1-6.2.1-4.1.1 4.1.1-1.4.1 11.9.1-9.8.1-4.8.1 6.4.1-4.9.1 4.9.1 1.8.1-9.2.1 1.5.1 5.9.1-1.6.1-2.7.1-1.1.1 1.1.1-.6.1 8.8.1-7.6.1 7.6.1-6.2.1 1.4.1.9.1.8.1-3.1.1.7.1-1.4.1 3 .1 0 .1-2.3.1-2 .1 3.4.1 1.7.1 3.1.1-8.2.1 0 .1 4.3.1-1.6.1 3.4.1-4.1.1.7.1-1.4.1-1.3.1 8.2.1-6.2.1 1.4.1-4 .1 1.2.1-.6.1 2 .1.7.1-1.4.1 4.8.1-4.1.1-3.6.1 7.7.1-4.8.1 2.1.1 2.7.1 3.4.1-3.4.1-1 .1-1.7.1 0 .1-4.5.1 15.4.1-14.9.1 1.9.1-1.3.1 2.7.1-1.4.1 1.4.1 1.6.1-.9.1-2.1.1 9.6.1-3.8.1-3.7.1-.7.1 2.4.1-.8.1 5.2.1-2.4.1-2.8.1-.9.1 1.7.1 0 .1 0 .1 2 .1 1.1.1-6.2.1-1.4.1 6.5.1-3.7.1 9.1.1-9.8.1-2.1.1 2.1.1-1.4.1 3.8.1-2.4.1 4.4.1 0 .1-6.5.1 5.5.1-1 .1 0 .1 5.8.1-2.7.1-7.6.1 5.5.1-1 .1-.8.1 6.6.1-7.5.1 4.8.1-2.1.1 0 .1-5.5.1 2.1.1 9.8.1-9.8.1 9.8.1-6.4.1 3.4.1-6.1.1 7.5.1-1.4.1-6.1.1-.7.1 6.8.1-6.1.1 1.7.1 7.4.1-5.4.1-1 .1-3.4.1 4.4.1 1.1.1-2.1.1 0 .1 4.8.1-1.4.1 7 .1-9.4.1-2.8.1 1.8.1-2.7.1 2.7.1 1 .1 7.2.1-13.7.1 5.5.1-1.8.1 2.8.1 0 .1-3.7.1 13.1.1-13.1.1 3.7.1 7.2.1-10.9.1-2.1.1 4.8.1 3.4.1-5.2.1 3.9.1-2.1.1 1 .1 9.4.1-7 .1-2.4.1-1 .1 6.4.1-6.4.1 3.4.1-2.4.1 2.4.1 0 .1-3.4.1 8.2.1-4.8.1-1.3.1 4.3.1-3 .1 1.4.1-5.8.1 4.4.1 0 .1-1.3.1 6.1.1-1.8.1 1.8.1-6.1.1 2.7.1-1.4.1-2.4.1 7.2.1-8.2.1-2.7.1 4.8.1 10.9.1-8.2.1 1.6.1-3 .1 1.4.1 11.6.1-13 .1 7 .1-2.2.1-4.8.1 7 .1-2.2.1-8.2.1 13 .1-8.2.1 1.6.1-1.6.1-4.8.1 2.1.1 8.3.1 6 .1-10 .1-4.3.1 8.3.1-8.3.1 6.1.1 2.2.1-8.3.1 2.7.1 3.4.1-3.4.1-2.7.1 1.3.1 3 .1-3 .1 7 .1-4 .1 6.6.1-8.2.1 1.6.1 0 .1-5.4.1 0 .1 2.4.1 7 .1-7 .1 4.8.1-7.2.1 12 .1-4.8.1 0 .1-1.8.1-7.4.1 5.8.1 3.4.1 4.8.1-10.9.1 0 .1 0 .1 0 .1 2.7.1-1.4.1 9.6.1-2.6.1-8.3.1-5.5.1 2.4.1 5.8.1-5.8.1 14 .1-14 .1 4.4.1 0 .1 0 .1-2.4.1 5.4.1-3 .1-6.1.1 9.1.1 0 .1-4.3.1 2.7.1 11.6.1-10 .1-3 .1 7 .1-8.3.1-3.9.1 3.9.1 4.3.1-7.4.1 14 .1-6.6.1-5.4.1 0 .1 1.1.1-1.1.1 0 .1 3.8.1 5.6.1-9.4.1-5.8.1 6.9.1-1.1.1 5.4.1 4 .1-9.4.1 1.1.1 2.7.1-1.4.1-2.4.1 1.1.1-2.1.1 4.8.1-2.7.1 2.7.1-5.8.1 3.1.1 14.3.1-14.3.1-1.1.1 3.8.1 0 .1 0 .1 1.6.1 0 .1-7.4.1 3.1.1-1.1.1 0 .1 5.4.1 1.8.1-7.2.1 5.4.1-3 .1-4.4.1 1 .1 6.4.1-1.6.1-3.8.1-1.1.1 10.4.1-7 .1 4.8.1-4.9.1 0 .1-6.1.1 1.7.1 2 .1 3.7.1-5.7.1 5.7.1-2.7.1-2.2.1-1.8.1 2.8.1 12 .1-14 .1 3.1.1 2.6.1 3.4.1-7.2.1-1.1.1 1 .1-2 .1 4.4.1-1.3.1 2.6.1-9.6.1 8.2.1 1.4.1-2.7.1-1.1.1 1.1.1-.1.1 2.7.1-7.5.1 3.6.1-2.8.1-.1.1-3 .1 3 .1 4 .1 1.2.1-6.1.1 3.7.1-5.2.1 6.3.1 2.6.1-3.8.1 1.1.1 0 .1-1.2.1 7.2.1-3.5.1-3.8.1 2.4.1-1.3.1-6.3.1 4.1.1-.9.1 1.9.1-4.4.1 5.5.1 2.6.1-1.4.1 4.8.1-4.8.1 4.8.1-3.5.1 0 .1-2.7.1 6.1.1-9.2.1.9.1 1 .1 0 .1 5.3.1-4.2.1 6 .1-10.1.1.9.1 5.7.1 1.6.1 0 .1 6.6.1-9.6.1 1.3.1-4.8.1 10.4.1-14.6.1 7.5.1-5.2.1 18.2.1-18.3.1 0 .1.9.1 0 .1-.9.1 6.6.1-3.8.1-1.1.1-1 .1 2 .1 2.4.1 1.3.1-4.8.1-4.8.1 6.9.1-4.8.1 2.6.1 6.4.1-6.4.1-1 .1 4.3.1-4.3.1-.1.1 0 .1 17.4.1-16.5.1 0 .1 2.1.1-2.1.1 6.3.1-6.4.1-2.7.1 2.7.1-1.9.1 5.2.1-2.4.1 12 .1-6.7.1 1.9.1-10.1.1 8.2.1-9.1.1 0 .1 4.8.1 8.2.1-7 .1-2.4.1 0 .1-.1.1 2.4.1-5.3.1 8.2.1-5.3.1-1.1.1 2.1.1-1.1.1-5.9.1 8.2.1 3 .1-3 .1-4.4.1.9.1-1.8.1.8.1 5.8.1-5.8.1-.9.1 6.6.1-6.6.1 3.9.1-8.2.1 3.4.1 3.6.1 3.8.1-8.3.1 2.5.1-3.2.1 0 .1 2.2.1.9.1-1.7.1 2.6.1 0 .1-3.5.1 3.4.1-.9.1-1.8.1-.7.1 6.8.1-.1.1-6 .1 10.8.1-9.2.1.9.1-3.4.1 9.8.1-7.4.1.9.1 1.1.1-1.1.1-1.8.1-2.4.1 4.1.1-.9.1-.1.1 5.8.1-6.7.1-3.6.1 3.6.1 0 .1-3.7.1 2.8.1-2.2.1 2.2.1-2.9.1 5.5.1-4.2.1 5.1.1-5.1.1 2.2.1-4.2.1.6.1-1.2.1 4.8.1 5.2.1-7.6.1-.7.1-1.8.1-.1.1 7.7.1-5.9.1 1.4.1-3.3.1 6.7.1-4.2.1-5 .1 1.9.1 2.4.1-1.3.1 1.2.1-4.4.1 5.1.1-5.1.1 5.7.1-5.7.1.9.1 6.3.1-3.6.1-4.2.1 3.6.1-2.7.1-.5.1 4.3.1-6.4.1 3 .1-3.4.1 2 .1-.4.1-2 .1 1.6.1-2.6.1 3 .1 0 .1-3.3.1 2.1.1-2.4.1 1.3.1-3.6.1 2.3.1.9.1-4.2.1 2.4.1-2.9.1 0 .1 2 .1 1.4.1-3.6.1 2.5.1.6.1.2.1 2 .1-5.5.1 1.1.1 0 .1-.9.1 4 .1-4.6.1-.7.1 1.1.1-3.1.1.5.1 1.3.1-.7.1.2.1-2.6.1-.1.1 3 .1-3.2.1-.3.1-1.1.1 1.3.1-.7.1-2.3.1.5.1 2.2.1-3.6.1 2.2.1-1.3.1-1.3.1 2.1.1-2.6.1-2.1.1 4.5.1-4 .1 1 .1-3 .1.8.1-.4.1.6.1-1.2.1-1 .1-.6.1 0 .1.7.1-.9.1-.2.1-1.7.1.9.1-1.4.1 0 .1-.7.1.7.1-2.5.1 1.1.1-1.7.1.5.1-.5.1-.7.1-.3.1-1.2.1.8.1-.5.1-.3.1 1.5.1-2.8.1-.4.1.9.1-1.7.1 1 .1-2.1.1.4.1-.7.1-.2.1.9.1-2.3.1 1.7.1-.6.1-1.8.1.3.1-.2.1.2.1-1.2.1.1.1.5.1-1.2.1-.2.1-.1.1-.6.1-.5.1 0 .1-.4.1 0 .1-.9.1 0 .1-.4.1-.6.1.7.1-.6.1-.5.1-1 .1.6.1-.5.1.1.1-1.3.1.3.1-.8.1.5.1-.3.1-.6.1 0 .1-.8.1.3.1-.8.1 1 .1-1.4.1.2.1.1.1-.8.1.8.1-.9.1-.6.1.1.1-.1.1 0 .1.1.1-.1.1-.3.1.5.1-.6.1.1.1-.9.1.5.1 0 .1-.3.1.4.1 0 .1-.2.1.7.1-.1.1-.5.1 1.1.1.1.1 0 .1.1.1-.1.1 0 .1.8.1.4.1.8.1.4.1.1.1.3.1 1 .1.7.1-.6.1.1.1 1.2.1-.7.1.8.1.5.1.6.1.7.1.2.1.1.1.8.1.7.1.3.1 1.1.1-.1.1-.4.1.9.1 1.2.1-.6.1.7.1.7.1 1.5.1-.2.1.6.1 1.4.1-.5.1.9.1 1.6.1.7.1-.3.1 1.3.1-.4.1 1.1.1.9.1 1.2.1.1.1-.8.1 1.7.1.9.1.6.1.6.1 2.8.1.9.1-.2.1-.6.1.9.1-.3.1 1.6.1.1.1.4.1 2.6.1-1 .1 2.3.1-2.2.1 3.6.1-1.4.1.6.1.7.1-.5.1 2.9.1-4.5.1 2.1.1 1.5.1 1.3.1 2.3.1-2 .1-1.4.1.7.1.2.1-.2.1 1.3.1.7.1-.9.1-1.1.1 1.3.1-1.8.1 4.2.1-3.3.1 3.1.1-.3.1.5.1-2.4.1 3.8.1-3.6.1-1.1.1 4.7.1-1.9.1-2.5.1 2 .1 2.1.1-.5.1-3.9.1.9.1.2.1 3.1.1.2.1-1.3.1-.8.1 0 .1 2.1.1-3.3.1 3.1.1-.6.1-2.3.1-1.5.1 2.5.1-2.9.1.4.1 2.2.1.8.1 1.6.1-3.7.1.4.1.2.1.5.1-2.9.1 1.8.1.6.1-1.3.1 2 .1-2.2.1 4.4.1-5.1.1 1.4.1 0 .1-1.8.1 3.3.1-1.3.1-2.5.1 6 .1-4.2.1 2 .1-1.5.1 0 .1-.2.1-1 .1 2.5.1-3.1.1-.2.1-2.4.1-.6.1 3.9.1 1.3.1-3.7.1-.9.1 3.9.1-.6.1-4.3.1 3.8.1-.4.1.6.1-3.7.1 2.1.1-1.8.1-.7.1 3.9.1-3.5.1 1.1.1 2 .1-2.1.1 0 .1 2.3.1-2.5.1-1.1.1-.8.1.7.1 2.5.1.5.1-6.4.1 3.8.1 1.9.1-1.9.1-1.7.1 3 .1-.8.1.3.1-3.7.1 1.6.1-1.2.1.3.1 0 .1 1 .1-.7.1.3.1 2.1.1-5 .1 4.2.1-1.5.1.3.1-.7.1-.1.1.5.1 1.8.1-1.7.1.9.1-1 .1-.7.1-.7.1.8.1 0 .1-1.3.1 2.1.1.5.1.7.1-1.1.1-.2.1-.2.1-2.9.1 3.5.1-1 .1-1.2.1.3.1.4.1-1.6.1 1.7.1-.2.1-.2.1 2.1.1-.5.1-1.2.1-1.2.1.3.1.5.1 0 .1-.9.1.8.1-.5.1.3.1-.6.1-.3.1.7.1 1.1.1-1.2.1.4.1-.2.1.8.1-.1.1-1.4.1-.8.1 1.8.1-1.4.1 2 .1-1.9.1 1.3.1-2.3.1.7.1 1.3.1.1.1-1.1.1.3.1-.5.1.2.1-.1.1 1.3.1-1.3.1-.3.1 2.6.1-1.6.1-1.3.1.7.1.7.1 0 .1-1.8.1 4.1.1-3.2.1-.8.1 1.3.1.4.1-.1.1-2.7.1 1.7.1.1.1-.7.1.7.1-.3.1-1.5.1-.1.1 1.3.1-1.4.1 2.5.1.6.1-2 .1.2.1-.7.1-.3.1 1.3.1.4.1-.9.1 1.1.1-2.5.1 2.5.1-.5.1-.3.1-.5.1 1 .1-.2.1 0 .1 1.7.1-3.6.1 2.5.1-2.4.1 3.8.1-1.8.1-.1.1-.9.1 2.4.1-1.2.1-2 .1 1.8.1 0 .1-.9.1.7.1-.4.1 0 .1-1.5.1.2.1 1 .1 2 .1-1.7.1-1.8.1-1.4.1 2.2.1.5.1 1.3.1-1.4.1.7.1-.1.1-1.1.1.8.1-.7.1-1.5.1 1.2.1 0 .1.3.1-1.7.1 2.7.1-2.1.1 2.4.1-1.3.1.8.1.2.1 1.6.1-1.4.1-.8.1-1.2.1 1.1.1.1.1 1 .1-1 .1.2.1 1.9.1-1.7.1.1.1 1.7.1-3 .1.3.1 2 .1-1.5.1-.6.1.2.1 1 .1-1.2.1 1.2.1-1 .1.7.1-2.2.1 2.8.1-.4.1-2.8.1 1.2.1 1 .1-.8.1.1.1.7.1.9.1-.8.1-.3.1.5.1-1.6.1 1.4.1-1.3.1 3 .1-4.1.1 3.1.1.4.1-1.8.1 1.4.1-.1.1-.7.1-.7.1.2.1.5.1-.4.1.4.1-.4.1.3.1-1.2.1.3.1 2.6.1-1.1.1-1.8.1 1 .1-.5.1.5.1 2.4.1-3 .1 1.1.1-.1.1-.8.1-.3.1 1.9.1-1.2.1-.3.1 2.5.1-1.7.1-1.5.1-1.1.1 3.1.1-.9.1 1.4.1-.2.1-1.5.1-.1.1 1.4.1 1.6.1-2.6.1 2.3.1-3.7.1 1.3.1-.2.1.6.1 1 .1-.7.1-1.4.1.7.1 1.2.1-1.5.1 1.2.1-.5.1.3.1-1 .1-.4.1.5.1.2.1 1.1.1 0 .1-.7.1-.2.1.4.1.4.1-1 .1 1 .1-1 .1.4.1 2.4.1-3.3.1 2.4.1-2.3.1 2 .1-2.3.1 1 .1-.2.1 0 .1-.1.1.6.1.2.1 1.4.1-2.4.1.8.1.5.1-1.6.1-.3.1.4.1 1.4.1-1.3.1-.5.1.9.1-1.4.1 2.2.1-.6.1 1.9.1-2.7.1 1.2.1 2.1.1-1.3.1-1.8.1.7.1.2.1.9.1-.6.1-.2.1-.4.1.7.1-1.7.1 1 .1.7.1 0 .1-2.7.1 2.6.1.3.1-1.2.1-.4.1.4.1 1.3.1-.6.1-.7.1-.4.1 1.1.1-1 .1 2.1.1-2.5.1-.1.1.4.1-.3.1 1.2.1-.8.1-.4.1-.7.1 3.3.1-.6.1-2 .1 2.2.1-.8.1 0 .1.2.1-.5.1-.2.1-1 .1 2.2.1-1 .1 1 .1-1.5.1 1.1.1-1 .1-.5.1.6.1-.8.1 1.9.1-.2.1-1 .1 1.5.1-.5.1.1.1-.7.1.6.1-.7.1-1.3.1 2.2.1-1.7.1 2.1.1-.5.1-.9.1 1.1.1-1.3.1 1.7.1 0 .1-2.6.1 1.9.1.1.1-1.5.1 1 .1-1.3.1.6.1.2.1-.1.1-.1.1 3.3.1-.9.1-.4.1-.2.1-2.2.1 2.7.1-1.8.1 1.4.1.4.1-2.1.1-1.4.1 1.2.1.4.1-.3.1 1.1.1 1.2.1-2.3.1 2.1.1-2.5.1 1.7.1-.7.1-1.6.1 1.6.1-1.6.1 1.1.1-.5.1 1.2.1-.5.1.3.1.2.1.9.1-.3.1-.7.1 2.3.1-3.7.1.7.1.3.1 1.7.1-2.6.1 1 .1-.2.1-.8.1 0 .1.6.1 1 .1-.1.1-.7.1 2.7.1-2.5.1 1.8.1-.3.1 1.9.1-3.9.1.6.1.9.1.1.1.7.1-.4.1-1.3.1.3.1.1.1-.8.1-.6.1 2.6.1-2.7.1 2.1.1-.9.1-.9.1.2.1 1.1.1-1 .1 1.1.1-.5.1.7.1.4.1-1 .1.2.1-.4.1-1.3.1.8.1.4.1-.2.1.7.1-.3.1 2 .1-2.1.1 1.9.1-2.1.1-.7.1 1.5.1-1.1.1.2.1.8.1.4.1.4.1-1.3.1.8.1-.4.1 1.4.1-2.1.1-.5.1 1.9.1-1.3.1 1 .1-1.4.1 2.2.1-4 .1 1.7.1 2.1.1-.4.1-.5.1-.2.1-.5.1.2.1.6.1.8.1-2.9.1.6.1.5.1-.9.1 1 .1-.5.1-.7.1.7.1.7.1-.1.1-.9.1 1.1.1-.1.1-1.1.1.1.1.6.1-.5.1-.7.1 1.7.1-1.4.1.5.1 0 .1-.9.1 1.8.1-1.5.1 1.9.1-2.3.1-1.1.1 1.5.1-.1.1 1 .1-.6.1-1 .1 1.1.1.1.1.7.1-.1.1-2.4.1 2.4.1-1.8.1 1.4.1-.3.1-1.1.1 0 .1.2.1.2.1-.9.1-.3.1-1 .1 2.4.1-1.3.1 1.5.1-.3.1-.7.1-.5.1 1 .1.1.1-1.9.1 1.3.1-1.5.1 2.7.1-1.8.1.9.1-.6.1-.2.1.7.1 1.3.1-3.9.1 1.5.1.9.1-.5.1-1.5.1 1.6.1.4.1-2 .1 1.7.1-.1.1.1.1-.3.1.7.1-.5.1-.1.1.2.1 2.2.1-2.9.1 1.3.1-1.2.1 1.5.1-.9.1.6.1-1.2.1-.3.1.2.1 0 .1-.5.1.3.1.4.1-.7.1 1.2.1-2.5.1 2.5.1.7.1-.7.1-1 .1 0 .1.4.1 1 .1-.1.1.6.1-.6.1-1.2.1.9.1-.1.1-1.6.1 2.2.1-.8.1 0 .1-1.8.1 1.6.1-.8.1-.4.1.9.1.9.1-1.3.1 1 .1-1.7.1 2.1.1-.2.1-.6.1-.2.1.1.1 0 .1.9.1-1.1.1 1 .1.7.1.3.1-1.6.1 1.9.1-1.4.1-.3.1 0 .1-1.6.1 1.8.1.5.1-.1.1 1.6.1-2.4.1.5.1.5.1.5.1.8.1 0 .1-.8.1 1.3.1-1.3.1-.5.1-1.2.1 1.4.1-.8.1.6.1.2.1-.9.1.5.1-.9.1 2.6.1-1.1.1.9.1 1.1.1-.3.1-.1.1-1.5.1.9.1-1.1.1.8.1-.1.1.3.1.1.1-2.2.1 2.2.1-1.2.1 1.9.1-2.3.1 2.6.1-2.2.1 1.9.1.3.1-.3.1-1.7.1 1.8.1-1.9.1 1.4.1-1 .1 2 .1.5.1-.4.1-1.2.1-.1.1.8.1-.9.1 2 .1-2.9.1-.3.1 2.6.1-.7.1.5.1-.1.1-2 .1 3.7.1-2.4.1.8.1-.7.1 1.2.1-.6.1 0 .1-.7.1 2.9.1-3.4.1 2.5.1-1.7.1.6.1.2.1.8.1.1.1-.2.1-1 .1 1.6.1-.1.1.7.1-2.7.1 2.1.1 1.4.1-1.4.1-.5.1.2.1.7.1-.3.1 1.1.1.3.1.7.1-1.7.1-.1.1 1.3.1-1.2.1 1.3.1-.3.1-2.3.1 1.4.1.7.1 3.4.1-2.7.1-.6.1 1.3.1-1.6.1 1.4.1.8.1-1.7.1.8.1 1.7.1-.3.1-2.6.1.1.1 1.5.1-1 .1 2.5.1-.5.1.3.1 2 .1-4.3.1 0 .1 3.2.1-1.4.1-.6.1-.1.1 2.2.1 1.3.1-2.1.1-1.3.1 1.8.1-2.1.1 2.7.1 1.2.1-3.2.1 1.1.1 0 .1-.8.1-1.3.1 1.6.1 1.4.1 2.6.1-3.5.1-1.1.1.3.1.6.1-.3.1-2.2.1 3.3.1-1 .1 1.7.1-1.1.1 3.5.1-3.5.1-.7.1 1 .1-2.3.1 0 .1 2.4.1-.3.1 1.6.1-2.6.1.5.1.4.1-1.1.1 3.3.1-1.6.1-1 .1-1.3.1 1.5.1-.2.1-1.4.1.8.1 1.7.1-1.3.1.7.1-2.6.1 1.5.1 1.9.1-2.4.1 1.1.1 1.5.1-2.6.1 1.8.1-2 .1 1.3.1 3.2.1-2.2.1-2 .1 1.2.1-1.1.1-.4.1.2.1.2.1 1.9.1 1.8.1-2 .1-1 .1-.8.1 1.5.1-.5.1.2.1-.9.1 2 .1-2.2.1 1.7.1-2.4.1-.5.1 2.5.1 1.4.1.7.1.1.1-2.1.1-2.5.1 5 .1-2.8.1.8.1 1.6.1-3.1.1 3 .1-3 .1.6.1.7.1-1.3.1-1 .1 1.5.1 2.3.1-2.3.1.4.1.6.1-2.5.1 5.6.1-6.4.1 1 .1 2.8.1-2.5.1 2.5.1-.5.1-.5.1 1.3.1.5.1-2.5.1.9.1.8.1-2.6.1-.8.1 1.6.1 2.8.1-1.2.1.8.1-1.9.1 2.1.1-2.5.1-2.4.1 4.2.1-1.5.1 1.4.1.4.1-.8.1-1.4.1 1.4.1-1 .1 1.8.1-2.6.1 2.6.1-.8.1-.4.1 0 .1 1.6.1-2.5.1 2 .1-.2.1-.8.1-.3.1.2.1-.3.1 2.2.1-.1.1-1.5.1 1.6.1-2.2.1-.3.1 2 .1-1.9.1 2.6.1-3.3.1 2.1.1-2.7.1.6.1 1.6.1 0 .1-1.6.1.7.1-.5.1.5.1-1.7.1 2.6.1 1 .1-2.7.1-1.7.1 4.1.1-.2.1-1.6.1.5.1 1.6.1-1.4.1.8.1-2.6.1.8.1-2.2.1 3.5.1-1.6.1 3.4.1-2 .1-.1.1-1.6.1.6.1-.7.1 1.5.1-1.1.1 1.6.1 2.6.1-2.6.1-1.5.1.6.1 1.8.1.2.1-1 .1 1.4.1.5.1-3.2.1 2.1.1-.8.1-.9.1-.9.1 2.6.1-.1.1-3.2.1 4.4.1-.7.1-3.3.1 3.8.1-2 .1-.1.1-.3.1 2.6.1-5.3.1 1.8.1 2.8.1-1.6.1-1.8.1 2.9.1 2.1.1-3.5.1.1.1 1.1.1-3 .1 4 .1.2.1-.7.1-2.3.1-.1.1-1.2.1 4 .1-.6.1-1.8.1 1.7.1 1.8.1-3.1.1 1 .1-4 .1 3.2.1-.3.1 0 .1 2.2.1-1.1.1-.7.1-1.9.1 1.6.1.6.1-1.6.1 2.6.1.5.1-.7.1-1.1.1.5.1 1.7.1.6.1-2.8.1 2.6.1-1.3.1-1.4.1 1.2.1.4.1 0 .1-2.6.1 1 .1 2.5.1-1.4.1-1 .1 1 .1-1.4.1 1.5.1-1.5.1-.6.1.4.1.9.1.8.1-2.6.1 2.8.1.7.1-2.4.1-.4.1 1 .1 0 .1.5.1-.8.1.4.1-.1.1 0 .1 1.5.1-2 .1-1.2.1 1.4.1 1.2.1-.8.1-1.1.1 1.9.1 0 .1 2.2.1-2.2.1-3.3.1 1.1.1.3.1 2.8.1-1.5.1.3.1-.5.1.5.1 1.2.1-1.2.1 2.1.1-1.8.1 0 .1-.9.1-.8.1-.4.1 2 .1-2 .1 2.7.1.5.1-3.3.1 1.1.1-1.3.1-.8.1 4.9.1-2 .1 1.2.1-2.6.1 1.7.1-1.4.1.8.1 0 .1 1.2.1-2 .1-1.2.1 4.3.1-3.5.1 1.4.1.4.1.9.1-1.2.1.3.1-1.8.1.6.1 1.6.1.2.1 1.1.1-3.9.1 2.8.1-1.4.1.8.1-1.4.1.5.1 2.2.1.4.1.3.1-.9.1-1.5.1 1.3.1-2.8.1 2.6.1-4.4.1 2.5.1-.3.1 2.1.1.9.1-1.1.1 1.3.1-2.3.1.5.1-2 .1 1 .1 3.1.1-4.1.1 4.8.1-4.2.1-.7.1 1.8.1.4.1-.8.1 1.7.1-1.5.1-1.6.1.3.1 1.8.1 3.6.1-5.3.1.6.1.4.1-1.6.1 3.1.1-1.9.1-1.7.1 4.9.1-2.8.1-2.2.1 1.6.1 2 .1-1 .1.4.1 2 .1-.9.1-3.9.1 3.4.1.7.1-4.1.1 1 .1.9.1-.8.1 1.4.1 1.8.1-.8.1-1.9.1 0 .1 2.1.1-1 .1-1 .1 2.6.1-2.1.1.5.1-1.3.1 1.3.1-1.4.1 0 .1 0 .1 1.2.1 0 .1-.1.1-1.5.1 3.4.1-3.2.1 3.4.1-4.1.1.5.1 1 .1.1.1-.7.1 1.2.1-1.4.1-.1.1.9.1 1.1.1-.5.1-.6.1-.3.1.4.1.2.1 0 .1.8.1.2.1 1.6.1-3.2.1 1.2.1 1.1.1-4.5.1 1 .1 1.2.1.3.1 2.2.1-3.2.1 4.8.1-5.5.1 3.5.1-1.8.1-1.2.1.4.1.9.1-3.1.1 2.4.1-.9.1 4.1.1-3.1.1-.8.1.3.1 3.2.1-4.2.1 4.2.1-2.4.1-.4.1 1.7.1-1.7.1.7.1.8.1-1.8.1 2.4.1-1.7.1-1.7.1 3.7.1-3.9.1-.3.1 1.9.1-1.9.1 1.4.1.4.1 1.1.1-2.1.1 3.1.1-.6.1.4.1-2.5.1 1.8.1-2.3.1.4.1 1.6.1.6.1-2.6.1-.4.1 3.4.1-.7.1-.5.1-2.6.1-.7.1.4.1 1.3.1 2.1.1-.5.1-.1.1-2.4.1.9.1 1.3.1 1.7.1.1.1-.1.1-2 .1-.1.1 0 .1-.3.1 0 .1-1.5.1 2.4.1-1.7.1.1.1.6.1.2.1.2.1-2.7.1 1.4.1.4.1 1 .1.6.1.5.1-1.4.1 1.1.1-.5.1 0 .1-2.9.1 1.5.1.1.1.6.1-.4.1 1.1.1-1.8.1 2.5.1 1.9.1-4.4.1.1.1 1.9.1-.9.1-.4.1.5.1-1.3.1.4.1.4.1-2.4.1 2 .1-.2.1-.4.1-.9.1 3 .1-2.1.1.2.1 1.6.1-.7.1-2.1.1 3.8.1-1.3.1.3.1-1.2.1.9.1.3.1-2.1.1 2.4.1-1.8.1-.5.1 2 .1-1.1.1.4.1-.8.1 2.6.1-3 .1 4.6.1-3.2.1.5.1.6.1-2.4.1 2.1.1-1 .1 1.3.1.8.1-2.6.1 1.2.1-.4.1-.1.1-.2.1-1.8.1 1.4.1 0 .1-.7.1-1.3.1 1.2.1 1.9.1-2.1.1 0 .1 2.4.1.7.1-1.8.1.3.1-.5.1-2.2.1 2.1.1-3.7.1 2.8.1 0 .1-1.2.1-.1.1 1 .1 0 .1.3.1.5.1.7.1-1.1.1.1.1.7.1-1.6.1.7.1 1.9.1-.6.1-2.6.1 1.3.1.5.1-.5.1-1.1.1 1.7.1-.9.1 1.6.1-1.3.1-1 .1 2.9.1-1 .1-2.5.1 2.5.1-1.2.1 1.3.1-1.7.1 1.3.1.3.1-1 .1.6.1-1.7.1-.2.1 3 .1.4.1-.5.1-2 .1-.6.1 2.6.1-2.3.1.1.1-1 .1 1.7.1-.3.1-1 .1 2.2.1-1.3.1 5.3.1-3.9.1-1 .1 1.3.1-.4.1-.1.1-1.4.1 2.2.1-3.1.1 2 .1-.5.1 1.6.1-2.2.1.7.1 1.4.1-.5.1 1 .1-3.4.1-1.2.1 3.4.1-3.2.1 1.2.1.6.1-.5.1 1.7.1-1.3.1.8.1 0 .1-1.6.1 2.5.1-.1.1-2.5.1 2.6.1-1.1.1-.3.1 2 .1-2.9.1 2.2.1-1.5.1.7.1-1.8.1-1.5.1 1.5.1 1.1.1-.1.1 2.3.1-3.3.1 1.6.1-.2.1-1.3.1 1.3.1-.2.1 2.2.1.3.1-.7.1-.7.1.3.1-1.4.1-1.5.1 4.8.1-.6.1-2.3.1-.6.1 1.7.1-3.9.1 1.6.1.5.1 1.7.1-1.3.1-.2.1-1.7.1 5.3.1-3.4.1.4.1-.6.1.5.1.1.1.9.1-2 .1 1 .1 2 .1-3 .1-.5.1.9.1.6.1-1.9.1 2.1.1 1.8.1 0 .1-2 .1.1.1 0 .1-1.3.1.6.1 1.6.1-1.3.1-1.3.1 3.7.1-3.2.1 2.8.1-.1.1-1.8.1 3.1.1-1.6.1-.3.1 1.1.1-1.2.1-1.4.1.7.1 2.1.1 1.2.1-2.6.1 1.1.1 1.5.1-4 .1 5.8.1-5.2.1 1.6.1-.7.1 2.4.1-1.6.1 2.3.1-.2.1-1.3.1-1.3.1 3.3.1-2.3.1 2.1.1-1.3.1.4.1 2.2.1-1.8.1-1.3.1-1 .1 1.8.1-.2.1 0 .1 2.3.1-2.4.1 1.7.1-3.1.1 1.7.1.3.1 2.2.1-2.2.1.2.1 0 .1 5.6.1-4.7.1 2.7.1 1.5.1-2.2.1-.4.1-1.1.1 2.4.1-1.5.1-.7.1 1.7.1-2.8.1 2.4.1 2.2.1.5.1-5.3.1 4.8.1.8.1-1.6.1-1 .1 2.9.1-4.4.1 1.5.1-2.2.1 2.7.1-2.4.1 3.7.1-1.1.1 1.3.1.3.1-2.7.1 1.4.1 1.6.1-4.3.1 2.9.1.3.1.5.1-1.3.1.3.1 2.8.1-.9.1.5.1-1.4.1-2.4.1 1.4.1 3.7.1-1.8.1-.9.1 1.4.1 1 .1-2.1.1 1.5.1-.7.1 1.3.1-3.9.1-1.1.1 1.6.1 4.4.1-1.3.1-.3.1-1.2.1.8.1 1.7.1-3.9.1 4.6.1.8.1-5.1.1-1.5.1 4.7.1-.9.1-2.8.1 1.6.1-1.1.1-1 .1 7.3.1-1.2.1-4 .1 4.4.1-3.9.1 4.3.1-5.1.1 3.5.1.8.1 2.1.1-2.9.1 6.2.1-6.9.1-.4.1 1.1.1 2.9.1-2.5.1-.8.1-1 .1.3.1 4.5.1-9.4.1 7.6.1-2 .1-2 .1 4 .1.4.1-.4.1 8.2.1-5.4.1-4.8.1.8.1.8.1-.4.1 0 .1 2.1.1-2.5.1-.4.1.8.1 1.2.1-1.2.1.8.1 1.3.1.5.1-.5.1-3.6.1 3.2.1 0 .1-1.3.1 1.7.1-.9.1 1.9.1-2.7.1 3.2.1-3.6.1-1.5.1 6.3.1-3.1.1 0 .1 2.5.1-1.6.1-1.8.1.9.1 2.5.1-1.1.1-.5.1-4.1.1 1.9.1-.4.1 4.8.1-1.2.1-1.9.1 0 .1.9.1 4.8.1 1.6.1-1.6.1.8.1-5.1.1 1.1.1 1.8.1-2.9.1 1.7.1 8.2.1-3.1.1-4.5.1 2 .1-3.8.1-.5.1 2.9.1-4.8.1 3 .1-1.6.1 4.1.1-5 .1 7.3.1-.8.1.8.1.9.1-3.9.1 3 .1-.8.1-5.6.1 6.4.1-4.8.1 1.8.1 4.8.1-.9.1-1.7.1 6 .1-6 .1.8.1-1.6.1 1.6.1-1.6.1 1.6.1-2.3.1 6.3.1-4 .1-2.3.1-1.9.1 5.1.1-1.7.1.8.1 8.2.1-1.6.1-10.8.1 1.2.1 0 .1 3 .1-.8.1.8.1 2.9.1-4.5.1 9.8.1-3 .1-5.2.1 2.9.1-2 .1.9.1 8.2.1-13.6.1 2.8.1 2.6.1-4.1.1-.7.1-.6.1 13.6.1-7.1.1-3.7.1 9 .1-9.8.1 1.6.1 1.8.1 10.4.1-11.3.1-4.5.1.6.1 2.2.1.8.1-4.8.1 7.7.1 0 .1-6.5.1 8.8.1-3.4.1 4.8.1 5.6.1-2.2.1-3.4.1 3.4.1-3.4.1 1.6.1-3 .1 4.8.1-11.6.1 3.4.1 2.2.1-2.2.1 2.2.1-3.1.1-1.7.1 4.8.1-4.8.1 1.7.1 4.3.1 3 .1-5.3.1-5.9.1 13 .1-3.4.1-1.4.1 1.4.1 1.6.1-9 .1 2.6.1 2.2.1 1.2.1 1.4.1-5.7.1 9.1.1 0 .1-8.2.1 4.8.1 11.7.1-14.3.1-4 .1 10 .1-8.2.1 0 .1 3.4.1-5.2.1 10 .1-9.1.1 7.3.1-5.3.1 5.3.1-5.3.1 1.1.1-2.2.1 6.4.1 0 .1-3 .1 0 .1 0 .1 9.6.1-13 .1-.9.1 0 .1 9.1.1-4.8.1 0 .1 4.8.1-8.2.1 0 .1 2.2.1 0 .1 2.6.1 0 .1-2.6.1 1.2.1 1.4.1-3.7.1-2 .1 2 .1 5.3.1-6.4.1-1.8.1-.8.1 7.4.1-3.7.1 1.1.1-4 .1 6.6.1-3.7.1-1.1.1 2.2.1 2.6.1-6.6.1 2.9.1 2.3.1 0 .1-7.5.1 3.2.1 5.7.1-3.7.1-2.9.1 5.2.1 1.4.1-8.2.1 5.6.1-1.1.1-2.9.1 2.9.1-5.9.1.7.1 6.3.1-5.6.1 1.6.1 2.9.1-4.5.1 8.2.1 3.4.1-7.1.1 1.1.1 1.2.1-1.2.1 6 .1-7.1.1 2.3.1-2.3.1-4.5.1 8.2.1-5.7.1 0 .1 0 .1 3.1.1-4.8.1 3.7.1 2.3.1-4.3.1 2 .1-2 .1 0 .1-5.7.1 4 .1 2.6.1-8.2.1 4.8.1 4.5.1-2 .1-5.7.1 2.5.1.7.1-2 .1 3.6.1 0 .1 5.2.1-1.2.1-7 .1.7.1 1.5.1 0 .1 7.4.1-5.7.1-2.5.1-.7.1-1.9.1 4.2.1 2.9.1 0 .1-7.7.1 4 .1-1.5.1-3.1.1 7.2.1-1.8.1-6.9.1 4.6.1 1.5.1-.8.1-2.6.1 4.2.1-1.6.1-2 .1-3.7.1 5 .1-3.1.1 1.2.1 3.4.1-4 .1.6.1 1.9.1 1.5.1.8.1-4.2.1-4.4.1 1.7.1 4.6.1-5 .1-.5.1-1.6.1 3 .1 1 .1 8.3.1-3.7.1-3.4.1 2.6.1-4.8.1 2.2.1 6 .1-7.2.1-1 .1-1.4.1 1.9.1-5 .1 8.6.1-6.7.1 6.7.1-10.2.1 3.9.1.4.1 1.8.1-2.2.1-.4.1 2.6.1-.9.1-.9.1-.8.1 8.2.1-5.1.1-1 .1-2.9.1-1.1.1 4 .1-1.3.1 2.8.1-3.6.1-1.2.1 2 .1.4.1-1.6.1.8.1-1.9.1 2.3.1-4.5.1 2.9.1-.4.1 0 .1-1.6.1 2.4.1.4.1 3.1.1-5.3.1.7.1-.7.1 0 .1-4.1.1 2.3.1.8.1-.8.1 4.8.1-1.2.1-2.4.1 1.6.1-2.5.1 0 .1-1.1.1-2 .1-1.5.1 5.8.1-4.3.1 2.8.1-4.5.1 4.8.1-2.9.1-1.3.1 1.3.1-1 .1.2.1-3.3.1 5.9.1-3.3.1-.4.1 1.7.1.9.1-1.7.1-1.8.1 1.8.1 0 .1-1.8.1 3.3.1-2.9.1-1.1.1.7.1 1.1.1-3.5.1 2.1.1-.9.1.7.1-.5.1-.5.1-.9.1.3.1-3.2.1 3.8.1-1.8.1-.5.1-.4.1-.6.1-1.2.1 2.7.1-3.2.1 2.2.1-2.1.1 1.1.1.7.1-1.1.1 1 .1-3.4.1.7.1 1.4.1-1 .1-.8.1.3.1-.6.1 0 .1-3.6.1 3.7.1-1.5.1-.5.1-.7.1-.4.1.2.1-.7.1-.1.1 1 .1-1.9.1-.5.1-.4.1-1.2.1.6.1-.5.1-.9.1 2.5.1-2.1.1-1.3.1.7.1-.9.1-.1.1-1 .1-.1.1-.5.1-.6.1-.7.1-.6.1 1.9.1-2.4.1.5.1-.8.1-.1.1.7.1-2.3.1.4.1.1.1-1.4.1-.8.1 0 .1-1.4.1-.5.1-.3.1.6.1-1.3.1-.3.1-.3.1-.9.1-.2.1-.8.1-1 .1-.8.1-.9.1-1 .1.7.1-1.4.1-1 .1-.8.1-1.5.1.1.1 0 .1-1.6.1-.7.1-.9.1-.7.1-.9.1-1.2.1-.6.1-1.1.2-2 .1-1 .1-1.1.1-1.1.1-1.2.1-1.2.1-1.2.1-1.4.1-1.3.1-1.4.1-1.5.1-1.5.1-1.6.1-1.7.1-1.8.1-1.9.1-2 .1-2 .1-2.2.1-2.4.1-2.5.1-2.6.1-2.8.1-3 .1-3.1.1-3.1.1-3.2.1-3 .1-2.6.1-1.7.1-.6 0 0 .1.6.1 1.7.1 2.6.1 3 .1 3.2.1 3.1.1 3.1.1 3 .1 2.8.1 2.6.1 2.5.1 2.4.1 2.2.1 2 .1 2 .1 1.9.1 1.8.1 1.7.1 1.6.1 1.5.1 1.5.1 1.4.1 1.3.1 1.4.1 1.2.1 1.2.1 1.2.1 1.1.1 1.1.1 1 .2 2.6.1.5.1.5.1 1.1.1.9.1.9.1.9.1.8.1.6.1.5.1.7.1 1.1.1 1.2.1 0 .1 1.3.1 1.1.1.4.1-.1.1 1.6.1.3.1.3.1.6.1 1.2.1-.2.1.2.1.7.1.1.1 1.6.1.6.1.2.1.2.1 1.3.1.3.1-.2.1.6.1 1.3.1.3.1.1.1.8.1-.1.1 1.1.1 1.3.1-1.5.1 1.5.1-.7.1 2.4.1 1 .1-1.8.1.8.1.9.1 1.5.1-.4.1 1.1.1.2.1-2.2.1 2.6.1-1.4.1.5.1-.1.1.1.1 1 .1 0 .1 1.2.1 1.4.1-.7.1-.2.1.1.1.9.1.7.1 0 .1-.9.1 1.6.1-2.1.1 3.5.1 0 .1-3.1.1 2.6.1 1.7.1-2.8.1 2.5.1-.7.1 4.4.1-3.5.1 1.7.1-3.7.1 3.6.1-.7.1 4.1.1-.7.1-2.9.1.1.1.8.1-.4.1.6.1.6.1 3.5.1-3.1.1 0 .1 1.5.1 2.9.1-4.1.1 2.4.1-2.1.1-.8.1 1.9.1 5.2.1-3.7.1-1 .1 2.8.1-2.8.1-.8.1.6.1 1.8.1 1.2.1-1.2.1 2.8.1.5.1-3.1.1.2.1 2.9.1 0 .1-1.9.1-1.7.1 3.3.1-.3.1-.3.1-4 .1 3.2.1 4.3.1-3 .1 4.5.1-3 .1-4.3.1 5 .1.7.1 2.5.1-5.4.1 2.5.1-.3.1.3.1-1.7.1-.9.1-1.6.1 4.5.1-2.9.1 2.2.1 3.2.1 1.4.1-2.3.1 3.4.1-2.6.1 4.4.1-3.9.1-1.8.1 7 .1-6.2.1 3.6.1 0 .1-2.7.1 1.5.1-1 .1-1.4.1.4.1 1 .1-1 .1 2.5.1-1.6.1-2.2.1 7 .1 2.5.1-3.2.1-1.3.1.6.1-2.9.1 4.3.1-5.3.1.4.1 2.2.1.6.1 1.3.1-4.6.1 1 .1 6.8.1-.9.1-3 .1 0 .1 3.8.1-8.2.1-.5.1 5.5.1 3.2.1-3.2.1 0 .1 0 .1-3.6.1 3.6.1-2.6.1 4 .1-.8.1-1.4.1 11.2.1-12.4.1 4.2.1-4.8.1 3.2.1.7.1-3.4.1 7.1.1-2.9.1-2.9.1 1.3.1 1.6.1-1.6.1-3.2.1 4 .1-1.5.1 12.3.1-6.1.1-2.1.1-4.2.1 3.2.1-1.7.1 3.7.1-5.2.1 4.1.1-6.6.1 5.7.1 1.9.1-2.8.1-4.3.1 1.9.1 6.3.1-5.6.1 2.5.1 0 .1 4.3.1-3.4.1-1.8.1-1.6.1 2.4.1 3.1.1 0 .1 2.7.1-1.4.1 2.9.1-8.2.1-.8.1 4.8.1 0 .1-2.2.1 1 .1-6.5.1 10.3.1-2.7.1 8.2.1-10.4.1-6 .1 7.1.1-1.1.1 8.2.1-7.2.1 3.8.1-3.8.1 0 .1 0 .1-1.1.1 2.2.1 6 .1-8.2.1-3.4.1 11.6.1-3.4.1-6.6.1 3.9.1 1.3.1-2.4.1 3.8.1 1.5.1-7.3.1 5.7.1-1.4.1 0 .1-3.4.1 6.4.1-1.6.1 0 .1-7.5.1 6.1.1-4.4.1 14 .1-4.9.1-4.8.1 3 .1-6.4.1 1 .1 5.4.1-4.2.1 4.2.1-6.4.1 4.8.1-1.4.1-2.4.1 0 .1-1 .1 2.2.1 0 .1 8.2.1 0 .1-2.2.1-1.8.1 4 .1-5.6.1-1.4.1 4.8.1-4.8.1-1.2.1 4.2.1 4 .1-7 .1 3 .1-3 .1 1.4.1-3.8.1 2.4.1 7 .1-2.2.1-3.4.1 1.6.1 6.6.1-4.8.1-1.8.1 1.8.1-6 .1 8.2.1-10.4.1 6.4.1-3 .1-5.2.1 8.2.1-3 .1 3 .1-1.6.1 1.6.1 4 .1-10.4.1 13 .1-2.6.1-4 .1-3 .1 1.4.1 5.6.1-12.2.1 5.2.1 3 .1 6.6.1-8.2.1 3.4.1-6 .1 6 .1-3.4.1 5.6.1 0 .1-2.2.1-1.8.1 0 .1 10 .1-10 .1 14.8.1 0 .1-17.8.1 17.8.1-10.8.1 10.8.1-4.8.1-11.6.1 1.6.1 4 .1 0 .1-2.2.1 0 .1-1.8.1 0 .1 4 .1 0 .1 0 .1 0 .1-7 .1 9.6.1-8.2.1 3.4.1 4.8.1-2.6.1-4 .1 0 .1 1.8.1 2.2.1-2.2.1 13 .1-17.8.1 13 .1-3.4.1-6.6.1 6.6.1-6.6.1 4 .1-4 .1 1.8.1 0 .1-1.8.1-7.4.1 9.2.1-3.4.1 0 .1 0 .1 1.6.1-3 .1 4.8.1 4.8.1 0 .1-6.6.1 1.8.1 2.2.1 10.8.1-10.8.1 2.6.1-2.6.1 10.8.1-8.2.1-2.6.1 6 .1-6 .1 2.6.1 0 .1 8.2.1-13 .1-4.8.1 0 .1 4.8.1 0 .1 8.2.1-10 .1 0 .1 23.1.1-16.5.1 3.4.1-8.2.1 2.2.1 6 .1-8.2.1 4.8.1-4.8.1 13 .1-4.8.1 0 .1-6 .1-4 .1 10 .1-6 .1-2.2.1 8.2.1-11.6.1 5.6.1 10.8.1-10.8.1-2.2.1 2.2.1 6 .1-8.2.1 13 .1-8.2.1-6.6.1 6.6.1-4.8.1 8.2.1 13.1.1-26.1.1 3 .1 10 .1-8.2.1 4.8.1 8.2.1 0 .1-8.2.1 16.5.1-21.3.1 2.2.1 0 .1-2.2.1 2.2.1 0 .1 0 .1 19.1.1-13.1.1-3.4.1 3.4.1 0 .1-6 .1 6 .1-3.4.1-4.8.1 4.8.1 3.4.1 0 .1-6 .1 10.8.1-4.8.1 4.8.1-10.8.1 2.6.1 3.4.1-6 .1 2.6.1 3.4.1-6 .1 6 .1 4.8.1 0 .1-8.2.1-10.8.1 4.2.1 10 .1 13.1.1-19.1.1 2.6.1 3.4.1-8.2.1 8.2.1-6 .1 19.1.1-21.3.1 2.2.1 0 .1 10.8.1-10.8.1 0 .1 2.6.1 3.4.1 13.1.1-19.1.1 2.6.1 8.2.1-13 .1 8.2.1-8.2.1 8.2.1 4.8.1-8.2.1 16.5.1-8.3.1 0 .1 8.3.1-16.5.1-6.6.1 10 .1-6 .1-7 .1 13 .1 4.8.1-4.8.1 0M521.8 337.1l.1-1.8.1 6.6.1 0 .1-4.8.1 21.3.1 0 .1-16.5.1 3.4.1-3.4.1-8.2.1 11.6.1 13.1.1-16.5.1 3.4.1-3.4.1 0 .1 0M523.8 339.3l.1 19.1.1-16.5.1 8.2.1-13 .1 4.8.1-6.6.1 6.6.1 0 .1 8.2.1-8.2.1 0 .1 3.4.1 13.1.1-16.5.1-4.8.1 8.2.1 4.8.1-10.8.1 2.6.1 8.2.1 0 .1 8.3.1-19.1.1 2.6.1 0 .1 3.4.1 0 .1 4.8.1 0 .1 8.3.1-13.1.1 13.1" />
</g>
<path d="M75.5,30.2V366.0H527.0" fill="none" stroke="#000" stroke-width="1.6"/>
<path d="M75.5,366h-6.5M75.5,357.8h-3.5M75.5,353h-3.5M75.5,349.6h-3.5M75.5,346.9h-3.5M75.5,344.8h-3.5M75.5,342.9h-3.5M75.5,341.3h-3.5M75.5,339.9h-3.5M75.5,338.7h-6.5M75.5,330.5h-3.5M75.5,325.7h-3.5M75.5,322.3h-3.5M75.5,319.6h-3.5M75.5,317.5h-3.5M75.5,315.6h-3.5M75.5,314h-3.5M75.5,312.6h-3.5M75.5,311.4h-6.5M75.5,303.2h-3.5M75.5,298.4h-3.5M75.5,295h-3.5M75.5,292.3h-3.5M75.5,290.2h-3.5M75.5,288.3h-3.5M75.5,286.7h-3.5M75.5,285.3h-3.5M75.5,284.1h-6.5M75.5,275.9h-3.5M75.5,271.1h-3.5M75.5,267.7h-3.5M75.5,265h-3.5M75.5,262.9h-3.5M75.5,261h-3.5M75.5,259.4h-3.5M75.5,258h-3.5M75.5,256.8h-6.5M75.5,248.6h-3.5M75.5,243.8h-3.5M75.5,240.4h-3.5M75.5,237.7h-3.5M75.5,235.6h-3.5M75.5,233.7h-3.5M75.5,232.1h-3.5M75.5,230.7h-3.5M75.5,229.5h-6.5M75.5,221.3h-3.5M75.5,216.5h-3.5M75.5,213.1h-3.5M75.5,210.4h-3.5M75.5,208.3h-3.5M75.5,206.4h-3.5M75.5,204.8h-3.5M75.5,203.4h-3.5M75.5,202.2h-6.5M75.5,194h-3.5M75.5,189.2h-3.5M75.5,185.8h-3.5M75.5,183.1h-3.5M75.5,181h-3.5M75.5,179.1h-3.5M75.5,177.5h-3.5M75.5,176.1h-3.5M75.5,174.9h-6.5M75.5,166.7h-3.5M75.5,161.9h-3.5M75.5,158.5h-3.5M75.5,155.8h-3.5M75.5,153.7h-3.5M75.5,151.8h-3.5M75.5,150.2h-3.5M75.5,148.8h-3.5M75.5,147.6h-6.5M75.5,139.4h-3.5M75.5,134.6h-3.5M75.5,131.2h-3.5M75.5,128.5h-3.5M75.5,126.4h-3.5M75.5,124.5h-3.5M75.5,122.9h-3.5M75.5,121.5h-3.5M75.5,120.3h-6.5M75.5,112.1h-3.5M75.5,107.3h-3.5M75.5,103.9h-3.5M75.5,101.2h-3.5M75.5,99.1h-3.5M75.5,97.2h-3.5M75.5,95.6h-3.5M75.5,94.2h-3.5M75.5,93h-6.5M75.5,84.8h-3.5M75.5,80h-3.5M75.5,76.6h-3.5M75.5,73.9h-3.5M75.5,71.8h-3.5M75.5,69.9h-3.5M75.5,68.3h-3.5M75.5,66.9h-3.5M75.5,65.7h-6.5M75.5,57.5h-3.5M75.5,52.7h-3.5M75.5,49.3h-3.5M75.5,46.6h-3.5M75.5,44.5h-3.5M75.5,42.6h-3.5M75.5,41h-3.5M75.5,39.6h-3.5M75.5,38.4h-6.5M75.5,30.2h-3.5M75.5,366.0v6.5M107.8,366.0v3.5M140,366.0v6.5M172.2,366.0v3.5M204.5,366.0v6.5M236.8,366.0v3.5M269,366.0v6.5M301.2,366.0v3.5M333.5,366.0v6.5M365.8,366.0v3.5M398,366.0v6.5M430.2,366.0v3.5M462.5,366.0v6.5M494.8,366.0v3.5M527,366.0v6.5" fill="none" stroke="#000" stroke-width="1.3"/>
<text x="59.9" y="370.2" font-family="'Liberation Sans', Arial, sans-serif" font-size="11.3" text-anchor="end" fill="#1a1a1a">10</text>
<text x="60.7" y="363.6" font-family="'Liberation Sans', Arial, sans-serif" font-size="6.8" fill="#1a1a1a">0</text>
<text x="59.9" y="342.9" font-family="'Liberation Sans', Arial, sans-serif" font-size="11.3" text-anchor="end" fill="#1a1a1a">10</text>
<text x="60.7" y="336.3" font-family="'Liberation Sans', Arial, sans-serif" font-size="6.8" fill="#1a1a1a">1</text>
<text x="59.9" y="315.6" font-family="'Liberation Sans', Arial, sans-serif" font-size="11.3" text-anchor="end" fill="#1a1a1a">10</text>
<text x="60.7" y="309" font-family="'Liberation Sans', Arial, sans-serif" font-size="6.8" fill="#1a1a1a">2</text>
<text x="59.9" y="288.3" font-family="'Liberation Sans', Arial, sans-serif" font-size="11.3" text-anchor="end" fill="#1a1a1a">10</text>
<text x="60.7" y="281.7" font-family="'Liberation Sans', Arial, sans-serif" font-size="6.8" fill="#1a1a1a">3</text>
<text x="59.9" y="261" font-family="'Liberation Sans', Arial, sans-serif" font-size="11.3" text-anchor="end" fill="#1a1a1a">10</text>
<text x="60.7" y="254.4" font-family="'Liberation Sans', Arial, sans-serif" font-size="6.8" fill="#1a1a1a">4</text>
<text x="59.9" y="233.7" font-family="'Liberation Sans', Arial, sans-serif" font-size="11.3" text-anchor="end" fill="#1a1a1a">10</text>
<text x="60.7" y="227.1" font-family="'Liberation Sans', Arial, sans-serif" font-size="6.8" fill="#1a1a1a">5</text>
<text x="59.9" y="206.4" font-family="'Liberation Sans', Arial, sans-serif" font-size="11.3" text-anchor="end" fill="#1a1a1a">10</text>
<text x="60.7" y="199.8" font-family="'Liberation Sans', Arial, sans-serif" font-size="6.8" fill="#1a1a1a">6</text>
<text x="59.9" y="179.1" font-family="'Liberation Sans', Arial, sans-serif" font-size="11.3" text-anchor="end" fill="#1a1a1a">10</text>
<text x="60.7" y="172.5" font-family="'Liberation Sans', Arial, sans-serif" font-size="6.8" fill="#1a1a1a">7</text>
<text x="59.9" y="151.8" font-family="'Liberation Sans', Arial, sans-serif" font-size="11.3" text-anchor="end" fill="#1a1a1a">10</text>
<text x="60.7" y="145.2" font-family="'Liberation Sans', Arial, sans-serif" font-size="6.8" fill="#1a1a1a">8</text>
<text x="59.9" y="124.5" font-family="'Liberation Sans', Arial, sans-serif" font-size="11.3" text-anchor="end" fill="#1a1a1a">10</text>
<text x="60.7" y="117.9" font-family="'Liberation Sans', Arial, sans-serif" font-size="6.8" fill="#1a1a1a">9</text>
<text x="56.1" y="97.2" font-family="'Liberation Sans', Arial, sans-serif" font-size="11.3" text-anchor="end" fill="#1a1a1a">10</text>
<text x="56.9" y="90.6" font-family="'Liberation Sans', Arial, sans-serif" font-size="6.8" fill="#1a1a1a">10</text>
<text x="56.1" y="69.9" font-family="'Liberation Sans', Arial, sans-serif" font-size="11.3" text-anchor="end" fill="#1a1a1a">10</text>
<text x="56.9" y="63.3" font-family="'Liberation Sans', Arial, sans-serif" font-size="6.8" fill="#1a1a1a">11</text>
<text x="56.1" y="42.6" font-family="'Liberation Sans', Arial, sans-serif" font-size="11.3" text-anchor="end" fill="#1a1a1a">10</text>
<text x="56.9" y="36" font-family="'Liberation Sans', Arial, sans-serif" font-size="6.8" fill="#1a1a1a">12</text>
<text x="75.5" y="386.6" font-family="'Liberation Sans', Arial, sans-serif" font-size="12.6" text-anchor="middle" fill="#1a1a1a">-12000</text>
<text x="140" y="386.6" font-family="'Liberation Sans', Arial, sans-serif" font-size="12.6" text-anchor="middle" fill="#1a1a1a">-10000</text>
<text x="204.5" y="386.6" font-family="'Liberation Sans', Arial, sans-serif" font-size="12.6" text-anchor="middle" fill="#1a1a1a">-8000</text>
<text x="269" y="386.6" font-family="'Liberation Sans', Arial, sans-serif" font-size="12.6" text-anchor="middle" fill="#1a1a1a">-6000</text>
<text x="333.5" y="386.6" font-family="'Liberation Sans', Arial, sans-serif" font-size="12.6" text-anchor="middle" fill="#1a1a1a">-4000</text>
<text x="398" y="386.6" font-family="'Liberation Sans', Arial, sans-serif" font-size="12.6" text-anchor="middle" fill="#1a1a1a">-2000</text>
<text x="462.5" y="386.6" font-family="'Liberation Sans', Arial, sans-serif" font-size="12.6" text-anchor="middle" fill="#1a1a1a">0</text>
<text x="527" y="386.6" font-family="'Liberation Sans', Arial, sans-serif" font-size="12.6" text-anchor="middle" fill="#1a1a1a">2000</text>
<text transform="translate(17.2,202) rotate(-90)" font-family="'Liberation Sans', Arial, sans-serif" font-size="16" text-anchor="middle" textLength="122.5" lengthAdjust="spacingAndGlyphs" fill="#1a1a1a">Intensity (counts)</text>
<text x="255.2" y="413.2" font-family="'Liberation Serif', 'Times New Roman', serif" font-size="15.3" fill="#1a1a1a">ω–2θ<tspan font-family="'Liberation Sans', Arial, sans-serif" font-size="15.8"> (arcsec)</tspan></text>
<text x="275.6" y="435.6" font-family="'Liberation Serif', 'Times New Roman', serif" font-size="18.4" font-weight="bold" fill="#1a1a1a">(a)</text>
<text x="155.3" y="103.6" font-family="'Liberation Sans', Arial, sans-serif" font-size="15.3" textLength="31.7" lengthAdjust="spacingAndGlyphs" fill="#1a1a1a">InAs</text>
<text x="205.0" y="111.7" font-family="'Liberation Sans', Arial, sans-serif" font-size="15.3" textLength="23.1" lengthAdjust="spacingAndGlyphs" fill="#1a1a1a">OS</text>
<text x="276.9" y="129.1" font-family="'Liberation Sans', Arial, sans-serif" font-size="15.3" textLength="47.4" lengthAdjust="spacingAndGlyphs" fill="#1a1a1a">x=0.58</text>
<text x="467.5" y="18.6" font-family="'Liberation Sans', Arial, sans-serif" font-size="15.6" textLength="77.6" lengthAdjust="spacingAndGlyphs" fill="#1a1a1a">GaAs(100)</text>
<text x="467.8" y="37.4" font-family="'Liberation Sans', Arial, sans-serif" font-size="15.6" textLength="64.4" lengthAdjust="spacingAndGlyphs" fill="#1a1a1a">substrate</text>
<rect x="331.5" y="20.5" width="89" height="114" fill="#fff" stroke="#888" stroke-width="1.2"/>
<line x1="337.4" x2="367.2" y1="31" y2="31" stroke="#000000" stroke-width="1.5"/>
<text x="370.5" y="35.5" font-family="'Liberation Sans', Arial, sans-serif" font-size="12.8" fill="#1a1a1a">500 nm</text>
<line x1="337.4" x2="367.2" y1="47.2" y2="47.2" stroke="#a00000" stroke-width="1.5"/>
<text x="370.5" y="51.7" font-family="'Liberation Sans', Arial, sans-serif" font-size="12.8" fill="#1a1a1a">300 nm</text>
<line x1="337.4" x2="367.2" y1="62.8" y2="62.8" stroke="#009999" stroke-width="1.5"/>
<text x="370.5" y="67.3" font-family="'Liberation Sans', Arial, sans-serif" font-size="12.8" fill="#1a1a1a">100 nm</text>
<line x1="337.4" x2="367.2" y1="78.6" y2="78.6" stroke="#a020a0" stroke-width="1.5"/>
<text x="370.5" y="83.1" font-family="'Liberation Sans', Arial, sans-serif" font-size="12.8" fill="#1a1a1a">75 nm</text>
<line x1="337.4" x2="367.2" y1="94.5" y2="94.5" stroke="#008800" stroke-width="1.5"/>
<text x="370.5" y="99" font-family="'Liberation Sans', Arial, sans-serif" font-size="12.8" fill="#1a1a1a">50 nm</text>
<line x1="337.4" x2="367.2" y1="110.1" y2="110.1" stroke="#0000ff" stroke-width="1.5"/>
<text x="370.5" y="114.6" font-family="'Liberation Sans', Arial, sans-serif" font-size="12.8" fill="#1a1a1a">25 nm</text>
<line x1="337.4" x2="367.2" y1="125.9" y2="125.9" stroke="#ff0000" stroke-width="1.5"/>
<text x="370.5" y="130.4" font-family="'Liberation Sans', Arial, sans-serif" font-size="12.8" fill="#1a1a1a">12.5 nm</text>
<g clip-path="url(#cbl)">
<path fill="none" stroke="#b01828" stroke-width="0.9" stroke-linejoin="round" d="M76 710.6l.2 0 .1 5.4.2-5.4.1 0 .2-12.9.1-2.2.2 20.5.1-22.5.2 2 .1 7.6.2 7.5.1-7.5.2 7.5.1 5.4.2-15.8.1 6.3.2 4.1.1 5.4.2-18.3.1 25.8.2-23.3.1-4.7.2 7.6.1-5.4.2 18.3.1-5.4.2-7.5.1 12.9.2 0 .1 0 .2-15.8.1 10.4.2-4.1.1 0 .2-8.8.1 5.4.2 3.4.1-3.4.2 12.9.1-9.5.2 9.5.1-9.5.2 17 .1-12.9.2-7.5M83.1 723.5l.1-17 .2-3.4.1 0 .2 0 .1 20.4.2-17 .1-11 .2 11 .1-3.4.2 0 .1 3.4.2-6.3.1 15.8.2-9.5.1 9.5.2-12.9.1 20.4.2-12.9.1 5.4.2-9.5.1 9.5.2-9.5.1-8.8.2-4.2.1 17.1.2 0 .1-10.4.2 6.3.1 4.1.2-7.5.1 0 .2-2.9.1-4.7.2 20.5.1-20.5.2 15.1.1-4.1.2-6.3.1-4.7.2 11 .1-11 .2 15.1.1-15.1.2 7.6.1 0 .2-5.4.1 2.5.2-2.5.1 12.9.2 0 .1 12.9.2-12.9.1 0 .2-15.1.1 7.6.2 3.4.1-8.8.2-2.2.1 7.6.2-5.4.1-2.2.2 15.1.1-12.9.2 0 .1-5.9.2 8.4.1 0 .2-4.7.1 15.1.2-10.4.1 15.8.2-15.8.1 0 .2 0 .1 2.9.2 7.5.1-7.5.2 7.5.1-7.5.2-13 .1-2.8.2 6.2.1 4.2.2 8.8.1-17.9.2 14.5.1 0 .2-13 .1 5.4.2 7.6.1-5.4.2-16.1.1 16.1.2 0 .1 2.5.2-2.5.1-4.2.2-3.4.1 16.4.2-6.3.1 0 .2-2.5.1 12.9.2-20.5.1 3.4.2 4.2.1 0 .2-5.9.1 3.7.2-8.2.1 4.5.2 18.8.1-17.1.2-4.9.1 0 .2 3.2.1 11.3.2-14.5.1 0 .2 9.1.1-7.6.2 7.6.1 18.3.2-18.3.1-2.2.2-10.7.1 8.7.2 0 .1-6.2.2 10.4.1-10.4.2 4.5.1-8.2.2 6.5.1 10.1.2 2.9.1-23.4.2 12.1.1 1.7.2-9.9.1 8.2.2-4.5.1 1.3.2 3.2.1 3.7.2-9.5.1 11.7.2-15.1.1 10.9.2-12.9.1 6.7.2-1.3.1-1.2.2 8.7.1-13.8.2 2.9.1 3.4.2 7.5.1-10.9.2 1 .1 0 .2 1.2.1 7 .2-4.5.1-6.7.2 1 .1-5.1.2 5.1.1 3.2.2-3.2.1 5.7.2-3.7.1-7.9.2 7.9.1-7.1.2.7.1 12.9.2-14.4.1 1.5.2.8.1 10.6.2-12.1.1-1.5.2-2.5.1 6.3.2-6.3.1-4.8.2 9.5.1-1.5.2 1.5.1-3.5.2 2.8.1-6.3.2 4.1.1-3 .2 2.4.1-7.8.2 2.8.1 4.4.2-.6.1-3.8.2-5.9.1 1.9.2 7.2.1-.6.2-5.4.1 6.6.2-5.3.1.5.2-1.3.1-.9.2-5.7.1 8.9.2-3.6.1-5.3.2 2.7.1-.4.2 3 .1-11.2.2 5 .1 3.2.2-5.1.1-.5.2 6.3.1-2.7.2.7.1 3.1.2-4.1.1.7.2-1.8.1-1.4.2-.3.1 1.9.2-2.7.1-3 .2 2.5.1-4.7.2 3.6.1-1.4.2.7.1-.7.2.2.1-.6.2-1.8.1-1.5.2.9.1 2.2.2-2.2.1-.7.2-1.5.1-1.7.2 1.5.1-1.8.2 3.3.1-4.7.2 2.3.1 2.3.2-5 .1.6.2.6.1-1 .2-1.2.1-.7.2-.5.1 1.8.2-1.1.1-1.2.2-.1.1.7.2-.2.1 1 .2-3 .1.1.2-.6.1.1.2-.1.1.6.2-3.5.1 0 .2.1.1-1.2.2 1.6.1-1.5.2 1.5.1-1.6.2 1.4.1-.2.2-1.9.1-1.3.2 0 .1 1.5.2-2.5.1 1.4.2-.8.1.1.2-.4.1.6.2-1.6.1-1.4.2 3.3.1-.3.2-2.8.1.9.2.2.1.7.2-1.6.1-2.6.2 2.6.1.4.2-2.1.1-1.3.2.3.1-1.7.2.9.1 2.8.2-1.2.1.3.2-1.2.1.3.2-2.8.1.8.2 2.1.1-2 .2-.8.1.8.2-1.4.1 1.4.2-1.3.1-.2.2 1.4.1-2.3.2 1.3.1-1 .2.7.1-.9.2 1.2.1-1.7.2 1.7.1-2.1.2 1.4.1.2.2-2.6.1 1.9.2-1.4.1 3.4.2-.5.1-2 .2 1.1.1 0 .2.6.1-.4.2-1.6.1-.3.2.3.1-1.1.2 3 .1-.1.2 1.4.1-2.5.2 1.4.1.1.2-.7.1.9.2-1.1.1 1.4.2-.6.1 1.2.2-1.5.1 1.2.2 0 .1.4.2-.3.1-.3.2 2.8.1-2.1.2 2.9.1-2.1.2 1.6.1-.2.2.3.1-1 .2-1.6.1 4.8.2-2.2.1-1.2.2 1.6.1 1.5.2-1.1.1-.6.2.9.1 1.4.2-.8.1 3.3.2-1.1.1-1.3.2 1.3.1-1.1.2 2.6.1.2.2-.5.1 1.9.2-2.1.1 2.9.2.9.1 0 .2-2.3.1 2.2.2-.8.1 2.2.2.4.1.4.2.2.1.1.2.6.1-1.2.2 2.8.1-3.4.2.2.1.8.2-.6.1 3 .2 1.3.1.4.2-.3.1-.9.2 2.5.1-1.3.2.2.1 2.9.2-3.1.1 3.3.2-2.5.1.3.2-.5.1 4.5.2-1.6.1.3.2 1.9.1.2.2.1.1.2.2 1.2.1-1.5.2 1.7.1.6.2-2.7.1 2.7.2-.8.1-.8.2 2.9.1 2.6.2-3.7.1 4.2.2-2.9.1-.9.2 5.5.1-1.2.2 0 .1 3.6.2-2.4.1-2.5.2 1.3.1-.8.2 2.2.1 3.2.2-4 .1.3.2 4.8.1-3.7.2 0 .1 2.3.2 3.3.1-1.9.2-2.1.1.7.2 3.3.1 1.3.2 3.8.1-2.5.2-3.8.1 1.2.2-1.6.1 4.7.2-1.8.1 0 .2 4.9.1-7 .2 10.7.1-4.3.2 1.8.1-3.3.2.5.1-3.3.2 2.3.1-5.9.2 6.4.1-2 .2 3 .1 1.7.2.6.1-1.8.2-3 .1 4.8.2-2.3.1-3.8.2 6.1.1-6.1.2 6.1.1 7.2.2-7.8.1 3.1.2 4.7.1-9 .2 3.6.1-1.8.2 0 .1 6.3.2 3.8.1-6.9.2 0 .1-.7.2 1.5.1 4.1.2-10.4.1 1.7.2.6.1 12.3.2 0 .1-11.1.2 9.9.1-5.6.2-3 .1 4.7.2 2.9.1-2 .2-2.6.1.8.2 6 .1-3.2.2-5.1.1-2.2.2 2.2.1 5.1.2 2 .1-9.9.2 14.9.1-12.9.2 6.9.1-2 .2-1.8.1-6.9.2 3.8.1 12.9.2-14.9.1 5.1.2-1.6.1 10.1.2-7.6.1 7.6.2-1.3.1-8 .2-3 .1 15.1.2 1.7.1-7 .2 5.3.1-1.5.2-1.3.1-11.6.2 5.9.1 8.5.2-4.1.1 1.3.2-9.3.1 6.8.2 8.7.1 4.2.2-10.4.1-4.7.2 3.4.1 1.3.2-5.7.1 5.7.2 0 .1-3.7.2 11.9.1-12.9.2 9.2.1 1.7.2-6.2.1 0 .2 4.5.1 3.7.2-9.5.1 11.7.2-18 .1 6.3.2 5.8.1-3.2.2-2.6.1 4.1.2 0 .1-1.5.2 4.9.1-7.5.2 5.8.1-4.5.2 1.3.1 6.9.2-8.2.1 4.5.2 5.9.1-4.2.2 0 .1-4.9.2 4.9.1 2 .2-3.7.1 1.7.2-3.4.1-4.1.2 11.7.1-7.6.2-1.5.1 9.1.2-4.2.1 0 .2-3.4.1 3.4.2 2 .1-3.7.2 8.4.1-16.6.2 22.9.1-3.4.2-9.6.1 9.6.2 0 .1-7.6.2-5.4.1 3.4.2-1.7.1 14.7.2-24.9.1 8.5.2 10.1.1-10.1.2 5.4.1 0 .2-2 .1 6.7.2 6.3.1-8.8.2-2.2.1 2.2.2 12.9.1-17.1.2 9.6.1-11.3.2 14.7.1 17 .2-30 .1 6.7.2 10.4.1-10.4.2-6.7.1 6.7.2-4.7.1 15.1.2-7.5.1-2.9.2 10.4.1-7.5.2 7.5.1-4.1.2-13 .1 13 .2-6.3.1-8.4.2 5.9.1-5.9.2 3.7.1 2.2.2 8.8.1-17.9.2 11.6.1 2.9.2-7.6.1 4.7.2 6.3.1-6.3.2 6.3.1-6.3.2-2.5.1-4.2.2 2 .1 4.7.2-2.5.1 5.4.2 0 .1 7.5.2-25.8.1 25.8.2-12.9.1-7.6.2 13 .1 3.4.2 9.5.1-5.4.2-12.9.1 0 .2 18.3.1-15.8.2 0 .1 6.3.2 4.1.1-4.1.2-3.4.1 0 .2-5.4.1 2.5.2 2.9.1-9.6.2 0 .1 9.6.2 0 .1 3.4.2-3.4.1-2.9.2 2.9.1-5.4.2 0 .1 5.4.2-2.9.1 6.3.2-14.7.1 11.3.2-7.6.1 2.2.2 2.5.1 2.9.2 0 .1-5.4.2 5.4.1-7.6.2 28 .1-28 .2 7.6" />
<path fill="none" stroke="#14148e" stroke-width="0.9" stroke-linejoin="round" d="M76 744.9l.2 12.9.1-7.5.2 7.5.1-7.5.2 0 .1 0 .2 12.9.1 7.5.2-28 .1 7.6.2 7.5.1-10.4.2 6.3.1-3.4.2 3.4.1-6.3.2 10.4.1 0 .2-4.1.1-6.3.2 2.9.1 12.9.2-27.4.1 9.1.2 2.5.1 0 .2 2.9.1 3.4.2-3.4.1 12.9.2-18.3.1 5.4.2 3.4.1-3.4.2 0 .1 0 .2-5.4.1-4.2.2 9.6.1 20.4.2-7.5.1-9.5.2-11 .1 11 .2 9.5.1 0 .2-15.8.1 6.3.2 4.1.1 12.9.2 0 .1-12.9.2-17.1.1 22.5.2 0 .1-9.5.2-6.3.1 2.9.2 3.4.1-6.3.2 2.9.1 3.4.2-3.4.1 7.5.2 0 .1-7.5.2 3.4.1 4.1.2-10.4.1 2.9.2 0 .1 0 .2-7.6.1 15.1.2-7.5.1 0 .2 0 .1-7.6.2 11 .1-6.3.2-6.7.1 6.7.2 15.8.1-18.3.2 12.9.1 5.4.2-22.5.1 6.7.2-4.7.1 11 .2-8.8.1-7.6.2 7.6.1 5.4.2-5.4.1 8.8.2-3.4.1 3.4.2-14.7.1 31.7.2-23.3.1-8.4.2 0 .1 3.7.2 7.6.1-15.8.2 4.5.1-8.2.2 27 .1-17.1.2-4.9.1 3.2.2 0 .1 8.4.2 0 .1-6.7.2 17.1.1-18.8.2 3.7.1 15.1.2-10.4.1-11.6.2 9.1.1-5.9.2-1.7.1-1.5.2 4.9.1-7.5.2 17.1.1-9.6.2-7.5.1 7.5.2-4.9.1 4.9.2 17.1.1-17.1.2-1.7.1 3.7.2-11.9.1 5 .2 0 .1 0 .2-1.3.1 1.3.2-2.6.1 5.8.2-8.2.1 6.5.2 5.4.1-3.7.2-4.5.1 1.3.2 9.1.1-18 .2 2.9.1 1 .2 3.7.1 6.2.2-9.9.1 6.5.2-9.5.1 2 .2 4.7.1 4.5.2-9.2.1-2 .2-.9.1 7.6.2 0 .1-6.7.2 5.4.1-5.4.2 5.4.1 1.3.2 0 .1-1.3.2-5.4.1 4.2.2-4.2.1 4.2.2-10.5.1 6.3.2-2.6.1-7.8.2 6.3.1 2.3.2-9.1.1 9.1.2 0 .1-1.6.2-5.3.1 7.8.2-2.5.1-5.3.2 8.7.1-1.8.2-2.3.1-5.8.2 2.4.1 1.2.2.7.1.7.2-2.6.1 2.6.2-.7.1-1.9.2-4.4.1 7.8.2-1.5.1-5.3.2-2.9.1 2.9.2 2.2.1-3.2.2-2.3.1-2.9.2 1.2.1 7.8.2-5.7.1.9.2-3.4.1-2.9.2 3.3.1-3.3.2 7.8.1-2 .2 3 .1-3.8.2-2.1.1.8.2-1.6.1-5.1.2 5.9.1 2.9.2-5.4.1-3.7.2 3 .1 1 .2 2.2.1 5.4.2-5.8.1-1.4.2.3.1 1.5.2-3.2.1 0 .2-3 .1 3.7.2.3.1-2.6.2-4.2.1 5.5.2-3.8.1 8.1.2-10.1.1 4.2.2-1.7.1-1 .2 2.7.1-3.2.2 6.8.1-5.5.2-1.1.1 0 .2-.2.1.7.2-1.9.1 1.4.2.3.1-4.7.2 3 .1-.5.2 1.2.1 1 .2-1.2.1 1.2.2-.5.1-4 .2 3.7.1-3.3.2-.6.1 4.9.2-2.4.1-1.7.2 4.4.1-6.6.2 2.6.1 2.7.2-3.9.1.4.2 1.7.1-1.3.2 1.1.1-2.5.2-.8.1 1.6.2-2.3.1 2.5.2-5 .1 1.8.2 3.2.1-.2.2.6.1-1.4.2 0 .1-.6.2-2.6.1 2.4.2 1.2.1-2.2.2 2.6.1-.8.2 1.2.1 4.6.2-4.6.1-4.1.2 4.1.1-2 .2-.7.1-1 .2 2.3.1-2.7.2-.1.1-.5.2 2.6.1.3.2-2.1.1 1.2.2-.7.1-.3.2-1 .1 3.9.2-.2.1 2 .2-4.7.1 0 .2 1.4.1.7.2-1.6.1-.5.2 2.1.1-2.6.2 3.2.1-.2.2-3.5.1 6.2.2-1.5.1-2.1.2 5.2.1-4.3.2 4.8.1-7.3.2 5 .1-3.8.2 3.5.1-4 .2.7.1 1.7.2.6.1.8.2 0 .1-.2.2-1.4.1-1.3.2 1.5.1 2.3.2-.9.1-2.9.2 1.9.1 1.9.2 2.9.1-5.8.2 2 .1-1.4.2 1 .1-.4.2-1.4.1 5.7.2-3.3.1-3.9.2 5.3.1 3.9.2-3.7.1.7.2-5.1.1 0 .2 4.7.1-.7.2-3 .1.2.2 2.5.1.7.2 3.9.1-.2.2-3.4.1 2.5.2-2.1.1 3.8.2 3.3.1-5.3.2-2 .1 1 .2.8.1 7.4.2-6.6.1.3.2.8.1-2.7.2 4 .1-.7.2 1 .1-5.3.2 5 .1-2.7.2.6.1 3 .2 1.8.1-3.1.2 4.2.1-1.5.2-1.4.1-1.3.2-5.3.1 9.9.2-3.3.1 1.1.2.7.1 0 .2 1.9.1-5.3.2 0 .1 6.1.2-2.4.1 2.9.2-1.7.1.4.2-2.3.1 4.4.2-5.1.1 4.3.2 6.7.1-6.3.2.4.1-1.7.2 2.7.1-1.8.2 2.3.1 0 .2-1.5.1-2.5.2 10.3.1-10.3.2 1.7.1 3.3.2-2.5.1 1.5.2-2.8.1 4.3.2-3.8.1 10.1.2-4 .1-3.8.2-1 .1 0 .2 0 .1 3 .2 6.5.1-6.5.2 0 .1-1 .2 2.8.1 4 .2-3.4.1-3.9.2 1.5.1 3 .2-3 .1 7.3.2-3.7.1.7.2-6.3.1 4.4.2 1.9.1 0 .2-3.7.1 3 .2-7.1.1 10 .2-4.1.1-2.9.2 3.5.1 2.8.2-3.4.1 7.5.2-6.9.1 5.1.2-3.8.1-6.8.2 7.5.1 1.5.2-2.9.1 0 .2.7.1 3 .2-8.8.1 2.7.2 2.4.1 1.4.2.8.1 4.1.2-4.1.1 1.5.2-2.3.1 6.9.2-8.3.1.7.2-4.8.1 4.8.2-2.5.1-.6.2 7.8.1 2.9.2-5.4.1 1.6.2-2.3.1 2.3.2 6 .1-2.2.2-2.9.1 0 .2 0 .1-7.2.2 9.1.1 8.5.2-10.4.1 6.3.2-5.4.1-7.5.2 10.5.1-9.3.2 6.3.1 3 .2-7.1.1-1.5.2 0 .1 2.2.2 2.5.1 2.9.2-2.9.1-6.6.2 1.9.1 4.7.2 3.9.1-6.4.2 8.8.1-6.3.2 1.9.1-5.9.2 7.9.1-3 .2 9.5.1-5.3.2-7.6.1 10.1.2-4.7.1 2.2.2-3.2.1 5.7.2-2.5.1-4.2.2 0 .1-.9.2.9.1 4.2.2-2.2.1-2.9.2 2.9.1-3.8.2 13 .1-8.2.2-7.9.1 1.5.2.8.1 4.6.2 6 .1-10.6.2-3.7.1 2.9.2 4.4.1 13.9.2-16.7.1 11.3.2-1.5.1-6 .2-2.9.1-1.7.2-.8.1.8.2-3.7.1 10.5.2-9.8.1 3 .2-1.5.1 9.5.2-2.4.1-2 .2 10.2.1-4.5.2 10.4.1-12.9.2-3.2.1 3.2.2-3.2.1 0 .2 2 .1 6.5.2-2.8.1-5.7.2 7 .1-3.8.2-2.2.1 1 .2-1 .1-10.7.2 7.8.1-5.4.2 10.5.1-2.2.2-8.3.1 2.2.2.7.1 7.6.2 3.8.1-14.9.2 6 .1-2.5.2.8.1 1.7.2 5.1.1 1.2.2 1.3.1-3.7.2 0 .1-1 .2-4.6.1 3.6.2-3.6.1 8 .2 0 .1-5.4.2-3.4.1 2.5.2-7.8.1 14.1.2-5.4.1-2.6.2 0 .1 4.6.2 0 .1-2.9.2-7.8.1 4.6.2-2.8.1 7.9.2-3.6.1-.8.2 1.6.1-3.1.2 10.3.1-10.3.2 0 .1-1.4.2 9.3.1-7.1.2 6.1.1-5.4.2 0 .1 8.8.2-2.4.1 1.2.2-7.6.1-2.9.2 10.5.1 2.5.2-7.6.1 3.9.2-3.9.1-3.2.2-2.2.1 1.4.2 4 .1 2.9.2-13.4.1 5.8.2 7.6.1-2 .2 0 .1 3 .2-5.6.1 0 .2 0 .1 3.6.2-2.8.1 4.8.2-6.4.1 3.4.2-6.3.1 3.7.2 0 .1-3 .2 2.2.1-3.5.2 2.8.1-9.7.2 18 .1-8.3.2-3.4.1.6.2 5.1.1 0 .2-3.1.1 4.9.2 0 .1 2 .2-6.1.1 5.1.2-9.1.1 1.8.2 0 .1 1.4.2-.7.1 4.7.2-7.2.1 8.1.2 1 .1-7.3.2-1.2.1 1.9.2 1.5.1 5.1.2-5.1.1.7.2-4.7.1 3.2.2 5.9.1 5.7.2-6.7.1 0 .2-8.7.1 9.7.2-5.9.1 1.5.2-2.9.1 3.7.2-.8.1-3.5.2-2.4.1 2.4.2 11.1.1-7.6.2-2.9.1 1.4.2 2.3.1-3.7.2 8.3.1-2.9.2-6.6.1 5.7.2-4.5.1-2.4.2 3.8.1.8.2 13.6.1-16.4.2.6.1 17.5.2-19.3.1 4 .2-2.8.1 0 .2 8.9.1-5.4.2-2.2.1-4.3.2 9 .1-6 .2 2 .1-2 .2-1.8.1 2.4.2 1.4.1 4.9.2-4.1.1 1.5.2-2.3.1 11.6.2-10.1.1-4.7.2 4 .1 6.1.2-5.4.1-4.1.2 3.4.1 4.1.2 0 .1 1 .2 4.4.1-1.2.2-7.6.1.8.2-4.3.1 3.5.2 0 .1 10.1.2-7.6.1-4.7.2 1.5.1.7.2 14.6.1-9.2.2-2.9.1-1.7.2 3.6.1-2.8.2 4.8.1-3 .2 0 .1-4.9.2 4.9.1 5.4.2-10.3.1 4.9.2 2 .1-1 .2-4.4.1 1.6.2 8.5.1-4.7.2-3.8.1 1.8.2-1.8.1 6 .2-9.1.1 5.9.2 2 .1-9.3.2 11.7.1-11 .2 13.6.1 3.2.2-11.2.1 1 .2 0 .1 0 .2 4.4.1 2.6.2-5 .1 6.5.2-7.5.1 2.2.2 3.8.1-5 .2-5.6.1 6.8.2 5.3.1 13 .2-18.3.1-3.2.2 7 .1-1.3.2-3.7.1 3.7.2-4.7.1 3.4.2 7.5.1 4.2.2-14.1.1 2.4.2 5.8.1 0 .2 0 .1-4.5.2-4.7.1-1 .2 7 .1-2.6.2 5.8.1-10.2.2 4.4.1 11.7.2-11.7.1-1.2.2 5.3.1 10.1.2-8.4.1 11.3.2-14.5.1-3.8.2 15.4.1-6.7.2 2 .1-9.5.2 14.2.1-8.4.2-4.5.1 1.3.2 3.2.1-10.2.2 16.1.1-5.9.2-4.5.1 4.5.2 5.9.1-14.1.2 14.1.1-4.2.2 0 .1 13 .2-13 .1-1.7.2 8.4.1-10.1.2-4.1.1 11.7.2-7.6.1-1.5.2 9.1.1-7.6.2 5.4.1-2 .2-4.9.1 6.9.2-5.4.1-1.5.2 3.2.1-4.5.2 4.5.1 3.7.2-8.2.1 2.8.2 20.5.1-15.1.2 4.7.1-8.4.2 1.7.1 6.7.2 2.9.1-9.6.2 2 .1-3.7.2 8.4.1-2.5.2-10.4.1-2.5.2 8.7.1 0 .2 13 .1-8.8.2 8.8.1-6.3.2 0 .1-6.7.2-1.7.1 5.9.2 8.8.1-13 .2 17.1.1 0 .2-25.8.1 18.3.2 3.4.1-8.8.2-2.2.1 2.2.2-4.2.1 9.6.2-13 .1 7.6.2 12.9.1-12.9.2 8.8.1-14.7.2 11.3.1-5.4.2 0 .1-5.9.2 8.4.1 6.3.2-3.4.1-5.4.2-4.2.1 2 .2-2 .1 4.2.2-5.9.1 11.3.2-11.3.1 8.4.2 15.8.1-18.3.2-2.2.1-2 .2 17.1.1-7.5.2-11.3.1 5.9.2 25.8.1-23.3.2 0 .1-6.7.2 4.2.1 18.3.2-12.9.1-2.9.2 10.4.1 0 .2 0 .1-17.1.2 2 .1 0 .2 0 .1-2 .2 2 .1-2 .2 13 .1-6.3.2 0 .1 10.4.2-10.4.1 15.8.2-15.8.1-8.4.2 31.7.1-30 .2-3.4.1 3.4.2 13 .1-6.3.2 2.9.1-9.6.2 22.5.1-12.9.2 3.4.1 0 .2 0 .1 4.1.2 0 .1-4.1.2-3.4.1 12.9.2-5.4M234 753.7l.1-3.4.2-2.9.1 15.8.2-20.5.1 0 .2 20.5.1-22.5.2 13 .1 29.9.2-36.2.1-2.5.2 5.4.1 7.5.2 12.9.1-12.9.2-4.1.1 0 .2-11 .1 4.7.2 15.8.1-9.5.2-6.3.1 2.9.2-2.9.1 10.4.2-12.9.1 8.8.2-3.4.1 7.5.2-4.1.1 0 .2-8.8.1 2.5.2 0 .1 0 .2 0 .1 10.4.2-17.1.1 22.5.2-5.4.1-7.5.2-5.4.1 0 .2 12.9.1 0 .2-4.1.1 0 .2 4.1.1 12.9.2-7.5.1-20.5.2-2 .1 30 .2 0 .1 12.9.2-25.8.1 5.4.2 0 .1-5.4.2-4.1.1-6.3.2 2.9.1 0 .2 7.5.1-7.5.2-9.6.1 17.1.2 0 .1 0M244.6 763.2l.2-5.4.1-7.5.2-5.4.1 12.9.2-7.5.1 20.4.2-17 .1 9.5.2 7.5.1-20.4.2-11.3.1 3.7.2 20.5.1-12.9.2 0 .1 12.9.2-5.4.1-12.9.2-2.2.1 7.6M247.9 747.4l.2 10.4.1-7.5.2-2.9.1 36.2.2-38.7.1 0 .2 2.5.1 6.3.2 9.5.1-5.4.2-23.3.1 6.2.2 4.2.1 5.4.2 20.4.1-17 .2 9.5.1-12.9.2 7.5.1-7.5.2 3.4.1-6.3.2 2.9.1 0 .2-5.4.1 8.8.2 9.5.1-18.3.2 5.4.1-9.6.2 22.5.1-5.4.2-10.4.1 23.3.2 0 .1-28 .2 4.7.1 2.9.2 20.4.1-20.4.2 3.4.1-14.7.2 5.9.1 8.8.2 4.1.1 12.9.2-17 .1 4.1.2 12.9.1-7.5.2-18.3.1 25.8.2-7.5.1-12.9.2-2.9.1 23.3.2-30 .1 6.7.2 6.3" />
</g>
<g clip-path="url(#cbr)">
<path fill="none" stroke="#b01828" stroke-width="0.7" stroke-linejoin="round" d="M350 719.5l.4-20.5M351.6 706.6l.4 12.9.4 0 .4 0M353.6 706.6l.4 12.9.4 0 .4-12.9.4 12.9.4 0M358 719.5l.4 0 .4 0M359.6 719.5l.4-12.9.4 0 .4 12.9.4 0 .4-12.9.4 0M362.8 719.5l.4-20.5.4 20.5.4-30M365.2 719.5l.4-20.5M366.8 706.6l.4 12.9M369.6 706.6l.4 0 .4 12.9M372.4 693.7l.4 12.9.4 12.9.4-12.9.4 0 .4 12.9.4 0 .4-25.8M376 706.6l.4 0 .4 12.9.4-12.9.4 12.9.4 0 .4 0 .4 0 .4 0 .4 0M380.8 699l.4 20.5M382.4 706.6l.4 12.9.4-12.9.4 12.9M384.8 719.5l.4 0 .4 0 .4 0 .4 0 .4-25.8.4 25.8.4-20.5.4 7.6M389.6 699l.4 7.6M391.2 706.6l.4-7.6M392.4 719.5l.4 0 .4-20.5.4 7.6.4 0M394.8 719.5l.4 0 .4-20.5.4 7.6.4 0 .4-12.9.4 12.9.4 12.9.4-12.9.4 12.9.4-20.5.4 0 .4 20.5.4-12.9.4-23.4.4 10.5.4 12.9.4-7.6.4 7.6.4 0 .4 12.9.4-30 .4 9.5.4-9.5.4 30 .4 0 .4-20.5.4-15.8.4 15.8.4 20.5.4-25.8.4-15.2.4 11 .4 30 .4-33.4.4 12.9.4-5.3.4 12.9.4-7.6.4-5.3.4 25.8.4-20.5.4 20.5.4-30 .4 9.5.4-9.5.4 4.2.4 5.3.4-12.9.4 7.6.4-10.5.4 6.3.4-3.4.4-7.6.4-3.7.4 44.7.4-41 .4 4.7.4-2.5.4 5.4.4 0 .4 0 .4-12.9.4 20.5.4-10.5.4-6.6.4 4.1.4-12.9.4-1.1.4 6.5.4 1.6.4-8.1.4-4.8.4 8.4.4-4.7.4-2.8.4.9.4 1.9.4 0 .4-13.4.4 5.2.4-5.2.4-4.5.4 10.4.4-3.2.4-4.1.4-9.4.4.3.4-1.1.4.3.4-4 .4-2.7.4-5 .4-1.7.4-5 .4-2.8.4-2.6.4-6.1.4-2.7.4-7 .4-4.6.4-5.8.4-5.7.4-8.5.4-9 .4-10.8.4-13.6.4-18 .4-25.6.4-30.2.1-1.7.3 19 .4 29.4.4 20.6.4 15 .4 11.8.4 9.6.4 8.3.4 6.7.4 6.7.4 5.4.4 4.7.4 5 .4 6.4.4.6.4 2.6.4 3.6.4 7.1.4 2.6.4 1.3.4 3.9.4 2.2.4 2.3.4-.9.4 3.1.4 3.8.4 3.6.4 4.5.4-.6.4 2.7.4-2.7.4 3.4.4 2.4.4-2.4.4 2.4.4 7.1.4-13.5.4 14.8.4-4.7.4 4.7.4 10.4.4-4.1.4-4.9.4 14.4.4 0 .4-14.4.4 0 .4 3.1.4 3.7.4 15.2.4-17.1.4 0 .4 6.6.4 0 .4-2.5.4 5.4.4 3.4.4 9.5.4-9.5.4 17.1.4-20.5.4 7.6.4 0M464 686.1l.4 7.6.4 5.3.4-18.3.4 13 .4 5.3M466.8 719.5l.4-33.4.4-2.9.4 0 .4 15.8.4 7.6.4-17.1.4 9.5.4 0 .4-5.3.4 0 .4 12.9M472 699l.4 20.5.4 0 .4 0 .4 0 .4 0 .4-12.9.4 0 .4 0 .4-7.6.4 0 .4 7.6.4 0 .4 12.9.4-12.9.4 12.9.4-12.9.4 12.9.4 0 .4-12.9.4 0M480.8 719.5l.4-20.5M482 706.6l.4-7.6M483.2 719.5l.4-20.5.4 20.5.4 0 .4-20.5.4-5.3M486 706.6l.4 0 .4 12.9.4 0M488 719.5l.4-20.5.4 20.5.4-12.9.4 12.9.4 0M490.8 719.5l.4-20.5.4 0M492.4 706.6l.4 12.9M493.6 719.5l.4 0M496.8 719.5l.4 0 .4 0 .4 0M504 719.5l.4 0 .4-12.9.4 12.9M507.6 706.6l.4 12.9.4-12.9M509.2 719.5l.4 0 .4-12.9M510.8 719.5l.4-20.5.4 7.6.4 12.9M512.8 719.5l.4 0M516 719.5l.4-25.8M517.6 719.5l.4 0M519.6 693.7l.4 12.9.4-7.6M522 719.5l.4 0 .4 0 .4 0 .4 0 .4-12.9M524.8 719.5l.4-12.9.4 0 .4 12.9.4 0 .4 0" />
<path fill="none" stroke="#14148e" stroke-width="0.7" stroke-linejoin="round" d="M351.9 749l.4 0M353.1 761.9l.4 0 .4 0 .4 0 .4-12.9M357.5 761.9l.4-12.9.4 12.9.4-12.9.4-7.6.4 0M364.7 761.9l.4 0 .4 0 .4 0M366.7 761.9l.4-12.9.4 0 .4 0M368.7 761.9l.4 0M371.9 761.9l.4-12.9M373.5 761.9l.4 0M375.5 761.9l.4 0M376.7 761.9l.4-12.9.4 12.9.4-12.9.4-7.6.4 20.5.4-12.9M379.9 736.1l.4 25.8.4 0 .4-20.5M382.3 761.9l.4 0 .4 0M385.5 749l.4-12.9.4 12.9.4 0 .4 12.9.4-20.5.4 20.5.4 0 .4-12.9.4 12.9M389.9 749l.4 12.9M391.1 761.9l.4-12.9.4 0M392.7 761.9l.4 0 .4-20.5M394.7 749l.4 12.9M396.3 749l.4-12.9.4 5.3.4 20.5M398.3 749l.4 12.9.4 0 .4-30M400.7 749l.4 12.9M401.9 761.9l.4-12.9.4 12.9.4-25.8.4 0 .4 5.3.4 20.5.4-20.5.4 7.6.4 0 .4 0 .4-12.9.4 12.9.4 12.9.4-12.9.4-7.6.4 20.5.4 0 .4-12.9M409.9 749l.4 0 .4 0M411.5 749l.4-12.9.4-7.6.4 33.4.4-20.5.4-5.3.4 0 .4-4.2.4 9.5.4-9.5.4 0 .4-12.9.4 12.9.4 17.1.4-20.5.4-2.9.4 10.5.4-10.5.4 10.5.4-17.1.4 4.1.4 0 .4 0 .4-4.1.4 9.5.4-9.5.4 9.5.4-17.1.4-3.4.4-1 .4 3.2.4 7 .4-10.2.4 7.1.4-9.8.4.9.4.9.4-4.9.4-3.9.4.6.4-2.8.4-.5.4 0 .4-2.8.4-3.2.4-3 .4.6.4-2.4.4-3.6.4-4.1.4-2 .4-3.9.4-4.1.4-1.2.4-3.3.4-3.7.4-5.3.4-5.5.4-3.9.4-5.7.4-6.9.4-6.3.4-8.6.4-10.4.4-12.2.4-15.7.4-21.7.4-30.8.2-13.7.2 4.9.4 31.6.4 24.1.4 17.2.4 13.1.4 10.5.4 8.8.4 6.6.4 6.8.4 6.2.4 5 .4 6.3.4 5.5.4 2.6.4 3.8.4 3.8.4 1.7.4 1.9.4 6.4.4 1.8.4 5.5.4 1.6.4 2.8.4-4.4.4 3.7.4 1.5.4 2.6.4-2.1.4 11.7.4-2.2.4-.7.4 0 .4 5.4.4 7.5.4-7.5.4-1.7.4 3.5.4 3.2.4 3.9.4 4.9.4 0 .4-3.4.4 1.6.4 1.8.4 1.9.4 7.6.4 0 .4 7.6.4-20.5.4 7.5.4 18.3.4-12.9.4-5.4.4 8.8.4 4.2.4-15.2.4 2.2.4 8.8.4 17.1.4 0 .4-12.9.4 5.3.4-5.3.4 5.3.4-12.9.4 20.5.4 0 .4 12.9.4-30 .4 17.1.4-12.9.4 12.9.4 0M468.3 749l.4 0M469.5 731.9l.4 9.5.4 0 .4 7.6.4-12.9.4 25.8.4-20.5.4 7.6.4 12.9.4-12.9.4 0M474.7 761.9l.4-12.9.4-7.6.4 0 .4 0M479.5 761.9l.4 0 .4 0 .4-12.9.4 0 .4 0 .4-12.9M482.7 749l.4-17.1M484.7 741.4l.4 20.5.4 0 .4-12.9.4 0 .4 0 .4 0M487.9 749l.4 12.9M489.5 761.9l.4 0 .4 0M491.1 761.9l.4 0 .4 0 .4-12.9.4 0 .4 12.9.4 0 .4-20.5.4-9.5.4 9.5.4 20.5.4-12.9M496.3 761.9l.4-12.9.4-7.6.4 7.6.4 12.9M498.7 761.9l.4 0 .4-12.9M500.7 761.9l.4 0 .4 0M502.3 761.9l.4-25.8.4 5.3M505.5 749l.4 12.9.4 0M507.5 761.9l.4-12.9.4 12.9M509.5 749l.4-7.6.4 0M511.1 761.9l.4 0 .4 0M512.7 749l.4 0M515.1 741.4l.4 20.5.4 0M516.7 761.9l.4 0 .4 0M518.7 761.9l.4 0M520.3 761.9l.4-12.9" />
</g>
<path d="M76.0,446.5V781.5H296.5M305.2,781.5H527.4" fill="none" stroke="#000" stroke-width="1.6"/>
<path d="M293.6,788.2L301.4,775.1M301.4,788.2L309.3,775.1" stroke="#000" stroke-width="1.3" fill="none"/>
<path d="M76.0,781.5h-6.5M76.0,768.6h-3.5M76.0,761h-3.5M76.0,755.7h-3.5M76.0,751.5h-3.5M76.0,748.1h-3.5M76.0,745.2h-3.5M76.0,742.7h-3.5M76.0,740.6h-3.5M76.0,738.6h-6.5M76.0,725.7h-3.5M76.0,718.1h-3.5M76.0,712.8h-3.5M76.0,708.6h-3.5M76.0,705.2h-3.5M76.0,702.3h-3.5M76.0,699.8h-3.5M76.0,697.6h-3.5M76.0,695.7h-6.5M76.0,682.8h-3.5M76.0,675.2h-3.5M76.0,669.8h-3.5M76.0,665.7h-3.5M76.0,662.3h-3.5M76.0,659.4h-3.5M76.0,656.9h-3.5M76.0,654.7h-3.5M76.0,652.8h-6.5M76.0,639.9h-3.5M76.0,632.3h-3.5M76.0,626.9h-3.5M76.0,622.8h-3.5M76.0,619.4h-3.5M76.0,616.5h-3.5M76.0,614h-3.5M76.0,611.8h-3.5M76.0,609.9h-6.5M76.0,596.9h-3.5M76.0,589.4h-3.5M76.0,584h-3.5M76.0,579.9h-3.5M76.0,576.5h-3.5M76.0,573.6h-3.5M76.0,571.1h-3.5M76.0,568.9h-3.5M76.0,567h-6.5M76.0,554h-3.5M76.0,546.5h-3.5M76.0,541.1h-3.5M76.0,537h-3.5M76.0,533.6h-3.5M76.0,530.7h-3.5M76.0,528.2h-3.5M76.0,526h-3.5M76.0,524h-6.5M76.0,511.1h-3.5M76.0,503.6h-3.5M76.0,498.2h-3.5M76.0,494h-3.5M76.0,490.6h-3.5M76.0,487.8h-3.5M76.0,485.3h-3.5M76.0,483.1h-3.5M76.0,481.1h-6.5M76.0,468.2h-3.5M76.0,460.7h-3.5M76.0,455.3h-3.5M76.0,451.1h-3.5M76.0,447.7h-3.5M96,781.5v6.5M136.1,781.5v3.5M176.2,781.5v6.5M216.3,781.5v3.5M256.4,781.5v6.5M349.6,781.5v6.5M394.1,781.5v3.5M438.5,781.5v6.5M483,781.5v3.5M527.4,781.5v6.5" fill="none" stroke="#000" stroke-width="1.3"/>
<text x="59.9" y="786.1" font-family="'Liberation Sans', Arial, sans-serif" font-size="11.5" text-anchor="end" fill="#1a1a1a">10</text>
<text x="60.7" y="778.2" font-family="'Liberation Sans', Arial, sans-serif" font-size="6.5" fill="#1a1a1a">0</text>
<text x="59.9" y="743.2" font-family="'Liberation Sans', Arial, sans-serif" font-size="11.5" text-anchor="end" fill="#1a1a1a">10</text>
<text x="60.7" y="735.3" font-family="'Liberation Sans', Arial, sans-serif" font-size="6.5" fill="#1a1a1a">1</text>
<text x="59.9" y="700.3" font-family="'Liberation Sans', Arial, sans-serif" font-size="11.5" text-anchor="end" fill="#1a1a1a">10</text>
<text x="60.7" y="692.4" font-family="'Liberation Sans', Arial, sans-serif" font-size="6.5" fill="#1a1a1a">2</text>
<text x="59.9" y="657.4" font-family="'Liberation Sans', Arial, sans-serif" font-size="11.5" text-anchor="end" fill="#1a1a1a">10</text>
<text x="60.7" y="649.5" font-family="'Liberation Sans', Arial, sans-serif" font-size="6.5" fill="#1a1a1a">3</text>
<text x="59.9" y="614.5" font-family="'Liberation Sans', Arial, sans-serif" font-size="11.5" text-anchor="end" fill="#1a1a1a">10</text>
<text x="60.7" y="606.6" font-family="'Liberation Sans', Arial, sans-serif" font-size="6.5" fill="#1a1a1a">4</text>
<text x="59.9" y="571.6" font-family="'Liberation Sans', Arial, sans-serif" font-size="11.5" text-anchor="end" fill="#1a1a1a">10</text>
<text x="60.7" y="563.7" font-family="'Liberation Sans', Arial, sans-serif" font-size="6.5" fill="#1a1a1a">5</text>
<text x="59.9" y="528.6" font-family="'Liberation Sans', Arial, sans-serif" font-size="11.5" text-anchor="end" fill="#1a1a1a">10</text>
<text x="60.7" y="520.7" font-family="'Liberation Sans', Arial, sans-serif" font-size="6.5" fill="#1a1a1a">6</text>
<text x="59.9" y="485.7" font-family="'Liberation Sans', Arial, sans-serif" font-size="11.5" text-anchor="end" fill="#1a1a1a">10</text>
<text x="60.7" y="477.8" font-family="'Liberation Sans', Arial, sans-serif" font-size="6.5" fill="#1a1a1a">7</text>
<text x="96" y="802.3" font-family="'Liberation Sans', Arial, sans-serif" font-size="12.6" text-anchor="middle" fill="#1a1a1a">-10000</text>
<text x="176.2" y="802.3" font-family="'Liberation Sans', Arial, sans-serif" font-size="12.6" text-anchor="middle" fill="#1a1a1a">-8000</text>
<text x="256.4" y="802.3" font-family="'Liberation Sans', Arial, sans-serif" font-size="12.6" text-anchor="middle" fill="#1a1a1a">-6000</text>
<text x="349.6" y="802.3" font-family="'Liberation Sans', Arial, sans-serif" font-size="12.6" text-anchor="middle" fill="#1a1a1a">-2000</text>
<text x="438.5" y="802.3" font-family="'Liberation Sans', Arial, sans-serif" font-size="12.6" text-anchor="middle" fill="#1a1a1a">0</text>
<text x="527.4" y="802.3" font-family="'Liberation Sans', Arial, sans-serif" font-size="12.6" text-anchor="middle" fill="#1a1a1a">2000</text>
<text transform="translate(22.6,612) rotate(-90)" font-family="'Liberation Sans', Arial, sans-serif" font-size="16" text-anchor="middle" textLength="121.4" lengthAdjust="spacingAndGlyphs" fill="#1a1a1a">Intensity (counts)</text>
<text x="250.2" y="828.6" font-family="'Liberation Serif', 'Times New Roman', serif" font-size="15.3" fill="#1a1a1a">ω–2θ<tspan font-family="'Liberation Sans', Arial, sans-serif" font-size="15.8"> (arcsec)</tspan></text>
<text x="274.3" y="849.2" font-family="'Liberation Serif', 'Times New Roman', serif" font-size="18.8" font-weight="bold" fill="#1a1a1a">(b)</text>
<text x="120.7" y="602.5" font-family="'Liberation Sans', Arial, sans-serif" font-size="15.3" textLength="31.5" lengthAdjust="spacingAndGlyphs" fill="#1a1a1a">InAs</text>
<text x="447.2" y="457.3" font-family="'Liberation Sans', Arial, sans-serif" font-size="15.6" textLength="77.9" lengthAdjust="spacingAndGlyphs" fill="#1a1a1a">GaAs(100)</text>
<text x="447.5" y="475.5" font-family="'Liberation Sans', Arial, sans-serif" font-size="15.6" textLength="64.5" lengthAdjust="spacingAndGlyphs" fill="#1a1a1a">substrate</text>
<rect x="91" y="445.1" width="137.2" height="44.4" fill="#fff" stroke="#777" stroke-width="1.2"/>
<line x1="98.6" x2="140" y1="457.2" y2="457.2" stroke="#cc3344" stroke-width="1.2"/>
<line x1="98.6" x2="140" y1="479.3" y2="479.3" stroke="#8080cc" stroke-width="1.2"/>
<text x="145.2" y="462.8" font-family="'Liberation Sans', Arial, sans-serif" font-size="16.0" textLength="75.1" lengthAdjust="spacingAndGlyphs" fill="#111">Sample J</text>
<text x="145.2" y="483.2" font-family="'Liberation Sans', Arial, sans-serif" font-size="16.0" textLength="76.4" lengthAdjust="spacingAndGlyphs" fill="#111">Sample K</text>
</svg></body></html>
